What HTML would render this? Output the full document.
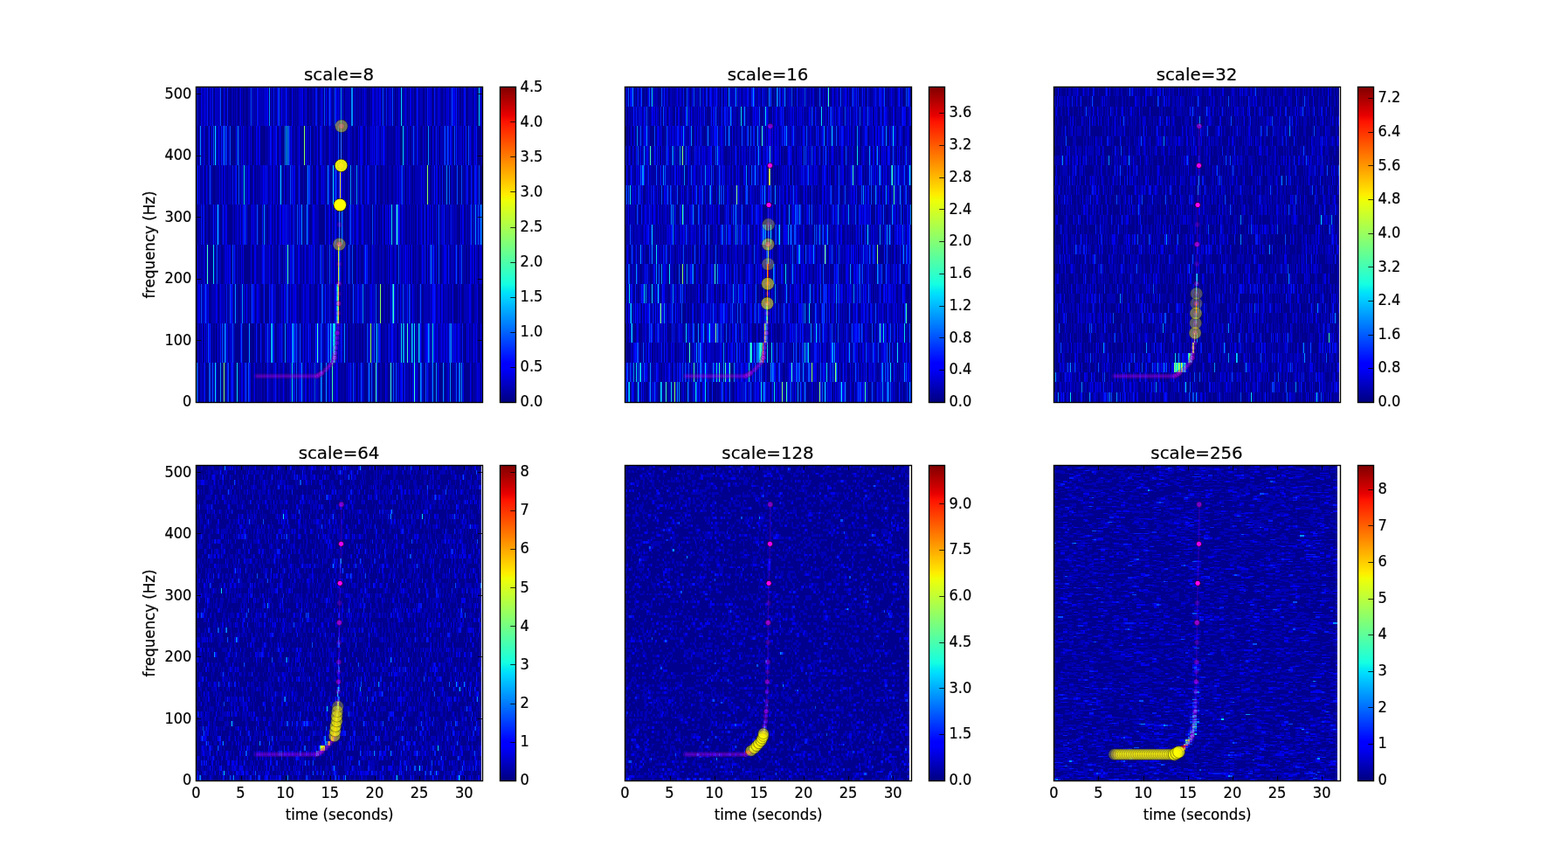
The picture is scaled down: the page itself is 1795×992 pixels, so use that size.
<!DOCTYPE html>
<html lang="en"><head><meta charset="utf-8"><title>scale spectrograms</title>
<style>html,body{margin:0;padding:0;background:#fff}body{width:1795px;height:992px;overflow:hidden}svg{display:block;position:absolute;left:0;top:0}text{font-family:"DejaVu Sans","Liberation Sans",sans-serif;font-size:16.67px;text-anchor:middle;fill:#000;stroke:#000;stroke-width:.2px}.e{text-anchor:end}.s{text-anchor:start}.t{font-size:20px}</style></head><body>
<svg width="1795" height="992" viewBox="0 0 1795 992">
<defs><linearGradient id="jet" x1="0" y1="1" x2="0" y2="0">
<stop offset="0" stop-color="#000080"/>
<stop offset=".11" stop-color="#00f"/>
<stop offset=".125" stop-color="#00f"/>
<stop offset=".34" stop-color="#00dbff"/>
<stop offset=".35" stop-color="#00e5f7"/>
<stop offset=".375" stop-color="#15ffe2"/>
<stop offset=".64" stop-color="#efff08"/>
<stop offset=".65" stop-color="#f7f600"/>
<stop offset=".66" stop-color="#ffec00"/>
<stop offset=".89" stop-color="#ff1300"/>
<stop offset=".91" stop-color="#e80000"/>
<stop offset="1" stop-color="#800000"/>
</linearGradient></defs>
<rect width="1795" height="992" fill="#fff"/>
<g id="p8">
<rect x="224.5" y="99.5" width="328" height="361" fill="#fff"/>
<clipPath id="c0"><rect x="224.5" y="99.5" width="328" height="361"/></clipPath>
<g clip-path="url(#c0)">
<g transform="translate(224 459.927) scale(1 -45.09091)" shape-rendering="crispEdges" fill="none">
<rect width="328" height="8" fill="#00008e"/>
<defs><path id="s0" d="M-2 .5H330V1.5H-2V2.5H330V3.5H-2V4.5H330V5.5H-2V6.5H330V7.5H-2"/></defs>
<use href="#s0" stroke="#0000b7" stroke-dashoffset="-2" stroke-dasharray="3 2 3 1 2 4 2 1 3 1 2 4 1 3 1 2 3 2 4 3 1 2 1 1 2 1 4 1 3 3 2 2 1 1 1 1 2 2 1 2 5 1 1 1 4 2 1 1 1 1 3 3 1 1 2 1 4 1 1 1 7 1 2 2 2 1 1 1 1 1 1 1 3 1 3 3 3 1 2 1 2 1 1 1 3 2 1 1 1 1 1 2 7 1 3 3 1 1 5 4 3 1 2 3 3 2 2 4 3 2 3 1 2 1 4 1 3 1 2 1 3 1 2 1 6 3 4 2 4 1 1 1 2 3 1 1 2 4 2 2 3 1 1 2 1 1 3 1 3 1 3 7 2 2 1 1 5 1 2 5 2 3 6 1 2 1 3 4 1 1 25 1 7 1 1 1 7 2 4 1 2 1 4 1 6 1 2 1 4 2 7 1 2 1 3 1 1 2 3 1 2 1 3 1 1 1 3 2 2 2 1 2 1 1 1 2 3 1 1 3 1 2 2 1 5 1 14 1 11 1 1 2 4 1 2 1 2 1 2 1 14 1 1 2 7 3 4 1 6 3 2 3 2 1 1 5 2 6 3 6 7 1 7 1 2 1 1 2 1 2 1 1 4 1 1 1 1 2 1 1 1 1 2 1 1 5 5 1 9 3 7 2 7 1 1 1 1 1 4 1 2 1 1 3 3 1 1 1 3 1 1 1 5 1 5 3 2 5 5 1 2 4 1 1 2 1 2 1 3 1 2 1 5 1 1 3 9 2 4 3 3 1 3 1 3 1 1 1 1 1 1 2 6 2 2 1 2 1 1 2 2 2 3 1 1 1 7 1 2 1 1 1 7 1 1 2 1 1 1 3 2 2 1 2 8 1 1 2 2 1 6 1 2 1 4 1 1 3 3 2 6 1 1 1 5 1 4 1 2 1 5 1 2 1 2 5 2 1 1 3 9 3 4 3 1 6 3 2 3 1 2 1 2 2 1 2 1 1 1 1 3 2 3 1 4 1 2 1 6 3 1 2 1 1 7 1 1 2 1 1 3 3 3 1 1 2 2 1 1 1 4 1 1 1 2 1 1 2 3 1 4 1 1 1 1 2 3 1 2 2 1 1 5 2 1 1 5 3 2 1 2 4 1 1 4 2 3 2 6 1 2 1 2 1 1 1 2 3 2 1 3 1 2 1 2 1 6 1 3 1 2 1 3 1 1 1 6 1 4 1 2 2 3 2 1 1 1 1 2 1 11 1 1 1 1 1 3 3 1 8 1 1 1 1 1 1 2 1 4 2 8 3 3 1 2 1 2 5 3 1 2 1 1 1 2 1 1 1 1 5 2 1 2 1 1 1 2 2 2 3 1 1 2 1 1 1 3 3 6 6 2 1 4 1 2 1 6 4 9 4 1 1 3 2 4 1 2 1 2 2 3 1 10 1 3 1 1 1 1 1 4 2 1 1 4 3 8 7 1 1 1 1 2 2 2 1 3 1 3 1 2 3 1 2 7 1 4 2 4 1 3 1 2 2 1 1 2 1 2 2 1 1 2 2 3 1 4 1 8 1 5 2 2 1 2 1 1 1 1 2 2 1 4 1 2 2 2 1 1 1 2 1 1 1 1 1 2 1 5 1 4 1 2 1 1 1 3 4 1 1 2 2 2 1 1 1 2 1 11 8 1 1 4 2 2 3 4 1 1 1 1 4 2 2 1 1 1 2 1 2 1 1 1 2 1 2 1 2 2 1 4 2 1 1 1 1 1 1 11 1 1 2 3 1 2 2 1 1 7 1 3 2 3 2 1 1 3 3 2 2 2 1 2 1 1 1 3 1 2 2 3 1 1 1 1 1 2 1 1 1 1 1 2 3 2 1 5 1 6 2 4 1 6 2 3 4 1 1 5 3 1 3 3 3 6 1 3 2 1 2 3 2 1 1 4 1 3 1 10 1 1 1 1 2 2 3 5 1 1 1 3 1 1 2 3 1 1 1 4 1 1 1 2 1 2 1 1 1 1 1 1 4 4 1 2 2 2 1 1 1 1 1 2 7 1 2 4 1 2 3 2 2 1 1 1 1 2 1 3 1 7 1 3 6 5 1 1 1 4 2 2 1 1 3 1 1 2 1 2 6 1 1 6 1 4 2 3 4 1 1 7 1 2 2 4 1 1 2 1 1 4 1 1 3 2 1 2 2 4 1 2 3 5 1 2 1 3 2 1 2 1 1 1 1 6 2 2 3 1 1 4 2 2 2 1 1 11 1 1 1 3 1 1 2 1 1 1 1 1 2 3 1 2 3 3 1 2 1 1 2 5 1 2 1 1 3 1 1 2 2 1 1 1 2 2 1 2 1 1 2 3 1 6 1 3 2 1 1 2 1 1 1 2 1 1 1 2 2 4 2 4 5 1 5 4 2 4 1 5 3 3 1 1 2 2 1 8 1 3 1 3 2 5 1 2 3 5 1 2 2 4 1 3 2 2 1 2 1 1 1 4 1 2 1 2 1 1 2 1 1 6 1 1 1 1 1 2 1 10 1 1 4 6 1 2 1 1 1 3 1 2 1 6 2 1 1 8 1 1 1 4 1 2 1 1 1 4 2 3 1 3 2 1 3 3 1 6 1 1 1 1 1 2 3 1 1 8 1 3 1 1 1 1 1 2 1 1 1 13 1 2 1 1 1 4 3 1 2 1 1 2 2 2 1 1 1 2 4 1 2 2 3 2 1 1 1 2 2 1 1 3 1 8 2 1 1 1 14"/>
<use href="#s0" stroke="#0000ed" stroke-dashoffset="-2" stroke-dasharray="3 6 2 4 2 2 1 2 2 4 1 3 1 3 2 2 3 4 1 4 2 2 2 2 3 4 1 14 1 6 1 1 1 3 1 4 1 7 1 1 1 1 1 2 1 3 3 3 2 3 1 1 1 1 1 1 1 1 1 4 2 4 1 2 2 2 1 1 1 1 3 12 1 1 1 2 1 1 1 3 1 2 2 6 2 2 1 4 2 9 1 5 1 2 1 2 1 2 1 1 3 2 1 8 4 1 1 3 2 4 1 1 1 4 2 3 1 1 1 5 1 5 1 1 1 6 1 2 2 1 1 1 1 7 1 7 1 1 1 2 1 6 1 4 1 2 1 5 1 1 1 4 1 3 2 2 2 1 1 1 3 2 1 2 1 2 1 4 1 2 3 1 1 1 5 5 3 4 1 1 2 2 1 1 1 3 2 1 1 5 1 3 3 1 1 9 3 1 2 1 1 1 1 1 1 1 1 1 1 22 1 2 1 2 2 2 1 1 1 1 6 1 3 5 2 2 4 5 1 1 2 1 1 2 1 3 1 3 1 1 5 1 1 1 1 2 1 3 1 1 1 6 4 1 1 1 1 1 1 5 1 4 1 7 1 8 2 8 1 1 1 3 1 1 2 2 1 1 1 2 1 8 3 1 1 1 1 2 1 6 1 8 2 1 1 3 3 1 1 8 2 3 1 6 1 3 3 3 1 7 1 1 1 2 1 5 3 3 2 6 1 5 1 1 3 1 1 7 1 2 2 1 2 2 1 2 1 1 2 8 1 3 1 1 1 10 1 3 2 2 1 2 1 1 1 5 5 8 1 7 1 2 1 1 2 2 1 1 1 8 2 2 1 1 1 4 1 11 1 1 3 3 1 2 1 2 1 4 1 1 2 2 1 8 1 10 1 1 5 3 1 2 2 11 1 8 1 9 2 7 1 10 1 1 1 4 1 2 1 1 2 9 1 1 1 3 2 7 1 2 3 5 1 2 1 2 2 1 2 2 1 2 1 1 2 11 1 2 1 1 1 1 2 1 1 2 1 1 1 3 1 4 1 2 1 17 1 5 4 8 1 4 1 3 1 3 1 5 3 4 1 2 1 1 1 7 1 1 2 6 1 1 2 1 1 4 1 6 2 4 2 1 2 2 1 1 1 7 1 6 1 3 1 5 3 7 2 3 1 8 1 1 1 7 1 1 1 2 2 1 1 1 1 9 1 3 1 6 1 3 1 6 1 1 1 11 1 1 2 10 1 1 1 1 3 4 1 2 2 12 1 2 1 2 3 1 1 5 1 1 1 3 1 5 1 1 1 6 2 5 1 3 2 1 3 1 1 1 1 2 1 3 1 3 1 1 1 1 2 5 2 5 2 12 1 3 2 2 1 2 2 3 1 2 2 7 2 2 1 3 2 4 2 10 1 2 1 8 1 2 1 1 1 1 2 1 1 4 5 2 1 16 1 4 1 3 1 2 2 1 1 2 1 3 1 2 1 3 1 1 1 7 1 1 1 8 1 1 2 7 2 4 1 2 1 1 3 8 1 2 3 3 1 3 2 5 1 4 1 5 1 2 1 2 1 4 1 2 1 2 2 1 1 7 1 3 1 2 1 13 1 5 1 1 2 1 1 2 1 23 2 6 3 1 1 4 1 2 1 1 1 6 1 9 4 2 3 1 1 4 2 4 1 1 1 4 2 4 1 2 3 9 1 4 2 1 1 1 1 6 1 3 2 2 1 3 1 2 1 3 1 1 1 1 2 10 1 4 2 2 1 1 1 1 1 3 1 2 2 2 1 8 1 2 1 2 1 10 1 3 1 3 1 3 1 1 1 8 1 3 1 3 1 5 1 2 1 1 1 1 2 2 1 2 1 1 2 1 2 3 1 6 1 1 1 3 1 1 1 6 1 1 1 5 2 1 2 11 2 2 1 1 2 3 1 5 1 1 1 1 2 1 1 8 1 5 1 1 1 4 1 7 1 2 2 9 1 9 1 2 1 8 1 10 1 1 3 4 1 4 1 1 1 1 1 2 1 1 1 2 1 1 3 13 1 1 1 4 1 4 1 6 1 3 2 5 1 5 1 4 1 3 1 1 1 6 2 2 2 1 2 3 1 1 1 2 1 1 1 2 1 2 1 2 1 1 1 4 1 1 1 5 1 6 1 1 1 4 1 10 2 8 1 1 4 3 1 1 1 8 1 4 1 3 1 1 1 1 1 10 2 6 2 4 1 4 1 2 1 6 1 2 1 3 1 3 1 2 2 2 1 3 2 8 1 13 2 9 1 1 1 2 1 1 3 4 3 2 1 1 1 2 1 5 2 10 1 3 2 1 1 8 1 5 2 4 1 2 3 3 1 4 1 1 2 1 1 7 2 4 1 1 1 11 1 14 1 3 1 3 2 1 1 1 1 3 1 1 1 3 1 2 1 3 1 4 1 14"/>
<use href="#s0" stroke="#0017ff" stroke-dashoffset="-2" stroke-dasharray="3 7 1 4 2 2 1 2 1 5 1 3 1 3 2 3 2 4 1 9 1 2 2 20 1 8 1 16 1 1 1 1 1 2 1 3 1 1 1 14 1 6 2 4 1 3 1 2 1 20 1 2 1 8 1 8 1 2 1 4 2 15 1 2 1 2 1 6 1 2 1 10 1 6 2 4 1 1 1 4 2 3 1 7 1 7 1 6 1 2 2 1 1 50 1 10 1 1 3 18 1 3 3 7 3 4 1 1 2 4 1 3 2 1 1 9 1 3 1 11 1 1 1 2 1 1 1 1 1 3 1 25 1 3 1 4 1 1 3 1 2 1 2 6 2 2 2 1 1 7 1 9 1 3 1 1 1 1 2 7 1 3 1 8 1 1 2 3 1 7 1 4 1 7 1 8 1 9 1 7 2 2 1 1 1 11 1 1 1 25 1 4 1 23 1 3 1 1 1 3 1 7 1 10 1 1 1 11 1 5 1 2 2 15 2 38 2 2 1 4 1 7 3 16 1 4 1 5 1 14 1 4 1 13 3 3 1 5 1 4 1 1 2 11 1 14 2 82 1 5 1 8 1 10 1 5 2 1 1 6 1 29 1 35 1 1 1 14 1 3 1 10 2 9 1 7 1 1 1 7 1 23 1 5 1 1 1 7 1 16 2 32 1 1 1 17 1 3 1 6 1 12 1 11 1 2 1 10 1 4 1 5 1 22 1 1 1 13 1 5 1 1 1 24 1 8 1 3 1 1 1 2 1 5 2 19 1 10 1 4 1 2 1 8 2 24 1 21 1 4 4 29 1 15 1 5 1 7 1 22 1 4 1 2 1 2 2 8 1 3 2 3 1 4 1 5 1 4 1 8 1 2 1 4 1 8 1 7 1 28 2 28 2 7 1 7 1 4 1 6 1 10 3 3 1 2 1 5 1 20 1 1 1 9 1 7 1 1 1 10 1 16 1 24 1 5 1 2 1 3 1 25 1 13 1 12 1 9 1 4 1 1 1 6 1 2 1 1 2 3 1 8 1 36 1 6 1 9 1 1 1 1 1 17 1 6 1 11 1 19 1 2 1 40 1 6 1 22 1 11 1 3 1 12 1 8 1 8 2 2 2 1 1 4 1 1 1 10 1 2 1 8 1 14 1 15 1 9 1 4 1 19 1 7 1 11 1 17 1 9 1 6 1 3 1 34 2 11 1 6 1 5 1 5 1 8 2 33 1 7 2 4 1 4 1 13 1 6 1 26 1 7 1 8 1 5 1 11 1 14"/>
<use href="#s0" stroke="#004dff" stroke-dashoffset="-2" stroke-dasharray="2 13 2 2 1 2 1 5 1 3 1 4 1 9 1 9 1 2 1 49 1 4 1 5 1 14 1 6 2 4 1 6 1 23 1 8 1 8 1 2 1 4 1 16 1 2 1 2 1 20 1 6 2 4 1 7 1 3 1 7 1 7 1 6 1 2 2 1 1 63 3 18 1 3 2 9 2 4 1 1 2 4 1 3 2 1 1 25 1 1 1 2 1 3 1 3 1 25 1 10 3 1 2 1 2 7 1 3 1 19 1 3 1 1 1 1 2 7 1 14 2 3 1 20 1 8 1 9 1 7 2 2 1 15 1 25 1 4 1 27 1 5 1 7 1 10 1 39 1 39 2 15 3 16 1 10 1 14 1 4 1 13 2 10 1 6 1 12 1 98 1 5 1 19 1 8 1 36 1 37 1 14 1 3 1 10 2 9 1 9 1 31 1 5 1 62 1 17 1 3 1 6 1 43 1 30 1 13 1 7 1 37 1 4 1 5 1 36 1 2 1 9 1 24 1 21 1 4 3 46 1 36 1 4 1 2 1 2 2 8 1 19 1 4 1 8 1 2 1 21 1 28 1 51 1 6 1 11 1 4 1 2 1 5 1 20 1 1 1 19 1 10 1 41 1 5 1 32 1 26 1 14 1 1 1 9 1 1 1 4 1 8 1 53 1 1 1 1 1 17 1 38 1 2 1 70 1 11 1 16 1 18 1 2 1 7 1 15 1 23 1 30 1 57 1 9 1 10 1 34 2 11 1 6 1 5 1 5 1 51 1 10 1 20 1 34 1 41"/>
<use href="#s0" stroke="#008fff" stroke-dashoffset="-2" stroke-dasharray="2 20 1 5 1 3 1 14 1 62 1 10 1 21 1 5 1 6 1 41 1 7 1 16 1 26 1 6 1 13 1 3 1 7 1 7 1 10 1 1 1 63 1 20 1 4 1 10 1 4 1 2 1 4 1 3 2 1 1 27 1 6 1 29 1 10 3 2 1 14 1 27 1 8 1 14 2 24 1 27 1 83 1 7 1 107 3 27 1 19 1 13 2 164 1 104 2 57 1 84 1 6 1 43 1 52 1 42 1 5 1 36 1 2 1 56 1 5 1 89 1 5 1 46 1 21 1 80 1 6 1 11 1 7 1 5 1 22 1 30 1 41 1 65 1 16 1 9 1 15 1 53 1 1 1 1 1 17 1 41 1 70 1 28 1 69 1 88 1 55 2 11 1 81 1 97"/>
<use href="#s0" stroke="#05dbf6" stroke-dashoffset="-24" stroke-dasharray="1 9 1 14 1 62 1 45 1 49 1 16 1 26 1 138 1 15 1 4 1 2 1 4 1 6 1 27 1 6 1 40 3 2 1 14 1 27 1 23 1 254 2 47 1 14 1 270 1 57 1 84 1 6 1 43 1 198 1 5 1 164 1 99 1 7 1 59 1 41 1 82 1 81 1 19 1 112 1 98 1 88 1 270"/>
<use href="#s0" stroke="#3effb9" stroke-dashoffset="-34" stroke-dasharray="1 123 1 49 1 16 1 26 1 167 1 41 1 60 1 306 2 47 1 14 1 270 1 57 1 91 1 248 1 164 1 99 1 294 1 581"/>
<use href="#s0" stroke="#8cff6b" stroke-dashoffset="-34" stroke-dasharray="1 427 1 368 1 47 1 285 1 563 1 99 1 294 1 581"/>
<use href="#s0" stroke="#e0f719" stroke-dashoffset="-831" stroke-dasharray="1 333 1 663 1 1673"/>
</g>
<path d="M293.4 430.3L296 430.3L298.5 430.3L301.1 430.3L303.6 430.3L306.2 430.3L308.8 430.3L311.3 430.3L313.9 430.3L316.4 430.3L319 430.3L321.5 430.3L324.1 430.3L326.7 430.3L329.2 430.3L331.8 430.3L334.3 430.3L336.9 430.3L339.4 430.3L342 430.3L344.6 430.3L347.1 430.3L349.7 430.3L352.2 430.3L354.8 430.3L357.4 430.3L359.9 430.3L362.5 430.3L365 428.9L367.6 427.5L368.9 426.1L372.7 423.3L375.3 420.5L377.8 417.7L380.4 414.8L381.6 412L382.9 409.2L382.9 409.2L382.9 406.4L383.6 403.6L384.2 397.9L385.5 392.3L385.5 386.7L386.1 381L386.1 381L386.8 375.4L386.8 369.7L387.1 358.5L387.4 347.2L387.4 347.2L387.7 335.9L387.9 324.7L388.2 302.1L388.4 279.6L388.4 279.6L388.7 257L389.2 234.5L390.5 189.4L390.8 144.3" fill="none" stroke="#f0f" stroke-opacity=".16" stroke-width="1.2"/>
<g fill="#f0f" stroke="#000" stroke-width=".7">
<circle cx="293.4" cy="430.3" r="3.1" fill-opacity=".12" stroke-opacity=".12"/>
<circle cx="296" cy="430.3" r="3.1" fill-opacity=".12" stroke-opacity=".12"/>
<circle cx="298.5" cy="430.3" r="3.1" fill-opacity=".12" stroke-opacity=".12"/>
<circle cx="301.1" cy="430.3" r="3.1" fill-opacity=".12" stroke-opacity=".12"/>
<circle cx="303.6" cy="430.3" r="3.1" fill-opacity=".12" stroke-opacity=".12"/>
<circle cx="306.2" cy="430.3" r="3.1" fill-opacity=".12" stroke-opacity=".12"/>
<circle cx="308.8" cy="430.3" r="3.1" fill-opacity=".12" stroke-opacity=".12"/>
<circle cx="311.3" cy="430.3" r="3.1" fill-opacity=".12" stroke-opacity=".12"/>
<circle cx="313.9" cy="430.3" r="3.1" fill-opacity=".12" stroke-opacity=".12"/>
<circle cx="316.4" cy="430.3" r="3.1" fill-opacity=".12" stroke-opacity=".12"/>
<circle cx="319" cy="430.3" r="3.1" fill-opacity=".12" stroke-opacity=".12"/>
<circle cx="321.5" cy="430.3" r="3.1" fill-opacity=".12" stroke-opacity=".12"/>
<circle cx="324.1" cy="430.3" r="3.1" fill-opacity=".12" stroke-opacity=".12"/>
<circle cx="326.7" cy="430.3" r="3.1" fill-opacity=".12" stroke-opacity=".12"/>
<circle cx="329.2" cy="430.3" r="3.1" fill-opacity=".12" stroke-opacity=".12"/>
<circle cx="331.8" cy="430.3" r="3.1" fill-opacity=".12" stroke-opacity=".12"/>
<circle cx="334.3" cy="430.3" r="3.1" fill-opacity=".12" stroke-opacity=".12"/>
<circle cx="336.9" cy="430.3" r="3.1" fill-opacity=".12" stroke-opacity=".12"/>
<circle cx="339.4" cy="430.3" r="3.1" fill-opacity=".12" stroke-opacity=".12"/>
<circle cx="342" cy="430.3" r="3.1" fill-opacity=".12" stroke-opacity=".12"/>
<circle cx="344.6" cy="430.3" r="3.1" fill-opacity=".12" stroke-opacity=".12"/>
<circle cx="347.1" cy="430.3" r="3.1" fill-opacity=".12" stroke-opacity=".12"/>
<circle cx="349.7" cy="430.3" r="3.1" fill-opacity=".12" stroke-opacity=".12"/>
<circle cx="352.2" cy="430.3" r="3.1" fill-opacity=".12" stroke-opacity=".12"/>
<circle cx="354.8" cy="430.3" r="3.1" fill-opacity=".12" stroke-opacity=".12"/>
<circle cx="357.4" cy="430.3" r="3.1" fill-opacity=".12" stroke-opacity=".12"/>
<circle cx="359.9" cy="430.3" r="3.1" fill-opacity=".12" stroke-opacity=".12"/>
<circle cx="362.5" cy="430.3" r="3.1" fill-opacity=".27" stroke-opacity=".27"/>
<circle cx="365" cy="428.9" r="3.1" fill-opacity=".27" stroke-opacity=".27"/>
<circle cx="367.6" cy="427.5" r="3.1" fill-opacity=".27" stroke-opacity=".27"/>
<circle cx="368.9" cy="426.1" r="2.9" fill-opacity=".22" stroke-opacity=".22"/>
<circle cx="372.7" cy="423.3" r="2.9" fill-opacity=".24" stroke-opacity=".24"/>
<circle cx="375.3" cy="420.5" r="2.9" fill-opacity=".24" stroke-opacity=".24"/>
<circle cx="377.8" cy="417.7" r="2.9" fill-opacity=".24" stroke-opacity=".24"/>
<circle cx="380.4" cy="414.8" r="2.9" fill-opacity=".24" stroke-opacity=".24"/>
<circle cx="381.6" cy="412" r="2.9" fill-opacity=".24" stroke-opacity=".24"/>
<circle cx="382.9" cy="409.2" r="2.9" fill-opacity=".22" stroke-opacity=".22"/>
<circle cx="382.9" cy="406.4" r="2.9" fill-opacity=".2" stroke-opacity=".2"/>
<circle cx="382.9" cy="409.2" r="2.9" fill-opacity=".23" stroke-opacity=".23"/>
<circle cx="383.6" cy="403.6" r="2.9" fill-opacity=".27" stroke-opacity=".27"/>
<circle cx="384.2" cy="397.9" r="2.9" fill-opacity=".27" stroke-opacity=".27"/>
<circle cx="385.5" cy="392.3" r="2.9" fill-opacity=".25" stroke-opacity=".25"/>
<circle cx="385.5" cy="386.7" r="2.9" fill-opacity=".25" stroke-opacity=".25"/>
<circle cx="386.1" cy="381" r="2.9" fill-opacity=".2" stroke-opacity=".2"/>
<circle cx="386.8" cy="375.4" r="2.9" fill-opacity=".14" stroke-opacity=".14"/>
<circle cx="386.1" cy="381" r="2.9" fill-opacity=".25" stroke-opacity=".25"/>
<circle cx="386.8" cy="369.7" r="2.9" fill-opacity=".2" stroke-opacity=".2"/>
<circle cx="387.1" cy="358.5" r="2.9" fill-opacity=".23" stroke-opacity=".23"/>
<circle cx="387.4" cy="347.2" r="2.9" fill-opacity=".15" stroke-opacity=".15"/>
<circle cx="387.7" cy="335.9" r="2.9" fill-opacity=".17" stroke-opacity=".17"/>
<circle cx="387.4" cy="347.2" r="3" fill-opacity=".3" stroke-opacity=".3"/>
<circle cx="387.9" cy="324.7" r="3" fill-opacity=".3" stroke-opacity=".3"/>
<circle cx="388.2" cy="302.1" r="3" fill-opacity=".17" stroke-opacity=".17"/>
<circle cx="388.4" cy="279.6" r="3" fill-opacity=".25" stroke-opacity=".25"/>
<circle cx="388.7" cy="257" r="3" fill-opacity=".17" stroke-opacity=".17"/>
<circle cx="388.4" cy="279.6" r="3.1" fill-opacity=".4" stroke-opacity=".4"/>
<circle cx="389.2" cy="234.5" r="3.1" fill-opacity="1" stroke-opacity="1"/>
<circle cx="390.5" cy="189.4" r="3.1" fill-opacity=".9" stroke-opacity=".9"/>
<circle cx="390.8" cy="144.3" r="3.1" fill-opacity=".45" stroke-opacity=".45"/>
</g><g fill="#ff0" stroke="#000" stroke-width=".9">
<circle cx="388.4" cy="279.6" r="7.3" fill-opacity=".4" stroke-opacity=".28"/>
<circle cx="389.2" cy="234.5" r="7.3" fill-opacity="1" stroke-opacity=".7"/>
<circle cx="390.5" cy="189.4" r="7.3" fill-opacity=".9" stroke-opacity=".63"/>
<circle cx="390.8" cy="144.3" r="7.3" fill-opacity=".45" stroke-opacity=".32"/>
</g>
</g>
<path d="M224.5 389.5h5.6 M552.5 389.5h-5.6 M224.5 319.5h5.6 M552.5 319.5h-5.6 M224.5 248.5h5.6 M552.5 248.5h-5.6 M224.5 178.5h5.6 M552.5 178.5h-5.6 M224.5 107.5h5.6 M552.5 107.5h-5.6" stroke="#000" stroke-width=".8" fill="none"/>
<rect x="224.5" y="99.5" width="328" height="361" fill="none" stroke="#000" stroke-width="1.39"/>
<text transform="translate(388.04 92.2) scale(.99 1)" class="t">scale=8</text>
<text transform="translate(219.44 465) scale(.975 1.06)" class="e">0</text>
<text transform="translate(219.44 395) scale(.975 1.06)" class="e">100</text>
<text transform="translate(219.44 324) scale(.975 1.06)" class="e">200</text>
<text transform="translate(219.44 254) scale(.975 1.06)" class="e">300</text>
<text transform="translate(219.44 183) scale(.975 1.06)" class="e">400</text>
<text transform="translate(219.44 113) scale(.975 1.06)" class="e">500</text>
<text transform="translate(176.78 280.06) rotate(-90) scale(1 1.06)">frequency (Hz)</text>
<rect x="572.5" y="99.5" width="18" height="361" fill="url(#jet)"/>
<text transform="translate(595.54 465) scale(.975 1.06)" class="s">0.0</text>
<text transform="translate(595.54 425) scale(.975 1.06)" class="s">0.5</text>
<text transform="translate(595.54 385) scale(.975 1.06)" class="s">1.0</text>
<text transform="translate(595.54 345) scale(.975 1.06)" class="s">1.5</text>
<text transform="translate(595.54 305) scale(.975 1.06)" class="s">2.0</text>
<text transform="translate(595.54 265) scale(.975 1.06)" class="s">2.5</text>
<text transform="translate(595.54 225) scale(.975 1.06)" class="s">3.0</text>
<text transform="translate(595.54 185) scale(.975 1.06)" class="s">3.5</text>
<text transform="translate(595.54 145) scale(.975 1.06)" class="s">4.0</text>
<text transform="translate(595.54 105) scale(.975 1.06)" class="s">4.5</text>
<path d="M590.5 420.5h-6.2 M590.5 380.5h-6.2 M590.5 340.5h-6.2 M590.5 300.5h-6.2 M590.5 260.5h-6.2 M590.5 219.5h-6.2 M590.5 179.5h-6.2 M590.5 139.5h-6.2" stroke="#000" stroke-width=".8" fill="none"/>
<rect x="572.5" y="99.5" width="18" height="361" fill="none" stroke="#000" stroke-width="1.39"/>
</g>
<g id="p16">
<rect x="715.5" y="99.5" width="328" height="361" fill="#fff"/>
<clipPath id="c1"><rect x="715.5" y="99.5" width="328" height="361"/></clipPath>
<g clip-path="url(#c1)">
<g transform="translate(715 459.927) scale(1 -22.54545)" shape-rendering="crispEdges" fill="none">
<rect width="328" height="16" fill="#00008e"/>
<defs><path id="s1" d="M-2 .5H330V1.5H-2V2.5H330V3.5H-2V4.5H330V5.5H-2V6.5H330V7.5H-2V8.5H330V9.5H-2V10.5H330V11.5H-2V12.5H330V13.5H-2V14.5H330V15.5H-2"/></defs>
<use href="#s1" stroke="#0000b7" stroke-dashoffset="-2" stroke-dasharray="3 1 2 2 3 2 1 1 3 1 1 1 1 1 1 3 11 3 2 1 1 1 2 2 4 1 1 1 1 1 2 1 1 2 3 1 1 2 2 3 3 1 6 2 4 2 2 3 1 4 1 2 1 1 3 2 3 1 2 1 1 3 1 1 5 1 1 1 5 1 4 1 7 1 2 1 8 2 2 1 1 1 2 1 7 2 6 1 2 1 2 1 1 2 2 1 4 4 1 1 2 1 1 1 1 2 5 1 3 1 5 2 1 1 1 1 1 1 9 4 2 3 1 1 13 4 4 2 4 1 10 1 3 1 1 1 1 3 2 1 2 2 1 1 1 1 3 5 13 1 1 1 4 2 8 1 4 1 1 2 1 1 3 1 4 2 1 1 2 1 1 1 1 1 1 1 3 1 2 1 1 3 2 1 3 2 1 2 6 1 3 1 2 1 6 1 1 2 4 1 8 1 4 1 15 1 1 3 6 1 7 4 2 2 7 1 2 1 2 1 3 1 16 4 6 1 2 1 1 1 4 1 6 1 1 1 12 1 3 1 2 1 6 1 2 1 3 1 1 1 3 2 8 1 2 2 1 1 6 1 3 2 5 1 4 1 3 2 1 1 3 1 4 6 2 5 2 1 7 2 1 1 2 1 2 1 2 1 1 2 1 1 2 1 5 2 1 1 3 3 4 3 1 1 6 1 1 3 2 2 6 1 7 1 1 1 9 1 8 1 1 1 1 2 2 1 3 1 2 1 2 1 2 1 1 1 3 2 5 1 3 1 11 1 1 4 3 2 2 2 8 1 3 1 1 2 5 2 1 1 3 1 5 2 12 2 4 2 1 1 6 1 4 1 4 1 3 1 3 1 7 2 2 1 3 1 15 1 1 1 7 2 1 2 3 1 5 1 1 1 7 1 1 7 2 1 2 1 7 1 1 2 2 1 1 1 3 2 11 1 2 2 1 3 1 1 3 2 14 2 6 1 4 1 1 2 1 1 1 1 4 1 7 2 8 2 7 1 3 1 2 1 11 1 1 1 5 1 1 4 1 2 1 1 2 2 7 1 2 2 2 5 3 2 3 1 1 1 2 2 1 1 3 1 2 2 1 1 1 1 1 2 20 2 5 2 2 3 3 1 6 1 1 1 7 1 1 1 1 1 1 5 2 1 1 1 2 1 6 2 7 1 5 4 3 3 3 1 1 2 1 7 3 1 5 1 1 1 4 1 1 2 2 1 8 1 2 1 1 1 12 1 6 1 2 1 4 1 1 4 2 2 1 2 2 2 2 2 1 1 8 1 1 1 8 1 11 1 1 1 7 1 1 2 5 2 2 1 4 2 4 1 12 1 2 1 4 1 1 1 1 2 7 1 5 2 1 1 1 2 6 1 1 2 3 3 1 1 6 2 5 1 1 1 2 2 3 2 1 1 2 1 2 1 2 1 1 2 3 2 6 3 5 1 3 2 4 1 3 1 7 1 1 1 5 1 6 1 3 1 1 2 3 4 1 5 2 4 5 1 3 2 9 1 5 2 4 1 1 1 1 2 1 1 4 1 4 1 1 1 8 1 7 1 2 1 3 1 4 1 2 1 1 1 3 1 5 2 1 2 2 2 3 1 5 1 2 2 2 2 6 1 1 1 2 2 5 1 1 4 2 1 1 1 3 2 1 1 1 3 1 4 1 3 2 1 1 1 3 1 5 1 6 1 1 1 9 2 2 2 2 2 1 1 1 3 9 1 1 2 1 2 2 1 2 1 1 1 1 2 1 1 1 2 2 1 6 1 8 3 1 1 5 2 3 1 2 1 2 2 3 1 1 1 6 2 1 1 1 2 6 1 1 7 3 1 2 1 1 1 1 1 1 1 2 1 1 3 1 1 5 1 1 3 3 1 1 1 2 2 1 1 5 2 5 2 1 3 1 3 1 1 1 2 1 1 6 3 3 2 2 1 1 3 11 1 14 1 1 3 2 1 2 2 3 3 10 2 8 1 2 1 4 1 1 2 3 2 1 1 1 1 3 2 1 1 2 2 7 1 2 2 6 1 2 1 3 2 2 1 5 2 2 1 1 1 1 1 1 4 6 1 1 2 1 3 4 1 2 2 8 1 2 1 2 1 3 1 2 1 1 2 1 1 2 1 3 3 6 1 4 1 2 1 4 1 1 2 7 5 6 1 4 1 1 1 2 2 2 2 1 2 1 1 2 1 1 6 2 2 3 2 11 1 1 2 1 1 1 1 4 1 5 1 3 1 1 1 1 1 2 2 6 3 3 1 1 2 1 1 1 2 12 2 8 2 1 1 1 1 2 1 1 1 1 1 1 2 6 5 1 1 2 1 3 1 1 1 1 3 7 2 5 4 1 1 5 1 6 1 2 3 4 1 1 2 2 2 2 2 2 1 2 3 5 2 1 3 3 2 1 1 1 1 2 1 1 1 3 1 1 1 1 1 1 2 5 2 3 1 2 1 3 1 3 1 1 1 5 4 2 1 4 1 1 1 2 2 3 2 3 1 1 6 1 1 2 1 4 1 3 1 1 1 1 1 1 1 8 1 3 1 2 1 1 1 2 1 2 1 1 1 9 1 5 1 6 1 4 1 4 1 2 1 1 1 3 1 1 1 3 2 2 3 5 3 4 1 1 1 1 1 4 2 2 1 3 1 1 1 7 1 3 1 1 2 3 1 2 1 7 2 5 3 2 1 4 2 7 1 3 1 4 1 3 1 1 1 2 5 4 2 1 1 1 1 3 2 3 1 3 2 1 1 1 1 1 1 5 1 2 3 3 1 2 1 1 2 1 1 3 1 1 1 2 2 2 1 4 1 1 1 6 1 2 1 2 1 8 1 1 2 13 1 5 5 2 1 2 1 1 1 1 2 1 1 3 1 5 1 3 3 1 1 2 1 5 1 1 5 14 2 2 1 1 1 1 1 1 1 3 1 5 1 6 1 4 2 3 1 2 1 1 1 4 1 1 1 2 1 2 1 4 1 2 2 12 2 2 2 4 2 3 1 2 3 4 1 2 5 10 1 3 1 2 1 2 2 3 1 8 1 1 2 6 5 2 2 4 1 3 1 3 4 1 1 3 4 6 1 4 1 2 1 2 4 2 1 4 1 2 1 4 1 2 1 2 2 4 1 9 1 2 3 2 2 6 1 2 1 2 6 2 1 1 1 1 1 6 1 4 1 1 3 5 1 1 1 4 1 1 1 1 2 1 2 6 1 2 1 1 1 4 3 2 1 1 2 3 1 1 2 2 1 3 2 5 2 1 1 1 2 4 4 1 2 1 1 4 1 1 1 4 3 2 1 5 1 2 3 4 1 6 1 2 1 1 1 7 2 4 3 2 1 2 1 6 2 2 2 2 1 6 1 1 4 3 1 1 2 1 2 1 1 1 1 1 2 2 3 2 1 9 2 3 1 3 3 3 1 1 1 8 1 1 3 1 1 3 1 5 2 1 2 1 1 3 1 2 2 2 1 2 1 2 2 2 1 9 2 4 1 2 1 1 5 5 1 17 1 2 1 5 1 4 1 1 1 9 1 1 2 1 2 6 1 9 1 2 2 4 1 2 1 3 4 1 1 1 2 5 4 6 1 3 1 3 1 8 1 3 2 1 3 1 1 5 1 1 1 1 1 1 2 1 2 1 3 2 2 4 1 3 1 2 1 6 2 1 2 4 4 2 1 2 2 2 2 4 2 10 3 1 1 1 1 11 1 3 1 7 1 2 3 1 1 2 1 4 1 2 1 3 1 9 1 2 1 3 1 1 1 1 1 2 1 3 1 11 2 1 1 3 2 2 7 2 2 3 2 2 2 3 1 2 1 8 1 2 2 3 1 1 1 1 2 1 1 1 1 5 1 1 1 2 1 1 1 3 1 1 1 3 1 2 1 4 2 1 1 14 1 5 2 1 1 10 4 1 1 2 1 2 1 3 2 1 1 3 1 2 1 2 1 1 1 3 1 2 1 4 2 9 1 2 1 6 1 1 2 1 4 6 2 2 2 1 1 3 2 1 1 4 1 1 1 5 2 3 3 1 1 3 1 1 2 4 1 1 1 2 2 4 2 3 1 2 1 3 3 1 1 1 2 5 1 1 1 3 2 2 2 2 1 1 2 5 1 4 2 4 2 1 1 2 1 2 1 3 1 1 1 2 7 5 3 5 2 6 1 1 2 2 1 8 1 2 2 5 2 6 3 1 1 1 3 3 1 1 1 2 1 1 1 7 1 2 1 1 1 8 2 5 1 4 2 1 1 3 1 3 1 4 1 2 1 1 1 6 1 12 1 6 1 6 1 1 1 4 2 4 2 2 1 2 2 3 1 5 1 3 1 2 2 1 2 3 1 2 1 6 1 5 1 3 1 4 3 1 1 5 1 2 3 3 1 1 1 7 1 5 1 3 1 5 1 1 3 2 1 3 2 1 5 8 1 4 1 1 2 2 2 1 2 1 10 1 2 2 1 1 1 5 1 1 1 3 1 3 1 1 1 1 2 5 1 3 2 1 2 4 2 5 3 1 2 2 3 2 1 3 1 2 1 2 1 4 1 1 1 6 1 1 4 2 1 5 1 1 2 2 1 5 1 4 1 4 2 2 1 1 2 3 1 3 3 9 4 6 4 1 1 4 1 7 2 1 1 7 1 1 1 2 1 3 1 1 1 1 1 1 1 3 1 2 2 3 1 1 1 2 1 2 1 1 2 1 1 4 1 2 1 7 2 1 1 3 1 1 1 1 1 6 1 1 1 1 1 11 2 4 2 3 1 6 3 1 1 2 2 5 1 5 2 4 6 3 1 1 4 1 1 4 3 6 2 1 2 7 1 5 1 1 2 1 1 1 3 1 1 2 3 1 1 6 3 1 1 6 1 2 1 4 1 3 3 2 2 1 1 1 2 2 1 1 4 3 1 1 1 1 1 1 1 1 1 5 1 2 2 1 2 1 1 4 1 5 1 2 1 2 2 1 3 3 2 1 1 1 1 2 1 3 1 1 1 5 1 1 1 6 1 1 1 2 1 1 1 9 2 3 2 1 2 1 1 5 1 4 2 2 2 3 1 1 1 4 1 3 3 3 3 1 1 3 1 4 1 1 1 3 2 2 1 5 4 3 1 1 1 2 1 3 2 1 3 3 1 2 1 1 1 5 1 4 14"/>
<use href="#s1" stroke="#0000ed" stroke-dashoffset="-2" stroke-dasharray="3 1 2 2 3 4 2 2 1 1 1 6 2 2 1 1 2 5 2 4 1 5 1 3 1 1 2 1 1 4 1 4 2 5 1 1 3 1 1 3 4 2 1 4 1 9 3 2 2 3 1 5 1 2 2 1 1 1 1 1 1 1 2 2 1 1 1 4 1 1 3 1 2 1 4 3 1 3 1 1 1 1 2 2 1 2 1 4 2 2 2 1 1 2 1 2 1 2 2 3 2 6 1 8 2 1 1 2 2 1 1 1 1 1 1 4 1 1 1 1 1 1 6 5 1 4 1 2 6 1 1 1 1 1 1 5 1 5 1 1 1 1 1 1 1 4 3 1 1 1 1 1 1 5 1 8 1 2 2 5 1 1 2 1 3 11 1 3 1 2 2 1 1 2 3 6 1 1 1 1 1 1 1 3 1 1 1 2 1 3 1 1 2 5 1 4 1 2 1 3 1 2 3 2 1 1 2 3 1 1 3 2 1 4 4 1 1 1 3 4 2 3 5 1 1 1 5 10 2 3 6 5 1 4 1 1 1 1 1 1 2 1 2 3 1 1 3 2 3 3 1 1 1 1 1 4 6 1 1 2 1 1 4 1 3 4 1 1 4 2 4 1 1 3 1 2 1 2 1 2 2 2 1 1 3 1 1 3 1 4 2 3 1 7 3 6 1 3 4 1 1 1 2 1 1 1 1 2 1 1 1 1 1 2 3 16 6 5 1 2 1 2 2 1 1 11 1 2 1 2 1 4 1 2 1 10 1 1 1 4 1 5 1 1 1 1 6 2 1 2 1 1 1 11 2 2 1 1 1 2 2 1 3 1 1 2 2 1 2 1 1 2 1 3 1 1 3 1 3 1 10 2 1 4 1 1 1 3 1 2 1 1 1 1 1 11 1 2 1 3 1 2 2 1 1 1 3 6 3 1 1 2 1 2 1 1 1 5 6 1 1 1 1 5 1 3 1 1 2 4 3 1 1 5 2 2 2 1 1 4 3 3 1 3 1 1 3 1 1 2 1 2 1 5 1 5 2 2 1 3 1 7 1 5 1 2 1 1 1 2 1 2 2 3 3 2 2 1 1 1 4 4 1 2 1 5 1 1 1 2 2 2 7 1 1 5 1 9 1 2 1 3 1 1 1 4 1 1 3 2 1 2 2 1 1 3 1 8 2 1 2 1 1 1 1 1 1 1 1 1 2 4 1 1 1 13 1 4 5 7 1 6 1 3 1 1 1 1 1 1 2 2 1 1 3 1 2 2 1 3 1 3 1 1 1 2 5 1 8 3 4 2 1 4 3 3 1 2 1 5 1 1 1 5 1 1 1 6 1 1 1 2 1 1 1 1 2 1 1 3 4 3 1 8 2 5 2 1 1 11 1 2 1 1 2 2 1 1 1 1 2 1 1 2 1 2 2 1 3 3 1 2 1 1 1 2 4 1 1 1 1 4 1 1 2 2 1 1 1 4 1 11 2 8 2 1 2 2 1 1 1 1 1 2 2 1 1 4 6 1 2 3 1 1 1 5 1 2 1 1 1 5 1 3 2 2 2 1 1 1 3 4 4 2 1 2 1 2 1 3 1 5 2 3 2 7 1 2 4 1 1 1 1 4 1 6 2 5 4 2 1 2 1 2 1 1 1 2 1 2 1 11 1 4 1 2 2 4 1 1 2 1 1 1 1 2 2 4 1 2 1 4 1 5 1 6 1 2 1 5 1 2 3 17 3 8 1 2 1 1 3 1 2 1 2 3 1 10 1 1 1 2 2 1 1 1 1 1 1 2 1 3 1 3 2 1 1 5 3 1 2 1 1 1 2 1 1 2 2 1 5 2 1 2 2 3 1 3 2 7 2 2 1 1 2 1 1 3 2 3 2 11 1 3 1 2 1 1 1 3 1 8 2 3 1 1 1 2 1 1 2 2 5 1 1 1 1 1 1 3 1 1 1 2 1 4 1 4 1 3 1 1 1 3 2 5 1 2 2 14 1 2 1 1 2 4 1 2 1 1 1 7 3 3 3 1 1 3 1 2 1 3 1 1 4 6 1 3 2 1 1 2 1 11 2 3 1 3 2 7 1 1 1 1 1 6 2 1 1 2 1 2 1 1 3 4 1 10 1 3 1 1 1 2 1 3 4 3 1 4 2 7 1 2 2 2 1 2 1 1 2 1 1 2 2 2 1 2 1 3 2 1 1 3 1 6 1 1 3 1 1 4 1 2 1 1 2 2 1 2 3 5 3 2 1 3 2 3 1 6 2 2 1 2 1 3 1 1 2 3 1 10 1 2 2 2 1 6 1 5 1 1 3 8 3 2 1 3 2 1 2 1 2 1 2 4 1 1 1 9 2 1 1 1 1 4 2 1 1 5 1 1 2 2 2 5 1 1 1 1 1 7 2 1 3 2 2 2 1 5 1 8 1 2 1 7 1 2 3 2 2 2 1 1 1 1 1 1 1 1 1 2 1 1 1 1 2 1 1 2 2 1 1 5 1 1 1 2 1 4 1 1 2 3 3 4 1 1 1 3 3 1 3 3 1 2 1 2 5 4 1 1 1 6 1 5 1 7 1 1 2 1 3 1 1 1 1 5 1 3 1 4 1 6 1 8 1 10 1 2 1 8 1 7 1 5 1 1 1 2 1 4 1 3 1 8 1 3 1 1 1 8 1 3 2 1 2 5 1 1 1 4 1 2 1 7 1 1 1 4 1 3 2 4 1 14 1 8 1 1 1 4 1 2 3 2 2 17 1 1 1 1 3 2 1 5 1 2 2 1 2 4 1 1 1 1 1 4 1 3 1 2 2 2 1 8 1 4 3 1 1 1 1 1 4 3 1 1 1 1 1 1 1 1 3 2 1 2 2 5 1 3 2 2 6 2 2 1 1 4 2 2 2 4 4 1 1 1 3 2 3 1 1 5 2 11 1 1 1 1 1 1 1 2 2 2 3 2 1 1 1 5 2 2 2 16 1 2 1 2 1 3 1 2 1 3 1 1 1 7 1 5 1 1 1 2 2 4 1 1 2 1 3 1 1 1 1 2 4 6 2 1 2 3 1 2 1 3 1 2 1 1 2 9 1 2 1 1 2 2 1 5 1 1 1 1 1 1 2 1 1 1 3 3 1 1 1 1 1 3 1 1 1 3 1 5 1 1 2 1 2 5 1 5 1 1 2 8 1 2 1 1 2 6 2 1 4 1 2 3 1 4 2 4 1 2 1 4 1 2 1 1 1 6 2 2 4 3 2 10 2 5 2 1 1 1 1 3 1 1 1 7 2 5 1 1 1 1 1 3 1 4 1 2 2 5 3 1 1 6 2 1 2 5 1 1 1 1 1 5 1 8 1 3 2 2 1 1 1 3 2 3 1 3 2 9 1 2 1 7 2 1 1 1 1 2 1 2 1 2 2 1 1 1 1 6 1 2 1 1 2 3 1 4 1 2 2 1 2 2 2 6 1 4 1 1 1 4 1 4 1 2 3 2 2 1 2 2 1 4 3 5 1 2 1 1 1 2 1 3 2 8 2 1 1 7 3 3 1 10 1 1 2 1 2 2 2 1 1 4 1 4 1 3 1 3 2 3 1 1 2 2 2 7 1 2 1 5 1 11 2 2 1 4 2 7 2 6 1 6 1 2 2 1 1 5 1 1 1 1 1 2 2 2 1 4 2 2 1 3 1 2 2 1 2 3 1 1 1 1 1 4 2 4 2 10 3 4 2 4 3 2 1 2 2 5 1 2 1 2 3 1 1 1 1 2 1 1 1 1 1 8 4 6 3 8 2 1 1 1 1 3 1 5 1 1 1 2 3 1 1 6 1 1 1 2 1 1 1 1 3 1 1 1 1 1 1 9 1 3 1 2 1 2 1 1 1 13 2 3 3 2 1 3 1 1 3 2 1 2 1 2 1 1 2 5 1 1 1 4 1 2 1 5 1 1 1 2 2 6 1 1 1 1 2 1 1 1 1 4 1 6 2 2 1 2 1 4 1 4 1 2 1 1 2 10 1 1 1 2 1 4 1 8 1 4 5 2 1 1 1 4 2 4 1 8 1 3 1 3 1 3 1 1 1 2 1 3 1 2 2 2 1 4 2 1 1 1 1 2 1 5 3 3 2 1 1 5 1 2 1 3 1 1 2 6 1 1 1 2 1 3 1 1 1 3 1 1 3 4 1 1 3 2 1 14 2 3 1 3 1 1 1 5 1 5 1 2 2 1 1 3 1 2 2 1 2 1 1 3 2 1 1 2 1 8 4 7 1 1 1 1 1 2 1 1 1 2 1 1 1 1 1 2 2 4 1 3 1 1 2 2 1 3 2 9 2 3 1 6 1 5 1 6 1 6 2 2 2 2 2 1 1 2 1 1 1 1 1 2 3 3 1 4 1 1 1 6 2 1 1 2 1 8 1 6 1 1 1 4 1 1 2 1 1 1 1 3 1 2 3 2 2 1 2 2 1 6 3 6 1 1 1 3 1 3 1 1 2 1 1 2 3 1 1 3 1 3 2 4 1 3 3 4 1 1 1 6 1 3 1 2 2 10 3 5 4 1 1 4 1 2 1 2 1 2 3 1 1 3 2 2 1 1 1 3 2 2 1 2 2 5 1 10 1 2 2 3 1 3 2 3 5 1 1 4 1 7 1 3 1 2 1 3 1 1 1 5 2 1 2 1 3 1 1 1 1 1 1 1 1 2 2 6 1 1 3 2 1 8 4 3 1 3 1 2 1 3 1 13 1 8 1 2 1 1 1 1 1 1 1 2 2 1 1 5 2 1 1 1 1 4 1 2 1 2 1 3 1 6 1 2 2 6 3 1 1 2 1 7 1 1 1 4 1 7 1 1 2 1 1 6 1 2 2 1 1 1 1 1 2 10 1 2 2 9 1 1 2 1 1 1 1 6 3 5 1 3 2 3 2 1 1 8 1 2 1 4 1 1 1 1 1 1 1 6 2 1 2 2 1 6 1 4 1 2 1 1 2 1 1 2 1 3 2 5 1 1 1 1 1 1 1 3 1 2 1 3 1 3 2 3 1 1 1 2 1 2 1 1 1 4 1 3 3 7 2 8 5 4 2 6 3 1 1 4 1 2 2 7 1 7 2 2 3 3 1 1 1 6 1 3 1 1 1 4 1 1 1 1 1 1 2 3 1 2 2 4 1 3 1 4 1 4 2 4 1 3 1 6 1 3 1 3 1 1 1 1 1 6 1 5 1 1 1 5 1 1 1 2 2 1 2 6 3 4 1 1 1 4 1 4 4 3 2 3 1 3 1 2 1 1 2 5 2 2 1 1 1 2 1 5 2 1 1 2 3 2 2 2 1 3 1 6 1 1 1 3 1 1 1 3 1 3 1 2 1 11 1 2 1 2 1 8 1 1 2 1 2 7 2 2 1 5 4 1 1 2 1 14"/>
<use href="#s1" stroke="#0017ff" stroke-dashoffset="-2" stroke-dasharray="3 1 2 2 1 6 2 2 1 8 2 4 1 6 2 4 1 5 1 3 1 2 1 1 1 9 2 5 1 1 2 2 1 6 1 2 1 4 1 9 3 7 1 13 1 1 1 1 1 3 1 1 1 4 1 6 1 2 3 7 1 1 1 8 1 4 2 2 2 7 1 2 1 4 1 16 1 2 1 2 2 1 1 3 1 8 1 1 2 3 1 14 1 1 2 2 1 1 1 1 1 5 1 5 1 3 1 1 1 4 3 1 1 9 1 8 1 2 2 10 1 1 1 11 1 3 1 2 2 1 1 2 2 7 1 9 1 8 1 2 1 13 1 7 2 2 1 1 2 3 1 3 1 2 1 9 1 2 2 5 1 3 2 1 2 4 2 12 2 4 5 10 1 1 1 3 2 2 1 3 1 1 1 6 1 3 1 3 1 4 2 3 1 1 1 4 1 2 1 3 1 6 3 4 2 2 1 3 1 5 1 3 1 2 1 1 1 1 1 1 1 3 1 4 1 14 1 6 1 6 1 3 2 1 1 1 1 2 1 3 1 2 2 19 1 1 2 5 1 5 1 14 1 2 1 21 1 6 1 5 1 1 1 1 1 1 2 25 1 9 1 4 1 2 1 5 1 3 1 1 3 2 2 1 10 2 1 4 1 1 1 3 1 6 1 11 1 2 1 3 1 2 2 1 1 1 3 6 3 4 1 12 2 1 1 15 2 4 1 13 1 7 2 4 1 6 2 1 1 2 1 2 1 5 1 9 1 3 1 7 1 5 1 7 1 3 1 3 1 5 1 1 1 3 2 7 1 10 2 2 1 2 2 3 1 5 1 9 1 6 1 1 1 7 1 3 1 3 1 5 1 9 1 1 1 4 1 3 1 7 1 20 5 18 1 3 1 1 1 6 1 6 1 3 1 5 1 3 1 1 1 6 2 5 3 3 1 4 2 4 1 2 1 7 1 5 1 1 1 8 1 6 1 6 2 1 1 19 2 18 2 4 1 4 1 10 1 3 1 2 1 4 2 3 1 8 1 3 1 6 1 12 1 11 1 7 1 2 1 8 1 2 2 6 1 1 1 5 1 2 1 11 1 4 1 3 1 6 4 8 1 3 1 5 1 5 1 10 1 2 1 1 1 1 1 4 1 6 2 6 3 2 1 2 1 7 1 2 1 11 1 7 1 8 1 3 1 3 1 4 1 13 1 19 2 19 1 15 1 4 1 4 1 12 1 5 1 3 1 2 1 3 1 16 1 2 1 2 1 8 1 1 1 3 1 7 1 3 2 8 1 16 1 12 1 6 1 1 1 3 1 8 1 11 2 6 1 3 1 1 1 5 1 23 1 27 1 1 1 8 1 11 1 4 1 6 1 6 1 1 1 2 1 6 1 4 1 1 1 14 2 7 2 9 1 1 1 7 1 1 1 2 1 2 1 8 1 10 1 3 1 4 1 3 1 1 2 17 1 2 1 3 1 2 1 8 1 9 1 2 1 13 2 6 1 12 2 5 2 7 1 4 1 7 1 31 1 2 1 12 1 1 1 1 1 13 1 7 1 1 2 2 1 6 1 9 2 1 1 1 1 4 1 8 1 6 1 9 1 8 1 2 2 2 1 3 1 14 1 2 1 7 1 2 1 1 1 3 1 2 1 3 1 13 1 13 1 7 1 6 2 12 1 4 1 3 1 6 2 1 1 4 1 27 3 13 1 11 1 31 1 7 1 10 1 4 1 12 1 14 1 4 1 2 1 7 1 4 1 2 1 9 1 4 1 4 1 19 1 20 1 3 1 21 1 1 1 14 1 14 1 6 1 3 1 14 2 3 1 2 2 6 1 1 1 3 1 7 2 15 4 2 1 2 1 4 2 2 2 9 1 2 1 3 3 20 1 1 1 1 1 1 1 2 2 3 2 10 1 24 1 2 1 3 1 2 1 13 1 5 1 1 1 2 2 7 1 5 1 7 1 6 2 1 1 7 1 8 2 9 1 2 1 5 1 5 1 5 1 6 1 3 1 7 1 11 1 4 2 11 1 11 1 2 1 9 2 1 1 1 2 6 1 10 1 12 1 12 2 3 1 11 1 6 1 2 1 5 1 1 1 27 1 2 2 5 1 10 2 2 1 5 1 1 1 1 1 24 1 8 1 4 1 21 1 1 1 1 1 9 1 1 1 11 1 2 1 8 1 5 2 2 2 6 1 11 1 9 1 5 2 7 2 9 1 1 1 2 1 14 1 1 1 7 3 14 1 1 1 2 1 4 1 1 1 4 1 4 1 15 1 20 1 20 2 8 1 6 1 12 1 5 1 1 1 1 1 3 1 2 1 4 2 10 1 8 1 6 1 5 2 10 3 4 1 6 1 3 1 2 2 12 2 8 1 1 1 8 1 9 1 1 1 13 1 16 1 17 2 4 1 11 1 3 1 21 2 3 1 4 1 3 1 2 1 3 1 5 1 26 1 3 1 6 1 1 1 6 1 4 1 10 1 7 1 10 1 10 1 1 1 2 1 4 1 8 1 4 3 1 1 10 1 13 1 11 1 1 1 6 1 6 1 4 1 2 1 10 1 5 2 1 1 5 1 2 1 3 1 9 1 4 1 13 1 4 1 1 1 20 1 15 1 5 1 2 2 9 1 1 2 21 1 16 1 1 1 6 1 8 1 3 1 2 1 22 1 12 1 13 1 7 2 12 1 4 1 14 1 22 1 7 1 7 1 3 1 17 1 1 1 8 1 16 2 5 1 4 1 4 1 3 1 6 1 1 1 10 1 2 1 11 1 7 1 1 1 2 1 22 1 4 1 3 2 2 1 2 2 5 1 13 2 3 1 8 1 1 1 1 1 6 1 7 1 10 1 8 1 5 2 11 1 13 1 8 1 6 1 3 1 29 1 2 1 3 1 5 1 1 1 15 1 2 1 13 1 11 2 1 1 17 1 7 1 2 1 1 1 6 1 2 2 1 1 3 2 10 1 3 1 16 1 6 1 17 1 1 1 32 1 3 1 6 1 7 1 1 2 1 1 6 1 6 1 5 1 6 1 3 1 8 1 14 1 3 1 20 1 8 1 6 1 1 1 1 1 7 1 16 1 3 1 1 1 3 1 8 1 5 1 4 1 1 1 3 1 13 1 13 2 8 1 16 1 8 1 5 1 7 1 5 1 1 2 6 1 1 1 6 1 9 4 3 1 11 1 1 1 7 1 7 1 5 1 6 1 3 2 6 1 6 1 7 1 3 1 21 1 2 1 10 1 2 1 8 1 3 1 5 3 2 1 17"/>
<use href="#s1" stroke="#004dff" stroke-dashoffset="-2" stroke-dasharray="1 3 2 9 1 13 1 4 1 6 2 4 1 5 1 3 1 2 1 1 1 9 1 8 2 9 1 19 1 7 1 17 1 5 1 11 1 2 2 10 1 8 1 4 1 4 1 7 1 2 1 4 1 16 1 2 1 2 1 17 2 3 1 14 1 1 1 5 1 7 1 11 1 4 3 1 1 21 1 11 1 1 1 15 1 2 1 2 1 2 2 29 1 21 2 2 1 6 1 6 1 9 1 2 2 5 1 3 2 1 2 4 1 13 1 6 2 1 1 10 1 1 1 4 1 6 1 16 1 4 2 3 1 1 1 4 1 2 1 3 1 8 1 4 2 2 1 3 1 5 1 3 1 2 1 36 1 6 1 3 2 1 1 1 1 2 1 3 1 2 1 22 2 5 1 52 1 7 1 1 1 1 2 25 1 14 1 14 3 2 1 2 8 1 1 2 1 4 1 5 1 6 1 11 1 2 1 7 1 1 1 1 3 26 2 1 1 16 1 4 1 13 1 7 1 5 1 9 1 2 1 8 1 21 1 5 1 15 1 7 1 3 1 8 1 11 1 2 1 7 1 15 1 6 1 9 1 3 1 3 1 5 1 16 1 32 4 25 1 6 1 10 1 5 1 3 1 1 1 6 2 5 1 5 1 4 2 7 1 31 1 7 1 1 1 19 2 18 2 20 1 11 2 3 1 8 1 10 1 35 1 11 1 9 1 5 1 2 1 16 1 3 1 8 2 18 1 21 1 1 1 4 1 6 1 7 1 1 1 13 1 14 1 29 1 33 2 58 1 9 1 6 1 16 1 2 1 11 1 1 1 3 1 11 1 26 1 12 1 8 1 12 1 12 1 6 1 5 1 29 1 27 1 1 1 8 1 16 1 6 1 6 1 1 1 16 1 14 2 7 1 22 1 2 1 2 1 8 1 10 1 3 1 4 1 5 2 24 1 2 1 8 1 47 2 5 2 12 1 7 1 34 1 16 1 13 1 9 2 2 1 16 2 3 1 4 1 15 1 9 1 8 1 3 1 2 1 18 1 10 1 4 1 3 1 6 1 27 1 7 1 6 2 12 1 8 1 6 2 6 1 27 3 13 1 43 1 23 1 12 1 19 1 10 1 4 1 12 1 9 1 19 1 24 1 23 1 14 1 21 1 3 1 14 2 3 1 10 1 1 1 3 1 7 1 16 4 2 1 2 1 5 1 2 2 9 1 2 1 3 2 21 1 1 1 3 1 3 1 4 1 45 1 13 1 7 1 2 1 14 1 7 1 6 1 10 1 9 1 9 1 31 1 7 1 11 1 29 1 2 1 10 1 1 1 1 2 6 1 53 1 6 1 2 1 39 1 5 1 10 2 10 1 1 1 38 1 21 1 1 1 1 1 9 1 25 1 6 1 2 1 7 1 21 1 6 1 7 2 9 1 1 1 2 1 14 1 10 2 16 1 2 1 6 1 4 1 20 1 42 1 8 1 6 1 18 1 1 1 8 1 4 1 11 1 8 1 6 1 6 1 10 2 5 1 6 1 3 1 2 2 12 2 8 1 1 1 18 1 15 1 34 1 43 2 15 1 3 1 5 1 30 1 8 1 6 1 15 1 7 1 21 1 1 1 7 1 14 2 1 1 38 1 6 1 6 1 18 1 5 2 7 1 2 1 3 1 33 1 1 1 46 1 12 1 38 1 1 1 6 1 15 1 22 1 12 1 13 1 8 1 17 1 14 1 30 1 7 1 3 1 28 1 23 1 4 1 8 1 19 1 14 1 7 1 1 1 25 1 4 1 7 1 2 1 6 1 14 1 3 1 8 1 10 1 18 1 8 1 18 1 13 1 8 1 6 1 3 1 44 1 18 1 26 1 32 1 16 1 11 1 3 1 16 1 6 1 52 1 10 1 10 1 15 1 16 1 8 1 57 1 1 1 24 1 35 1 13 1 13 1 9 1 16 1 14 1 7 1 5 1 1 2 6 1 1 1 17 1 19 1 7 1 32 1 6 1 7 1 28 1 10 1 2 1 8 1 9 1 4 1 17"/>
<use href="#s1" stroke="#008fff" stroke-dashoffset="-2" stroke-dasharray="1 3 2 9 1 13 1 11 2 4 1 5 1 3 1 2 1 1 1 9 1 8 1 10 1 63 1 2 1 11 1 8 1 4 1 12 1 7 1 16 1 5 1 18 1 3 1 22 1 19 1 5 1 24 1 13 1 15 1 8 1 52 2 9 1 16 1 9 1 12 1 21 1 1 1 24 1 16 1 4 1 4 1 1 1 4 1 2 1 3 1 8 1 4 1 7 1 49 1 10 2 3 1 2 1 89 1 7 1 3 1 26 1 29 3 5 1 1 6 4 1 4 1 37 1 3 1 26 2 1 1 16 1 54 1 27 1 23 1 3 1 72 1 5 1 50 3 53 1 1 1 6 1 6 1 5 1 13 1 61 1 20 1 33 1 3 1 116 2 42 1 4 1 110 1 75 1 19 1 29 1 26 1 12 1 8 1 38 1 68 1 16 1 6 1 6 1 1 1 16 1 23 1 22 1 5 1 8 1 14 1 4 1 6 1 24 1 2 1 56 2 5 1 13 1 7 1 65 1 30 1 51 1 29 1 59 1 12 1 15 2 34 1 127 1 4 1 12 1 54 1 23 1 71 1 30 1 2 1 2 1 2 1 9 1 9 1 2 1 32 1 8 1 45 1 13 1 7 1 2 1 29 1 20 1 49 1 11 1 43 1 11 1 60 1 48 1 11 1 10 1 1 1 64 1 91 1 9 1 19 1 31 1 11 1 100 1 13 1 11 1 8 1 6 1 18 1 19 2 12 1 30 1 94 2 15 1 9 1 46 1 23 1 23 1 22 2 47 1 6 1 25 1 7 1 2 1 39 1 46 1 12 1 99 1 13 1 8 1 63 1 7 1 32 1 28 1 8 1 42 1 27 1 4 1 32 1 23 1 18 1 8 1 41 1 10 1 90 1 49 1 11 1 3 1 23 1 63 1 201 1 49 1 8 1 8 1 17 1 19 1 7 1 87 1 21 1 22"/>
<use href="#s1" stroke="#05dbf6" stroke-dashoffset="-7" stroke-dasharray="1 9 1 25 1 5 1 5 1 3 1 23 1 10 1 63 1 14 1 8 1 4 1 37 1 5 1 18 1 26 1 80 1 62 1 9 1 16 1 22 1 48 1 21 1 4 1 6 1 2 1 12 1 12 1 60 1 4 1 92 1 69 2 8 3 1 1 4 1 4 1 37 1 3 1 101 1 27 1 23 1 3 1 72 1 57 2 55 1 6 1 26 1 61 1 20 1 33 1 120 2 47 1 110 1 174 1 124 1 6 1 8 1 16 1 61 1 14 1 36 1 59 2 19 1 186 1 59 1 64 1 127 1 72 1 135 1 9 1 100 1 315 1 77 1 121 1 179 1 25 1 19 1 44 1 94 2 199 1 36 1 99 1 99 1 86 1 69 1 79 1 295 1 27 1 63 1 201 1 201 1 49"/>
<use href="#s1" stroke="#3effb9" stroke-dashoffset="-49" stroke-dasharray="1 9 1 122 1 4 1 37 1 51 1 143 1 26 1 22 1 70 1 4 1 6 1 28 1 158 1 69 1 10 2 1 1 209 1 131 1 55 1 150 1 121 1 158 1 174 1 234 1 36 1 59 2 206 1 59 1 64 1 763 1 199 1 179 1 45 1 44 1 94 2 199 1 36 1 436 1 589 1 293"/>
<use href="#s1" stroke="#8cff6b" stroke-dashoffset="-59" stroke-dasharray="1 122 1 42 1 195 1 26 1 377 1 341 1 55 1 150 1 121 1 333 1 234 1 96 2 206 1 59 1 64 1 963 1 365 2 236 1 1330"/>
<use href="#s1" stroke="#e0f719" stroke-dashoffset="-826" stroke-dasharray="1 341 1 662 1 331 2 1662 1 2334"/>
<use href="#s1" stroke="#ffa100" stroke-dashoffset="-826" stroke-dasharray="1 1004 1 331 2 3997"/>
<use href="#s1" stroke="#f93000" stroke-dashoffset="-2164" stroke-dasharray="1 5335"/>
<use href="#s1" stroke="#ae0000" stroke-dashoffset="-2164" stroke-dasharray="1 5335"/>
</g>
<path d="M784.4 430.3L787 430.3L789.5 430.3L792.1 430.3L794.6 430.3L797.2 430.3L799.7 430.3L802.3 430.3L804.9 430.3L807.4 430.3L810 430.3L812.5 430.3L815.1 430.3L817.6 430.3L820.2 430.3L822.8 430.3L825.3 430.3L827.9 430.3L830.4 430.3L833 430.3L835.5 430.3L838.1 430.3L840.7 430.3L843.2 430.3L845.8 430.3L848.3 430.3L850.9 430.3L853.4 430.3L856 428.9L858.6 427.5L859.8 426.1L863.7 423.3L866.2 420.5L868.8 417.7L871.4 414.8L872.6 412L873.9 409.2L873.9 409.2L873.9 406.4L874.5 403.6L875.2 397.9L876.5 392.3L876.5 386.7L877.1 381L877.1 381L877.7 375.4L877.7 369.7L878.1 358.5L878.4 347.2L878.4 347.2L878.7 335.9L878.9 324.7L879.2 302.1L879.3 279.6L879.3 279.6L879.7 257L880.1 234.5L881.5 189.4L881.8 144.3" fill="none" stroke="#f0f" stroke-opacity=".16" stroke-width="1.2"/>
<g fill="#f0f" stroke="#000" stroke-width=".7">
<circle cx="784.4" cy="430.3" r="3.1" fill-opacity=".12" stroke-opacity=".12"/>
<circle cx="787" cy="430.3" r="3.1" fill-opacity=".12" stroke-opacity=".12"/>
<circle cx="789.5" cy="430.3" r="3.1" fill-opacity=".12" stroke-opacity=".12"/>
<circle cx="792.1" cy="430.3" r="3.1" fill-opacity=".12" stroke-opacity=".12"/>
<circle cx="794.6" cy="430.3" r="3.1" fill-opacity=".12" stroke-opacity=".12"/>
<circle cx="797.2" cy="430.3" r="3.1" fill-opacity=".12" stroke-opacity=".12"/>
<circle cx="799.7" cy="430.3" r="3.1" fill-opacity=".12" stroke-opacity=".12"/>
<circle cx="802.3" cy="430.3" r="3.1" fill-opacity=".12" stroke-opacity=".12"/>
<circle cx="804.9" cy="430.3" r="3.1" fill-opacity=".12" stroke-opacity=".12"/>
<circle cx="807.4" cy="430.3" r="3.1" fill-opacity=".12" stroke-opacity=".12"/>
<circle cx="810" cy="430.3" r="3.1" fill-opacity=".12" stroke-opacity=".12"/>
<circle cx="812.5" cy="430.3" r="3.1" fill-opacity=".12" stroke-opacity=".12"/>
<circle cx="815.1" cy="430.3" r="3.1" fill-opacity=".12" stroke-opacity=".12"/>
<circle cx="817.6" cy="430.3" r="3.1" fill-opacity=".12" stroke-opacity=".12"/>
<circle cx="820.2" cy="430.3" r="3.1" fill-opacity=".12" stroke-opacity=".12"/>
<circle cx="822.8" cy="430.3" r="3.1" fill-opacity=".12" stroke-opacity=".12"/>
<circle cx="825.3" cy="430.3" r="3.1" fill-opacity=".12" stroke-opacity=".12"/>
<circle cx="827.9" cy="430.3" r="3.1" fill-opacity=".12" stroke-opacity=".12"/>
<circle cx="830.4" cy="430.3" r="3.1" fill-opacity=".12" stroke-opacity=".12"/>
<circle cx="833" cy="430.3" r="3.1" fill-opacity=".12" stroke-opacity=".12"/>
<circle cx="835.5" cy="430.3" r="3.1" fill-opacity=".12" stroke-opacity=".12"/>
<circle cx="838.1" cy="430.3" r="3.1" fill-opacity=".12" stroke-opacity=".12"/>
<circle cx="840.7" cy="430.3" r="3.1" fill-opacity=".12" stroke-opacity=".12"/>
<circle cx="843.2" cy="430.3" r="3.1" fill-opacity=".12" stroke-opacity=".12"/>
<circle cx="845.8" cy="430.3" r="3.1" fill-opacity=".12" stroke-opacity=".12"/>
<circle cx="848.3" cy="430.3" r="3.1" fill-opacity=".12" stroke-opacity=".12"/>
<circle cx="850.9" cy="430.3" r="3.1" fill-opacity=".12" stroke-opacity=".12"/>
<circle cx="853.4" cy="430.3" r="3.1" fill-opacity=".27" stroke-opacity=".27"/>
<circle cx="856" cy="428.9" r="3.1" fill-opacity=".27" stroke-opacity=".27"/>
<circle cx="858.6" cy="427.5" r="3.1" fill-opacity=".27" stroke-opacity=".27"/>
<circle cx="859.8" cy="426.1" r="2.9" fill-opacity=".22" stroke-opacity=".22"/>
<circle cx="863.7" cy="423.3" r="2.9" fill-opacity=".24" stroke-opacity=".24"/>
<circle cx="866.2" cy="420.5" r="2.9" fill-opacity=".24" stroke-opacity=".24"/>
<circle cx="868.8" cy="417.7" r="2.9" fill-opacity=".24" stroke-opacity=".24"/>
<circle cx="871.4" cy="414.8" r="2.9" fill-opacity=".24" stroke-opacity=".24"/>
<circle cx="872.6" cy="412" r="2.9" fill-opacity=".24" stroke-opacity=".24"/>
<circle cx="873.9" cy="409.2" r="2.9" fill-opacity=".22" stroke-opacity=".22"/>
<circle cx="873.9" cy="406.4" r="2.9" fill-opacity=".2" stroke-opacity=".2"/>
<circle cx="873.9" cy="409.2" r="2.9" fill-opacity=".23" stroke-opacity=".23"/>
<circle cx="874.5" cy="403.6" r="2.9" fill-opacity=".27" stroke-opacity=".27"/>
<circle cx="875.2" cy="397.9" r="2.9" fill-opacity=".27" stroke-opacity=".27"/>
<circle cx="876.5" cy="392.3" r="2.9" fill-opacity=".25" stroke-opacity=".25"/>
<circle cx="876.5" cy="386.7" r="2.9" fill-opacity=".25" stroke-opacity=".25"/>
<circle cx="877.1" cy="381" r="2.9" fill-opacity=".2" stroke-opacity=".2"/>
<circle cx="877.7" cy="375.4" r="2.9" fill-opacity=".14" stroke-opacity=".14"/>
<circle cx="877.1" cy="381" r="2.9" fill-opacity=".25" stroke-opacity=".25"/>
<circle cx="877.7" cy="369.7" r="2.9" fill-opacity=".2" stroke-opacity=".2"/>
<circle cx="878.1" cy="358.5" r="2.9" fill-opacity=".23" stroke-opacity=".23"/>
<circle cx="878.4" cy="347.2" r="2.9" fill-opacity=".15" stroke-opacity=".15"/>
<circle cx="878.7" cy="335.9" r="2.9" fill-opacity=".17" stroke-opacity=".17"/>
<circle cx="878.4" cy="347.2" r="3" fill-opacity=".3" stroke-opacity=".3"/>
<circle cx="878.9" cy="324.7" r="3" fill-opacity=".3" stroke-opacity=".3"/>
<circle cx="879.2" cy="302.1" r="3" fill-opacity=".17" stroke-opacity=".17"/>
<circle cx="879.3" cy="279.6" r="3" fill-opacity=".25" stroke-opacity=".25"/>
<circle cx="879.7" cy="257" r="3" fill-opacity=".17" stroke-opacity=".17"/>
<circle cx="879.3" cy="279.6" r="3.1" fill-opacity=".4" stroke-opacity=".4"/>
<circle cx="880.1" cy="234.5" r="3.1" fill-opacity="1" stroke-opacity="1"/>
<circle cx="881.5" cy="189.4" r="3.1" fill-opacity=".9" stroke-opacity=".9"/>
<circle cx="881.8" cy="144.3" r="3.1" fill-opacity=".45" stroke-opacity=".45"/>
</g><g fill="#ff0" stroke="#000" stroke-width=".9">
<circle cx="878.4" cy="347.2" r="7.2" fill-opacity=".55" stroke-opacity=".39"/>
<circle cx="878.9" cy="324.7" r="7.2" fill-opacity=".55" stroke-opacity=".39"/>
<circle cx="879.2" cy="302.1" r="7.2" fill-opacity=".3" stroke-opacity=".21"/>
<circle cx="879.3" cy="279.6" r="7.2" fill-opacity=".45" stroke-opacity=".32"/>
<circle cx="879.7" cy="257" r="7.2" fill-opacity=".3" stroke-opacity=".21"/>
</g>
</g>
<rect x="715.5" y="99.5" width="328" height="361" fill="none" stroke="#000" stroke-width="1.39"/>
<text transform="translate(879.02 92.2) scale(.99 1)" class="t">scale=16</text>
<rect x="1063.5" y="99.5" width="18" height="361" fill="url(#jet)"/>
<text transform="translate(1086.53 465) scale(.975 1.06)" class="s">0.0</text>
<text transform="translate(1086.53 428) scale(.975 1.06)" class="s">0.4</text>
<text transform="translate(1086.53 392) scale(.975 1.06)" class="s">0.8</text>
<text transform="translate(1086.53 355) scale(.975 1.06)" class="s">1.2</text>
<text transform="translate(1086.53 318) scale(.975 1.06)" class="s">1.6</text>
<text transform="translate(1086.53 281) scale(.975 1.06)" class="s">2.0</text>
<text transform="translate(1086.53 245) scale(.975 1.06)" class="s">2.4</text>
<text transform="translate(1086.53 208) scale(.975 1.06)" class="s">2.8</text>
<text transform="translate(1086.53 171) scale(.975 1.06)" class="s">3.2</text>
<text transform="translate(1086.53 134) scale(.975 1.06)" class="s">3.6</text>
<path d="M1081.5 423.5h-6.2 M1081.5 386.5h-6.2 M1081.5 350.5h-6.2 M1081.5 313.5h-6.2 M1081.5 276.5h-6.2 M1081.5 239.5h-6.2 M1081.5 203.5h-6.2 M1081.5 166.5h-6.2 M1081.5 129.5h-6.2" stroke="#000" stroke-width=".8" fill="none"/>
<rect x="1063.5" y="99.5" width="18" height="361" fill="none" stroke="#000" stroke-width="1.39"/>
</g>
<g id="p32">
<rect x="1206.5" y="99.5" width="328" height="361" fill="#fff"/>
<clipPath id="c2"><rect x="1206.5" y="99.5" width="328" height="361"/></clipPath>
<g clip-path="url(#c2)">
<g transform="translate(1206 459.927) scale(1 -11.27273)" shape-rendering="crispEdges" fill="none">
<rect width="327" height="32" fill="#00008e"/>
<defs><path id="s2" d="M-2 .5H329V1.5H-2V2.5H329V3.5H-2V4.5H329V5.5H-2V6.5H329V7.5H-2V8.5H329V9.5H-2V10.5H329V11.5H-2V12.5H329V13.5H-2V14.5H329V15.5H-2V16.5H329V17.5H-2V18.5H329V19.5H-2V20.5H329V21.5H-2V22.5H329V23.5H-2V24.5H329V25.5H-2V26.5H329V27.5H-2V28.5H329V29.5H-2V30.5H329V31.5H-2"/></defs>
<use href="#s2" stroke="#0000b7" stroke-dashoffset="-2" stroke-dasharray="3 1 2 2 5 2 3 1 1 1 1 4 2 2 3 2 1 5 2 2 6 2 8 1 3 1 1 5 3 1 1 2 1 1 2 2 1 1 6 2 2 8 1 4 3 3 1 1 1 1 2 4 5 3 1 1 1 1 1 5 3 2 1 1 1 1 1 1 2 2 2 2 3 2 3 2 2 1 1 4 1 5 4 1 1 2 2 1 1 1 1 1 1 3 1 3 1 1 1 1 1 6 1 1 2 1 1 2 1 3 2 1 2 2 3 2 1 2 2 2 1 3 1 5 2 2 2 1 8 4 1 1 2 4 1 1 1 2 1 1 1 2 5 2 1 1 2 2 1 1 1 2 1 3 1 1 1 1 1 6 6 1 2 1 1 1 1 2 5 1 2 5 1 1 1 1 2 4 1 3 2 1 1 3 1 1 1 1 1 1 2 3 3 5 5 1 3 1 1 2 1 2 1 1 1 3 4 1 5 2 2 1 2 2 1 2 1 2 1 2 1 1 1 1 1 1 6 1 1 3 1 1 1 1 2 1 1 1 1 1 3 4 2 7 1 1 2 1 1 2 1 4 3 2 1 2 2 1 4 1 1 4 3 1 2 2 2 1 1 1 1 1 2 1 2 2 2 1 1 2 3 3 6 1 4 1 2 1 2 1 1 2 1 2 1 1 1 2 2 1 1 1 2 1 1 1 2 1 8 1 6 2 2 1 1 1 1 1 1 1 3 1 2 1 3 1 3 1 1 1 1 1 3 3 2 1 1 7 5 3 1 1 4 1 4 1 1 1 2 3 2 4 4 4 2 1 2 3 1 4 1 1 1 4 2 1 1 2 2 2 2 1 1 1 4 1 1 3 2 2 4 3 2 1 1 1 5 3 1 1 1 1 3 1 3 3 1 2 1 3 1 1 5 1 4 3 1 1 2 1 2 2 1 4 1 1 1 3 1 2 1 1 3 2 2 1 1 5 1 1 1 1 7 2 2 1 5 2 6 4 1 2 1 1 2 1 1 1 1 3 6 1 2 1 1 2 1 5 2 3 1 1 2 2 2 2 1 2 1 3 1 1 3 1 3 1 1 1 1 4 1 1 1 1 2 1 1 1 2 1 8 5 1 2 4 2 1 6 3 2 2 2 2 1 1 1 3 2 1 2 2 3 2 1 4 1 1 1 1 2 3 1 3 1 2 1 1 1 3 1 3 1 3 2 5 3 1 1 1 4 2 1 6 1 1 1 3 1 2 2 8 6 1 6 1 1 1 1 1 1 1 1 1 1 3 3 1 3 1 3 2 6 3 7 3 5 20 2 1 2 18 3 1 1 2 3 1 2 1 1 4 5 2 1 3 3 2 1 1 1 1 1 2 3 1 1 5 1 4 2 2 2 2 5 1 1 1 6 1 2 3 1 2 1 2 1 2 1 3 1 6 5 1 7 1 3 3 2 3 6 1 4 2 1 1 3 1 4 1 1 3 1 1 2 1 1 3 2 2 1 5 1 3 3 1 4 1 1 1 1 2 1 2 1 1 1 3 1 3 1 2 2 3 2 2 1 2 1 5 1 1 2 1 1 4 1 1 1 2 1 4 2 3 2 1 2 4 1 12 2 1 1 2 2 2 1 1 6 4 1 1 1 1 1 1 3 1 2 4 1 1 1 1 1 1 1 1 1 1 2 2 2 1 3 5 2 1 2 1 4 1 2 4 1 1 1 2 1 1 1 1 2 1 1 3 1 3 1 1 1 1 1 1 1 1 1 1 1 4 1 8 1 5 1 1 1 1 1 1 2 1 1 2 2 2 2 4 1 1 3 1 1 3 2 2 8 1 1 5 1 3 1 1 1 2 1 6 7 3 1 2 1 1 1 2 4 2 3 1 2 1 2 1 1 5 1 1 1 3 3 1 1 2 1 2 1 1 2 6 1 5 4 1 2 1 1 2 2 2 1 3 2 3 1 2 1 1 5 4 1 1 1 1 3 1 1 3 4 1 2 1 3 2 1 1 2 1 2 3 2 1 2 1 1 2 2 4 2 2 1 1 1 1 3 1 4 1 2 6 2 4 2 1 1 2 4 1 1 2 1 1 2 2 3 5 3 1 8 1 4 1 3 2 1 3 2 1 2 1 1 2 2 1 2 1 3 1 2 1 3 5 1 3 2 1 3 1 1 1 1 2 1 2 1 3 2 2 7 5 3 1 1 1 1 2 3 1 2 1 4 1 1 1 1 2 7 3 6 1 2 1 1 1 1 1 1 1 3 3 1 1 2 2 2 2 2 3 4 1 3 1 1 1 1 1 3 4 1 1 1 6 1 1 1 1 3 2 5 1 3 1 5 1 2 3 1 1 1 1 1 2 6 4 2 4 1 2 2 2 6 1 4 3 3 3 1 3 1 2 3 1 1 1 1 2 2 1 4 3 1 1 3 2 1 1 2 4 2 1 2 3 3 1 7 1 1 1 2 3 1 2 3 1 1 1 1 2 1 4 7 1 1 1 7 1 1 4 1 1 5 3 1 2 1 1 3 1 1 4 1 1 3 1 5 2 3 2 2 1 1 3 2 4 2 2 1 1 1 1 6 2 1 1 2 1 4 1 2 1 4 3 3 1 1 2 1 1 3 2 1 1 1 1 2 2 2 3 2 1 3 1 2 2 2 1 2 5 5 1 1 3 5 1 1 2 1 1 1 3 3 3 1 3 1 1 1 2 2 1 2 1 1 6 1 3 2 7 1 1 1 1 1 1 2 1 1 1 1 1 1 2 6 1 1 1 1 1 1 1 2 1 1 2 1 5 2 1 5 1 1 2 1 1 2 1 1 1 1 2 1 4 1 1 3 1 3 1 1 1 5 2 3 1 4 1 1 2 2 2 1 1 3 2 1 3 1 1 3 1 4 2 1 1 1 1 1 3 2 1 2 1 1 1 1 1 5 2 2 2 9 1 1 1 3 1 1 3 1 1 5 1 2 1 3 3 1 5 1 2 1 4 1 3 2 3 1 1 3 1 1 2 1 3 2 1 9 1 1 2 5 4 1 1 1 1 1 3 2 2 3 1 1 3 1 3 1 2 1 1 1 4 1 4 4 3 3 2 1 1 1 2 4 1 1 1 1 2 1 1 1 5 1 1 5 3 1 1 1 1 1 1 1 1 1 1 2 2 3 1 6 1 1 4 1 3 2 1 3 1 1 1 1 1 2 1 1 3 1 1 1 2 1 2 2 4 1 1 2 1 4 1 1 1 1 1 2 1 5 4 6 2 1 3 2 1 2 2 1 1 2 2 1 4 3 2 1 1 2 2 1 3 1 2 2 1 1 5 8 1 3 1 1 3 3 2 1 1 1 1 2 5 1 1 2 4 3 1 7 2 2 1 1 1 2 1 1 2 7 1 2 1 1 4 3 5 1 1 2 5 2 5 2 2 1 1 2 3 1 1 4 4 2 1 1 2 1 3 9 1 1 5 1 1 1 1 3 4 1 1 1 1 2 1 1 2 2 5 3 1 2 2 1 6 7 2 6 1 2 2 7 2 2 2 2 1 1 5 1 1 3 1 2 1 2 3 2 1 2 1 2 2 1 2 6 1 1 1 3 1 4 2 4 4 4 3 1 1 1 1 1 1 2 3 2 3 1 2 1 1 1 2 1 2 1 1 3 1 1 2 8 7 3 1 5 1 1 4 7 1 1 1 1 1 1 3 1 1 1 7 2 2 1 1 5 10 5 1 1 1 5 2 2 2 4 4 3 2 2 1 4 1 2 3 2 1 2 2 1 1 1 1 1 1 4 3 2 1 1 2 3 1 3 2 8 1 2 2 1 1 2 2 3 1 5 2 1 1 2 3 1 2 2 3 3 1 2 3 1 2 3 2 11 1 2 1 3 1 2 1 4 3 1 3 1 1 1 1 4 1 2 1 2 1 1 1 3 2 1 3 4 1 2 3 3 1 2 1 3 2 2 2 2 1 4 5 4 1 3 1 1 3 1 2 6 1 1 1 2 2 2 1 1 1 3 1 2 2 1 2 1 4 1 1 1 1 3 1 1 1 2 1 1 2 3 1 2 3 1 2 1 3 2 3 2 2 1 2 1 1 1 3 1 1 1 1 2 1 1 2 2 2 1 6 1 3 2 2 1 7 3 1 3 1 1 1 2 1 2 2 1 1 2 1 1 2 1 2 1 1 2 1 4 1 1 2 3 1 2 2 2 3 5 1 1 2 1 2 4 2 1 1 7 2 6 1 3 3 1 1 1 1 1 5 1 1 1 1 4 6 2 1 2 1 1 1 4 2 2 1 1 1 1 1 4 3 5 1 2 1 1 1 4 1 2 2 1 2 1 1 2 2 1 3 1 4 4 2 2 1 2 1 2 1 3 1 4 2 8 4 1 1 5 2 1 1 6 2 1 2 6 1 1 2 4 1 1 2 1 1 3 2 1 3 1 1 1 1 1 1 5 2 1 1 3 4 3 1 3 1 1 4 2 1 1 1 1 2 1 1 1 2 1 1 2 3 2 5 1 2 3 2 1 1 2 1 2 1 4 2 1 2 1 3 1 2 2 1 1 3 5 2 5 3 2 1 3 1 3 2 5 2 3 3 1 1 3 1 1 1 1 1 1 1 1 2 4 1 2 1 1 3 2 2 3 4 2 1 1 1 1 3 7 3 8 1 2 1 2 4 1 1 1 3 8 4 1 1 6 3 6 4 2 2 9 1 7 1 4 1 1 1 2 1 8 2 2 1 1 4 1 1 2 4 1 4 2 1 1 2 2 1 1 1 1 1 2 1 1 3 1 3 1 1 1 2 2 1 1 3 2 1 5 1 1 4 3 1 5 6 3 1 5 4 2 1 1 1 3 4 2 2 4 1 1 2 1 3 2 1 8 2 1 1 2 1 1 1 2 3 2 2 3 1 3 1 2 1 2 1 1 4 1 1 4 1 2 3 1 2 2 2 6 2 2 2 1 1 1 2 1 1 1 3 1 3 2 6 2 1 1 3 1 4 4 1 2 6 4 1 7 2 1 2 2 1 6 6 5 1 2 3 2 1 11 1 1 2 1 2 1 2 1 2 1 4 1 1 1 1 2 1 2 1 3 1 2 3 3 2 1 4 1 1 2 1 1 2 7 2 1 2 1 1 1 1 2 1 3 1 1 1 4 1 2 1 1 3 1 1 1 2 1 1 3 1 6 2 1 1 3 1 2 2 2 1 1 2 4 6 3 1 1 1 4 1 3 2 4 3 1 2 2 5 3 5 1 1 8 1 2 1 1 1 1 4 1 1 1 1 6 4 1 3 3 1 1 1 1 1 3 4 1 1 7 1 7 1 2 2 4 1 1 1 2 3 6 1 1 1 1 1 2 2 2 1 1 1 2 1 4 2 1 1 2 1 2 1 7 1 1 7 2 2 2 1 5 3 3 1 1 8 2 2 1 1 2 3 1 2 1 4 1 3 1 3 6 1 7 1 1 1 1 1 2 1 2 1 2 1 5 1 2 2 4 3 2 1 2 1 2 1 1 2 4 1 4 1 2 2 9 2 4 2 4 3 1 2 4 5 1 3 1 3 1 4 2 2 3 1 2 2 3 1 1 1 1 1 1 3 1 1 3 1 3 1 1 1 2 4 2 2 1 1 1 1 1 1 2 1 1 1 2 2 1 5 4 1 2 1 1 2 1 2 1 1 1 3 1 1 2 5 2 1 3 1 4 2 1 2 2 3 4 4 1 1 1 2 1 1 1 6 1 2 1 1 2 1 1 2 2 1 3 3 1 1 1 2 6 1 7 1 1 1 1 3 4 4 1 1 4 3 1 2 1 2 2 1 1 1 2 1 1 1 2 1 2 2 2 1 1 2 2 1 1 5 1 2 6 4 1 3 2 1 1 3 1 1 2 1 1 1 1 2 4 3 2 1 1 1 1 4 5 3 1 1 1 1 3 1 3 2 5 1 1 3 3 5 4 4 1 1 2 1 3 2 2 3 1 1 4 7 1 2 7 1 6 1 2 1 1 1 1 1 5 1 3 3 1 3 1 1 3 2 2 1 4 1 12 1 5 1 2 2 2 1 5 2 1 3 2 1 2 4 1 1 1 3 1 1 3 1 1 1 1 1 1 1 1 4 1 2 8 1 3 4 1 2 5 1 2 1 1 2 1 2 8 1 6 1 1 1 3 1 3 2 3 1 4 1 1 2 4 1 1 1 1 4 3 1 1 3 1 4 2 8 2 1 3 1 5 1 2 1 1 2 1 2 2 2 5 4 5 2 6 1 1 1 1 1 4 2 2 1 1 2 1 4 1 1 9 1 2 1 3 1 1 1 2 1 3 1 1 2 2 3 1 1 2 1 2 2 2 3 1 1 2 3 1 1 3 1 8 2 1 1 2 1 1 1 1 2 2 2 2 1 3 1 1 2 1 5 2 1 1 1 8 1 4 1 1 1 2 1 2 1 5 1 1 1 2 4 2 2 1 1 3 1 9 3 7 1 1 3 5 2 1 1 2 3 3 1 3 2 1 4 1 3 4 1 1 1 1 1 1 3 4 2 3 2 1 1 2 3 1 5 2 1 4 1 3 1 1 1 3 1 3 1 7 2 1 3 1 1 3 3 4 2 3 1 1 1 3 3 1 4 1 5 2 4 3 4 3 3 1 1 1 1 1 1 1 2 2 1 2 3 3 3 1 1 4 4 2 1 1 1 1 2 5 2 1 3 2 1 2 1 3 1 9 3 2 1 1 2 1 1 1 1 1 1 1 2 2 2 2 8 7 1 3 3 2 1 1 1 5 1 1 2 1 6 1 1 1 2 1 1 4 1 6 1 1 2 1 5 4 3 2 3 5 1 1 1 3 1 1 1 1 3 2 2 2 1 2 3 2 3 2 3 2 2 1 4 3 1 1 1 1 2 2 3 1 6 2 1 1 2 4 2 2 5 2 1 4 1 2 3 1 1 1 3 1 2 2 2 2 1 6 1 1 1 1 1 1 3 1 1 1 2 2 2 1 1 2 1 1 1 1 2 3 1 1 1 1 1 1 2 3 1 5 1 1 1 6 1 4 1 1 1 2 1 1 1 1 2 2 1 4 4 2 4 2 1 1 2 2 2 3 1 8 1 4 2 5 1 2 2 2 2 1 2 1 1 2 6 1 1 4 2 3 1 1 1 1 2 1 2 2 1 1 1 3 1 10 1 1 1 1 1 3 3 1 5 1 1 1 1 5 1 3 1 2 1 3 1 1 1 1 2 2 2 1 4 1 1 5 2 3 2 4 1 1 1 1 3 3 3 2 3 1 1 4 1 2 5 6 1 1 1 1 2 2 1 1 1 1 1 1 1 4 2 1 1 3 2 2 2 5 4 1 1 4 6 4 1 1 2 2 2 2 4 2 2 1 3 3 1 1 2 2 2 4 1 2 2 2 1 4 3 4 1 6 1 1 2 1 1 1 4 1 4 1 2 1 2 2 1 1 3 2 2 1 2 1 1 5 5 1 3 2 1 4 1 1 1 9 4 5 4 1 1 1 1 3 4 9 2 4 1 1 2 1 2 5 1 1 2 3 2 3 4 5 1 3 1 1 1 1 2 5 1 1 1 1 1 2 2 2 3 2 2 4 3 1 2 1 2 4 2 4 1 3 2 2 1 1 1 1 1 1 1 1 3 1 5 4 1 2 1 2 5 2 2 1 2 1 1 1 2 1 1 2 4 3 2 1 1 3 1 1 4 2 2 2 1 3 2 3 1 4 4 2 2 2 2 4 6 2 4 2 7 1 2 1 3 9 3 1 1 2 1 6 1 1 1 1 1 2 1 1 1 1 2 3 2 2 6 3 2 4 2 2 2 1 1 2 1 3 3 1 2 2 2 2 3 1 1 1 2 7 3 2 2 2 1 1 1 1 2 1 1 2 4 2 1 2 1 5 1 4 2 1 3 1 2 2 1 2 3 4 2 3 3 1 3 2 1 4 1 2 1 2 4 1 3 2 1 1 1 1 1 3 2 1 1 3 1 1 1 3 3 1 3 2 2 2 1 2 1 1 2 1 2 4 6 2 1 2 7 2 2 3 2 1 1 6 1 1 1 2 1 2 3 1 1 2 1 2 1 2 2 1 3 2 2 5 3 9 1 1 2 1 1 1 2 1 1 6 6 2 4 3 2 4 1 2 3 2 1 2 1 1 2 3 1 2 1 1 1 1 3 2 3 1 1 2 1 1 1 3 1 2 1 1 1 1 1 2 1 1 2 3 1 5 1 1 1 1 3 1 1 4 2 3 4 2 2 1 9 1 2 1 1 8 3 1 1 2 3 1 2 6 3 2 2 1 1 2 4 1 1 3 2 1 1 3 1 3 2 2 1 4 1 1 1 2 3 3 5 2 2 2 1 2 1 2 2 1 2 1 1 1 1 3 1 1 1 1 1 6 1 1 1 1 1 5 1 2 1 1 1 1 2 1 1 1 1 2 1 1 2 3 1 1 1 7 1 3 4 4 1 3 1 1 2 1 2 3 1 2 6 3 1 2 1 4 1 1 3 1 2 1 2 3 1 3 2 4 2 2 2 1 3 10 1 1 2 1 1 3 6 2 1 2 6 1 1 4 1 9 1 1 4 1 3 2 3 2 1 2 2 1 4 2 1 2 5 1 1 2 1 1 2 2 2 4 2 1 1 3 1 1 1 2 1 2 5 1 1 1 2 1 4 1 3 1 1 1 2 1 1 4 1 4 5 2 1 1 1 5 1 6 2 3 1 5 1 1 1 3 1 2 2 1 6 4 1 4 1 1 3 3 1 1 2 2 2 8 2 1 1 2 2 1 2 1 3 2 1 1 2 1 3 1 3 1 1 4 5 1 1 3 1 3 1 1 1 4 2 1 3 1 1 1 2 2 1 2 2 1 2 1 1 2 2 2 1 1 2 3 2 1 1 1 2 1 5 1 2 1 1 1 1 1 5 1 1 1 1 1 1 2 2 3 1 16 2 6 4 3 3 1 3 1 5 2 1 3 4 1 2 2 1 5 2 2 2 1 1 2 1 6 1 1 2 1 1 1 1 3 4 1 1 1 4 2 1 3 1 5 4 3 2 1 1 4 2 1 1 3 3 4 1 3 1 1 1 4 1 2 2 1 2 1 2 3 2 3 2 1 1 1 1 2 4 4 1 1 1 5 1 1 2 1 1 1 2 4 4 4 4 1 1 1 2 2 1 1 4 3 5 4 1 1 2 4 2 2 1 2 2 1 2 2 1 9 2 3 5 2 7 1 2 1 1 2 4 1 2 1 1 1 1 2 4 2 1 2 2 15 1 2 1 1 1 1 1 1 1 1 2 7 4 8 1 2 2 2 1 1 1 1 1 2 3 1 1 1 2 5 5 1 2 7 2 5 2 1 2 4 2 1 1 1 5 1 3 2 1 1 1 6 8 1 1 2 3 1 3 1 4 1 7 3 2 2 3 1 3 2 5 2 1 2 1 1 2 1 4 1 4 2 2 7 2 2 3 1 1 2 1 4 1 1 2 1 4 1 1 1 1 2 4 1 2 3 2 5 1 1 1 5 3 1 3 3 1 1 1 6 2 1 1 5 1 3 1 3 1 2 3 1 5 1 9 1 1 1 5 2 3 7 2 6 6 3 1 2 4 2 1 1 1 7 3 5 1 2 1 2 2 1 2 2 4 1 3 1 4 1 1 1 1 6 4 2 2 1 1 2 1 1 1 1 1 2 3 1 1 2 1 1 1 1 3 1 3 1 2 2 1 5 2 2 1 1 6 8 3 1 5 2 1 1 1 1 1 1 5 2 2 2 2 7 2 2 2 1 1 4 2 3 2 1 3 2 1 1 1 5 1 2 2 2 2 4 1 1 1 1 1 1 1 5 2 1 6 1 3 1 2 2 2 2 2 1 1 14 1 1 1 2 2 3 5 1 2 2 3 1 1 2 2 2 2 5 1 1 1 8 1 1 2 4 1 6 1 1 1 1 2 2 1 6 3 1 1 1 1 2 1 2 2 1 1 3 1 2 1 3 1 1 1 1 2 3 1 1 3 1 1 2 1 2 4 1 2 2 2 1 1 1 2 3 2 2 4 3 1 1 1 2 2 1 1 2 3 1 2 3 2 1 1 2 4 7 1 3 5 3 1 4 3 1 1 5 2 1 6 1 1 6 2 6 1 1 1 1 2 4 2 1 2 1 1 2 2 4 3 2 1 1 1 2 1 2 1 1 1 1 2 1 8 1 1 1 1 1 1 1 1 1 1 1 1 3 2 1 5 3 2 1 1 2 1 2 4 3 1 3 1 2 1 4 4 2 1 2 1 1 2 1 2 2 2 1 1 5 1 5 1 2 1 4 2 3 2 1 2 4 3 3 1 1 2 2 6 1 1 1 2 1 1 1 2 4 2 4 2 3 4 6 2 4 2 1 3 3 1 5 3 4 4 1 6 2 2 1 1 1 1 2 1 1 3 2 2 1 1 2 2 2 6 1 1 3 1 1 1 1 2 1 7 2 1 1 1 1 1 1 6 3 3 7 1 2 2 1 1 10 1 8 1 2 1 3 1 1 2 1 3 2 1 1 1 2 3 4 2 2 4 2 2 1 1 2 2 1 1 1 2 3 2 2 4 1 3 3 1 2 1 5 1 4 2 2 1 3 2 3 3 8 1 2 1 1 5 1 2 1 4 2 1 1 1 2 2 2 2 7 1 2 1 1 2 8 3 1 1 1 2 1 1 7 1 1 1 4 2 2 1 3 1 6 6 3 1 2 2 7 1 4 2 3 1 1 2 1 1 1 2 3 3 1 4 1 5 3 1 1 1 1 2 1 1 3 3 1 1 6 1 1 1 1 3 1 2 4 1 1 1 2 1 2 1 2 1 2 2 1 1 1 1 1 1 2 2 1 1 2 1 3 4 1 5 4 2 3 3 2 2 2 2 4 1 1 3 1 1 3 1 1 4 5 1 1 1 4 1 1 3 1 1 5 1 5 2 1 1 1 2 4 1 2 1 3 2 2 1 8 1 2 1 3 1 1 2 2 1 2 2 2 1 3 1 3 2 2 2 2 1 1 2 3 2 1 2 4 2 1 1 1 5 6 1 3 1 2 1 1 4 4 1 1 2 1 1 2 2 1 1 1 2 2 5 1 4 2 1 2 5 8 2 1 1 1 1 1 1 3 1 2 4 1 1 1 1 3 9 1 1 1 1 2 1 3 1 3 1 2 1 5 2 1 1 1 1 1 1 1 1 2 1 2 4 2 1 2 9 6 1 1 2 1 1 1 3 1 2 1 1 5 2 2 4 1 1 4 1 2 3 7 1 4 2 4 2 1 1 1 3 4 7 2 3 2 1 5 1 2 1 4 1 13"/>
<use href="#s2" stroke="#0000ed" stroke-dashoffset="-2" stroke-dasharray="2 3 1 2 2 1 1 3 1 3 1 11 2 8 2 4 1 9 4 1 1 1 1 1 1 5 1 3 1 2 1 1 2 2 1 5 2 2 2 8 1 5 1 4 1 9 4 21 1 3 1 3 2 2 2 3 2 3 1 16 1 23 1 8 1 2 1 2 1 12 1 2 1 21 1 2 2 17 1 1 1 7 1 1 2 3 1 1 1 5 1 2 1 16 2 1 1 2 1 10 1 2 1 7 1 7 1 4 1 1 1 3 1 10 1 7 1 5 3 16 1 3 1 7 2 5 1 11 1 3 2 7 1 4 1 1 1 2 2 18 1 2 1 4 2 6 1 16 2 2 2 3 1 1 1 2 1 3 1 2 1 12 1 3 2 5 2 12 2 8 1 3 1 2 1 1 1 3 1 1 1 9 1 12 1 5 1 5 1 6 1 7 1 10 1 1 1 1 2 1 1 8 1 5 2 1 1 4 1 2 1 9 1 1 1 11 1 2 1 5 1 1 1 1 1 7 1 6 2 5 1 9 1 4 1 4 1 8 1 2 1 18 1 4 1 5 1 2 1 6 1 13 1 4 1 3 1 3 1 5 1 3 1 10 1 3 1 3 1 1 2 9 1 6 1 3 1 9 1 8 1 3 1 3 1 1 1 6 1 6 2 1 2 2 1 13 1 10 2 28 4 15 1 3 1 1 1 1 2 7 2 14 1 1 1 3 1 8 1 4 1 1 1 1 1 15 1 5 1 13 1 12 1 18 18 2 1 2 4 1 2 1 1 1 1 2 2 1 1 6 2 3 1 2 1 1 2 1 1 5 2 3 1 3 2 15 1 2 1 6 1 9 1 8 1 6 2 4 2 1 1 4 1 3 1 18 1 3 1 13 2 1 1 8 1 1 1 3 1 2 1 16 1 4 1 12 1 1 1 5 2 2 1 9 1 5 3 8 1 3 1 4 1 10 1 3 1 3 2 1 1 1 7 18 3 2 1 7 1 9 1 3 1 1 1 2 2 7 1 5 1 12 1 4 1 7 1 1 1 4 1 2 1 5 1 12 1 7 1 6 1 17 1 3 1 1 1 16 3 1 1 2 2 1 1 1 1 2 1 2 2 9 1 7 2 5 1 11 1 1 1 22 2 2 1 2 1 2 1 17 1 1 1 3 2 4 1 5 2 3 1 7 1 13 2 7 3 13 1 6 1 10 1 2 2 3 1 2 1 8 1 25 1 21 2 5 1 1 1 17 1 3 1 6 1 3 1 7 1 32 1 22 1 11 1 1 1 12 2 7 1 5 1 5 1 7 1 6 2 9 1 10 1 8 2 6 1 13 1 2 1 2 1 17 1 20 1 8 2 6 2 5 2 8 1 11 1 1 1 2 1 1 1 6 1 1 1 1 2 3 1 31 1 3 2 5 1 1 1 2 1 5 1 16 1 1 1 3 1 5 1 31 1 26 1 9 1 6 1 3 1 8 1 6 1 6 1 6 1 8 1 20 2 1 1 4 1 8 1 3 2 6 1 5 1 2 1 34 2 1 1 9 1 17 2 9 1 4 1 1 1 3 1 23 1 6 1 22 2 1 1 13 1 2 1 6 1 1 1 1 1 3 1 5 1 1 1 3 1 1 1 4 1 2 1 18 1 13 2 6 2 2 2 6 1 1 1 3 2 5 1 10 1 5 1 1 1 6 4 8 1 3 1 11 1 13 1 3 1 4 1 3 1 10 1 3 1 3 1 4 1 26 1 7 1 3 1 11 1 5 1 3 2 15 1 1 1 2 1 9 1 5 2 7 1 7 2 6 1 12 1 10 1 11 1 4 1 5 2 6 1 5 1 1 1 1 1 3 1 1 1 13 2 9 1 17 1 8 1 3 1 2 1 1 2 14 1 2 1 1 3 8 1 19 1 3 1 2 1 2 2 13 2 6 1 3 1 15 1 4 1 7 1 13 1 2 1 17 1 5 1 16 2 3 1 18 1 1 1 4 2 3 2 2 1 4 1 2 1 20 1 1 1 15 1 2 1 3 2 12 1 2 1 2 1 28 1 8 1 3 1 1 1 19 1 3 1 3 1 18 1 21 1 5 1 25 1 2 1 1 1 7 2 11 1 15 1 9 1 1 1 1 1 18 1 16 1 4 1 11 1 3 1 3 2 1 2 1 1 4 1 10 1 5 1 6 2 5 1 2 1 1 1 2 1 7 1 1 4 7 1 1 1 5 1 16 1 14 2 2 1 45 1 4 1 2 1 21 1 4 1 5 1 14 1 9 1 5 1 2 1 12 1 5 1 29 2 28 1 1 1 8 1 1 1 23 1 16 1 14 2 1 1 7 1 2 2 23 2 9 1 2 2 5 2 5 2 12 1 14 1 17 1 5 2 10 1 8 1 9 1 14 2 16 1 2 1 1 1 17 2 3 1 40 1 1 1 1 1 2 1 5 1 4 1 5 1 9 1 1 1 5 1 20 1 1 4 9 1 3 1 16 1 6 3 10 2 1 1 4 1 8 1 2 1 4 1 2 3 7 1 24 1 8 1 15 2 15 2 20 1 1 1 2 1 4 1 14 1 9 2 6 1 25 1 4 1 5 1 17 1 8 3 15 1 3 1 12 1 7 1 7 1 23 1 11 2 25 1 7 1 24 1 36 2 33 3 17 1 1 1 2 1 5 1 4 1 21 1 10 2 3 1 4 1 13 1 2 1 8 1 23 1 14 1 2 1 7 1 2 1 8 1 4 1 19 1 10 1 3 1 6 1 1 2 1 2 2 1 1 1 3 2 22 2 14 3 6 1 1 1 1 1 2 1 8 1 1 1 11 1 1 1 15 1 12 1 2 1 14 1 1 2 3 1 3 2 9 1 3 1 10 1 16 1 3 1 9 1 5 1 5 1 13 1 2 2 11 4 12 1 1 2 3 1 1 2 2 1 6 1 5 3 15 3 1 1 1 1 7 2 9 1 3 1 2 1 7 1 9 1 4 1 2 1 4 1 3 1 4 1 7 1 6 1 16 3 1 1 29 1 5 1 2 1 14 1 10 1 2 1 14 3 2 1 15 2 1 2 10 2 2 1 15 1 27 1 1 1 3 1 4 1 1 3 1 1 5 1 1 1 2 1 1 1 2 1 14 1 15 2 13 1 1 1 12 1 17 1 8 1 2 1 3 1 2 1 6 1 17 1 25 1 20 1 4 1 21 1 17 1 16 2 9 1 8 1 4 1 1 1 7 1 3 1 10 1 3 1 8 1 11 1 4 3 11 1 1 1 22 1 15 1 9 1 1 1 2 1 22 1 5 1 5 1 2 1 22 1 11 1 29 1 18 3 15 1 12 2 4 1 3 1 1 1 16 2 11 1 5 1 27 1 1 1 4 1 4 1 7 2 11 1 4 1 19 1 15 1 8 1 3 1 17 1 3 2 19 1 4 1 11 1 18 1 11 2 6 1 2 1 10 1 14 1 5 1 9 1 6 1 2 2 43 1 7 1 3 1 3 1 12 1 3 1 1 1 2 1 6 2 9 1 11 1 9 1 3 1 2 1 7 2 2 1 11 1 14 1 10 1 5 1 9 1 1 2 12 1 9 1 8 1 5 1 9 1 28 2 34 1 1 1 3 1 4 1 4 1 11 1 9 1 5 1 5 2 10 1 9 1 6 1 7 1 3 1 16 1 22 1 7 1 16 1 3 1 12 2 10 1 9 1 5 1 12 1 5 1 1 1 20 1 9 2 4 1 10 2 4 3 4 1 2 1 6 2 14 1 11 1 8 1 5 1 2 2 1 2 17 1 19 1 4 1 8 1 15 1 2 1 8 1 5 1 5 1 1 1 1 1 8 1 12 1 7 1 4 1 2 1 2 1 2 1 14 2 1 1 10 1 2 1 11 1 4 1 5 1 11 1 3 1 4 1 3 2 10 1 5 1 1 1 1 1 11 1 4 1 8 1 14 1 2 1 18 1 4 2 4 1 2 1 1 1 20 1 12 1 13 1 6 1 5 1 4 1 2 1 4 1 4 1 1 1 6 1 5 1 15 1 6 1 11 1 15 1 3 1 10 2 20 1 17 2 3 1 14 1 3 1 8 1 33 2 23 1 3 1 3 1 2 1 7 1 2 1 2 1 15 1 21 1 1 1 4 1 2 1 18 1 9 1 7 2 3 2 2 1 3 1 3 2 2 1 3 1 2 1 11 1 5 1 1 1 5 1 16 1 1 1 3 2 3 1 7 1 6 1 20 1 21 1 2 3 11 1 11 1 18 1 4 1 2 1 1 1 2 1 3 1 38 1 9 1 2 1 3 1 4 1 4 2 3 1 3 1 1 1 2 1 7 1 4 1 43 2 9 1 9 1 32 1 8 1 6 3 27 1 13 1 17 1 11 2 1 1 1 1 18 1 6 1 5 1 8 1 12 1 5 1 11 1 8 1 5 2 13 1 3 1 14 1 11 1 6 1 2 1 34 1 33 1 5 1 6 2 13 1 20 1 2 1 2 2 5 1 8 2 1 1 3 1 2 1 10 1 2 2 7 2 6 1 8 1 8 1 21 1 3 2 18 1 1 1 4 1 5 1 12 1 11 1 3 1 8 1 19 1 9 1 1 1 4 1 6 1 5 1 21 1 12 1 20 1 6 1 4 1 11 1 1 1 6 1 5 2 12 2 12 1 17 1 2 2 11 1 7 1 8 1 6 1 4 1 19 1 7 2 11 1 2 1 21 1 10 1 28 1 19 1 7 1 37 1 2 1 9 1 8 1 2 1 2 1 3 1 2 1 7 1 7 1 5 1 3 1 21 1 1 1 16 2 6 2 1 1 4 1 20 1 8 1 10 2 10 2 11 1 14 1 6 1 19 1 2 1 1 1 7 1 11 1 2 1 4 1 21 1 7 1 10 1 6 1 14 1 4 1 4 2 7 1 5 1 6 1 1 1 3 1 2 1 9 2 5 1 3 1 15 1 2 1 5 1 5 1 1 1 4 1 6 1 2 1 13 1 10 1 3 1 1 2 15 1 2 1 45 1 11 1 8 2 8 2 5 1 6 1 14 1 4 1 7 1 19 1 13 1 9 1 2 1 11 1 4 1 4 1 4 1 12 1 11 1 1 1 34 2 7 1 2 1 13 2 5 2 1 1 2 1 12 1 19 2 16 1 7 1 8 1 5 1 16 1 4 1 3 1 14 1 4 1 16 1 8 1 8 1 3 1 5 1 16 1 26 1 2 1 17 1 18 1 11 1 33 2 3 1 5 1 3 1 2 1 7 1 10 2 13 2 13 1 4 1 15 1 10 1 6 1 2 2 1 1 7 1 4 2 14 2 1 1 22 1 2 2 13 2 5 1 4 1 6 1 21 1 18"/>
<use href="#s2" stroke="#0017ff" stroke-dashoffset="-7" stroke-dasharray="1 5 1 7 1 12 1 8 1 16 2 2 1 1 1 1 1 5 1 3 1 4 1 9 1 36 1 26 1 3 2 2 1 26 1 23 1 11 1 15 1 24 1 33 1 4 1 28 1 18 1 20 1 5 1 10 1 13 3 16 1 54 1 21 1 4 1 7 1 25 1 1 1 2 1 31 1 22 1 24 1 39 1 10 1 29 1 12 1 1 1 20 1 19 1 5 1 14 1 16 1 23 1 5 1 36 1 48 1 3 1 26 1 1 1 13 1 84 1 1 1 1 1 48 1 35 1 32 14 8 1 2 1 6 1 5 1 6 1 4 1 13 2 3 1 3 1 26 1 26 1 4 1 2 1 63 1 19 1 26 1 2 1 9 1 6 1 29 1 3 1 4 1 5 5 41 1 8 2 26 1 12 1 6 1 29 1 6 1 17 1 22 1 3 1 2 1 7 1 13 1 7 1 18 1 28 1 23 1 17 2 25 2 7 3 34 1 7 1 8 1 47 2 48 1 55 1 26 2 45 1 19 2 20 1 2 1 2 1 47 1 7 1 16 1 11 1 6 1 11 1 46 1 27 1 5 1 108 1 36 2 1 1 34 1 47 1 18 1 14 1 1 1 34 1 23 1 1 1 53 1 32 2 11 1 8 1 3 2 33 2 38 1 114 1 1 1 2 1 15 1 8 1 8 1 6 1 46 1 13 1 3 1 5 1 14 1 36 1 3 1 2 1 1 1 20 2 9 1 26 1 58 1 40 1 56 1 4 1 23 1 1 1 18 1 23 1 41 1 25 1 22 1 53 1 25 1 15 1 75 1 1 1 24 1 7 1 5 1 2 1 4 1 10 1 11 1 37 2 48 1 40 1 14 1 99 1 51 1 74 2 89 1 14 1 120 1 7 1 56 1 6 1 1 1 18 1 16 1 2 1 59 1 16 1 23 1 66 1 28 1 10 1 32 1 51 1 26 1 70 1 58 1 5 1 26 1 85 1 2 1 55 1 12 1 2 1 10 1 63 1 62 1 1 2 3 1 3 2 61 1 22 2 36 1 3 1 12 1 17 1 1 1 11 2 64 1 6 1 16 3 31 1 53 1 22 2 58 1 29 1 2 1 31 1 13 1 76 1 25 1 20 1 4 1 39 1 41 1 37 1 11 1 20 1 114 1 11 1 79 1 11 1 17 1 11 1 33 1 6 1 66 1 104 1 114 1 29 1 29 1 16 1 11 1 11 1 14 1 26 1 2 1 37 1 39 1 40 1 21 1 50 1 11 1 47 1 33 1 40 1 7 1 30 2 22 1 64 2 67 1 57 1 7 1 81 1 3 2 16 1 1 1 1 1 43 1 24 1 4 1 4 1 33 1 20 1 5 1 12 1 13 1 21 1 71 1 17 1 91 1 18 1 5 1 44 1 40 1 26 1 25 1 22 1 65 2 12 1 30 1 4 1 72 1 13 1 17 1 64 1 78 1 13 1 115 1 6 1 89 1 46 2 13 1 23 1 25 1 33 1 101 1 3 1 8 1 31 1 52 1 27 1 4 1 13 1 6 1 6 1 26 1 20 1 12 1 7 1 49 1 14 1 61 1 27 1 59 1 38 1 41 1 6 1 28 1 8 1 35 1 21 1 24 1 19 1 2 1 52 1 24 1 8 1 12 1 18 2 28 1 11 1 30 1 17 1 15 1 2 1 90 1 27 1 63 1 9 1 12 1 74 2 5 1 38 1 34 1 22 1 54 1 8 1 26 1 112 1 105 1 13 1 20 1 2 1 26 1 14 1 63"/>
<use href="#s2" stroke="#004dff" stroke-dashoffset="-7" stroke-dasharray="1 13 1 21 1 20 1 1 1 1 1 5 1 82 1 3 2 2 1 50 1 11 1 40 1 33 1 4 1 74 1 10 1 13 1 1 1 93 1 4 1 33 1 84 1 39 1 55 1 102 1 5 1 36 1 52 1 129 1 50 1 35 1 32 14 8 1 2 1 6 1 5 1 11 1 14 1 34 1 26 1 4 1 2 1 63 1 49 1 46 1 3 1 10 5 41 1 8 2 26 1 49 1 24 1 51 1 7 1 90 1 34 2 52 1 48 1 48 1 83 1 90 1 2 1 47 1 55 1 46 1 142 1 74 1 81 1 1 1 34 1 79 1 58 2 34 1 158 1 33 1 71 1 64 1 1 1 244 1 86 1 331 1 48 1 282 2 104 1 120 1 112 1 59 1 40 1 106 1 111 1 251 1 221 1 126 1 12 1 19 1 12 1 71 1 50 1 76 1 59 1 29 1 48 1 396 1 91 1 11 1 70 1 66 1 104 1 174 1 28 1 26 1 67 1 80 1 84 1 47 1 82 1 336 1 23 1 70 1 4 1 65 1 12 1 107 1 17 1 110 1 91 1 52 1 22 1 66 1 43 1 4 1 86 1 82 1 208 1 96 1 85 1 25 1 233 1 27 1 25 1 6 1 60 1 261 1 86 1 35 1 46 1 19 1 102 1 109 1 15 1 121 1 86 1 74 1 45 1 34 1 86 1 139 1 143 1 105"/>
<use href="#s2" stroke="#008fff" stroke-dashoffset="-7" stroke-dasharray="1 13 1 21 1 22 1 7 1 90 1 62 1 74 1 79 1 125 1 33 1 84 1 39 1 435 1 35 1 33 13 11 1 6 1 99 1 163 1 3 1 10 5 41 1 8 2 76 1 84 1 90 1 34 2 52 1 48 1 223 1 2 1 150 1 142 1 74 1 293 1 158 1 33 1 138 1 244 1 86 1 331 1 331 2 104 1 805 1 381 1 84 1 663 1 91 1 11 1 838 1 336 1 94 1 412 1 52 1 22 1 703 1 261 1 442 1 1173"/>
<use href="#s2" stroke="#05dbf6" stroke-dashoffset="-21" stroke-dasharray="1 206 1 74 1 205 1 664 1 2 2 1 7 282 1 14 4 51 1 288 2 325 1 153 1 843 1 663 1 332 1 2133 1 4368"/>
<use href="#s2" stroke="#3effb9" stroke-dashoffset="-1174" stroke-dasharray="1 2 2 1 3 1 1 1 1 298 2 341 2 325 1 153 1 843 1 8652"/>
<use href="#s2" stroke="#8cff6b" stroke-dashoffset="-1178" stroke-dasharray="1 1 2 2 1 1 1 298 1 342 2 1323 1 8656"/>
<use href="#s2" stroke="#e0f719" stroke-dashoffset="-1178" stroke-dasharray="1 650 1 1323 1 8656"/>
<use href="#s2" stroke="#ffa100" stroke-dashoffset="-3153" stroke-dasharray="1 10631"/>
</g>
<path d="M1275.4 430.3L1277.9 430.3L1280.5 430.3L1283.1 430.3L1285.6 430.3L1288.2 430.3L1290.7 430.3L1293.3 430.3L1295.8 430.3L1298.4 430.3L1301 430.3L1303.5 430.3L1306.1 430.3L1308.6 430.3L1311.2 430.3L1313.7 430.3L1316.3 430.3L1318.9 430.3L1321.4 430.3L1324 430.3L1326.5 430.3L1329.1 430.3L1331.6 430.3L1334.2 430.3L1336.8 430.3L1339.3 430.3L1341.9 430.3L1344.4 430.3L1347 428.9L1349.5 427.5L1350.8 426.1L1354.7 423.3L1357.2 420.5L1359.8 417.7L1362.3 414.8L1363.6 412L1364.9 409.2L1364.9 409.2L1364.9 406.4L1365.5 403.6L1366.2 397.9L1367.5 392.3L1367.5 386.7L1368.1 381L1368.1 381L1368.7 375.4L1368.7 369.7L1369 358.5L1369.4 347.2L1369.4 347.2L1369.7 335.9L1369.8 324.7L1370.2 302.1L1370.3 279.6L1370.3 279.6L1370.6 257L1371.1 234.5L1372.5 189.4L1372.8 144.3" fill="none" stroke="#f0f" stroke-opacity=".16" stroke-width="1.2"/>
<g fill="#f0f" stroke="#000" stroke-width=".7">
<circle cx="1275.4" cy="430.3" r="3.1" fill-opacity=".12" stroke-opacity=".12"/>
<circle cx="1277.9" cy="430.3" r="3.1" fill-opacity=".12" stroke-opacity=".12"/>
<circle cx="1280.5" cy="430.3" r="3.1" fill-opacity=".12" stroke-opacity=".12"/>
<circle cx="1283.1" cy="430.3" r="3.1" fill-opacity=".12" stroke-opacity=".12"/>
<circle cx="1285.6" cy="430.3" r="3.1" fill-opacity=".12" stroke-opacity=".12"/>
<circle cx="1288.2" cy="430.3" r="3.1" fill-opacity=".12" stroke-opacity=".12"/>
<circle cx="1290.7" cy="430.3" r="3.1" fill-opacity=".12" stroke-opacity=".12"/>
<circle cx="1293.3" cy="430.3" r="3.1" fill-opacity=".12" stroke-opacity=".12"/>
<circle cx="1295.8" cy="430.3" r="3.1" fill-opacity=".12" stroke-opacity=".12"/>
<circle cx="1298.4" cy="430.3" r="3.1" fill-opacity=".12" stroke-opacity=".12"/>
<circle cx="1301" cy="430.3" r="3.1" fill-opacity=".12" stroke-opacity=".12"/>
<circle cx="1303.5" cy="430.3" r="3.1" fill-opacity=".12" stroke-opacity=".12"/>
<circle cx="1306.1" cy="430.3" r="3.1" fill-opacity=".12" stroke-opacity=".12"/>
<circle cx="1308.6" cy="430.3" r="3.1" fill-opacity=".12" stroke-opacity=".12"/>
<circle cx="1311.2" cy="430.3" r="3.1" fill-opacity=".12" stroke-opacity=".12"/>
<circle cx="1313.7" cy="430.3" r="3.1" fill-opacity=".12" stroke-opacity=".12"/>
<circle cx="1316.3" cy="430.3" r="3.1" fill-opacity=".12" stroke-opacity=".12"/>
<circle cx="1318.9" cy="430.3" r="3.1" fill-opacity=".12" stroke-opacity=".12"/>
<circle cx="1321.4" cy="430.3" r="3.1" fill-opacity=".12" stroke-opacity=".12"/>
<circle cx="1324" cy="430.3" r="3.1" fill-opacity=".12" stroke-opacity=".12"/>
<circle cx="1326.5" cy="430.3" r="3.1" fill-opacity=".12" stroke-opacity=".12"/>
<circle cx="1329.1" cy="430.3" r="3.1" fill-opacity=".12" stroke-opacity=".12"/>
<circle cx="1331.6" cy="430.3" r="3.1" fill-opacity=".12" stroke-opacity=".12"/>
<circle cx="1334.2" cy="430.3" r="3.1" fill-opacity=".12" stroke-opacity=".12"/>
<circle cx="1336.8" cy="430.3" r="3.1" fill-opacity=".12" stroke-opacity=".12"/>
<circle cx="1339.3" cy="430.3" r="3.1" fill-opacity=".12" stroke-opacity=".12"/>
<circle cx="1341.9" cy="430.3" r="3.1" fill-opacity=".12" stroke-opacity=".12"/>
<circle cx="1344.4" cy="430.3" r="3.1" fill-opacity=".27" stroke-opacity=".27"/>
<circle cx="1347" cy="428.9" r="3.1" fill-opacity=".27" stroke-opacity=".27"/>
<circle cx="1349.5" cy="427.5" r="3.1" fill-opacity=".27" stroke-opacity=".27"/>
<circle cx="1350.8" cy="426.1" r="2.9" fill-opacity=".22" stroke-opacity=".22"/>
<circle cx="1354.7" cy="423.3" r="2.9" fill-opacity=".24" stroke-opacity=".24"/>
<circle cx="1357.2" cy="420.5" r="2.9" fill-opacity=".24" stroke-opacity=".24"/>
<circle cx="1359.8" cy="417.7" r="2.9" fill-opacity=".24" stroke-opacity=".24"/>
<circle cx="1362.3" cy="414.8" r="2.9" fill-opacity=".24" stroke-opacity=".24"/>
<circle cx="1363.6" cy="412" r="2.9" fill-opacity=".24" stroke-opacity=".24"/>
<circle cx="1364.9" cy="409.2" r="2.9" fill-opacity=".22" stroke-opacity=".22"/>
<circle cx="1364.9" cy="406.4" r="2.9" fill-opacity=".2" stroke-opacity=".2"/>
<circle cx="1364.9" cy="409.2" r="2.9" fill-opacity=".23" stroke-opacity=".23"/>
<circle cx="1365.5" cy="403.6" r="2.9" fill-opacity=".27" stroke-opacity=".27"/>
<circle cx="1366.2" cy="397.9" r="2.9" fill-opacity=".27" stroke-opacity=".27"/>
<circle cx="1367.5" cy="392.3" r="2.9" fill-opacity=".25" stroke-opacity=".25"/>
<circle cx="1367.5" cy="386.7" r="2.9" fill-opacity=".25" stroke-opacity=".25"/>
<circle cx="1368.1" cy="381" r="2.9" fill-opacity=".2" stroke-opacity=".2"/>
<circle cx="1368.7" cy="375.4" r="2.9" fill-opacity=".14" stroke-opacity=".14"/>
<circle cx="1368.1" cy="381" r="2.9" fill-opacity=".25" stroke-opacity=".25"/>
<circle cx="1368.7" cy="369.7" r="2.9" fill-opacity=".2" stroke-opacity=".2"/>
<circle cx="1369" cy="358.5" r="2.9" fill-opacity=".23" stroke-opacity=".23"/>
<circle cx="1369.4" cy="347.2" r="2.9" fill-opacity=".15" stroke-opacity=".15"/>
<circle cx="1369.7" cy="335.9" r="2.9" fill-opacity=".17" stroke-opacity=".17"/>
<circle cx="1369.4" cy="347.2" r="3" fill-opacity=".3" stroke-opacity=".3"/>
<circle cx="1369.8" cy="324.7" r="3" fill-opacity=".3" stroke-opacity=".3"/>
<circle cx="1370.2" cy="302.1" r="3" fill-opacity=".17" stroke-opacity=".17"/>
<circle cx="1370.3" cy="279.6" r="3" fill-opacity=".25" stroke-opacity=".25"/>
<circle cx="1370.6" cy="257" r="3" fill-opacity=".17" stroke-opacity=".17"/>
<circle cx="1370.3" cy="279.6" r="3.1" fill-opacity=".4" stroke-opacity=".4"/>
<circle cx="1371.1" cy="234.5" r="3.1" fill-opacity="1" stroke-opacity="1"/>
<circle cx="1372.5" cy="189.4" r="3.1" fill-opacity=".9" stroke-opacity=".9"/>
<circle cx="1372.8" cy="144.3" r="3.1" fill-opacity=".45" stroke-opacity=".45"/>
</g><g fill="#ff0" stroke="#000" stroke-width=".9">
<circle cx="1368.1" cy="381" r="7" fill-opacity=".45" stroke-opacity=".32"/>
<circle cx="1368.7" cy="369.7" r="7" fill-opacity=".36" stroke-opacity=".25"/>
<circle cx="1369" cy="358.5" r="7" fill-opacity=".42" stroke-opacity=".29"/>
<circle cx="1369.4" cy="347.2" r="7" fill-opacity=".27" stroke-opacity=".19"/>
<circle cx="1369.7" cy="335.9" r="7" fill-opacity=".3" stroke-opacity=".21"/>
</g>
</g>
<rect x="1206.5" y="99.5" width="328" height="361" fill="none" stroke="#000" stroke-width="1.39"/>
<text transform="translate(1370.01 92.2) scale(.99 1)" class="t">scale=32</text>
<rect x="1554.5" y="99.5" width="18" height="361" fill="url(#jet)"/>
<text transform="translate(1577.51 465) scale(.975 1.06)" class="s">0.0</text>
<text transform="translate(1577.51 426) scale(.975 1.06)" class="s">0.8</text>
<text transform="translate(1577.51 388) scale(.975 1.06)" class="s">1.6</text>
<text transform="translate(1577.51 349) scale(.975 1.06)" class="s">2.4</text>
<text transform="translate(1577.51 311) scale(.975 1.06)" class="s">3.2</text>
<text transform="translate(1577.51 272) scale(.975 1.06)" class="s">4.0</text>
<text transform="translate(1577.51 233) scale(.975 1.06)" class="s">4.8</text>
<text transform="translate(1577.51 195) scale(.975 1.06)" class="s">5.6</text>
<text transform="translate(1577.51 156) scale(.975 1.06)" class="s">6.4</text>
<text transform="translate(1577.51 117) scale(.975 1.06)" class="s">7.2</text>
<path d="M1572.5 421.5h-6.2 M1572.5 383.5h-6.2 M1572.5 344.5h-6.2 M1572.5 305.5h-6.2 M1572.5 267.5h-6.2 M1572.5 228.5h-6.2 M1572.5 189.5h-6.2 M1572.5 151.5h-6.2 M1572.5 112.5h-6.2" stroke="#000" stroke-width=".8" fill="none"/>
<rect x="1554.5" y="99.5" width="18" height="361" fill="none" stroke="#000" stroke-width="1.39"/>
</g>
<g id="p64">
<rect x="224.5" y="532.5" width="328" height="361" fill="#fff"/>
<clipPath id="c3"><rect x="224.5" y="532.5" width="328" height="361"/></clipPath>
<g clip-path="url(#c3)">
<g transform="translate(224 892.8) scale(1 -5.63636)" shape-rendering="crispEdges" fill="none">
<rect width="327" height="64" fill="#00008e"/>
<defs><path id="s3" d="M-2 .5H329V1.5H-2V2.5H329V3.5H-2V4.5H329V5.5H-2V6.5H329V7.5H-2V8.5H329V9.5H-2V10.5H329V11.5H-2V12.5H329V13.5H-2V14.5H329V15.5H-2V16.5H329V17.5H-2V18.5H329V19.5H-2V20.5H329V21.5H-2V22.5H329V23.5H-2V24.5H329V25.5H-2V26.5H329V27.5H-2V28.5H329V29.5H-2V30.5H329V31.5H-2V32.5H329V33.5H-2V34.5H329V35.5H-2V36.5H329V37.5H-2V38.5H329V39.5H-2V40.5H329V41.5H-2V42.5H329V43.5H-2V44.5H329V45.5H-2V46.5H329V47.5H-2V48.5H329V49.5H-2V50.5H329V51.5H-2V52.5H329V53.5H-2V54.5H329V55.5H-2V56.5H329V57.5H-2V58.5H329V59.5H-2V60.5H329V61.5H-2V62.5H329V63.5H-2"/></defs>
<use href="#s3" stroke="#0000b7" stroke-dashoffset="-2" stroke-dasharray="3 1 3 2 1 1 1 3 3 1 1 6 1 1 1 2 2 2 1 3 5 1 5 4 1 2 2 1 4 4 1 2 4 3 5 2 13 7 1 4 2 4 3 1 1 4 7 4 1 7 3 4 2 2 2 1 3 2 2 3 4 4 1 4 2 4 1 1 2 1 1 1 2 10 2 2 6 5 1 3 3 1 2 5 3 6 2 1 2 6 1 5 2 4 1 1 3 1 1 1 1 6 3 3 1 1 2 1 2 2 5 4 2 3 3 1 2 3 1 1 2 11 1 5 2 8 5 1 1 3 4 2 4 1 2 5 6 2 6 1 2 5 2 1 2 2 2 1 2 1 1 1 1 2 7 2 1 1 3 1 1 5 2 1 5 1 3 1 5 1 11 1 3 1 1 1 4 2 4 8 7 2 1 2 2 2 2 1 2 1 3 3 2 2 2 1 2 3 1 1 9 1 3 2 2 3 2 1 2 1 1 1 1 4 1 2 6 1 2 1 4 2 1 1 3 3 4 1 10 2 2 3 2 1 1 1 4 2 1 4 2 1 3 1 1 1 4 1 1 4 4 5 2 4 3 2 1 1 5 1 1 1 1 2 1 1 4 2 1 3 2 2 8 1 6 2 3 1 3 2 1 1 1 1 1 4 1 2 1 1 2 2 1 3 3 1 2 1 2 4 3 2 2 4 1 1 1 1 4 2 1 3 1 3 1 2 2 1 2 1 1 3 1 4 4 3 6 1 1 7 6 2 5 1 2 1 3 1 1 5 8 3 1 4 3 1 1 2 6 1 1 1 3 1 3 2 4 2 3 2 4 2 5 4 2 2 3 9 5 3 1 5 6 3 6 1 6 1 2 1 3 1 3 6 7 1 6 1 1 1 3 1 2 3 2 1 4 1 2 6 7 2 2 2 3 2 1 6 2 1 1 5 3 2 8 1 3 6 2 16 1 1 1 1 8 4 1 3 3 8 2 1 2 1 2 2 2 2 1 2 1 4 2 4 1 14 2 2 3 1 8 3 1 1 1 7 2 1 2 4 1 2 3 3 3 3 4 5 2 3 1 1 4 4 3 2 3 2 7 2 3 6 1 2 2 1 1 3 2 3 1 1 4 1 2 3 1 9 3 1 1 2 2 2 2 1 6 3 1 3 2 3 5 4 1 2 2 2 2 3 2 1 2 3 1 5 2 2 2 1 2 1 3 1 1 1 2 3 2 6 1 4 3 6 1 1 5 1 4 1 1 8 3 5 1 6 2 3 1 1 2 9 1 2 2 1 2 1 5 5 1 2 6 1 1 3 1 1 2 1 2 2 6 3 2 2 1 4 1 1 2 2 4 1 1 2 1 1 1 1 2 5 2 5 2 3 1 2 3 1 1 3 2 1 1 1 2 1 1 1 2 12 5 3 1 6 2 3 4 9 2 1 10 8 5 1 6 5 1 1 1 2 2 2 2 3 2 1 1 2 1 1 2 1 6 1 1 1 6 2 2 3 4 2 2 2 1 2 1 1 4 5 8 2 1 1 2 1 11 2 2 16 3 6 2 3 2 2 3 3 2 1 13 2 4 1 1 2 3 1 2 1 14 2 5 3 4 1 5 1 2 1 8 1 2 4 2 1 3 1 2 1 2 6 1 2 2 1 4 2 1 1 3 2 2 2 1 3 11 13 1 3 7 2 5 5 2 1 2 2 1 8 1 6 2 1 2 2 1 2 4 1 1 6 1 7 1 4 6 6 4 2 1 3 2 5 1 1 3 3 1 2 3 3 2 2 6 1 11 1 1 1 1 1 1 5 1 1 3 1 1 3 1 1 3 2 2 4 1 2 2 3 2 1 3 5 1 1 1 4 2 4 2 1 2 6 1 2 2 1 2 1 3 1 4 2 1 2 3 1 1 3 4 1 3 2 7 2 2 1 2 2 1 1 1 2 1 1 3 1 2 5 4 1 1 1 5 2 2 3 1 1 4 5 1 2 1 6 1 4 2 7 1 1 5 1 1 3 3 1 2 3 1 1 1 1 5 3 3 1 4 3 4 3 4 2 5 2 3 2 2 2 1 1 1 3 1 11 2 1 1 2 6 3 1 9 1 3 2 1 1 2 4 6 3 4 1 3 1 1 10 2 3 2 1 1 2 3 1 5 3 3 3 2 1 16 3 3 3 2 1 5 2 2 2 2 1 2 3 3 1 3 1 4 2 1 2 1 1 3 2 5 2 2 2 1 2 3 3 3 1 1 5 1 1 1 1 4 1 8 1 1 1 1 8 6 2 1 1 1 5 5 1 2 3 4 2 2 2 2 3 2 2 2 3 2 3 1 1 2 2 1 1 5 4 1 2 3 2 2 5 1 6 1 3 1 1 3 4 1 2 1 2 1 3 2 2 7 2 1 4 1 12 7 2 5 2 1 1 1 2 1 5 1 2 1 2 4 1 4 4 1 2 4 6 2 2 8 6 2 1 1 1 3 1 4 2 3 2 1 1 1 2 5 6 2 1 1 1 1 2 3 5 1 2 2 3 1 1 2 1 5 1 2 1 1 7 13 4 2 2 2 4 2 5 2 4 1 3 2 1 1 3 1 2 1 1 1 1 1 1 1 1 8 1 3 3 1 4 2 1 2 1 5 3 2 1 4 1 5 3 1 2 3 4 4 1 6 3 1 1 3 2 1 2 2 1 6 3 5 1 2 8 1 7 2 3 1 2 3 6 1 1 1 3 1 2 6 2 1 1 1 2 1 1 3 1 3 1 4 2 1 1 5 1 4 1 1 2 1 4 2 2 1 2 1 5 3 1 1 4 6 3 4 1 3 3 8 1 4 4 1 1 1 1 2 7 1 1 1 2 1 2 8 1 1 2 1 1 1 6 1 1 2 2 1 3 1 1 1 1 1 3 5 1 5 5 1 2 4 2 1 1 5 1 2 1 2 1 6 4 2 1 7 1 1 3 7 2 2 1 2 1 1 3 1 1 2 3 2 2 5 1 3 1 4 2 1 1 3 2 1 1 1 2 1 4 2 2 3 2 6 1 2 4 9 1 2 2 2 1 2 1 2 1 1 2 3 3 1 2 2 2 3 1 3 7 1 2 2 2 2 3 2 3 6 3 2 4 4 1 2 2 2 1 5 2 1 1 2 1 1 3 7 1 2 1 1 5 2 11 9 3 4 1 1 1 3 1 1 1 1 3 1 1 1 4 4 1 1 2 1 3 6 1 1 1 2 1 1 5 1 4 1 7 1 1 9 1 1 3 2 1 1 1 2 1 2 1 3 1 3 1 4 4 3 4 2 1 2 2 1 5 4 1 2 1 2 4 5 2 1 2 4 3 4 2 9 2 1 3 1 1 2 16 1 3 1 1 1 2 2 7 1 4 2 2 5 4 4 1 5 2 1 1 9 3 13 4 2 5 10 3 2 1 1 2 5 2 5 1 9 6 1 6 5 2 3 6 4 1 5 1 10 2 1 3 4 4 2 4 1 1 2 3 4 3 1 3 2 1 4 3 2 1 2 3 2 2 3 1 2 1 6 3 6 4 1 1 5 1 2 2 1 2 4 5 1 1 11 1 2 1 1 2 3 4 1 1 8 4 3 1 12 2 4 5 1 1 3 3 12 1 1 4 2 2 2 3 1 2 3 1 2 3 5 1 1 1 5 1 1 1 1 3 1 1 4 6 5 1 2 3 5 1 9 1 1 2 2 1 1 3 5 4 3 1 3 3 6 1 3 3 13 4 2 6 7 1 1 3 2 3 11 7 6 1 3 1 1 1 7 1 3 4 6 2 1 1 1 4 1 3 1 1 3 2 3 2 2 3 1 1 3 3 3 1 8 2 4 2 3 1 3 2 1 1 3 1 1 2 2 3 4 2 6 1 1 3 14 1 5 3 1 1 1 2 1 6 2 1 2 5 1 1 2 9 1 1 3 2 3 1 3 5 2 4 1 2 16 2 2 1 1 6 3 2 1 2 1 2 5 1 2 2 2 2 1 3 4 3 1 2 6 1 4 2 6 1 7 4 3 2 1 3 7 1 2 2 8 1 1 1 1 2 1 3 1 4 2 1 2 3 2 2 2 4 3 1 2 1 1 3 3 2 1 7 3 1 3 2 4 3 2 1 1 2 1 1 3 2 2 1 2 7 6 1 1 1 1 4 2 2 5 1 1 4 1 3 1 1 2 1 6 4 1 1 2 4 3 6 3 1 2 4 10 2 2 9 5 2 1 1 1 1 7 2 3 2 2 2 1 1 2 1 8 2 5 7 1 1 1 3 1 2 4 1 1 1 3 1 1 8 1 2 3 1 2 1 3 1 1 1 3 2 1 2 2 1 2 2 2 1 2 2 9 2 1 1 5 3 2 2 5 1 1 1 4 3 1 3 5 1 3 1 1 4 3 4 2 3 5 1 1 2 3 1 2 1 2 3 1 3 2 1 1 4 4 1 5 3 3 2 6 3 2 1 6 4 9 1 2 1 1 1 2 8 3 1 1 3 1 3 6 1 1 1 3 4 6 1 3 3 3 2 3 1 9 2 3 1 1 3 1 2 7 1 2 3 4 6 1 8 2 5 3 1 1 2 3 1 2 1 10 1 2 1 2 4 1 2 6 6 2 2 2 1 1 4 4 2 1 1 10 2 3 1 2 3 1 1 4 3 2 2 1 2 1 3 7 2 2 1 3 2 2 1 1 3 1 1 1 2 2 1 2 1 1 3 2 2 3 1 3 6 2 1 1 2 1 1 2 10 2 1 1 2 3 1 3 1 2 3 2 1 1 4 6 1 1 4 3 3 1 6 2 4 1 2 1 1 3 3 7 2 2 2 1 1 10 5 4 2 3 1 2 2 4 1 1 1 9 2 1 6 6 2 3 3 2 2 1 2 1 1 2 1 5 1 3 6 3 2 2 1 4 2 1 1 2 1 5 6 1 6 2 1 2 2 2 1 2 4 3 3 4 1 1 2 2 5 1 2 7 2 4 2 2 3 5 1 5 2 1 1 1 2 7 4 1 3 1 2 1 3 1 3 1 1 1 6 1 2 1 1 1 2 1 2 3 1 7 1 1 1 4 2 3 2 7 2 3 1 6 1 3 3 1 3 1 2 4 4 1 2 2 1 4 1 10 3 4 2 5 6 2 1 4 1 3 2 1 1 6 1 1 1 2 1 1 3 2 2 5 1 1 2 1 6 3 1 1 3 2 4 10 4 1 2 1 2 1 3 2 1 8 1 1 1 3 3 7 2 2 4 10 1 2 5 2 1 1 1 1 2 5 1 1 2 1 2 1 2 8 4 1 2 5 4 2 3 2 1 2 5 1 3 2 1 2 4 3 5 1 1 1 1 2 2 2 1 3 1 4 1 1 3 5 6 10 4 3 2 1 3 2 1 2 1 1 1 1 1 2 2 4 2 5 1 1 5 4 3 3 4 1 2 2 4 3 1 2 1 2 1 4 1 7 3 2 1 1 1 1 1 2 1 3 2 4 2 3 1 1 1 4 2 3 1 1 4 5 3 4 3 2 4 2 3 2 2 4 2 4 2 1 3 1 1 3 1 1 6 3 1 2 2 8 1 7 1 1 1 4 3 4 2 5 2 2 1 7 1 6 2 1 1 2 3 1 2 5 1 2 3 1 5 4 2 5 4 1 3 9 1 3 2 2 5 3 2 1 1 1 3 1 5 2 4 6 1 1 3 2 1 9 5 2 2 5 1 5 1 5 7 1 2 3 1 1 1 2 1 6 1 10 1 1 3 12 3 1 3 4 3 2 4 2 1 4 2 3 5 1 5 1 4 2 1 1 3 3 1 3 1 3 4 4 1 1 1 3 3 2 1 11 1 3 2 1 1 1 1 3 2 1 1 2 1 2 3 1 2 3 2 14 1 3 1 2 2 3 2 1 3 2 3 4 3 4 3 2 2 1 1 1 1 3 7 9 2 3 2 1 2 1 1 2 2 2 2 4 1 1 2 2 2 9 1 1 4 4 4 1 2 1 1 2 3 2 1 1 1 2 1 2 2 4 1 2 1 5 1 2 2 3 1 5 3 7 2 1 1 2 1 1 2 1 2 3 12 1 1 1 3 3 1 2 3 12 1 2 1 1 2 6 1 2 1 4 1 3 1 2 5 1 3 3 1 2 1 7 1 2 1 1 3 2 2 7 1 1 1 1 3 1 2 9 2 2 8 1 1 2 5 2 2 2 1 4 1 4 2 5 2 1 3 3 2 2 3 5 3 4 1 3 6 7 1 1 1 11 3 11 1 5 1 2 2 1 2 3 3 4 1 2 1 1 2 4 6 1 6 4 1 1 1 7 1 1 2 11 1 3 3 1 1 1 2 12 1 2 2 1 1 1 1 1 1 1 4 1 4 9 2 3 1 1 3 2 2 2 4 5 2 1 1 1 2 6 3 5 2 3 1 1 3 1 2 3 3 3 4 1 3 4 7 4 3 1 1 1 6 1 1 1 4 1 1 2 2 2 1 1 3 6 3 3 10 1 1 3 3 4 1 3 6 1 1 4 4 2 1 3 5 5 1 5 4 9 2 3 3 1 1 2 1 2 1 3 1 1 4 3 4 1 3 3 5 4 3 2 2 1 1 1 1 4 1 1 1 2 1 5 1 3 2 3 1 4 1 2 3 2 2 2 3 1 1 3 5 2 1 1 3 5 1 1 2 7 1 3 1 7 9 4 1 1 2 4 1 4 1 2 3 1 1 2 2 3 1 4 1 4 1 3 2 2 1 1 1 1 4 2 1 5 4 2 2 5 1 1 1 4 2 12 2 6 1 4 2 2 1 2 2 6 2 2 3 2 2 2 3 2 2 4 1 10 3 1 3 5 1 11 1 7 5 5 3 1 1 1 1 2 1 1 1 1 1 1 1 1 1 5 1 2 2 1 1 2 1 11 2 5 5 2 1 1 2 1 1 3 2 2 5 2 1 3 1 5 2 10 1 6 1 1 2 2 2 5 2 5 2 3 1 7 2 7 1 6 2 3 2 5 1 5 2 1 1 1 3 2 2 2 1 2 2 2 1 1 1 2 2 2 1 5 1 1 1 2 1 4 5 3 1 4 2 7 1 1 4 1 2 7 1 4 1 3 1 1 4 7 1 1 1 8 1 7 3 1 2 1 3 4 2 1 2 2 2 2 1 1 1 5 3 3 2 1 1 3 2 1 1 3 2 4 1 3 1 4 1 5 2 1 4 4 3 2 1 1 4 3 2 2 1 2 3 2 1 6 1 2 1 2 1 11 2 3 1 9 3 2 9 2 1 2 2 2 2 2 1 2 1 1 7 3 1 2 4 1 2 6 1 8 3 8 1 2 3 3 6 1 4 4 2 6 2 3 1 1 1 1 3 1 2 1 4 1 1 9 4 4 2 1 1 2 1 3 3 13 3 2 1 3 3 2 2 1 1 8 6 3 1 1 1 3 3 3 1 3 2 9 2 2 3 2 3 1 1 4 2 4 1 1 5 1 3 2 1 1 1 4 3 1 3 1 4 6 2 2 1 2 1 4 2 3 1 3 2 1 4 2 3 4 2 7 2 5 3 1 1 4 1 3 3 2 1 2 1 3 4 6 2 2 5 5 1 3 1 1 2 2 1 4 1 4 1 1 1 1 1 2 2 1 1 1 5 1 2 2 2 1 2 1 4 2 1 1 6 2 2 2 7 1 1 5 2 6 2 4 1 6 1 6 3 6 1 14 1 6 1 1 2 3 1 2 1 4 1 2 2 12 1 5 1 2 5 1 1 1 1 6 1 2 1 1 4 4 1 1 1 16 3 2 1 1 1 8 1 6 5 7 4 8 3 5 3 3 2 3 1 6 1 2 1 6 1 8 2 2 1 3 1 1 1 1 3 2 1 2 2 4 6 9 1 1 3 2 1 9 1 3 2 2 3 1 1 8 3 12 1 5 1 2 3 7 5 1 8 1 4 1 1 4 1 1 5 4 2 3 1 2 6 4 1 3 1 5 5 2 2 3 1 3 1 4 2 6 1 2 2 7 1 4 2 1 1 6 2 2 1 2 1 4 3 1 2 4 1 3 1 1 2 2 4 3 1 3 2 1 7 2 2 2 3 1 2 2 4 1 1 5 1 2 1 8 8 1 2 2 1 1 1 3 3 2 1 6 2 2 2 3 5 3 3 3 3 1 1 3 3 2 1 2 1 3 4 1 3 6 1 1 1 6 1 2 2 2 2 5 2 3 1 5 1 2 1 1 1 2 2 3 1 2 1 9 2 6 5 1 1 2 1 1 2 10 2 2 1 1 4 2 1 3 1 1 1 6 2 2 1 2 2 2 2 1 2 3 1 1 1 5 2 2 1 3 1 1 4 1 1 2 3 3 1 10 1 3 2 4 1 3 2 2 2 4 4 2 1 1 1 1 3 2 2 3 1 11 1 4 1 1 1 2 2 2 1 9 3 1 2 1 1 5 6 1 2 2 1 2 2 3 3 3 1 5 3 1 3 1 4 1 1 3 2 9 5 1 1 1 2 2 3 3 1 1 2 1 2 11 1 2 2 5 2 2 3 3 1 1 1 2 2 2 2 1 1 1 2 4 1 7 2 3 3 1 1 2 3 5 1 1 1 1 1 5 2 1 1 2 1 2 1 1 2 1 1 4 1 1 3 1 2 1 4 4 2 1 3 3 3 3 2 2 2 3 1 1 3 1 5 4 1 9 2 4 3 2 2 1 7 2 2 1 3 5 2 1 2 2 4 5 2 2 1 2 3 2 1 1 2 5 1 1 1 1 4 3 2 1 1 1 2 1 1 5 1 1 1 2 2 4 3 1 1 2 1 5 1 2 1 1 1 1 2 2 2 2 6 6 9 1 1 3 2 6 2 9 1 1 3 4 6 1 2 2 1 2 1 4 4 4 4 1 4 1 3 1 2 3 1 1 1 1 1 2 3 12 1 4 2 3 3 1 1 2 2 6 1 2 2 3 4 2 1 2 3 1 1 1 1 5 1 3 1 3 1 9 2 2 3 7 2 4 4 6 4 7 2 2 3 1 8 1 3 1 1 1 5 6 5 1 1 5 2 2 4 1 2 1 1 7 1 4 2 3 1 1 3 1 1 2 3 2 2 2 2 1 1 2 2 1 3 4 1 1 1 12 1 14 3 2 2 5 3 6 2 1 2 2 3 6 2 3 1 1 4 3 2 2 2 1 6 5 2 3 1 1 4 1 1 1 2 2 1 2 5 5 3 6 3 1 1 3 9 2 2 2 1 5 7 2 2 1 1 5 1 1 2 5 5 2 5 4 1 2 2 4 1 19 3 5 1 3 7 5 2 2 1 2 2 7 1 1 1 3 3 2 2 1 2 3 1 3 3 1 2 1 1 4 4 2 1 1 1 2 2 3 1 3 1 3 4 1 2 8 1 1 1 4 1 1 4 1 1 2 1 2 4 1 3 5 2 3 1 4 1 2 3 2 1 2 1 2 3 3 4 1 1 2 1 2 2 2 6 4 1 1 6 1 3 1 2 3 1 1 2 1 2 1 4 1 1 4 3 2 7 2 3 1 1 2 1 1 7 1 1 2 1 1 3 5 1 1 3 3 1 3 2 1 2 2 1 8 4 5 2 1 3 1 3 4 1 1 1 11 1 3 2 5 4 2 8 3 2 4 3 1 2 3 3 3 5 1 1 3 3 8 2 3 2 3 2 1 5 1 2 10 1 2 1 1 3 1 2 4 1 6 3 1 1 2 1 1 1 6 1 8 1 1 4 2 3 3 1 1 1 2 2 1 1 1 1 1 2 3 2 1 1 2 1 4 2 2 2 1 2 2 2 1 3 9 4 2 2 2 2 2 1 2 1 5 1 2 2 1 2 9 2 1 2 2 1 1 3 3 1 1 2 2 3 4 1 5 1 7 2 1 3 3 1 4 1 5 1 1 1 2 2 1 8 2 1 2 2 1 2 2 4 1 6 2 5 3 1 1 1 1 3 1 1 5 3 5 1 3 2 3 5 1 1 7 1 4 1 6 1 5 1 2 2 1 3 2 4 1 1 1 2 2 2 3 2 7 2 4 1 2 2 2 3 2 3 1 1 1 1 1 1 5 7 1 1 5 1 3 2 1 2 1 1 1 1 1 4 4 1 7 2 4 3 5 1 5 4 1 4 1 4 2 1 1 3 5 2 6 1 4 2 1 1 1 2 9 1 1 2 1 2 3 1 1 2 1 1 2 1 3 3 14 2 1 3 6 2 2 3 2 4 8 2 2 1 4 2 1 1 2 2 14 1 5 4 2 3 1 1 2 1 1 3 2 1 7 1 10 2 6 1 1 3 4 1 2 2 3 4 5 2 2 5 1 1 5 5 2 1 5 3 1 3 4 2 2 1 1 4 7 1 1 4 3 2 2 1 4 1 1 3 1 5 2 1 1 2 2 2 1 1 8 3 1 7 2 2 2 1 1 2 3 1 6 1 1 2 2 3 1 3 1 2 1 1 3 1 1 3 5 3 5 4 2 1 3 1 1 3 4 2 2 1 8 1 1 3 5 2 3 2 2 2 2 2 1 9 7 1 3 2 1 1 1 1 1 1 5 5 4 2 1 1 4 1 2 1 1 1 7 1 1 4 1 2 3 1 5 1 8 3 1 2 1 2 2 1 2 2 1 6 8 3 10 2 2 2 3 3 3 3 3 2 2 4 9 1 2 3 1 1 1 1 4 1 1 6 1 1 3 4 5 10 4 1 3 2 2 4 1 2 4 3 4 2 3 1 5 3 4 2 1 4 1 2 5 2 4 1 3 1 2 1 4 2 3 1 2 1 2 2 1 2 5 1 2 3 1 1 1 4 2 7 1 1 2 1 2 1 2 2 3 1 10 2 1 8 1 3 1 3 8 1 1 2 3 5 1 1 2 6 2 1 2 1 2 1 1 2 2 3 1 1 1 2 2 1 2 1 8 3 1 1 8 1 6 1 2 2 1 8 4 2 3 2 1 3 1 1 10 1 6 3 3 1 2 1 2 2 4 1 4 2 1 2 6 2 1 5 1 1 1 1 7 1 3 1 2 4 1 4 10 1 7 5 1 2 5 2 3 10 4 1 2 2 3 2 3 1 2 4 3 1 3 3 1 3 2 1 3 1 5 1 1 1 2 2 4 4 2 2 2 12 6 5 1 2 3 8 5 6 2 1 5 1 1 1 1 3 3 4 1 1 1 1 1 1 5 2 7 2 1 1 2 1 1 2 1 1 1 1 5 2 2 2 10 2 3 5 2 1 1 3 3 2 1 1 1 2 1 1 5 2 1 5 2 1 2 1 7 3 1 1 1 2 1 2 6 1 3 4 1 1 2 1 1 1 2 4 5 1 3 1 3 4 1 1 2 1 5 4 1 2 4 4 7 2 3 2 2 2 1 4 4 1 1 1 1 6 1 4 1 3 2 1 2 2 2 3 8 3 2 5 5 1 1 2 7 3 2 2 3 1 1 7 9 2 6 2 1 3 2 1 1 5 6 4 5 1 3 6 3 2 2 2 2 1 6 4 8 2 2 3 4 1 2 2 3 5 1 2 4 1 4 3 7 2 2 2 3 6 1 2 4 3 6 2 2 2 1 1 5 2 6 2 1 1 4 2 4 2 4 1 2 2 4 3 2 2 6 2 1 4 1 1 2 1 3 3 4 5 3 3 8 1 1 1 7 2 7 2 11 2 10 1 2 3 3 2 1 1 3 3 2 2 3 4 1 1 3 2 1 1 1 4 9 3 10 1 2 3 1 1 2 1 2 5 3 1 5 1 3 4 2 3 3 3 5 1 9 2 2 3 1 2 2 2 3 1 1 8 4 1 2 2 1 2 2 2 2 1 4 4 1 1 3 1 2 1 1 6 7 1 1 4 2 2 1 1 2 2 5 2 1 1 3 5 2 2 3 4 7 1 4 2 1 3 5 1 2 4 2 3 2 2 2 3 2 2 2 3 4 1 1 1 2 3 1 1 5 2 1 1 8 1 4 1 4 2 1 4 1 1 3 2 1 3 8 1 5 6 1 2 5 1 1 1 2 1 3 1 1 1 6 1 1 6 3 1 7 1 4 5 3 1 1 1 1 1 2 5 5 2 2 1 4 2 9 1 4 1 1 2 5 3 4 1 1 3 8 1 2 1 4 4 1 2 1 1 4 1 2 1 4 1 1 2 2 2 7 3 1 3 1 1 5 3 5 4 2 2 1 1 2 2 1 1 4 2 4 1 1 1 2 2 1 2 3 1 3 1 2 1 2 1 1 2 3 2 1 4 1 2 4 2 1 4 4 1 7 3 12 1 1 3 2 3 2 3 3 1 3 1 2 1 5 1 1 1 4 2 1 2 6 1 4 9 1 4 1 1 4 1 4 1 4 1 4 4 2 6 1 1 5 3 2 1 5 2 1 4 1 4 4 2 3 1 3 4 1 6 1 1 8 2 1 1 1 3 1 3 2 12 5 1 2 6 5 1 1 2 2 1 2 2 11 2 2 3 4 3 5 3 5 1 1 3 1 3 2 1 3 3 1 1 1 1 1 1 1 6 5 1 6 2 1 2 2 2 7 3 1 1 3 1 2 1 2 4 6 1 7 1 1 2 4 2 1 2 2 1 5 10 3 3 2 1 2 1 4 4 2 1 1 3 2 2 1 1 7 3 1 1 8 2 1 3 9 2 5 2 3 1 1 4 5 4 1 2 2 2 11 1 3 1 4 3 2 1 7 2 2 2 1 1 1 1 6 4 7 2 2 1 1 4 4 1 5 2 1 2 2 3 2 3 4 7 6 3 11 1 2 2 3 1 3 1 4 6 3 1 1 2 3 1 5 1 1 4 3 1 1 4 2 4 1 4 1 9 2 1 1 3 6 1 3 1 2 1 1 1 4 1 1 2 6 2 3 1 1 3 1 2 5 2 7 1 8 2 3 1 1 3 1 1 1 1 2 2 1 2 1 1 2 1 6 2 5 2 2 1 6 1 2 1 5 1 2 1 1 5 2 1 1 1 4 3 2 2 3 3 4 4 11 2 2 1 1 1 1 2 2 7 2 2 3 1 3 3 7 2 1 1 7 5 4 3 2 4 2 1 4 3 1 3 2 9 5 2 15 1 6 3 5 1 2 6 2 5 4 1 7 1 1 4 3 2 3 2 9 3 1 3 1 1 4 1 2 1 1 8 6 2 4 1 2 3 2 3 5 2 6 4 3 1 1 1 1 1 1 1 2 4 1 3 4 4 2 2 2 1 9 2 3 2 2 1 2 4 2 2 2 1 2 3 2 1 4 4 1 1 1 1 2 2 2 1 4 1 2 1 2 2 4 1 1 1 3 2 1 3 3 2 1 2 2 2 1 1 1 3 2 1 2 2 3 2 2 5 1 1 1 1 2 1 1 5 6 1 1 2 4 3 10 2 2 3 3 1 2 6 3 2 2 2 2 3 1 1 1 1 4 1 1 1 1 2 2 1 1 1 5 4 1 1 21 4 3 3 1 1 3 1 1 2 2 1 2 1 1 2 3 2 6 1 3 1 1 1 1 4 2 2 2 1 4 2 5 1 2 2 5 2 1 3 1 2 4 2 1 1 3 1 1 2 8 2 2 1 2 2 5 6 1 2 2 1 2 2 4 2 3 5 8 3 1 1 7 2 2 1 2 1 1 1 11 3 6 1 1 3 11 3 1 1 5 6 8 1 2 2 3 1 5 2 1 2 1 8 4 1 1 1 1 1 1 2 4 1 9 1 1 2 2 1 1 1 2 8 5 2 2 1 2 1 2 1 1 5 7 5 4 2 9 1 3 1 3 2 2 1 1 1 4 3 2 9 3 1 4 1 1 1 11 3 13 1 5 1 1 1 2 1 1 2 4 4 1 1 3 1 1 2 3 3 1 1 3 2 4 2 2 3 2 2 3 2 2 1 1 1 4 3 4 1 5 6 1 3 1 6 2 6 5 1 3 1 3 2 1 1 10 1 7 1 7 1 3 3 2 1 1 1 2 1 2 9 4 1 1 1 2 1 4 2 1 1 3 1 1 2 3 6 1 1 4 3 2 1 7 2 1 1 8 1 5 1 1 2 1 2 10 2 2 6 1 1 1 4 3 1 1 4 1 2 1 4 4 2 2 3 1 6 2 2 2 1 9 2 5 4 3 2 4 2 1 2 1 2 1 1 3 3 5 2 1 2 2 2 2 1 2 4 2 1 6 14 1 2 5 1 2 1 2 3 12 3 5 5 18 2 5 1 1 2 3 4 2 8 2 2 5 2 1 1 1 1 2 4 2 1 2 1 2 2 2 5 1 3 4 2 1 1 2 2 3 6 3 1 1 1 1 1 1 6 2 2 5 3 4 4 3 2 2 2 1 1 5 5 1 4 1 3 2 3 4 3 2 1 12 3 3 1 5 1 1 2 5 3 5 3 5 1 4 5 4 3 4 1 1 1 1 1 6 1 4 1 1 1 3 1 1 1 7 2 2 1 1 1 7 2 2 5 1 1 2 1 2 1 5 1 2 2 9 1 2 13 1 1 1 3 3 1 1 2 10 1 7 2 1 6 2 1 1 3 5 2 6 2 2 6 3 6 2 1 1 3 1 2 9 1 3 1 2 2 3 1 1 4 1 1 9 2 1 1 5 3 4 1 2 1 1 2 1 2 2 3 2 1 1 2 1 8 7 1 3 4 1 5 9 3 1 1 1 3 10 2 2 3 2 2 2 1 2 3 1 1 5 1 1 4 2 5 3 1 3 2 2 4 8 4 7 2 1 4 3 1 12 1 2 3 4 4 1 1 7 2 11 2 3 2 1 1 1 3 1 1 1 2 2 6 1 1 1 1 1 1 7 1 8 1 7 2 1 6 1 2 8 1 2 3 3 1 1 2 2 1 2 1 1 10 3 2 2 3 2 2 1 3 4 4 8 1 7 3 3 1 1 1 2 2 1 2 4 1 6 2 4 2 1 3 1 3 2 2 1 2 3 1 1 1 1 1 3 5 5 2 2 2 3 2 7 2 1 2 4 1 3 1 3 1 2 3 5 7 2 2 5 1 6 1 11 1 1 4 2 1 3 3 2 1 2 11 1 2 9 5 5 1 1 1 1 2 2 2 2 4 1 1 2 1 1 1 1 3 2 4 6 2 3 2 1 1 1 1 1 1 1 2 1 2 1 1 1 1 2 1 4 3 3 2 4 2 1 2 2 1 2 1 2 1 2 2 4 2 2 1 1 6 2 2 1 1 1 3 4 2 6 1 6 1 2 2 4 6 3 8 1 6 10 1 1 1 1 1 1 1 4 3 1 4 1 2 4 4 1 2 10 2 1 1 4 1 5 3 2 1 6 1 4 3 9 2 2 1 8 4 1 4 3 1 1 3 4 2 2 2 1 2 15 2 2 2 2 2 1 2 2 1 2 1 8 1 1 4 2 1 4 7 4 1 4 2 1 4 1 1 2 1 1 1 3 2 2 1 2 3 6 1 5 1 2 4 9 1 4 1 1 1 2 2 1 1 1 7 1 1 1 3 7 2 4 5 1 5 1 5 4 1 3 1 5 2 5 2 2 5 3 6 3 1 17 1 10 1 2 2 7 4 1 2 6 2 1 1 6 2 1 1 8 2 5 1 1 1 2 4 3 1 3 3 2 2 2 4 4 1 1 1 1 3 1 4 2 2 3 1 2 1 4 1 4 4 1 1 2 2 6 1 9 3 4 1 2 1 9 1 14 3 2 1 1 4 2 3 1 3 6 2 6 7 1 5 1 2 8 2 1 1 1 3 3 1 4 1 4 1 3 1 4 4 2 1 3 3 7 2 3 1 10 1 1 3 1 1 1 2 7 4 16 9 1 1 1 1 2 1 1 2 10 1 4 3 7 1 1 2 2 2 5 4 1 2 2 7 3 1 1 3 4 1 1 2 5 3 1 1 2 2 1 3 3 2 2 1 2 2 2 4 1 5 5 1 2 1 4 7 2 3 1 3 1 4 2 1 10 1 11 3 5 1 2 3 1 3 7 1 1 2 8 1 6 6 2 3 3 6 4 1 2 3 2 2 1 2 2 2 2 1 5 1 1 1 1 6 1 1 1 4 3 2 2 2 2 3 7 2 2 3 3 6 2 3 2 3 2 3 5 2 2 1 2 4 1 1 1 1 2 1 1 1 7 2 1 4 2 2 3 8 1 4 1 2 4 1 1 1 1 3 5 3 5 1 7 3 3 2 4 1 2 2 1 2 2 1 4 1 2 4 2 2 1 2 5 2 3 1 3 2 2 1 1 3 1 1 7 4 2 1 2 7 1 1 3 1 1 1 3 1 4 2 1 1 1 2 2 4 3 2 3 1 7 1 1 1 4 2 3 1 3 1 1 4 1 1 4 1 1 1 7 1 6 1 5 1 1 1 2 2 1 3 1 2 2 1 2 4 5 3 4 7 9 1 8 2 2 1 2 1 5 1 1 3 7 2 7 3 1 1 3 2 4 1 4 2 1 2 1 1 2 2 1 1 3 4 1 4 2 4 2 2 1 1 6 1 2 2 2 2 3 1 11 1 4 1 5 1 1 2 1 2 1 2 1 3 1 1 3 1 2 6 2 5 4 2 1 1 1 4 4 3 5 1 4 1 6 3 1 2 2 3 1 2 1 5 9 3 1 3 2 3 2 1 1 3 1 3 2 2 1 1 1 2 7 2 7 5 2 4 1 2 2 1 2 1 1 4 3 3 4 1 2 1 11 3 1 3 1 3 1 2 5 1 1 1 2 1 6 1 1 1 1 1 3 1 1 1 5 4 3 2 1 3 1 2 5 3 2 4 6 1 1 1 4 3 1 1 3 1 1 4 2 1 1 4 4 1 3 2 1 1 1 2 1 1 7 2 2 1 2 3 2 1 2 3 2 1 2 1 7 4 1 2 5 2 1 1 16 1 10 2 3 8 1 2 2 1 1 4 2 1 5 2 3 4 6 7 3 1 6 1 1 1 1 1 5 1 1 2 3 3 2 5 3 2 1 5 5 1 7 2 6 13 1 1 1 1 2 3 2 2 3 2 6 1 5 2 2 2 5 2 1 1 2 1 4 2 3 1 2 1 1 7 2 3 3 1 1 10 2 1 8 2 1 1 1 2 2 1 1 3 1 1 2 1 4 1 3 4 8 1 1 3 7 4 8 1 1 3 6 2 1 2 1 1 9 5 1 3 10 4 2 3 2 1 4 1 1 1 1 2 4 4 8 3 3 3 1 2 1 1 1 1 3 1 8 1 1 1 5 1 4 2 4 1 2 5 3 4 9 5 6 1 6 4 2 2 2 4 1 1 13 4 3 2 1 2 4 1 1 1 3 1 5 1 2 3 7 1 9 3 9 1 1 1 1 1 1 1 2 2 1 1 3 1 6 1 1 2 6 6 2 2 1 3 2 1 1 1 2 3 7 3 1 2 1 1 4 2 2 6 3 7 1 2 1 2 1 3 1 1 4 2 4 1 1 1 4 1 2 3 4 1 4 4 5 2 6 3 2 1 5 1 6 1 1 1 4 1 2 2 1 2 4 5 2 2 3 1 2 1 24 1 1 3 3 6 1 3 2 4 8 2 6 1 5 1 1 2 1 3 2 5 1 1 1 3 3 1 4 1 2 2 1 1 2 1 1 1 1 1 4 3 2 4 8 1 1 2 2 1 2 2 10 1 2 1 7 1 4 1 2 7 1 3 3 5 3 2 2 2 1 1 1 2 9 1 1 2 2 1 2 6 1 3 3 5 5 2 4 2 1 2 2 1 2 2 4 1 1 6 5 1 7 7 2 1 3 1 1 3 10 3 3 1 3 1 3 3 2 1 8 1 2 2 1 1 5 5 7 1 6 3 1 7 4 2 1 1 1 5 1 3 2 1 1 2 1 7 1 3 1 2 3 1 4 1 3 5 9 1 8 2 2 1 3 1 9 4 3 1 1 1 2 1 1 8 2 4 2 1 1 2 4 1 2 4 1 2 4 2 1 6 3 7 4 1 4 3 1 1 1 1 5 5 1 3 4 3 2 1 4 1 5 3 1 1 1 2 2 1 1 2 2 1 2 2 2 2 1 7 1 2 3 3 6 3 1 1 1 1 6 2 19"/>
<use href="#s3" stroke="#0000ed" stroke-dashoffset="-2" stroke-dasharray="3 1 2 11 1 13 2 6 1 3 1 18 2 4 1 2 3 5 4 2 1 6 1 2 3 7 1 11 1 8 2 17 1 5 1 7 2 2 2 4 1 1 1 18 1 20 1 2 1 11 1 2 2 6 1 8 1 2 1 12 1 8 2 3 1 7 1 6 1 7 4 5 1 5 1 8 2 27 1 1 3 1 1 4 1 1 1 15 3 1 1 3 2 4 2 26 1 1 1 5 1 3 1 11 1 4 1 1 1 1 2 3 4 1 1 1 3 1 1 3 1 4 1 2 2 12 3 4 1 6 1 2 1 3 2 3 1 15 1 2 1 10 1 3 1 16 2 1 1 11 1 1 1 6 3 2 3 2 1 1 2 8 1 4 1 1 1 2 1 4 1 11 1 1 1 5 1 23 1 2 1 7 3 12 1 1 2 4 4 12 1 3 1 10 1 2 1 3 1 18 1 4 1 1 1 7 1 14 1 5 1 12 3 20 2 16 2 14 2 5 5 8 3 5 1 3 1 4 2 4 1 2 1 4 1 5 1 11 1 22 1 2 1 4 1 3 1 2 1 12 1 3 2 12 2 12 1 2 1 6 2 3 1 3 1 3 1 29 2 4 1 8 1 26 1 10 2 9 1 12 1 28 1 4 1 3 1 5 1 3 1 9 1 11 2 5 2 3 2 24 1 7 2 2 3 2 3 12 1 3 2 5 1 1 2 1 2 13 1 11 1 4 2 9 1 4 1 11 1 11 1 10 1 5 1 8 2 11 1 6 1 8 5 15 1 1 1 17 1 1 1 17 1 2 2 12 1 18 1 2 2 28 1 9 1 5 1 20 2 4 1 13 3 16 2 11 1 6 1 13 2 8 2 19 2 9 2 5 1 1 5 14 1 10 2 5 3 2 3 4 2 4 1 2 1 6 2 31 1 12 2 1 4 2 1 1 1 2 1 1 2 5 2 2 1 4 2 2 2 2 3 2 1 1 1 1 1 3 1 4 3 6 1 2 2 1 1 11 2 5 2 13 2 10 1 7 1 6 2 20 2 6 3 7 2 25 1 2 1 2 2 1 1 21 1 2 1 14 1 3 2 7 1 5 1 3 2 10 2 2 8 2 1 21 1 3 1 2 2 7 1 28 1 2 2 15 2 4 2 14 1 11 2 4 1 8 1 6 1 1 2 6 2 7 1 3 1 9 1 31 2 21 1 25 3 3 5 7 1 3 1 18 1 8 1 19 1 1 1 3 1 8 1 1 1 10 7 1 2 22 1 32 1 3 1 9 2 23 1 2 1 14 2 1 2 12 1 1 2 22 6 13 4 9 1 6 1 16 1 19 1 1 1 2 2 3 1 16 1 9 2 7 3 15 3 5 6 17 1 1 1 1 1 23 2 2 2 25 3 8 1 12 1 16 1 4 1 5 1 11 1 11 1 3 1 18 1 4 2 10 1 4 1 4 3 26 1 3 1 4 3 38 1 12 1 1 1 5 1 13 3 8 4 1 3 3 3 5 2 2 1 3 1 6 1 1 1 17 1 15 1 1 1 17 2 2 1 15 2 8 1 36 2 1 1 1 1 22 1 3 1 1 1 8 1 24 2 7 2 10 1 10 1 34 1 5 1 27 1 9 2 8 1 43 1 3 1 11 1 2 1 2 1 1 1 14 1 6 2 4 1 19 2 6 1 1 1 12 1 10 2 2 1 13 1 4 1 16 3 4 1 4 2 14 1 6 1 5 1 22 1 20 1 1 1 4 1 1 2 8 1 1 2 12 1 18 1 16 1 3 1 6 1 2 8 5 2 4 1 4 2 5 1 13 2 11 1 29 1 25 2 41 1 42 1 3 2 6 1 1 1 18 1 20 1 7 1 7 2 13 1 9 3 19 1 8 1 28 2 4 1 9 2 29 2 3 1 24 1 7 1 3 1 5 1 4 1 21 1 20 1 31 1 4 2 16 2 12 5 14 1 12 2 8 1 3 1 2 1 1 1 12 2 10 2 4 1 23 2 1 1 3 1 45 2 2 1 1 1 14 2 3 1 2 1 1 1 12 1 11 1 4 1 2 2 51 1 3 1 5 1 3 2 19 1 7 2 39 1 8 1 3 1 4 1 3 1 10 3 10 1 5 1 3 1 13 1 5 2 25 1 12 1 1 1 3 1 11 1 26 1 20 1 2 3 54 1 23 1 21 1 6 2 33 1 10 1 7 2 16 3 5 2 24 1 24 2 3 2 18 3 18 1 1 1 1 1 12 1 8 1 5 1 19 1 25 2 7 1 12 1 1 1 7 1 3 1 3 1 5 2 25 2 12 2 7 1 2 1 9 1 10 1 18 1 5 2 1 3 7 1 13 1 3 1 5 1 4 3 2 1 16 1 7 5 2 1 15 1 2 1 19 1 1 1 7 1 1 2 1 1 3 2 3 1 15 1 3 2 12 3 6 2 7 1 22 1 8 1 13 1 17 1 6 1 19 5 4 1 15 3 11 1 5 1 5 2 14 1 2 1 1 1 30 2 6 1 3 1 7 1 12 1 63 1 4 1 37 1 14 1 14 1 4 1 11 1 11 1 48 2 11 1 17 3 7 1 8 1 6 1 8 3 20 1 6 1 10 1 8 1 7 1 15 1 10 2 11 1 5 2 6 1 2 1 1 1 4 2 16 1 5 2 5 2 6 3 7 1 31 1 26 2 5 2 7 1 4 2 4 1 14 1 3 1 2 1 8 1 8 2 24 1 78 1 9 1 3 2 5 2 4 1 5 1 3 2 6 1 9 2 15 2 3 1 18 1 62 2 5 2 7 1 4 1 1 2 11 1 10 1 8 1 8 1 3 2 3 1 15 2 3 1 3 2 9 1 6 2 14 1 12 1 20 1 4 2 1 1 6 1 1 4 10 1 4 1 23 1 15 1 17 1 2 1 25 2 9 1 20 1 11 4 2 1 2 1 22 1 4 1 19 1 8 3 20 2 39 2 34 1 13 1 12 1 5 1 47 2 26 2 4 1 2 1 34 1 22 1 2 1 8 1 4 1 26 3 10 2 14 1 10 2 16 1 5 1 11 1 1 1 4 1 3 1 1 2 6 1 5 1 14 1 2 2 1 3 7 1 12 1 9 2 17 1 7 2 43 2 3 3 41 1 8 1 8 1 8 1 16 1 8 1 13 1 3 1 6 1 16 1 15 1 4 1 9 1 14 1 33 1 12 1 27 2 19 1 1 1 31 1 33 1 5 1 11 1 15 2 1 1 7 1 1 1 1 1 6 1 5 1 11 1 13 1 5 1 6 2 12 1 14 1 17 1 5 2 2 1 6 1 8 2 13 1 31 1 1 1 32 1 17 2 5 2 4 2 1 2 30 1 4 1 66 1 15 1 14 1 6 1 1 1 23 1 12 2 19 2 12 1 5 3 1 1 1 1 1 2 21 1 7 2 13 3 31 2 2 1 4 1 24 1 11 1 24 2 16 2 2 3 4 1 9 2 2 2 24 1 6 1 12 1 8 1 21 1 5 1 5 1 11 1 2 2 9 1 15 1 9 1 7 2 17 1 1 1 5 1 45 1 7 1 14 1 8 1 7 1 7 1 70 1 14 1 18 3 28 1 35 1 2 1 14 2 11 1 2 2 2 1 54 3 15 1 1 1 2 1 4 1 17 1 7 1 1 3 15 1 1 1 96 1 3 2 12 1 16 1 14 1 27 2 8 1 12 3 47 2 19 1 4 1 27 3 7 1 10 2 6 1 31 1 21 1 8 1 15 1 17 1 5 1 2 1 6 1 5 1 25 1 27 4 20 1 45 2 36 2 9 2 3 1 3 2 19 1 43 2 14 1 17 2 5 1 23 1 9 1 6 1 5 1 2 2 9 1 2 2 44 2 13 1 35 3 8 4 1 1 7 1 7 1 20 2 7 1 2 1 7 1 4 2 1 1 6 2 2 2 61 1 25 1 15 1 7 2 5 2 24 1 6 1 10 1 9 2 1 1 8 2 5 1 12 1 4 2 5 1 1 1 13 2 49 1 22 1 16 2 11 1 15 1 1 1 7 1 2 1 3 1 21 1 4 3 7 1 18 1 10 1 9 1 15 2 4 1 32 2 2 1 13 1 14 1 8 1 14 1 10 1 1 1 3 1 11 2 3 2 8 1 16 1 2 3 23 2 33 2 11 2 3 1 1 2 12 1 10 1 7 1 5 1 6 1 1 1 2 1 5 1 2 2 33 2 1 1 5 2 5 2 32 2 3 1 4 1 10 1 1 1 6 3 29 1 7 4 2 2 17 1 14 3 24 1 7 1 39 1 5 1 14 1 36 2 2 1 4 2 6 1 16 1 33 1 1 1 1 1 7 1 2 2 6 1 1 1 2 3 26 1 16 1 2 2 14 1 6 1 5 1 3 1 1 1 38 2 3 2 16 4 20 1 33 1 6 2 2 2 12 1 6 1 18 1 12 1 8 1 5 1 4 2 15 1 1 2 11 3 2 2 22 1 41 1 22 1 6 1 1 3 44 1 5 1 1 1 9 1 4 1 15 1 49 2 2 1 22 1 14 1 21 1 11 2 5 1 12 1 58 5 27 1 5 1 38 3 9 2 20 1 31 1 2 1 1 1 7 1 1 1 3 1 16 1 1 2 32 2 3 1 33 1 22 2 11 3 1 1 9 1 38 1 4 1 31 1 8 1 4 2 24 1 1 1 1 1 26 3 12 3 1 1 44 1 9 1 23 1 3 2 22 1 17 1 1 2 16 2 7 1 10 2 16 1 11 1 4 1 5 1 3 1 2 1 8 1 28 1 21 1 11 2 16 1 10 1 14 2 5 2 5 3 4 1 4 1 10 1 17 3 1 1 5 1 24 1 30 3 2 1 25 1 2 1 1 1 16 2 3 2 5 2 14 2 5 2 18 1 7 1 1 1 26 2 5 2 32 1 2 1 12 1 14 1 13 3 4 1 4 1 18 2 5 1 1 1 10 1 27 2 18 1 9 2 2 1 18 1 12 1 27 1 20 2 15 1 6 1 4 2 9 2 8 1 14 2 16 1 26 1 4 1 7 1 19 1 15 2 2 3 37 2 13 1 12 1 8 1 3 2 2 1 2 1 5 1 9 1 43 2 4 1 5 1 20 1 42 2 2 1 1 2 5 1 22 1 5 1 7 1 6 1 7 1 7 1 15 1 18 1 7 1 4 1 1 2 23 1 6 1 10 1 2 2 35 1 21 1 17 1 5 1 4 1 15 2 6 1 25 1 27 1 10 1 14 1 2 1 18 1 4 1 6 2 2 3 10 1 11 1 6 1 1 1 5 2 7 2 3 1 2 3 19 1 4 2 2 1 4 2 11 2 10 1 60 1 13 2 60 1 14 1 5 2 5 2 25 2 54 1 12 2 1 1 3 2 15 1 5 2 14 2 30 1 24 1 7 1 2 1 20 1 11 1 13 1 1 1 22 3 3 3 1 1 1 1 5 1 3 1 3 1 2 2 15 1 6 2 13 2 2 1 15 1 8 2 5 1 24 2 5 2 37 1 31 2 6 1 3 1 3 2 14 1 8 1 36 1 2 2 2 2 3 1 1 2 29 1 7 1 5 1 7 2 15 1 10 2 10 2 2 2 15 4 12 1 8 1 14 1 52 2 6 1 8 1 2 1 9 1 10 1 10 1 8 1 15 1 10 1 17 3 2 1 7 2 1 1 9 1 5 1 12 1 15 1 5 1 22 1 12 1 25 2 5 2 11 1 10 1 17 1 3 1 18 1 9 2 1 2 38 1 12 1 12 1 22 1 8 1 24 1 13 1 41 2 2 3 9 1 7 1 25 2 10 1 22 1 20 1 21 2 2 1 48 1 10 2 32 1 5 1 21 1 9 2 2 2 4 1 6 2 18 1 18 1 31 1 18 1 11 2 1 2 19 2 1 1 20 1 17 2 5 1 1 1 3 1 1 3 19 1 2 1 1 1 5 1 20 3 12 2 1 1 2 1 4 2 34 2 1 3 2 1 17 1 1 1 22 1 36 2 24 1 3 2 13 1 24 3 5 1 6 1 2 1 11 1 5 2 12 1 12 1 3 1 11 1 19 1 11 2 7 1 19 3 5 1 42 1 9 1 6 1 17 1 16 2 2 1 1 2 5 1 30 2 17 1 19 1 31 1 4 1 6 1 9 1 9 2 18 1 4 1 3 1 25 1 11 1 5 1 16 1 7 1 22 3 39 1 29 1 10 2 21 2 5 1 5 1 3 1 11 1 17 1 2 1 2 1 3 1 11 3 18 3 11 2 3 1 2 1 6 1 18 2 35 2 2 2 5 1 12 1 14 1 3 1 38 1 3 1 42 1 5 1 3 1 1 1 16 1 2 2 5 1 7 1 4 1 6 1 4 1 18 2 1 1 16 1 5 1 27 1 11 2 10 1 14 1 10 1 4 1 2 1 6 3 1 1 6 1 25 1 7 1 5 1 3 1 12 1 24 1 29 1 7 1 5 1 13 1 58 1 2 2 13 1 28 1 21 1 6 1 10 2 21 1 3 1 7 3 36 2 1 2 32 1 34 1 24 3 28 2 21 1 66 1 5 2 5 2 3 1 16 1 2 1 24 2 32 1 9 2 17 1 14 2 18 1 4 1 8 1 31 1 10 1 28 2 15 2 8 1 13 2 14 2 2 1 6 1 22 1 23 2 11 1 1 1 17 1 14 1 2 1 19 1 34 1 24 1 1 2 2 1 4 1 1 1 18 1 38 2 2 3 7 1 29 1 4 1 22 2 5 1 1 2 21 2 19 1 1 4 7 1 17 2 48 1 7 1 33 2 7 1 29 2 13 1 19 2 1 1 18 1 23 1 26 1 25 1 19 2 2 1 16 2 8 1 5 1 11 1 1 1 15 2 10 2 2 2 3 1 7 1 1 2 9 1 20 1 11 1 4 2 27 3 9 1 26 1 8 1 6 1 5 1 29 2 1 1 6 1 18 1 2 1 13 1 41 1 2 1 38 1 2 2 5 2 14 1 12 1 13 1 9 1 53 4 11 1 9 1 12 2 32 1 18 1 21 2 5 2 4 1 9 1 1 1 20 2 56 1 65 1 13 1 32 1 6 1 8 2 7 1 25 1 58 1 29 1 3 1 2 2 25 2 1 1 8 2 9 1 2 1 5 2 1 1 14 1 10 1 19 1 7 1 4 1 14 1 7 2 8 3 52 1 6 1 9 1 14 1 16 1 15 1 19 1 8 1 9 1 26 1 3 3 1 1 9 2 6 1 34 1 16 1 7 1 19 1 5 1 20 1 28 1 16 2 32 1 9 1 29 1 6 1 8 1 13 1 12 1 3 1 10 3 14 1 1 1 11 1 5 1 2 2 10 1 1 3 8 1 13 2 12 2 25 1 25 1 2 1 4 2 46"/>
<use href="#s3" stroke="#0017ff" stroke-dashoffset="-3" stroke-dasharray="1 2 2 25 1 7 1 3 1 18 2 8 2 7 1 14 1 8 1 20 2 31 2 2 1 5 1 1 1 42 1 14 2 15 1 24 1 27 1 1 2 52 2 8 1 17 1 5 2 4 2 26 1 1 1 26 1 3 2 41 2 11 1 6 1 4 1 15 1 49 1 13 1 6 1 14 1 21 1 44 1 58 1 69 1 20 1 17 2 15 1 26 1 8 2 4 1 2 1 10 1 11 1 22 1 11 1 2 1 16 1 14 1 27 1 7 1 30 1 4 1 46 2 51 1 4 1 3 1 31 2 6 1 29 1 42 1 2 1 2 1 31 1 77 1 16 2 57 1 106 1 18 1 38 1 44 2 19 1 17 1 11 1 11 2 5 1 4 1 10 1 44 1 2 4 9 2 5 2 8 1 8 1 2 1 1 1 1 1 35 2 40 1 37 1 8 2 32 1 26 1 14 1 22 2 15 7 28 1 40 1 2 1 17 1 32 2 4 1 81 1 48 1 7 2 11 1 75 6 63 1 10 1 41 1 16 1 1 1 24 1 19 2 33 1 24 1 21 1 37 2 6 4 18 1 28 1 2 1 26 1 23 1 27 1 23 1 27 2 21 2 36 1 74 2 9 2 1 1 3 1 3 3 22 1 73 2 8 1 41 1 22 1 3 1 56 1 51 1 27 1 9 2 68 1 22 1 6 2 24 1 33 2 16 1 21 3 4 1 4 1 15 1 12 1 43 1 21 1 31 1 31 3 1 2 6 2 4 1 4 2 62 1 115 1 49 1 30 1 9 3 57 2 14 2 34 1 36 1 5 1 26 1 52 1 36 1 1 1 1 1 46 1 12 2 41 1 77 1 37 2 86 1 70 1 10 3 146 1 59 1 106 2 16 2 84 1 44 1 73 1 17 1 46 2 57 1 1 3 31 1 5 2 92 1 25 1 12 1 9 1 39 1 59 1 7 1 41 2 70 1 258 3 23 1 31 1 50 1 23 1 6 1 11 1 4 1 31 1 7 2 7 1 79 2 4 1 14 1 6 1 17 2 117 2 5 2 10 1 39 1 85 1 23 1 11 1 58 1 21 2 48 1 18 1 40 1 73 1 38 1 159 1 32 1 199 2 68 1 3 1 1 2 33 1 22 1 28 1 58 1 86 1 22 1 43 1 63 1 61 1 85 1 15 2 1 1 56 1 7 1 51 2 18 1 14 1 84 1 238 2 1 1 26 1 23 2 65 1 54 2 20 1 358 1 18 2 29 1 53 1 120 1 9 2 115 1 87 1 12 2 102 3 89 1 15 1 17 1 15 1 31 1 27 2 106 2 9 2 7 2 155 1 109 1 1 1 242 1 52 1 119 1 66 1 5 1 195 1 25 1 3 2 71 1 7 1 58 2 33 2 1 1 46 1 20 1 49 3 3 1 17 1 49 1 60 1 53 1 16 1 35 1 75 1 95 2 1 1 61 1 110 1 3 1 96 1 85 1 50 1 40 1 189 1 1 1 9 1 164 1 35 1 98 1 63 1 100 1 60 1 19 2 16 1 16 1 21 1 28 1 93 1 140 1 45 1 70 1 32 1 75 1 67 1 32 1 204 1 15 2 3 2 91 1 9 1 43 1 5 1 70 1 11 1 28 1 14 1 63 1 2 1 121 1 88 1 25 1 21 1 16 1 30 1 17 1 7 1 20 1 13 1 176 1 40 1 67 2 5 2 21 1 15 2 206 2 27 1 6 1 70 1 123 2 112 3 98 1 21 1 57 1 18 1 180 1 84 1 44 1 81 1 130 1 48 1 44 1 37 1 36 1 163 1 31 1 35 2 1 1 2 1 4 1 36 1 6 1 42 1 217 1 29 2 48 1 9 1 47 1 108 1 60 1 163 1 46 1 15 1 27 1 47 1 70 1 37 1 89 1 9 1 36 1 11 1 23 1 2 1 62 1 11 1 44 1 146 1 76 1 91 1 3 1 8 2 40 1 94 1 153 1 125 1 13 1 71 1 245 1 71 1 3 2 42 1 22 1 31 1 24 2 7 1 18 1 164 1 72 1 49 1 16 2 86 1 20 1 11 1 35 1 36 1 21 1 32 1 87 1 48 2 143 1 74 2 44 1 186 1 127 1 2 1 58 1 2 1 25 1 55 1 64 1 93 1 42 1 12 1 6 1 79 1 55 1 90 1 6 1 50 1 16 1 1 1 20 1 39 1 74 1 47"/>
<use href="#s3" stroke="#004dff" stroke-dashoffset="-6" stroke-dasharray="2 33 1 3 1 28 1 32 1 21 1 32 1 10 1 58 1 70 2 80 1 5 2 4 1 116 1 11 1 65 1 35 1 195 1 82 1 8 2 4 1 48 1 82 1 82 1 52 1 8 1 411 1 18 1 38 1 65 1 29 1 18 1 15 1 47 3 18 1 20 1 1 1 37 2 87 1 98 2 16 6 129 1 81 1 145 3 1 2 63 1 10 1 41 1 18 1 24 1 79 1 59 2 6 3 48 1 29 1 261 3 148 1 22 1 140 1 9 2 91 1 67 1 40 1 38 1 43 1 21 1 31 1 32 1 2 1 18 2 62 1 206 2 321 1 12 2 316 1 10 3 146 1 184 2 129 1 138 2 60 2 31 1 125 1 62 1 59 1 50 1 329 3 23 1 113 1 48 1 8 1 7 1 80 1 19 1 162 1 292 1 365 1 199 2 307 1 22 1 107 1 147 1 15 2 118 1 413 1 520 2 29 1 174 1 9 2 115 1 525 2 7 2 510 1 467 1 179 1 1 1 67 1 51 1 71 1 114 1 128 1 271 1 780 1 302 1 28 1 280 1 70 1 32 1 381 1 16 1 106 1 120 1 122 1 236 1 69 1 17 1 7 1 327 2 21 1 223 2 543 1 617 1 74 1 231 1 47 1 405 1 169 1 210 1 15 1 284 1 36 1 35 1 65 1 56 1 223 1 105 1 823 1 123 1 192 1 248 1 106 1 314 1 74 2 231 1 130 1 345 1 155 1 90 1 57 1 154 1 50"/>
<use href="#s3" stroke="#008fff" stroke-dashoffset="-7" stroke-dasharray="1 37 1 61 1 65 1 58 1 70 1 81 1 242 1 195 1 97 1 842 1 18 1 63 1 1 1 285 6 129 1 227 3 1 2 74 1 41 1 184 1 6 3 341 2 322 2 337 1 118 1 206 2 334 2 316 1 11 2 331 2 269 1 60 1 158 1 173 1 330 1 24 1 113 1 48 1 8 1 88 1 1646 1 118 1 413 1 736 1 652 1 1868 1 780 1 302 1 1496 1 328 1 2888 1 35 1 122 1 329 1 2901 1 154 1 51"/>
<use href="#s3" stroke="#05dbf6" stroke-dashoffset="-232" stroke-dasharray="1 70 1 324 1 293 1 927 1 285 6 129 1 227 3 311 3 341 2 322 2 337 1 118 1 206 2 334 2 316 1 11 2 331 2 663 1 330 1 138 1 6366 1 5017 1 158 1 3663"/>
<use href="#s3" stroke="#3effb9" stroke-dashoffset="-2137" stroke-dasharray="5 357 3 311 3 342 1 322 2 337 1 325 2 335 1 329 1 331 2 18246"/>
<use href="#s3" stroke="#8cff6b" stroke-dashoffset="-2137" stroke-dasharray="5 357 3 311 3 342 1 322 2 337 1 325 2 997 2 18246"/>
<use href="#s3" stroke="#e0f719" stroke-dashoffset="-2137" stroke-dasharray="5 357 2 312 3 342 1 322 2 337 1 325 1 19246"/>
<use href="#s3" stroke="#ffa100" stroke-dashoffset="-2500" stroke-dasharray="1 313 1 343 1 322 2 337 1 19935"/>
<use href="#s3" stroke="#f93000" stroke-dashoffset="-3481" stroke-dasharray="2 21254"/>
</g>
<path d="M293.4 863.2L296 863.2L298.5 863.2L301.1 863.2L303.6 863.2L306.2 863.2L308.8 863.2L311.3 863.2L313.9 863.2L316.4 863.2L319 863.2L321.5 863.2L324.1 863.2L326.7 863.2L329.2 863.2L331.8 863.2L334.3 863.2L336.9 863.2L339.4 863.2L342 863.2L344.6 863.2L347.1 863.2L349.7 863.2L352.2 863.2L354.8 863.2L357.4 863.2L359.9 863.2L362.5 863.2L365 861.8L367.6 860.4L368.9 859L372.7 856.2L375.3 853.3L377.8 850.5L380.4 847.7L381.6 844.9L382.9 842.1L382.9 842.1L382.9 839.3L383.6 836.4L384.2 830.8L385.5 825.2L385.5 819.5L386.1 813.9L386.1 813.9L386.8 808.3L386.8 802.6L387.1 791.3L387.4 780.1L387.4 780.1L387.7 768.8L387.9 757.5L388.2 735L388.4 712.4L388.4 712.4L388.7 689.9L389.2 667.3L390.5 622.3L390.8 577.2" fill="none" stroke="#f0f" stroke-opacity=".16" stroke-width="1.2"/>
<g fill="#f0f" stroke="#000" stroke-width=".7">
<circle cx="293.4" cy="863.2" r="3.1" fill-opacity=".12" stroke-opacity=".12"/>
<circle cx="296" cy="863.2" r="3.1" fill-opacity=".12" stroke-opacity=".12"/>
<circle cx="298.5" cy="863.2" r="3.1" fill-opacity=".12" stroke-opacity=".12"/>
<circle cx="301.1" cy="863.2" r="3.1" fill-opacity=".12" stroke-opacity=".12"/>
<circle cx="303.6" cy="863.2" r="3.1" fill-opacity=".12" stroke-opacity=".12"/>
<circle cx="306.2" cy="863.2" r="3.1" fill-opacity=".12" stroke-opacity=".12"/>
<circle cx="308.8" cy="863.2" r="3.1" fill-opacity=".12" stroke-opacity=".12"/>
<circle cx="311.3" cy="863.2" r="3.1" fill-opacity=".12" stroke-opacity=".12"/>
<circle cx="313.9" cy="863.2" r="3.1" fill-opacity=".12" stroke-opacity=".12"/>
<circle cx="316.4" cy="863.2" r="3.1" fill-opacity=".12" stroke-opacity=".12"/>
<circle cx="319" cy="863.2" r="3.1" fill-opacity=".12" stroke-opacity=".12"/>
<circle cx="321.5" cy="863.2" r="3.1" fill-opacity=".12" stroke-opacity=".12"/>
<circle cx="324.1" cy="863.2" r="3.1" fill-opacity=".12" stroke-opacity=".12"/>
<circle cx="326.7" cy="863.2" r="3.1" fill-opacity=".12" stroke-opacity=".12"/>
<circle cx="329.2" cy="863.2" r="3.1" fill-opacity=".12" stroke-opacity=".12"/>
<circle cx="331.8" cy="863.2" r="3.1" fill-opacity=".12" stroke-opacity=".12"/>
<circle cx="334.3" cy="863.2" r="3.1" fill-opacity=".12" stroke-opacity=".12"/>
<circle cx="336.9" cy="863.2" r="3.1" fill-opacity=".12" stroke-opacity=".12"/>
<circle cx="339.4" cy="863.2" r="3.1" fill-opacity=".12" stroke-opacity=".12"/>
<circle cx="342" cy="863.2" r="3.1" fill-opacity=".12" stroke-opacity=".12"/>
<circle cx="344.6" cy="863.2" r="3.1" fill-opacity=".12" stroke-opacity=".12"/>
<circle cx="347.1" cy="863.2" r="3.1" fill-opacity=".12" stroke-opacity=".12"/>
<circle cx="349.7" cy="863.2" r="3.1" fill-opacity=".12" stroke-opacity=".12"/>
<circle cx="352.2" cy="863.2" r="3.1" fill-opacity=".12" stroke-opacity=".12"/>
<circle cx="354.8" cy="863.2" r="3.1" fill-opacity=".12" stroke-opacity=".12"/>
<circle cx="357.4" cy="863.2" r="3.1" fill-opacity=".12" stroke-opacity=".12"/>
<circle cx="359.9" cy="863.2" r="3.1" fill-opacity=".12" stroke-opacity=".12"/>
<circle cx="362.5" cy="863.2" r="3.1" fill-opacity=".27" stroke-opacity=".27"/>
<circle cx="365" cy="861.8" r="3.1" fill-opacity=".27" stroke-opacity=".27"/>
<circle cx="367.6" cy="860.4" r="3.1" fill-opacity=".27" stroke-opacity=".27"/>
<circle cx="368.9" cy="859" r="2.9" fill-opacity=".22" stroke-opacity=".22"/>
<circle cx="372.7" cy="856.2" r="2.9" fill-opacity=".24" stroke-opacity=".24"/>
<circle cx="375.3" cy="853.3" r="2.9" fill-opacity=".24" stroke-opacity=".24"/>
<circle cx="377.8" cy="850.5" r="2.9" fill-opacity=".24" stroke-opacity=".24"/>
<circle cx="380.4" cy="847.7" r="2.9" fill-opacity=".24" stroke-opacity=".24"/>
<circle cx="381.6" cy="844.9" r="2.9" fill-opacity=".24" stroke-opacity=".24"/>
<circle cx="382.9" cy="842.1" r="2.9" fill-opacity=".22" stroke-opacity=".22"/>
<circle cx="382.9" cy="839.3" r="2.9" fill-opacity=".2" stroke-opacity=".2"/>
<circle cx="382.9" cy="842.1" r="2.9" fill-opacity=".23" stroke-opacity=".23"/>
<circle cx="383.6" cy="836.4" r="2.9" fill-opacity=".27" stroke-opacity=".27"/>
<circle cx="384.2" cy="830.8" r="2.9" fill-opacity=".27" stroke-opacity=".27"/>
<circle cx="385.5" cy="825.2" r="2.9" fill-opacity=".25" stroke-opacity=".25"/>
<circle cx="385.5" cy="819.5" r="2.9" fill-opacity=".25" stroke-opacity=".25"/>
<circle cx="386.1" cy="813.9" r="2.9" fill-opacity=".2" stroke-opacity=".2"/>
<circle cx="386.8" cy="808.3" r="2.9" fill-opacity=".14" stroke-opacity=".14"/>
<circle cx="386.1" cy="813.9" r="2.9" fill-opacity=".25" stroke-opacity=".25"/>
<circle cx="386.8" cy="802.6" r="2.9" fill-opacity=".2" stroke-opacity=".2"/>
<circle cx="387.1" cy="791.3" r="2.9" fill-opacity=".23" stroke-opacity=".23"/>
<circle cx="387.4" cy="780.1" r="2.9" fill-opacity=".15" stroke-opacity=".15"/>
<circle cx="387.7" cy="768.8" r="2.9" fill-opacity=".17" stroke-opacity=".17"/>
<circle cx="387.4" cy="780.1" r="3" fill-opacity=".3" stroke-opacity=".3"/>
<circle cx="387.9" cy="757.5" r="3" fill-opacity=".3" stroke-opacity=".3"/>
<circle cx="388.2" cy="735" r="3" fill-opacity=".17" stroke-opacity=".17"/>
<circle cx="388.4" cy="712.4" r="3" fill-opacity=".25" stroke-opacity=".25"/>
<circle cx="388.7" cy="689.9" r="3" fill-opacity=".17" stroke-opacity=".17"/>
<circle cx="388.4" cy="712.4" r="3.1" fill-opacity=".4" stroke-opacity=".4"/>
<circle cx="389.2" cy="667.3" r="3.1" fill-opacity="1" stroke-opacity="1"/>
<circle cx="390.5" cy="622.3" r="3.1" fill-opacity=".9" stroke-opacity=".9"/>
<circle cx="390.8" cy="577.2" r="3.1" fill-opacity=".45" stroke-opacity=".45"/>
</g><g fill="#ff0" stroke="#000" stroke-width=".9">
<circle cx="382.9" cy="842.1" r="6.6" fill-opacity=".5" stroke-opacity=".35"/>
<circle cx="383.6" cy="836.4" r="6.6" fill-opacity=".6" stroke-opacity=".42"/>
<circle cx="384.2" cy="830.8" r="6.6" fill-opacity=".6" stroke-opacity=".42"/>
<circle cx="385.5" cy="825.2" r="6.6" fill-opacity=".55" stroke-opacity=".39"/>
<circle cx="385.5" cy="819.5" r="6.6" fill-opacity=".55" stroke-opacity=".39"/>
<circle cx="386.1" cy="813.9" r="6.6" fill-opacity=".45" stroke-opacity=".32"/>
<circle cx="386.8" cy="808.3" r="6.6" fill-opacity=".3" stroke-opacity=".21"/>
</g>
</g>
<path d="M224.5 822.5h5.6 M552.5 822.5h-5.6 M224.5 751.5h5.6 M552.5 751.5h-5.6 M224.5 681.5h5.6 M552.5 681.5h-5.6 M224.5 610.5h5.6 M552.5 610.5h-5.6 M224.5 540.5h5.6 M552.5 540.5h-5.6 M276.5 893.5v-5.6 M276.5 532.5v5.6 M327.5 893.5v-5.6 M327.5 532.5v5.6 M378.5 893.5v-5.6 M378.5 532.5v5.6 M429.5 893.5v-5.6 M429.5 532.5v5.6 M480.5 893.5v-5.6 M480.5 532.5v5.6 M531.5 893.5v-5.6 M531.5 532.5v5.6" stroke="#000" stroke-width=".8" fill="none"/>
<rect x="224.5" y="532.5" width="328" height="361" fill="none" stroke="#000" stroke-width="1.39"/>
<text transform="translate(388.04 525.07) scale(.99 1)" class="t">scale=64</text>
<text transform="translate(219.44 898) scale(.975 1.06)" class="e">0</text>
<text transform="translate(219.44 828) scale(.975 1.06)" class="e">100</text>
<text transform="translate(219.44 757) scale(.975 1.06)" class="e">200</text>
<text transform="translate(219.44 687) scale(.975 1.06)" class="e">300</text>
<text transform="translate(219.44 616) scale(.975 1.06)" class="e">400</text>
<text transform="translate(219.44 546) scale(.975 1.06)" class="e">500</text>
<text transform="translate(176.78 712.94) rotate(-90) scale(1 1.06)">frequency (Hz)</text>
<text transform="translate(224.38 912.8) scale(.975 1.06)">0</text>
<text transform="translate(275.52 912.8) scale(.975 1.06)">5</text>
<text transform="translate(326.66 912.8) scale(.975 1.06)">10</text>
<text transform="translate(377.81 912.8) scale(.975 1.06)">15</text>
<text transform="translate(428.95 912.8) scale(.975 1.06)">20</text>
<text transform="translate(480.1 912.8) scale(.975 1.06)">25</text>
<text transform="translate(531.24 912.8) scale(.975 1.06)">30</text>
<text transform="translate(388.64 937.8) scale(1 1.06)">time (seconds)</text>
<rect x="572.5" y="532.5" width="18" height="361" fill="url(#jet)"/>
<text transform="translate(595.54 898) scale(.975 1.06)" class="s">0</text>
<text transform="translate(595.54 854) scale(.975 1.06)" class="s">1</text>
<text transform="translate(595.54 810) scale(.975 1.06)" class="s">2</text>
<text transform="translate(595.54 766) scale(.975 1.06)" class="s">3</text>
<text transform="translate(595.54 722) scale(.975 1.06)" class="s">4</text>
<text transform="translate(595.54 678) scale(.975 1.06)" class="s">5</text>
<text transform="translate(595.54 633) scale(.975 1.06)" class="s">6</text>
<text transform="translate(595.54 589) scale(.975 1.06)" class="s">7</text>
<text transform="translate(595.54 545) scale(.975 1.06)" class="s">8</text>
<path d="M590.5 849.5h-6.2 M590.5 805.5h-6.2 M590.5 760.5h-6.2 M590.5 716.5h-6.2 M590.5 672.5h-6.2 M590.5 628.5h-6.2 M590.5 584.5h-6.2 M590.5 540.5h-6.2" stroke="#000" stroke-width=".8" fill="none"/>
<rect x="572.5" y="532.5" width="18" height="361" fill="none" stroke="#000" stroke-width="1.39"/>
</g>
<g id="p128">
<rect x="715.5" y="532.5" width="328" height="361" fill="#fff"/>
<clipPath id="c4"><rect x="715.5" y="532.5" width="328" height="361"/></clipPath>
<g clip-path="url(#c4)">
<g transform="translate(715.36 892.8) scale(1.27861 -2.81818)" shape-rendering="crispEdges" fill="none">
<rect width="255" height="128" fill="#00008e"/>
<defs><path id="s4" d="M-2 .5H257V1.5H-2V2.5H257V3.5H-2V4.5H257V5.5H-2V6.5H257V7.5H-2V8.5H257V9.5H-2V10.5H257V11.5H-2V12.5H257V13.5H-2V14.5H257V15.5H-2V16.5H257V17.5H-2V18.5H257V19.5H-2V20.5H257V21.5H-2V22.5H257V23.5H-2V24.5H257V25.5H-2V26.5H257V27.5H-2V28.5H257V29.5H-2V30.5H257V31.5H-2V32.5H257V33.5H-2V34.5H257V35.5H-2V36.5H257V37.5H-2V38.5H257V39.5H-2V40.5H257V41.5H-2V42.5H257V43.5H-2V44.5H257V45.5H-2V46.5H257V47.5H-2V48.5H257V49.5H-2V50.5H257V51.5H-2V52.5H257V53.5H-2V54.5H257V55.5H-2V56.5H257V57.5H-2V58.5H257V59.5H-2V60.5H257V61.5H-2V62.5H257V63.5H-2V64.5H257V65.5H-2V66.5H257V67.5H-2V68.5H257V69.5H-2V70.5H257V71.5H-2V72.5H257V73.5H-2V74.5H257V75.5H-2V76.5H257V77.5H-2V78.5H257V79.5H-2V80.5H257V81.5H-2V82.5H257V83.5H-2V84.5H257V85.5H-2V86.5H257V87.5H-2V88.5H257V89.5H-2V90.5H257V91.5H-2V92.5H257V93.5H-2V94.5H257V95.5H-2V96.5H257V97.5H-2V98.5H257V99.5H-2V100.5H257V101.5H-2V102.5H257V103.5H-2V104.5H257V105.5H-2V106.5H257V107.5H-2V108.5H257V109.5H-2V110.5H257V111.5H-2V112.5H257V113.5H-2V114.5H257V115.5H-2V116.5H257V117.5H-2V118.5H257V119.5H-2V120.5H257V121.5H-2V122.5H257V123.5H-2V124.5H257V125.5H-2V126.5H257V127.5H-2"/></defs>
<use href="#s4" stroke="#0000b7" stroke-dashoffset="-2" stroke-dasharray="6 18 2 7 4 1 2 7 4 3 5 2 4 1 5 1 5 5 1 7 3 4 6 10 2 3 11 1 3 5 1 6 1 2 2 14 2 1 2 7 4 5 1 7 3 8 2 4 4 7 3 4 3 1 6 1 3 2 5 11 3 5 2 3 2 1 6 1 1 4 3 12 1 1 5 16 2 6 1 2 8 7 2 6 2 2 4 5 2 3 2 1 8 7 4 1 3 3 2 4 2 11 3 14 2 9 1 4 1 6 2 1 4 3 2 3 4 1 8 4 7 1 8 7 2 3 1 2 1 2 2 3 2 1 2 1 2 2 3 2 2 1 3 1 10 8 2 3 4 7 2 1 3 2 2 6 6 1 1 6 3 1 4 1 2 5 1 2 5 7 2 2 2 4 3 1 2 1 3 2 6 2 4 13 5 1 1 2 1 1 2 4 1 5 13 4 2 1 2 10 3 7 1 15 3 3 1 1 4 1 3 6 7 9 2 18 2 2 2 7 4 3 1 2 1 10 2 3 2 4 3 4 1 2 3 4 2 1 2 5 2 4 9 1 2 4 2 1 5 1 2 1 5 7 1 1 2 2 4 6 2 6 4 2 4 1 2 2 2 4 1 5 4 11 1 19 3 3 4 7 2 1 1 2 2 2 5 2 5 4 2 13 2 3 9 3 2 8 3 2 2 9 3 3 3 2 3 1 6 8 3 1 4 1 2 1 2 6 7 3 1 1 3 2 3 1 2 2 2 1 3 1 2 3 2 1 3 1 4 7 3 6 4 7 4 6 2 1 3 3 2 2 3 9 1 3 1 2 2 1 2 16 8 4 1 1 3 14 3 3 1 3 2 1 2 5 1 3 1 4 3 6 2 6 1 3 2 13 1 12 2 4 2 2 3 4 1 2 9 2 2 3 1 8 3 8 1 3 3 2 2 1 2 17 2 9 4 1 3 1 2 2 3 10 3 1 2 2 1 2 1 10 10 6 2 5 2 8 3 2 4 2 2 6 2 1 1 7 4 1 7 3 1 21 2 3 2 1 4 15 2 3 3 13 1 6 8 3 2 14 2 1 4 2 2 6 2 1 2 7 5 3 2 1 3 1 2 7 2 1 2 4 1 1 6 2 1 2 2 9 2 2 2 20 3 2 4 2 2 1 6 3 1 9 2 6 2 1 4 8 4 1 6 6 2 7 2 6 1 5 2 3 2 1 3 1 4 1 1 2 2 13 2 5 6 2 6 1 1 3 2 3 2 6 2 3 2 1 3 4 1 1 6 6 4 5 2 4 3 4 2 1 4 8 3 5 2 6 2 7 2 1 2 3 2 7 2 1 1 5 9 8 2 9 2 2 3 7 2 5 4 7 3 3 1 1 4 4 6 6 4 2 1 3 2 1 4 3 4 2 2 5 2 4 2 1 4 1 2 8 4 3 1 5 1 4 2 7 5 6 10 2 2 4 2 1 2 1 1 1 5 3 4 1 4 1 2 1 2 6 5 7 2 1 2 2 3 2 1 2 6 4 4 2 2 7 2 2 2 2 4 3 3 6 2 1 2 9 3 9 2 2 2 5 4 1 7 5 3 1 1 4 2 1 2 5 2 2 4 1 2 2 1 4 3 1 2 2 5 14 2 3 5 1 2 5 4 1 4 7 1 4 4 1 5 3 1 1 8 2 3 2 2 1 6 1 3 1 4 1 1 1 5 3 3 2 5 1 5 4 2 2 2 22 2 3 11 1 4 2 2 2 3 6 2 6 2 2 2 1 8 3 1 4 3 1 2 11 4 3 2 7 3 1 1 3 1 5 6 2 1 14 2 8 6 1 7 2 2 1 4 15 2 7 2 3 3 4 5 18 2 3 4 4 2 3 2 1 1 3 2 1 6 3 4 2 1 1 2 12 2 1 2 2 2 2 5 4 2 3 3 3 6 2 2 10 1 2 1 6 4 5 4 5 1 11 2 4 4 3 5 13 2 2 2 1 3 2 2 16 1 1 2 4 2 5 3 9 2 1 2 8 2 2 8 10 8 3 3 3 3 3 2 1 2 16 2 10 3 1 4 2 2 1 2 4 1 6 5 2 1 4 2 2 3 1 3 3 12 3 1 1 2 5 5 4 4 5 1 5 2 1 2 2 2 1 3 1 2 6 2 3 2 1 2 9 2 2 2 4 2 4 6 10 7 3 1 14 1 2 1 2 2 1 2 4 4 6 2 5 5 1 1 10 2 5 6 2 3 12 1 8 5 3 2 1 2 7 1 4 3 3 5 2 2 18 4 4 2 2 2 2 2 14 1 10 1 2 4 2 2 6 2 20 2 1 3 7 2 3 2 1 4 1 4 7 3 5 3 3 2 2 2 5 2 2 4 3 4 10 2 2 9 1 6 4 2 11 4 15 3 24 1 1 1 3 3 7 3 7 2 4 2 3 1 6 2 4 4 3 4 4 1 2 2 3 2 4 1 10 4 6 3 5 3 2 4 9 2 5 5 1 2 4 1 7 2 1 5 6 2 8 2 5 3 6 2 3 2 4 2 5 3 2 5 13 4 6 4 3 2 9 2 1 5 4 2 3 3 6 3 2 2 2 2 5 6 1 2 5 2 4 3 7 2 1 2 5 2 3 1 2 2 3 2 1 2 9 2 1 3 1 6 8 2 4 1 1 1 4 2 3 1 7 8 1 2 2 1 10 5 6 1 7 2 2 2 3 2 1 2 3 4 2 6 1 6 6 2 4 2 14 2 6 3 3 2 2 5 2 2 1 6 2 2 4 2 3 4 3 2 5 4 8 2 3 3 4 2 6 4 19 2 7 5 4 1 8 2 1 2 7 4 3 2 1 5 3 2 7 9 3 2 1 1 2 3 6 1 1 3 10 3 3 2 26 3 2 4 2 1 2 2 10 2 7 4 3 5 9 7 11 3 20 2 1 7 1 3 2 3 2 4 4 5 6 2 7 2 2 2 2 4 7 6 2 2 2 1 2 1 5 2 4 3 1 5 1 2 1 2 6 4 1 2 1 2 3 6 3 3 2 2 2 2 2 4 6 3 3 2 14 3 1 2 3 4 3 4 1 3 2 2 1 2 2 2 7 6 8 2 11 2 2 2 3 1 5 2 3 2 7 2 1 2 3 6 2 2 3 1 3 2 10 2 1 4 1 3 1 1 5 2 9 2 16 2 7 3 2 1 4 2 1 1 1 2 12 6 5 1 7 2 3 6 3 4 17 4 3 2 10 3 2 4 7 1 1 2 6 1 28 3 3 2 2 5 6 2 4 1 2 1 14 2 3 2 3 5 8 7 19 2 11 2 1 1 1 2 4 4 6 2 1 12 7 3 6 2 4 2 6 3 3 6 1 2 5 1 1 2 1 3 11 2 1 4 1 2 11 2 1 4 1 2 7 2 5 4 5 2 1 1 7 4 5 5 5 4 2 8 2 2 3 4 6 2 4 2 2 3 11 2 4 2 7 5 7 2 1 3 2 2 1 1 1 4 19 1 5 2 2 4 15 2 19 2 3 2 3 2 9 2 1 4 1 4 1 16 3 2 2 1 11 2 7 2 4 4 5 6 4 3 4 4 4 1 8 3 6 1 2 1 3 3 1 6 4 3 7 4 5 4 5 2 1 1 1 7 13 3 5 1 3 2 2 2 1 2 7 1 7 7 3 2 9 2 1 5 2 1 3 2 3 2 2 2 7 2 7 1 2 2 13 5 1 5 1 3 1 2 2 9 10 2 1 2 1 2 4 2 1 4 2 1 16 7 8 1 2 2 3 2 1 6 18 3 13 2 1 2 1 2 1 2 2 2 1 2 2 1 23 4 1 2 5 2 3 3 8 2 6 1 2 1 11 2 4 4 9 1 3 4 1 1 6 1 5 4 2 1 6 1 4 2 6 1 5 2 2 2 2 2 1 4 12 1 5 2 2 2 5 2 1 1 7 2 1 3 4 6 3 1 2 2 12 2 2 7 2 5 2 2 8 1 6 2 5 2 2 2 4 3 2 2 3 2 4 1 1 2 19 5 7 2 1 2 20 1 8 2 2 2 7 2 6 1 2 2 4 4 3 2 4 2 4 2 3 3 3 11 8 4 1 2 2 2 3 3 22 2 2 2 2 1 2 2 1 2 2 2 5 2 2 2 1 2 1 2 1 1 2 2 4 5 5 1 10 2 3 1 3 4 10 4 16 4 1 4 2 2 2 2 1 2 3 3 1 8 4 4 8 2 9 5 7 2 2 3 7 6 1 2 11 2 3 1 4 3 6 2 7 2 11 1 1 2 2 2 2 4 1 3 7 2 2 2 1 2 4 1 1 2 11 2 4 2 5 1 20 2 3 2 3 4 4 2 6 3 3 2 2 3 2 2 5 2 2 4 11 1 1 2 4 6 1 2 1 3 1 2 3 2 2 2 1 2 5 2 9 1 2 2 5 3 1 4 7 3 1 2 2 2 2 1 4 2 2 2 17 2 6 2 2 2 4 5 3 2 3 2 1 1 5 1 17 3 2 1 1 2 16 4 1 2 2 2 4 3 1 5 3 2 2 5 2 1 3 2 6 3 3 1 3 2 2 3 1 1 2 2 1 2 4 2 2 4 1 13 8 3 2 5 3 2 21 4 1 2 18 1 3 1 8 3 11 1 9 1 13 1 2 2 1 4 9 3 6 1 1 2 31 2 8 2 5 4 3 2 1 1 5 6 2 2 12 3 5 5 1 1 6 1 3 2 6 2 3 2 3 2 1 2 1 1 1 2 1 2 6 2 6 1 6 2 7 1 3 1 13 3 2 3 3 2 1 2 4 2 2 2 1 1 3 2 8 4 4 2 8 2 1 4 8 4 1 2 9 1 1 2 8 1 5 2 2 1 1 2 5 2 3 1 1 1 5 5 22 1 2 2 6 1 8 1 2 2 1 2 6 2 3 4 2 4 4 4 4 3 3 2 4 2 16 2 1 2 2 2 20 2 3 4 29 2 2 2 8 2 4 2 6 1 1 1 7 4 8 3 2 5 7 2 2 2 8 3 1 1 3 4 8 2 7 1 9 1 4 2 1 1 3 2 2 6 3 2 1 1 1 7 2 2 8 2 14 2 6 1 6 2 6 7 4 1 2 5 5 2 11 2 2 6 4 5 2 1 1 5 2 3 8 5 9 2 1 1 2 3 8 2 8 7 5 4 1 2 3 1 1 2 1 1 3 2 3 4 1 3 6 1 3 2 1 2 12 4 1 2 2 5 2 2 1 2 10 7 8 4 5 2 2 4 1 3 1 6 2 2 7 3 7 5 1 4 12 4 4 2 7 2 2 6 7 8 4 1 2 7 2 2 3 2 3 2 15 3 1 5 4 2 3 2 3 2 2 3 10 1 3 2 1 2 4 3 3 7 1 3 3 8 1 1 2 5 3 2 8 2 8 3 2 5 2 1 1 1 20 1 6 1 7 2 1 2 1 4 1 5 1 2 1 4 1 4 10 3 4 1 3 3 1 2 3 4 5 4 1 5 2 3 2 2 3 3 1 1 3 4 1 5 14 2 3 4 7 1 2 2 2 5 2 1 6 4 10 3 4 2 8 4 6 4 5 9 3 2 5 2 3 2 6 2 1 2 7 1 6 2 3 3 9 2 10 2 6 1 1 3 7 3 1 2 3 2 2 2 2 3 12 6 13 2 4 2 1 1 3 2 1 2 7 5 6 2 5 4 7 1 1 6 1 4 2 2 1 4 1 2 7 2 14 1 3 1 7 5 2 3 14 5 1 2 8 2 6 3 13 3 6 1 8 1 4 2 23 2 3 1 2 2 5 1 4 1 5 1 1 2 1 2 3 2 1 4 2 2 3 2 7 6 1 3 3 2 1 1 9 2 5 4 7 4 1 5 7 1 2 2 3 1 5 2 19 1 4 5 3 2 2 2 10 4 1 7 6 1 2 2 6 7 2 3 7 2 6 2 3 3 5 2 5 2 2 8 2 13 1 2 4 2 4 2 5 3 1 2 14 7 2 2 2 4 1 1 1 2 1 8 9 5 4 2 2 1 3 4 8 4 4 4 1 3 3 2 1 2 3 4 1 2 1 2 8 4 12 5 1 1 4 3 19 2 11 2 22 4 4 2 1 4 12 2 5 3 4 3 3 2 5 1 5 2 7 2 4 2 2 2 9 2 6 4 4 2 3 2 4 2 12 2 7 1 6 3 2 2 16 6 22 2 5 4 6 2 9 1 3 2 3 2 3 2 8 6 3 3 2 2 2 2 15 5 3 1 14 3 8 1 10 2 1 4 4 1 2 2 1 3 13 2 7 2 2 2 14 3 1 2 16 1 2 2 18 1 13 2 2 2 3 2 2 3 1 2 2 2 2 5 5 3 3 2 11 2 2 1 1 2 4 3 11 5 1 4 4 2 4 2 10 4 3 3 1 2 4 4 7 1 3 2 4 6 8 1 1 6 2 1 1 2 2 1 4 4 7 4 22 2 12 2 1 2 5 2 1 1 30 4 1 2 14 2 19 1 2 2 6 2 3 2 2 2 1 4 2 1 8 4 3 2 2 2 1 4 19 2 2 1 3 4 1 4 4 2 5 2 5 4 1 2 2 4 3 2 28 2 4 2 2 3 3 2 3 3 1 2 1 2 12 6 1 2 4 8 7 6 8 6 14 1 1 2 1 2 2 4 2 2 1 1 4 4 1 2 9 1 5 3 2 5 3 1 4 4 3 3 5 4 8 2 3 1 8 1 5 3 1 1 1 4 5 2 8 2 1 3 6 6 1 2 4 2 2 2 28 2 1 6 13 2 1 5 2 1 8 2 2 2 22 4 1 2 1 2 13 3 6 1 10 3 3 4 2 1 7 4 2 5 8 3 6 2 5 3 1 1 5 3 1 2 2 1 6 2 13 1 17 4 1 1 3 4 27 3 15 2 2 6 2 2 12 2 3 2 1 3 6 2 6 2 3 2 2 1 1 5 8 2 9 1 4 11 1 4 3 2 1 3 5 4 1 10 2 2 3 2 11 3 1 2 9 1 11 2 8 2 1 6 12 1 2 1 3 1 5 4 3 4 13 2 2 3 4 1 1 5 2 4 3 2 2 2 14 2 2 4 4 1 18 3 7 6 1 2 8 2 3 3 1 3 2 2 25 4 2 2 6 2 9 1 7 2 11 2 1 3 1 2 16 3 2 2 22 1 3 2 2 3 5 1 12 2 5 2 5 5 10 2 4 6 7 2 14 2 1 4 3 4 1 2 2 2 12 2 3 2 7 1 12 2 1 4 1 2 3 2 9 1 14 3 17 4 3 2 1 2 11 1 1 1 8 2 6 4 4 1 9 2 6 1 2 6 6 2 2 2 3 2 4 1 5 3 6 4 4 2 5 2 1 2 1 2 7 7 5 1 1 3 1 3 4 2 17 2 3 1 13 1 1 2 4 4 3 1 2 2 5 2 15 5 20 2 2 2 3 2 2 2 3 4 6 2 3 2 13 6 2 2 5 5 4 2 10 1 1 2 3 4 1 4 1 1 5 2 9 2 5 1 5 2 11 15 6 2 13 3 14 4 2 2 12 6 4 3 32 2 1 1 11 4 1 2 2 1 8 1 6 2 2 2 6 2 8 2 2 3 4 2 3 1 4 1 2 2 4 1 1 3 2 4 4 2 8 1 5 3 1 2 3 1 1 8 4 2 7 5 7 6 13 2 3 1 16 2 5 2 5 4 11 1 5 1 2 1 2 3 6 1 1 4 3 2 1 2 3 1 9 3 1 1 2 2 2 7 5 2 15 2 8 2 1 1 2 4 1 3 2 8 2 2 20 1 4 1 8 2 6 4 3 2 4 3 1 2 10 1 3 2 1 2 3 2 1 2 2 2 6 1 4 2 3 1 6 2 13 2 1 2 10 2 1 5 4 2 3 5 5 3 4 3 1 2 11 1 12 7 15 2 4 1 3 7 7 2 5 1 1 2 11 1 2 4 9 5 1 2 2 2 5 3 2 6 1 4 2 4 10 4 20 4 6 3 13 5 2 4 3 2 5 2 6 2 10 2 8 9 4 1 3 2 1 6 1 1 1 2 2 2 1 5 18 2 5 3 2 2 2 1 19 1 2 2 1 2 6 2 9 4 4 1 19 5 1 4 6 4 1 1 1 9 2 3 22 2 3 1 6 2 18 1 2 2 1 1 1 2 4 2 2 7 3 5 1 1 2 3 10 2 17 2 1 1 2 2 1 3 3 4 5 3 5 4 3 4 9 2 2 2 1 1 4 1 5 1 12 5 1 2 4 2 4 3 6 1 4 2 12 1 8 2 3 3 13 2 1 2 2 1 2 1 4 1 5 2 7 2 14 2 3 1 10 2 5 1 2 6 2 4 18 2 2 2 9 2 7 2 6 2 7 2 4 1 4 2 13 1 5 2 4 1 2 2 4 2 7 2 15 2 3 2 5 4 9 2 3 3 11 2 21 1 6 2 2 2 3 2 14 3 6 2 1 2 4 4 2 2 4 1 11 3 1 3 12 3 3 2 23 2 1 4 3 2 6 4 7 4 1 2 1 1 2 1 4 2 1 2 4 2 1 2 2 2 7 1 9 2 10 2 9 1 2 2 7 7 1 5 3 1 1 5 2 2 5 5 10 4 9 2 17 1 5 1 6 2 1 2 1 1 2 3 13 2 3 2 3 4 3 2 5 2 1 2 1 1 3 2 9 4 2 1 16 1 8 2 3 2 2 4 4 2 18 2 10 2 4 2 8 5 1 3 13 2 2 2 1 2 8 2 3 4 1 2 4 2 3 2 3 1 3 4 2 2 1 2 2 4 2 1 14 1 13 1 7 4 7 6 4 2 6 1 1 1 4 2 10 2 2 3 4 1 5 2 10 3 1 2 1 5 3 1 2 2 7 1 5 2 3 2 2 5 15 2 5 3 1 2 1 4 11 6 1 2 10 2 1 1 9 4 20 2 1 2 15 9 2 4 3 1 25 2 4 4 3 2 9 2 4 2 17 3 1 2 9 2 3 6 5 2 15 2 1 1 6 2 1 2 20 3 24 1 1 2 1 4 10 2 1 2 11 2 1 5 3 4 4 4 4 2 3 2 2 3 2 1 1 6 9 5 4 5 2 5 1 2 3 1 4 2 6 3 10 4 5 2 4 2 7 2 3 2 2 2 2 3 8 1 2 3 15 1 1 2 3 2 2 2 1 2 2 3 12 2 1 2 2 2 12 2 11 4 3 1 1 2 5 2 7 4 4 2 3 4 10 3 3 4 3 2 4 4 6 7 4 2 3 4 5 4 1 2 3 2 2 2 8 3 3 4 8 3 3 8 5 7 5 1 10 4 5 2 10 4 1 1 5 5 9 1 11 1 1 5 2 2 1 2 5 2 12 2 2 6 1 1 3 1 1 4 2 1 1 1 14 1 3 2 2 3 2 2 1 2 2 5 6 2 16 7 5 2 3 1 1 2 2 2 1 6 3 3 1 2 5 1 2 1 3 3 3 2 1 1 5 2 17 1 3 1 7 2 9 4 3 2 1 2 7 3 1 1 2 2 5 5 6 1 2 11 2 1 1 2 5 1 6 2 4 4 3 4 1 2 7 2 12 2 1 3 14 2 2 2 22 4 1 5 2 4 5 4 5 2 2 4 5 2 7 3 6 2 1 3 1 2 6 2 1 5 11 2 6 1 3 2 5 2 1 3 1 4 2 2 3 2 9 3 3 3 4 2 2 6 9 2 15 3 5 2 1 6 2 3 6 2 1 2 3 2 3 2 4 4 3 2 4 4 6 2 8 3 6 2 2 2 2 2 7 3 4 1 7 1 16 2 5 2 10 3 4 2 3 8 3 2 7 2 3 1 6 2 3 2 7 1 4 2 4 8 1 1 8 4 1 2 4 2 2 2 3 4 4 1 5 2 2 2 20 2 2 3 1 2 9 1 10 2 6 4 3 5 7 1 2 4 7 3 3 2 10 2 20 2 1 2 4 1 1 3 2 2 3 2 1 1 2 2 1 2 1 2 9 7 15 2 8 5 1 5 2 2 3 4 5 2 2 2 2 2 2 1 1 3 4 1 2 1 4 4 3 2 4 2 2 5 1 2 5 4 1 1 2 1 1 2 29 2 4 1 9 2 14 6 4 2 16 4 2 4 1 5 6 3 2 4 28 1 3 3 3 4 6 2 9 1 5 11 1 3 3 2 4 3 3 2 6 3 2 3 2 2 1 7 4 4 9 6 11 2 3 2 1 1 6 8 4 3 5 2 5 2 1 4 3 2 3 4 9 1 5 4 1 2 3 1 1 2 4 1 2 1 1 6 2 2 7 2 1 1 14 4 2 1 4 2 4 2 4 6 6 1 2 1 1 3 12 4 4 3 3 2 1 1 1 2 4 2 3 2 2 2 6 2 8 1 4 3 1 2 4 1 9 2 1 4 1 1 1 2 12 1 3 2 8 1 3 4 9 4 16 2 3 2 4 2 4 2 6 1 13 2 3 2 7 6 4 2 8 3 8 2 1 1 4 2 4 2 2 1 7 2 6 4 7 1 3 2 3 4 1 2 3 2 4 4 2 2 2 3 6 5 13 3 1 5 15 1 5 2 2 3 12 2 12 2 17 1 1 4 5 5 8 1 3 2 6 1 2 2 8 2 1 2 12 2 6 2 9 2 2 5 3 1 5 2 2 2 14 2 10 1 19 3 2 2 1 1 20 1 2 2 3 1 1 2 1 2 11 1 6 4 3 2 3 4 15 2 9 2 7 5 10 3 12 3 4 5 2 2 2 1 6 2 4 1 4 1 2 4 3 3 2 6 1 4 3 2 4 2 3 2 14 2 17 2 3 1 3 4 1 2 2 3 14 2 4 2 2 5 24 2 10 3 8 2 1 1 1 4 2 1 1 5 1 2 4 3 8 1 1 5 3 4 6 1 18 2 6 2 4 3 1 3 1 1 1 2 16 2 1 4 1 3 2 2 1 2 2 5 8 2 11 2 20 2 1 1 3 2 1 7 5 2 15 3 3 5 4 2 4 2 8 2 5 8 3 3 1 2 1 6 1 2 9 2 16 2 19 4 9 1 6 5 1 9 3 2 5 2 13 3 14 3 8 2 8 6 8 1 11 3 12 1 6 2 4 8 9 5 2 1 8 1 6 3 1 2 6 2 3 1 3 2 1 4 1 2 2 2 6 5 8 2 1 3 7 2 5 2 10 4 3 2 2 5 2 2 4 2 2 4 9 2 3 4 7 1 2 2 9 1 5 2 8 3 1 1 3 2 14 2 18 2 1 2 18 2 8 4 7 2 9 2 7 2 21 2 5 2 4 2 1 2 3 3 3 1 3 4 2 2 3 4 3 1 3 4 1 2 1 4 6 5 9 2 7 2 1 4 2 4 11 1 5 5 4 4 2 2 14 2 2 2 1 2 6 1 11 2 8 3 3 2 9 5 8 2 9 2 11 1 4 2 32 4 1 2 4 1 8 1 1 2 2 2 25 1 9 1 1 4 6 2 12 5 2 2 2 1 1 2 1 8 2 2 1 2 2 4 3 2 13 2 1 2 5 3 3 2 13 2 13 5 6 2 8 7 2 1 5 5 14 1 3 1 4 1 9 2 4 2 1 3 1 2 12 2 1 4 15 2 2 2 7 3 1 2 10 4 3 2 10 1 2 2 10 2 3 7 1 2 1 2 1 1 2 1 7 2 2 2 3 3 3 1 3 2 13 2 1 2 2 2 2 2 2 8 6 4 1 2 3 2 4 2 1 5 7 2 2 2 2 3 5 2 15 3 3 1 18 3 14 3 2 4 11 2 9 2 4 1 3 3 12 2 4 2 7 1 4 2 11 4 3 2 2 4 5 2 3 2 3 2 2 10 3 3 1 2 2 2 1 2 6 3 3 2 1 2 5 1 2 1 13 2 4 2 2 2 8 5 2 4 9 4 1 2 5 1 6 2 2 2 1 4 1 2 7 1 8 2 15 1 3 2 3 2 4 2 2 2 5 2 2 2 6 1 1 2 4 1 1 2 9 2 4 6 3 2 2 1 12 3 3 2 10 4 1 1 2 4 4 6 6 8 3 2 8 2 5 1 9 2 6 2 4 1 26 3 1 1 1 8 5 1 3 2 2 3 1 6 8 3 6 2 7 2 1 4 11 5 14 2 17 1 2 2 5 4 3 3 6 2 3 2 3 2 5 2 1 4 5 3 9 3 1 2 3 1 1 2 2 2 1 1 6 3 5 5 2 6 4 3 4 1 3 2 5 2 21 2 3 2 2 2 7 2 2 4 7 4 19 2 4 2 8 3 10 4 11 2 5 1 1 5 5 2 8 4 6 2 4 2 1 4 18 2 10 1 4 3 4 2 18 2 1 2 8 3 4 1 2 1 10 1 7 3 7 4 1 2 4 2 1 6 2 2 1 2 6 3 3 4 4 1 5 2 1 2 4 1 2 2 1 2 8 2 5 5 1 2 1 4 5 2 5 2 3 1 1 2 4 2 12 2 2 8 3 2 4 2 3 1 3 3 8 3 2 1 6 2 4 1 3 2 1 2 5 7 4 3 2 4 14 8 1 2 10 3 2 5 2 1 9 2 8 2 10 2 2 2 6 2 2 5 11 3 1 2 1 4 7 5 3 2 6 6 5 3 4 2 3 3 12 1 1 2 5 1 2 6 7 1 4 3 3 3 2 2 5 2 2 2 3 2 1 1 3 2 1 2 4 2 1 4 3 2 1 2 3 2 1 4 7 2 3 1 8 1 5 3 10 2 2 2 3 2 6 2 2 3 7 2 12 1 7 1 4 2 6 2 11 6 4 4 11 5 4 1 8 4 3 4 11 1 3 2 18 2 2 2 2 2 4 2 1 2 4 6 3 1 5 2 1 3 7 2 1 2 7 1 7 1 10 3 3 1 2 1 16 2 1 2 3 4 3 4 4 1 34 2 2 6 5 1 6 4 8 4 2 2 3 3 4 5 1 2 7 2 20 2 4 4 8 3 1 1 7 2 4 2 11 4 7 2 2 2 20 2 6 7 2 1 11 2 3 6 4 4 1 2 7 1 2 2 3 2 4 2 9 3 4 1 9 2 13 2 8 2 1 1 9 6 5 6 2 2 1 2 1 2 5 1 6 3 3 4 4 2 3 4 2 5 6 1 5 1 2 2 2 2 4 2 1 3 10 9 2 2 3 2 1 2 4 2 13 1 2 2 2 3 18 1 13 2 4 2 6 1 5 2 14 2 3 2 2 5 1 3 1 1 1 2 17 2 1 1 1 3 13 2 11 6 4 9 2 2 1 2 9 1 4 4 1 4 6 2 1 7 2 2 5 2 1 5 1 1 2 1 6 2 2 3 6 4 3 7 8 3 7 1 5 2 2 3 20 2 1 2 2 2 2 2 1 2 13 2 3 2 2 1 7 4 11 3 15 2 1 1 3 4 3 3 15 2 11 2 8 2 6 2 5 2 10 1 2 1 3 2 4 2 17 2 1 2 5 2 4 2 2 5 7 1 1 2 2 2 7 2 1 1 7 2 8 2 2 4 5 2 2 1 7 3 5 1 2 4 15 2 3 6 9 4 4 1 3 6 2 2 4 3 1 1 17 1 2 4 5 3 2 4 2 3 2 3 10 2 9 2 7 2 2 2 9 8 5 2 15 1 8 8 1 2 11 1 3 2 13 2 1 2 9 6 1 4 3 2 9 2 2 3 3 6 5 4 2 1 1 1 13 4 2 2 5 1 5 1 4 1 1 2 3 2 6 2 2 1 2 2 3 4 11 2 17 2 1 1 6 2 1 2 1 7 3 1 14 1 2 1 1 7 3 2 1 5 23 2 11 3 10 5 3 3 2 2 1 4 9 2 4 2 5 3 3 2 1 1 6 2 8 6 6 1 2 4 20 2 1 4 3 2 2 2 2 3 9 1 10 2 15 1 1 2 4 1 14 1 3 2 3 3 1 5 3 1 10 2 1 2 6 2 8 1 1 4 3 1 3 6 5 2 5 2 2 2 10 4 2 1 4 3 1 2 7 2 16 2 4 2 1 4 2 2 7 2 2 2 1 4 12 3 3 1 1 2 2 4 2 6 10 2 2 1 5 7 4 2 4 2 7 2 1 2 12 3 2 7 11 2 9 2 4 2 6 4 1 2 7 1 2 2 10 1 2 2 3 2 1 1 1 2 1 2 2 2 3 4 1 2 2 2 2 2 10 3 10 1 1 2 3 9 7 2 2 3 11 2 3 2 4 2 11 2 5 2 4 2 4 1 1 4 13 5 4 3 7 5 5 2 8 2 4 4 7 2 4 1 2 3 7 2 3 3 3 1 25 1 5 3 1 2 2 2 6 1 5 1 3 3 2 1 8 3 4 2 3 3 4 2 3 2 19 2 9 2 10 1 2 2 1 2 1 2 3 1 4 2 20 1 2 1 1 2 7 7 4 2 3 2 1 5 3 4 1 4 3 2 5 2 11 4 3 4 5 2 1 2 1 2 4 2 23 2 5 1 5 1 7 1 1 4 5 2 7 2 4 1 7 2 14 1 4 1 11 9 8 2 1 2 8 1 6 1 13 9 2 8 1 2 7 3 4 4 1 3 5 1 2 1 3 2 1 1 8 2 18 2 2 1 8 6 1 2 4 3 7 4 15 2 2 1 3 3 2 1 3 2 9 2 6 2 2 1 6 2 4 2 10 3 1 1 1 2 5 4 27 1 5 1 3 6 4 3 1 7 11 1 10 3 12 7 2 4 2 3 2 2 6 1 1 4 15 2 10 4 3 1 2 2 2 2 5 4 6 2 4 2 9 2 1 2 4 1 17 3 1 5 11 5 5 6 5 2 10 3 17 4 6 2 5 6 6 6 3 2 1 2 1 2 3 6 2 3 7 4 4 2 12 2 1 5 2 2 2 3 4 10 1 5 2 2 7 3 1 2 22 2 7 4 1 2 3 1 8 1 8 2 3 1 5 3 3 1 3 2 21 1 5 4 1 4 6 6 9 2 2 1 5 3 10 3 2 2 3 1 1 1 1 6 9 4 14 10 3 1 6 1 6 2 1 8 2 2 3 3 1 2 3 2 5 8 3 2 18 2 1 2 8 7 12 2 1 2 2 2 5 2 22 4 3 2 2 2 8 3 1 2 13 4 3 2 3 2 1 7 1 10 1 1 5 1 20 2 3 2 2 2 1 3 2 2 13 2 7 3 1 1 3 2 13 6 1 3 2 5 5 2 1 2 4 2 5 2 2 1 5 8 11 2 12 3 3 3 2 2 4 5 3 6 2 2 28 3 1 1 1 6 13 3 4 2 20 2 5 5 1 2 9 2 3 2 8 1 2 2 7 4 12 5 20 11 11 2 5 2 6 1 16 5 1 2 13 5 5 5 3 2 6 4 6 1 13 7 8 2 1 2 4 2 8 2 1 3 2 3 6 1 5 2 14 5 12 2 3 3 9 3 2 3 8 2 3 2 1 2 1 6 7 1 11 1 1 2 3 7 1 2 7 2 2 1 5 1 2 4 1 4 13 1 1 4 3 1 4 2 2 2 3 4 2 1 2 4 2 2 9 2 6 5 2 2 3 2 4 2 2 2 7 2 3 4 1 3 7 2 12 2 1 1 11 4 2 1 10 2 3 5 5 2 3 2 7 1 17 4 2 3 16 1 3 1 3 3 1 1 5 2 8 1 5 4 2 8 4 2 18 3 1 2 1 4 1 2 4 2 5 1 3 2 1 2 1 3 1 2 4 5 7 2 6 2 5 2 2 2 5 2 14 4 1 2 2 4 1 1 5 4 7 3 2 1 12 2 8 2 2 1 2 2 1 2 1 2 1 2 12 1 2 2 6 2 2 1 3 1 3 2 12 2 7 2 9 4 9 5 11 4 2 2 14 2 2 2 1 5 4 4 1 6 4 2 1 5 3 4 24 2 1 1 11 1 1 4 1 4 6 2 11 3 1 2 5 2 9 2 19 2 7 2 3 2 3 4 7 1 1 4 3 4 1 2 1 1 4 1 2 1 8 2 1 2 2 5 2 5 2 3 9 1 3 2 1 4 1 2 2 6 6 2 4 1 2 2 2 3 1 2 2 3 2 2 3 2 4 2 2 2 10 1 2 3 5 4 7 3 4 4 8 3 1 2 1 2 4 2 6 2 21 5 4 2 1 1 5 4 6 2 1 2 3 3 1 5 7 4 1 1 1 1 5 1 5 1 4 7 8 2 7 2 3 3 1 2 2 3 3 4 1 2 2 1 6 1 9 2 2 2 12 1 2 2 18 5 3 1 21 4 1 4 3 1 3 6 2 5 14 3 3 5 9 1 1 2 11 6 2 4 10 1 10 3 8 3 1 2 10 3 1 2 11 2 2 2 4 2 3 3 6 9 10 6 1 7 2 2 14 1 1 2 2 4 1 2 13 1 1 2 27 1 6 3 3 1 1 3 8 4 16 2 10 2 3 2 1 2 2 4 1 2 1 2 6 2 7 4 2 3 4 4 1 1 3 2 5 1 2 2 1 2 25 2 3 5 2 3 4 2 1 2 3 2 3 6 2 3 3 4 27 2 2 2 4 2 1 2 2 2 5 2 13 2 1 2 1 4 13 2 5 2 1 1 1 4 5 1 4 1 6 2 5 3 6 2 2 1 5 4 12 10 12 2 1 2 2 4 2 3 9 1 1 1 7 2 23 3 2 2 11 1 3 2 3 2 3 2 1 1 3 3 2 7 2 1 4 1 8 2 5 1 18 2 3 2 5 7 2 2 1 9 10 3 10 2 2 2 5 2 4 4 1 2 12 3 12 5 2 2 13 2 1 6 3 2 5 3 5 4 3 3 2 4 6 1 1 5 5 3 3 1 1 2 1 8 10 4 1 2 6 3 12 2 7 2 2 1 4 3 8 1 1 2 1 1 4 2 1 2 4 2 1 2 2 2 5 2 1 2 1 1 3 4 11 2 2 2 3 2 1 1 2 1 10 2 7 2 8 5 5 3 9 1 3 3 2 2 4 4 4 2 5 2 1 2 13 2 3 2 5 2 1 3 5 2 2 2 3 2 1 8 9 4 4 1 4 4 5 2 13 6 5 1 4 2 4 2 4 10 2 3 12 2 7 1 2 2 1 3 8 2 6 5 3 4 8 3 4 7 4 3 7 2 4 2 4 2 4 2 2 2 1 4 2 2 1 2 11 3 2 5 18 2 17 2 1 2 4 2 3 3 4 5 14 4 4 3 2 1 2 3 3 2 2 2 18 3 2 2 15 6 17 2 12 5 3 2 8 1 2 2 2 8 11 3 2 2 6 2 1 3 1 3 5 1 4 4 13 4 2 2 11 6 2 3 3 2 4 2 4 5 1 2 5 4 5 2 1 2 5 1 2 3 4 3 4 2 2 3 1 3 14 1 5 2 1 6 6 2 1 3 3 4 3 7 1 4 1 1 12 1 5 2 5 2 1 2 15 4 6 4 7 1 1 4 6 4 2 1 11 2 17 2 7 2 5 4 2 1 5 2 1 2 1 3 7 1 2 10 6 2 1 6 21 2 2 1 3 4 4 4 1 4 3 1 3 4 4 2 5 2 7 2 3 2 2 1 3 2 7 9 1 1 1 2 1 3 5 2 1 1 9 2 1 2 2 1 9 2 9 2 17 2 3 1 6 2 1 2 3 3 7 6 9 2 19 2 7 1 10 8 3 2 18 2 1 2 1 3 10 2 17 1 6 1 13 6 1 5 4 3 2 2 3 2 5 3 7 2 17 1 2 4 2 2 11 1 9 2 4 2 2 2 4 2 5 2 5 2 1 2 1 2 10 2 6 4 3 4 3 2 4 1 21 1 5 1 1 2 8 2 2 1 5 2 2 4 3 1 4 2 1 1 7 2 3 4 3 4 2 2 7 2 2 2 4 2 1 2 1 2 9 2 6 1 13 2 2 4 7 3 2 2 1 2 6 3 5 9 2 3 6 4 2 2 1 2 4 2 10 3 3 1 2 2 8 7 4 2 5 1 1 3 2 2 6 4 3 2 3 7 11 4 4 2 10 3 2 2 1 1 11 2 1 1 5 2 1 2 9 4 9 2 7 2 3 2 1 1 4 2 11 5 1 3 3 2 2 1 3 2 7 2 21 2 3 2 2 3 5 7 8 3 1 2 3 4 1 2 2 4 3 2 8 2 6 2 5 3 19 2 2 2 8 4 1 2 6 3 7 2 9 2 3 3 9 2 13 1 1 2 1 2 3 1 27 1 3 1 4 4 11 4 2 3 6 8 5 1 17 2 1 2 1 2 1 6 2 2 3 2 13 2 1 2 9 2 3 5 31 2 9 4 6 2 2 4 1 4 1 2 3 1 2 2 4 4 4 2 3 4 5 2 13 1 2 1 4 4 2 2 1 2 4 1 11 2 1 4 3 2 4 2 7 4 6 1 9 3 2 9 2 5 1 2 1 1 5 2 14 2 1 2 1 2 8 1 14 1 12 2 33 2 16 4 3 4 10 1 2 1 5 4 2 1 1 2 7 3 1 1 10 7 1 2 3 5 5 2 4 3 6 2 5 3 1 1 8 2 2 2 4 4 8 5 5 10 8 2 5 2 4 2 1 3 3 4 1 3 2 2 2 11 4 1 5 2 3 2 15 2 3 2 3 4 1 3 2 3 33 4 2 3 1 1 8 1 12 2 1 2 1 1 1 1 2 4 5 2 4 7 3 2 1 4 4 2 6 2 11 1 9 1 1 4 1 1 2 1 1 2 9 2 1 2 4 1 10 1 1 4 3 4 9 5 8 5 10 2 1 2 5 4 15 2 2 1 8 1 3 4 5 2 15 2 3 2 3 3 2 2 19 3 1 6 9 1 1 1 6 8 5 3 7 3 4 8 5 3 1 2 3 2 3 2 3 2 2 2 4 2 3 2 11 1 8 1 1 5 6 2 9 4 7 2 3 3 8 1 2 2 1 2 19 2 1 4 4 2 6 5 2 3 11 3 5 1 5 1 4 6 3 7 10 2 2 6 4 6 2 2 7 2 2 3 1 2 3 2 3 3 6 2 2 1 1 2 15 2 1 1 9 4 2 4 10 1 2 2 1 2 3 5 1 1 11 6 3 4 10 3 4 2 11 2 16 5 1 5 2 1 6 1 7 1 2 5 9 1 1 4 7 2 13 2 5 5 6 3 5 4 1 1 4 3 4 1 1 4 1 2 7 1 4 2 10 2 14 2 21 2 1 2 11 7 17"/>
<use href="#s4" stroke="#0000ed" stroke-dashoffset="-2" stroke-dasharray="5 29 1 12 1 1 1 5 3 3 3 3 3 3 3 15 1 6 2 24 2 12 1 6 1 31 2 15 1 9 1 6 2 22 2 24 1 14 1 1 2 28 1 29 1 27 2 113 2 24 4 32 1 12 1 3 1 2 1 18 4 30 1 28 1 8 2 16 2 3 1 2 1 20 2 1 2 4 1 16 2 2 1 1 4 19 2 38 2 6 5 45 2 7 1 15 1 6 2 8 1 25 5 11 3 2 2 1 1 2 1 32 2 6 1 70 1 11 2 3 2 1 1 63 1 17 1 11 1 4 2 12 2 8 1 7 2 8 2 11 2 3 1 9 1 32 1 9 1 38 2 2 2 6 1 2 1 16 1 87 1 5 1 6 1 1 2 3 2 13 2 13 2 3 1 32 2 6 2 19 2 5 1 16 2 1 1 59 4 37 2 15 2 30 1 22 2 39 2 1 2 10 2 10 2 5 2 9 2 82 2 56 2 21 2 9 2 27 1 8 3 23 2 5 2 58 1 8 1 13 2 14 1 27 2 13 2 67 2 1 1 35 1 1 2 1 2 16 1 31 1 26 1 10 2 15 2 10 2 44 2 4 3 20 1 56 2 37 1 18 3 2 1 3 2 1 1 2 3 2 3 4 1 1 2 3 2 3 2 4 2 42 2 1 2 1 2 3 2 8 1 23 2 14 1 16 1 5 2 8 1 12 1 2 2 38 1 1 2 2 2 3 2 15 2 7 2 11 2 48 5 57 1 47 1 24 2 76 2 13 5 18 2 15 1 33 2 25 2 17 1 19 1 18 2 57 2 31 1 34 4 14 2 1 1 21 3 4 1 54 3 3 1 21 2 8 2 90 1 3 4 16 1 16 1 37 2 1 3 70 1 9 1 14 1 35 2 9 1 12 2 20 2 17 5 46 2 33 1 15 1 30 4 10 2 24 1 1 2 15 1 8 1 9 2 12 1 2 1 12 3 2 5 37 3 21 1 42 1 56 2 9 2 14 2 1 1 23 1 4 1 45 4 14 2 22 3 12 4 1 2 74 2 52 1 15 1 27 1 5 1 4 1 4 3 5 1 1 1 7 2 11 1 3 1 15 1 6 1 20 2 16 1 31 2 14 2 15 1 19 2 19 2 1 2 31 1 10 1 8 1 7 4 13 1 14 2 4 1 8 2 41 1 9 2 12 1 27 2 31 2 76 4 56 1 40 2 23 2 12 2 42 2 20 2 1 2 28 2 25 4 27 1 4 1 43 2 19 2 2 1 107 2 12 10 3 1 15 2 13 2 8 4 12 2 24 1 30 2 1 1 5 4 11 1 2 3 49 2 2 2 19 1 1 2 24 2 26 1 5 3 14 1 3 1 22 2 2 1 22 2 25 1 83 2 8 2 37 1 34 1 31 1 6 1 11 1 55 1 25 2 1 1 64 2 120 2 10 1 58 1 23 2 58 2 22 2 8 2 1 1 4 1 40 2 13 1 10 2 44 2 11 1 37 1 60 2 13 1 9 1 32 1 7 3 41 1 10 2 30 2 116 1 6 1 8 2 8 2 47 1 19 2 5 1 32 2 77 2 10 1 7 1 58 2 8 2 124 1 22 1 16 2 20 2 43 2 77 2 99 1 30 2 26 1 26 2 1 2 21 2 7 2 40 1 4 2 12 1 2 2 55 1 10 2 1 1 25 1 9 2 8 1 3 1 31 2 22 1 8 1 8 1 19 1 30 1 7 3 3 2 18 2 21 1 2 1 2 1 59 1 45 1 37 2 66 2 10 2 125 2 6 1 10 2 27 1 6 1 16 1 66 3 107 1 26 2 56 1 1 2 29 2 12 2 32 1 14 1 130 1 1 1 16 2 12 2 5 2 18 1 23 3 74 1 3 3 20 1 31 1 13 2 13 1 4 2 60 2 8 2 2 1 29 2 17 1 37 2 84 2 4 2 1 2 22 1 11 2 51 2 4 2 40 1 23 2 61 2 3 1 11 1 33 2 21 1 150 2 2 2 7 1 5 1 37 1 34 1 66 2 17 1 113 1 32 1 3 2 5 2 27 1 50 1 108 1 1 2 69 1 27 2 84 1 7 2 45 1 6 2 18 2 3 1 79 1 21 1 17 2 14 1 9 2 54 4 45 2 73 1 16 1 1 1 4 2 3 2 8 1 15 3 5 1 61 1 50 2 12 1 7 2 28 3 37 2 21 1 32 1 47 2 19 1 86 1 8 2 35 2 47 2 1 1 1 1 34 2 17 4 101 1 9 2 14 2 28 2 61 1 26 1 31 1 54 2 34 1 47 2 30 2 16 2 27 1 49 2 49 1 31 2 23 2 9 1 4 1 108 2 11 2 22 1 5 1 42 2 11 1 70 1 41 1 51 2 62 1 16 2 10 3 49 2 6 2 17 2 53 1 21 1 63 2 2 1 14 2 26 1 104 2 4 1 33 1 45 2 16 2 46 1 23 2 22 1 79 1 140 2 132 1 22 1 49 4 73 3 4 2 106 4 4 2 6 1 5 2 6 3 12 2 78 3 32 2 40 2 52 4 3 1 62 2 54 2 9 3 6 2 30 1 50 1 17 2 22 2 52 4 46 1 4 2 31 2 48 1 20 2 127 2 3 2 14 1 9 2 8 1 29 2 32 2 22 2 54 2 5 2 63 2 40 1 1 2 11 2 10 2 72 2 7 4 27 2 21 2 36 2 27 2 39 2 10 2 28 3 7 2 15 1 6 1 73 2 18 1 13 1 1 1 16 2 34 2 13 1 68 1 73 1 67 1 11 3 55 1 18 4 3 2 4 2 31 2 75 1 9 1 20 2 23 4 36 2 108 1 41 2 42 2 28 3 3 1 1 2 9 2 19 2 26 2 16 2 2 1 35 2 32 4 28 2 61 3 27 1 21 1 27 3 8 2 45 2 21 1 14 4 16 1 79 2 1 1 11 1 3 1 32 1 37 1 2 2 18 1 50 3 18 1 52 3 82 2 24 1 27 1 1 2 1 1 76 4 7 2 254 1 14 1 14 1 8 1 20 1 28 2 63 2 32 1 25 2 37 1 21 2 49 2 29 4 1 2 10 4 44 1 10 1 28 1 6 2 40 1 2 1 6 1 2 2 9 2 58 1 38 2 36 1 1 3 52 1 15 2 19 3 22 3 59 2 11 1 33 2 45 2 69 1 8 2 84 2 18 1 60 3 82 2 11 2 63 2 61 2 8 1 24 1 1 2 4 1 35 1 48 2 19 2 13 1 43 2 16 2 2 2 16 2 3 1 11 2 52 1 7 1 22 2 26 2 2 2 8 2 57 1 59 1 40 1 58 2 20 2 3 2 10 2 22 2 45 1 3 3 29 2 5 2 98 1 5 4 8 1 12 2 17 3 5 1 6 3 13 2 74 1 2 1 26 3 11 2 16 2 17 1 1 1 46 2 4 2 36 1 36 1 15 2 82 1 76 1 16 2 83 2 12 1 27 1 43 1 51 1 8 2 40 2 4 2 1 2 21 1 40 2 2 2 32 2 23 1 3 1 19 2 30 1 11 2 5 2 9 2 6 1 8 2 21 1 26 3 48 2 7 1 17 2 1 4 12 1 15 2 14 2 73 3 40 2 155 2 59 2 16 2 29 1 40 2 22 1 62 1 2 1 1 2 14 2 15 1 103 3 4 2 19 2 4 2 36 2 27 2 1 2 17 2 21 1 19 1 19 2 28 1 8 2 5 1 29 1 28 3 9 3 30 2 13 2 14 2 28 1 6 1 13 1 19 2 109 2 3 2 40 1 78 1 1 2 7 1 25 2 34 1 62 2 38 1 17 1 36 1 17 1 1 2 73 1 134 2 11 2 17 2 15 2 27 4 1 1 8 1 61 1 3 2 2 2 24 1 25 1 1 2 120 1 3 1 4 1 20 1 20 1 13 2 118 1 68 2 16 1 5 1 142 2 40 2 18 2 29 1 19 1 1 1 122 1 136 2 1 2 10 2 4 1 9 1 79 1 31 2 37 1 36 2 31 6 33 2 6 1 18 2 33 2 3 2 99 2 10 4 39 4 5 1 5 1 1 2 120 1 25 2 7 1 23 2 13 1 1 1 66 2 13 1 20 2 2 2 10 2 22 1 16 4 10 1 49 2 37 1 38 2 5 2 6 5 34 1 10 1 36 3 26 2 3 2 17 1 52 3 52 2 22 2 30 2 4 2 9 1 91 1 6 1 5 1 40 1 32 2 3 1 51 1 24 2 36 1 57 2 24 2 1 1 1 2 67 1 11 2 35 2 36 1 74 1 52 2 2 2 21 1 2 2 24 2 53 2 14 2 16 2 4 2 7 2 49 2 47 1 53 2 4 1 3 2 28 2 2 2 8 2 16 1 8 2 10 2 71 2 33 2 24 2 18 1 35 2 26 2 54 1 66 1 13 1 61 1 12 2 37 3 4 1 2 1 14 1 8 2 5 4 49 2 33 1 5 2 17 1 5 2 31 1 34 1 14 2 3 1 19 4 10 1 95 1 2 1 31 2 36 1 20 2 45 2 9 1 2 2 51 2 1 1 16 2 6 2 29 1 241 1 4 1 97 2 10 2 7 1 60 2 20 2 98 2 155 1 46 2 5 1 15 1 17 1 2 3 28 1 32 1 14 1 39 2 56 2 9 2 42 1 19 1 35 2 9 1 13 1 63 1 48 1 8 2 9 1 81 1 41 1 45 1 37 2 20 1 1 1 41 1 37 1 14 1 2 2 30 1 25 1 10 1 11 2 34 2 9 1 30 2 12 3 102 1 5 1 30 1 16 2 16 1 90 3 33 2 8 4 18 2 73 2 16 2 10 2 42 1 94 1 1 2 5 1 16 2 7 2 20 1 2 1 2 1 58 1 28 2 39 2 57 4 76 1 28 2 4 1 35 2 21 1 29 2 11 4 19 2 11 1 68 1 21 3 69 2 13 2 5 1 178 1 8 2 19 1 10 3 37 1 2 1 128 1 74 1 21 2 17 1 7 4 40 2 98 2 27 2 24 1 2 1 10 1 29 2 10 1 24 1 7 2 3 2 38 2 3 1 11 2 53 1 40 2 24 2 4 1 25 1 47 4 40 2 32 2 22 1 124 2 22 1 33 1 7 2 56 3 55 1 115 1 13 2 44 1 29 1 80 2 27 2 65 2 8 2 9 2 66 2 38"/>
<use href="#s4" stroke="#0017ff" stroke-dashoffset="-4" stroke-dasharray="2 52 1 5 2 3 1 6 2 22 2 24 1 13 1 137 1 1 1 337 1 38 1 78 2 21 1 38 1 8 1 133 1 134 1 70 1 77 1 11 2 95 2 124 1 9 1 3 1 103 1 233 1 33 1 94 1 129 3 31 1 58 1 364 1 117 1 19 1 14 2 2 1 8 2 14 2 149 1 49 1 92 5 223 5 35 1 33 1 65 1 145 4 14 2 23 2 61 1 132 1 1 2 33 1 41 1 96 1 59 2 39 2 1 1 47 2 80 1 67 1 23 1 16 1 3 4 39 1 65 1 161 4 39 1 208 3 48 1 6 1 103 1 104 4 28 2 221 2 262 3 33 1 193 2 24 2 263 2 18 1 1142 2 350 1 302 1 300 1 62 1 106 2 44 2 125 2 21 1 218 1 10 2 265 1 135 1 284 1 1 1 38 1 43 1 423 1 91 2 362 1 14 1 305 1 469 1 3 1 79 1 301 1 172 1 94 1 155 1 155 1 158 2 211 1 47 2 572 1 145 2 474 1 472 1 51 2 219 2 349 1 11 1 90 1 96 1 157 2 320 1 120 1 325 1 184 1 763 1 140 2 174 1 56 2 39 1 111 1 223 1 137 1 81 3 353 2 269 1 153 1 161 1 90 1 427 1 83 1 140 2 33 1 43 1 49 1 100 1 147 2 347 1 30 1 105 1 6 1 180 1 104 2 394 1 220 1 65 1 231 2 28 1 465 1 212 1 19 1 73 1 452 1 295 1 75 1 73 1 134 1 80 1 719 2 69 1 264 1 11 2 14 1 79 1 141 1 1 1 103 1 353 1 83 1 92 1 156 3 85 1 231 1 104 1 278 1 3 2 154 1 451 2 189 1 81 2 225 1 53 1 22 1 15 1 573 1 457 1 120 1 367 1 57 1 678 2 90 2 158 1 108 1 34 1 301 1 333 2 93 2 138 1 314 1 438 2 148 1 209 1 332 1 66 1 186 2 262 1 119"/>
<use href="#s4" stroke="#004dff" stroke-dashoffset="-5" stroke-dasharray="1 52 1 10 1 208 1 378 1 78 2 1333 2 32 1 58 1 364 1 117 1 19 1 18 1 25 1 199 1 92 5 223 5 135 1 146 3 14 1 222 2 75 1 96 1 100 2 1 1 197 1 44 4 267 4 39 1 209 2 55 1 208 3 252 2 263 2 227 2 289 1 1514 1 302 1 300 1 170 1 172 1 941 1 506 1 470 1 1429 1 155 1 315 1 211 1 767 2 1220 1 453 1 2387 1 335 1 137 1 82 2 940 1 872 1 1423 1 286 1 1859 1 73 1 935 1 70 1 974 1 334 2 422 1 891 1 271 2 302 1 15 1 2350 1 939 1 1934 1 384"/>
<use href="#s4" stroke="#008fff" stroke-dashoffset="-2164" stroke-dasharray="1 840 4 224 5 282 2 238 2 273 2 246 2 267 4 249 2 264 3 252 2 263 1 4431 1 3353 1 4619 1 5459 1 935 1 3288 1 7769"/>
<use href="#s4" stroke="#05dbf6" stroke-dashoffset="-3005" stroke-dasharray="4 224 4 283 2 238 2 273 2 246 2 267 2 251 2 265 1 253 2 263 1 30701"/>
<use href="#s4" stroke="#3effb9" stroke-dashoffset="-3005" stroke-dasharray="4 225 3 283 2 238 2 273 2 246 2 267 2 251 2 31486"/>
<use href="#s4" stroke="#8cff6b" stroke-dashoffset="-3005" stroke-dasharray="4 225 1 285 2 238 2 273 2 246 2 520 2 31486"/>
<use href="#s4" stroke="#e0f719" stroke-dashoffset="-3005" stroke-dasharray="4 511 2 238 2 521 2 520 2 31486"/>
<use href="#s4" stroke="#ffa100" stroke-dashoffset="-3005" stroke-dasharray="4 511 2 238 2 521 2 520 2 31486"/>
<use href="#s4" stroke="#f93000" stroke-dashoffset="-3005" stroke-dasharray="4 511 2 238 2 521 2 520 1 31487"/>
<use href="#s4" stroke="#ae0000" stroke-dashoffset="-3006" stroke-dasharray="3 511 2 761 2 32009"/>
</g>
<path d="M784.4 863.2L787 863.2L789.5 863.2L792.1 863.2L794.6 863.2L797.2 863.2L799.7 863.2L802.3 863.2L804.9 863.2L807.4 863.2L810 863.2L812.5 863.2L815.1 863.2L817.6 863.2L820.2 863.2L822.8 863.2L825.3 863.2L827.9 863.2L830.4 863.2L833 863.2L835.5 863.2L838.1 863.2L840.7 863.2L843.2 863.2L845.8 863.2L848.3 863.2L850.9 863.2L853.4 863.2L856 861.8L858.6 860.4L859.8 859L863.7 856.2L866.2 853.3L868.8 850.5L871.4 847.7L872.6 844.9L873.9 842.1L873.9 842.1L873.9 839.3L874.5 836.4L875.2 830.8L876.5 825.2L876.5 819.5L877.1 813.9L877.1 813.9L877.7 808.3L877.7 802.6L878.1 791.3L878.4 780.1L878.4 780.1L878.7 768.8L878.9 757.5L879.2 735L879.3 712.4L879.3 712.4L879.7 689.9L880.1 667.3L881.5 622.3L881.8 577.2" fill="none" stroke="#f0f" stroke-opacity=".16" stroke-width="1.2"/>
<g fill="#f0f" stroke="#000" stroke-width=".7">
<circle cx="784.4" cy="863.2" r="3.1" fill-opacity=".12" stroke-opacity=".12"/>
<circle cx="787" cy="863.2" r="3.1" fill-opacity=".12" stroke-opacity=".12"/>
<circle cx="789.5" cy="863.2" r="3.1" fill-opacity=".12" stroke-opacity=".12"/>
<circle cx="792.1" cy="863.2" r="3.1" fill-opacity=".12" stroke-opacity=".12"/>
<circle cx="794.6" cy="863.2" r="3.1" fill-opacity=".12" stroke-opacity=".12"/>
<circle cx="797.2" cy="863.2" r="3.1" fill-opacity=".12" stroke-opacity=".12"/>
<circle cx="799.7" cy="863.2" r="3.1" fill-opacity=".12" stroke-opacity=".12"/>
<circle cx="802.3" cy="863.2" r="3.1" fill-opacity=".12" stroke-opacity=".12"/>
<circle cx="804.9" cy="863.2" r="3.1" fill-opacity=".12" stroke-opacity=".12"/>
<circle cx="807.4" cy="863.2" r="3.1" fill-opacity=".12" stroke-opacity=".12"/>
<circle cx="810" cy="863.2" r="3.1" fill-opacity=".12" stroke-opacity=".12"/>
<circle cx="812.5" cy="863.2" r="3.1" fill-opacity=".12" stroke-opacity=".12"/>
<circle cx="815.1" cy="863.2" r="3.1" fill-opacity=".12" stroke-opacity=".12"/>
<circle cx="817.6" cy="863.2" r="3.1" fill-opacity=".12" stroke-opacity=".12"/>
<circle cx="820.2" cy="863.2" r="3.1" fill-opacity=".12" stroke-opacity=".12"/>
<circle cx="822.8" cy="863.2" r="3.1" fill-opacity=".12" stroke-opacity=".12"/>
<circle cx="825.3" cy="863.2" r="3.1" fill-opacity=".12" stroke-opacity=".12"/>
<circle cx="827.9" cy="863.2" r="3.1" fill-opacity=".12" stroke-opacity=".12"/>
<circle cx="830.4" cy="863.2" r="3.1" fill-opacity=".12" stroke-opacity=".12"/>
<circle cx="833" cy="863.2" r="3.1" fill-opacity=".12" stroke-opacity=".12"/>
<circle cx="835.5" cy="863.2" r="3.1" fill-opacity=".12" stroke-opacity=".12"/>
<circle cx="838.1" cy="863.2" r="3.1" fill-opacity=".12" stroke-opacity=".12"/>
<circle cx="840.7" cy="863.2" r="3.1" fill-opacity=".12" stroke-opacity=".12"/>
<circle cx="843.2" cy="863.2" r="3.1" fill-opacity=".12" stroke-opacity=".12"/>
<circle cx="845.8" cy="863.2" r="3.1" fill-opacity=".12" stroke-opacity=".12"/>
<circle cx="848.3" cy="863.2" r="3.1" fill-opacity=".12" stroke-opacity=".12"/>
<circle cx="850.9" cy="863.2" r="3.1" fill-opacity=".12" stroke-opacity=".12"/>
<circle cx="853.4" cy="863.2" r="3.1" fill-opacity=".27" stroke-opacity=".27"/>
<circle cx="856" cy="861.8" r="3.1" fill-opacity=".27" stroke-opacity=".27"/>
<circle cx="858.6" cy="860.4" r="3.1" fill-opacity=".27" stroke-opacity=".27"/>
<circle cx="859.8" cy="859" r="2.9" fill-opacity=".22" stroke-opacity=".22"/>
<circle cx="863.7" cy="856.2" r="2.9" fill-opacity=".24" stroke-opacity=".24"/>
<circle cx="866.2" cy="853.3" r="2.9" fill-opacity=".24" stroke-opacity=".24"/>
<circle cx="868.8" cy="850.5" r="2.9" fill-opacity=".24" stroke-opacity=".24"/>
<circle cx="871.4" cy="847.7" r="2.9" fill-opacity=".24" stroke-opacity=".24"/>
<circle cx="872.6" cy="844.9" r="2.9" fill-opacity=".24" stroke-opacity=".24"/>
<circle cx="873.9" cy="842.1" r="2.9" fill-opacity=".22" stroke-opacity=".22"/>
<circle cx="873.9" cy="839.3" r="2.9" fill-opacity=".2" stroke-opacity=".2"/>
<circle cx="873.9" cy="842.1" r="2.9" fill-opacity=".23" stroke-opacity=".23"/>
<circle cx="874.5" cy="836.4" r="2.9" fill-opacity=".27" stroke-opacity=".27"/>
<circle cx="875.2" cy="830.8" r="2.9" fill-opacity=".27" stroke-opacity=".27"/>
<circle cx="876.5" cy="825.2" r="2.9" fill-opacity=".25" stroke-opacity=".25"/>
<circle cx="876.5" cy="819.5" r="2.9" fill-opacity=".25" stroke-opacity=".25"/>
<circle cx="877.1" cy="813.9" r="2.9" fill-opacity=".2" stroke-opacity=".2"/>
<circle cx="877.7" cy="808.3" r="2.9" fill-opacity=".14" stroke-opacity=".14"/>
<circle cx="877.1" cy="813.9" r="2.9" fill-opacity=".25" stroke-opacity=".25"/>
<circle cx="877.7" cy="802.6" r="2.9" fill-opacity=".2" stroke-opacity=".2"/>
<circle cx="878.1" cy="791.3" r="2.9" fill-opacity=".23" stroke-opacity=".23"/>
<circle cx="878.4" cy="780.1" r="2.9" fill-opacity=".15" stroke-opacity=".15"/>
<circle cx="878.7" cy="768.8" r="2.9" fill-opacity=".17" stroke-opacity=".17"/>
<circle cx="878.4" cy="780.1" r="3" fill-opacity=".3" stroke-opacity=".3"/>
<circle cx="878.9" cy="757.5" r="3" fill-opacity=".3" stroke-opacity=".3"/>
<circle cx="879.2" cy="735" r="3" fill-opacity=".17" stroke-opacity=".17"/>
<circle cx="879.3" cy="712.4" r="3" fill-opacity=".25" stroke-opacity=".25"/>
<circle cx="879.7" cy="689.9" r="3" fill-opacity=".17" stroke-opacity=".17"/>
<circle cx="879.3" cy="712.4" r="3.1" fill-opacity=".4" stroke-opacity=".4"/>
<circle cx="880.1" cy="667.3" r="3.1" fill-opacity="1" stroke-opacity="1"/>
<circle cx="881.5" cy="622.3" r="3.1" fill-opacity=".9" stroke-opacity=".9"/>
<circle cx="881.8" cy="577.2" r="3.1" fill-opacity=".45" stroke-opacity=".45"/>
</g><g fill="#ff0" stroke="#000" stroke-width=".9">
<circle cx="859.8" cy="859" r="6.2" fill-opacity=".55" stroke-opacity=".39"/>
<circle cx="863.7" cy="856.2" r="6.2" fill-opacity=".6" stroke-opacity=".42"/>
<circle cx="866.2" cy="853.3" r="6.2" fill-opacity=".6" stroke-opacity=".42"/>
<circle cx="868.8" cy="850.5" r="6.2" fill-opacity=".6" stroke-opacity=".42"/>
<circle cx="871.4" cy="847.7" r="6.2" fill-opacity=".6" stroke-opacity=".42"/>
<circle cx="872.6" cy="844.9" r="6.2" fill-opacity=".6" stroke-opacity=".42"/>
<circle cx="873.9" cy="842.1" r="6.2" fill-opacity=".55" stroke-opacity=".39"/>
<circle cx="873.9" cy="839.3" r="6.2" fill-opacity=".5" stroke-opacity=".35"/>
</g>
</g>
<path d="M767.5 893.5v-5.6 M767.5 532.5v5.6 M818.5 893.5v-5.6 M818.5 532.5v5.6 M869.5 893.5v-5.6 M869.5 532.5v5.6 M920.5 893.5v-5.6 M920.5 532.5v5.6 M971.5 893.5v-5.6 M971.5 532.5v5.6 M1022.5 893.5v-5.6 M1022.5 532.5v5.6" stroke="#000" stroke-width=".8" fill="none"/>
<rect x="715.5" y="532.5" width="328" height="361" fill="none" stroke="#000" stroke-width="1.39"/>
<text transform="translate(879.02 525.07) scale(.99 1)" class="t">scale=128</text>
<text transform="translate(715.36 912.8) scale(.975 1.06)">0</text>
<text transform="translate(766.5 912.8) scale(.975 1.06)">5</text>
<text transform="translate(817.65 912.8) scale(.975 1.06)">10</text>
<text transform="translate(868.79 912.8) scale(.975 1.06)">15</text>
<text transform="translate(919.94 912.8) scale(.975 1.06)">20</text>
<text transform="translate(971.08 912.8) scale(.975 1.06)">25</text>
<text transform="translate(1022.23 912.8) scale(.975 1.06)">30</text>
<text transform="translate(879.62 937.8) scale(1 1.06)">time (seconds)</text>
<rect x="1063.5" y="532.5" width="18" height="361" fill="url(#jet)"/>
<text transform="translate(1086.53 898) scale(.975 1.06)" class="s">0.0</text>
<text transform="translate(1086.53 845) scale(.975 1.06)" class="s">1.5</text>
<text transform="translate(1086.53 793) scale(.975 1.06)" class="s">3.0</text>
<text transform="translate(1086.53 740) scale(.975 1.06)" class="s">4.5</text>
<text transform="translate(1086.53 687) scale(.975 1.06)" class="s">6.0</text>
<text transform="translate(1086.53 634) scale(.975 1.06)" class="s">7.5</text>
<text transform="translate(1086.53 582) scale(.975 1.06)" class="s">9.0</text>
<path d="M1081.5 840.5h-6.2 M1081.5 787.5h-6.2 M1081.5 735.5h-6.2 M1081.5 682.5h-6.2 M1081.5 629.5h-6.2 M1081.5 576.5h-6.2" stroke="#000" stroke-width=".8" fill="none"/>
<rect x="1063.5" y="532.5" width="18" height="361" fill="none" stroke="#000" stroke-width="1.39"/>
</g>
<g id="p256">
<rect x="1206.5" y="532.5" width="328" height="361" fill="#fff"/>
<clipPath id="c5"><rect x="1206.5" y="532.5" width="328" height="361"/></clipPath>
<g clip-path="url(#c5)">
<g transform="translate(1206.346 892.8) scale(2.55722 -1.40909)" shape-rendering="crispEdges" fill="none">
<rect width="127" height="256" fill="#00008e"/>
<defs><path id="s5" d="M.5 -2V258H1.5V-2H2.5V258H3.5V-2H4.5V258H5.5V-2H6.5V258H7.5V-2H8.5V258H9.5V-2H10.5V258H11.5V-2H12.5V258H13.5V-2H14.5V258H15.5V-2H16.5V258H17.5V-2H18.5V258H19.5V-2H20.5V258H21.5V-2H22.5V258H23.5V-2H24.5V258H25.5V-2H26.5V258H27.5V-2H28.5V258H29.5V-2H30.5V258H31.5V-2H32.5V258H33.5V-2H34.5V258H35.5V-2H36.5V258H37.5V-2H38.5V258H39.5V-2H40.5V258H41.5V-2H42.5V258H43.5V-2H44.5V258H45.5V-2H46.5V258H47.5V-2H48.5V258H49.5V-2H50.5V258H51.5V-2H52.5V258H53.5V-2H54.5V258H55.5V-2H56.5V258H57.5V-2H58.5V258H59.5V-2H60.5V258H61.5V-2H62.5V258H63.5V-2H64.5V258H65.5V-2H66.5V258H67.5V-2H68.5V258H69.5V-2H70.5V258H71.5V-2H72.5V258H73.5V-2H74.5V258H75.5V-2H76.5V258H77.5V-2H78.5V258H79.5V-2H80.5V258H81.5V-2H82.5V258H83.5V-2H84.5V258H85.5V-2H86.5V258H87.5V-2H88.5V258H89.5V-2H90.5V258H91.5V-2H92.5V258H93.5V-2H94.5V258H95.5V-2H96.5V258H97.5V-2H98.5V258H99.5V-2H100.5V258H101.5V-2H102.5V258H103.5V-2H104.5V258H105.5V-2H106.5V258H107.5V-2H108.5V258H109.5V-2H110.5V258H111.5V-2H112.5V258H113.5V-2H114.5V258H115.5V-2H116.5V258H117.5V-2H118.5V258H119.5V-2H120.5V258H121.5V-2H122.5V258H123.5V-2H124.5V258H125.5V-2H126.5V258"/></defs>
<use href="#s5" stroke="#0000b7" stroke-dashoffset="-2" stroke-dasharray="2 2 2 1 1 2 2 2 1 1 2 2 1 4 1 11 1 2 1 11 3 6 1 2 1 3 1 5 2 14 1 5 1 2 1 4 1 3 1 2 1 1 1 6 1 5 1 5 1 8 1 1 1 12 1 2 1 2 1 2 1 2 2 4 1 10 1 1 1 4 2 21 1 5 2 7 1 2 3 5 1 8 2 9 2 2 2 6 1 1 2 4 1 1 1 3 1 2 1 3 2 2 2 1 1 3 1 5 1 3 1 6 2 4 2 1 2 7 4 7 1 2 1 1 2 2 1 2 2 3 1 3 2 4 1 2 1 1 2 4 2 3 1 2 2 4 2 2 2 8 5 14 3 2 2 5 1 3 1 2 1 1 2 3 3 4 1 1 1 4 1 7 3 4 2 3 2 1 4 1 4 1 1 4 3 5 1 1 1 4 9 1 1 1 3 1 4 3 3 4 2 5 1 1 4 1 3 4 2 2 1 2 2 2 1 6 1 1 4 1 1 1 1 10 4 9 1 1 2 1 2 2 2 7 1 2 1 1 1 2 1 1 2 5 1 2 2 4 1 1 1 3 2 1 1 7 1 2 1 1 2 1 2 8 1 4 2 1 1 1 1 2 1 3 1 3 1 1 1 1 3 1 4 1 1 3 1 9 1 1 4 1 1 6 2 3 1 5 1 3 3 8 3 1 1 1 1 5 1 4 1 2 2 4 2 3 1 3 2 7 1 2 1 1 1 2 1 1 4 3 2 4 2 1 1 10 1 3 1 4 1 1 2 4 1 4 1 1 1 2 3 2 1 7 1 2 3 1 1 5 1 1 2 1 1 1 1 10 2 1 1 1 4 3 2 1 1 3 1 2 2 1 1 3 1 5 2 2 4 1 1 2 2 1 2 4 2 1 1 2 2 1 1 1 3 1 2 1 2 1 4 4 4 7 3 1 1 1 2 1 1 1 1 1 1 1 1 1 1 1 3 1 6 1 1 3 1 1 1 1 3 5 1 10 1 3 1 1 2 2 1 3 4 3 1 1 1 4 1 3 1 5 1 3 6 5 1 3 2 1 2 1 1 4 2 2 2 2 3 5 2 1 7 2 1 1 1 1 1 3 4 1 1 3 1 6 1 3 4 1 1 2 1 2 2 2 1 5 4 1 1 4 3 2 1 3 1 4 1 5 1 3 1 1 1 1 1 6 2 2 2 7 2 3 1 6 1 4 1 5 1 2 1 6 3 2 3 4 1 1 4 2 1 1 2 3 2 2 3 1 1 4 1 1 2 7 1 1 1 2 2 4 1 1 3 3 1 1 1 1 2 1 2 2 1 3 1 2 1 1 1 2 2 4 4 3 1 1 2 5 4 1 1 3 1 2 5 2 3 2 1 1 1 3 1 1 1 2 1 1 2 1 1 2 1 3 1 2 1 1 2 4 1 3 1 1 1 1 1 1 1 1 1 3 1 1 1 1 1 1 7 1 1 1 2 2 2 1 2 1 1 1 4 7 2 1 3 1 4 3 4 1 2 1 4 2 2 6 2 1 3 1 1 8 2 1 1 2 1 3 1 1 2 1 1 2 1 1 1 6 1 1 2 1 3 2 1 2 2 7 1 1 2 5 3 2 1 2 1 1 1 2 3 4 1 1 1 3 1 2 1 2 2 4 1 1 1 1 1 2 1 1 2 2 4 2 1 1 1 5 7 5 3 1 1 1 1 2 1 1 1 1 1 1 3 1 1 9 1 1 3 6 1 2 2 2 1 1 2 2 1 7 1 2 2 9 2 3 1 1 2 2 2 3 1 1 1 2 3 1 1 3 1 1 3 1 4 3 1 2 1 2 2 5 2 4 1 4 2 2 8 1 2 4 1 1 5 1 1 1 1 1 1 3 4 2 1 1 2 1 1 2 2 3 1 1 1 1 2 1 3 1 1 1 1 1 1 1 2 2 3 1 1 2 1 2 1 4 1 1 1 1 1 3 1 1 2 3 1 3 3 1 2 1 2 1 1 1 2 9 3 3 1 4 1 1 2 3 1 4 1 1 2 3 1 1 2 2 5 1 1 1 4 2 3 9 5 1 1 1 1 3 1 1 2 1 3 1 1 1 1 1 1 3 4 7 2 1 1 4 4 1 2 3 2 2 1 1 2 1 1 1 1 2 2 1 3 3 1 3 1 2 1 1 1 1 3 4 1 1 2 1 1 4 4 1 2 1 3 3 1 1 1 1 1 5 1 3 1 2 2 3 1 3 3 7 3 1 3 1 1 1 1 2 2 3 2 1 2 1 1 1 2 3 2 4 2 1 1 5 1 4 1 4 3 2 4 3 4 1 1 1 1 3 1 1 1 1 4 1 1 14 1 2 1 2 5 2 6 4 3 3 2 1 1 3 1 1 2 2 1 5 1 4 1 5 1 1 1 5 3 4 2 4 1 1 3 2 1 1 1 1 1 5 1 2 1 2 1 7 2 2 1 1 1 1 1 13 2 2 1 6 1 2 1 1 3 1 3 2 2 2 1 1 1 1 3 2 1 4 1 1 4 3 4 1 2 1 2 1 2 1 5 5 1 2 1 8 3 2 2 1 2 2 1 1 2 1 3 3 1 1 1 1 1 2 1 8 2 1 2 1 3 3 5 2 1 2 1 4 1 1 1 1 2 3 1 4 2 4 1 1 1 2 3 1 1 3 2 2 6 1 1 1 2 1 1 6 2 1 1 1 3 1 1 4 2 1 2 3 1 2 1 5 2 1 3 4 1 4 1 3 1 1 1 4 3 1 1 4 1 2 1 1 2 3 1 3 1 1 2 1 3 2 1 2 2 1 1 3 2 3 2 1 1 1 1 4 4 2 1 8 2 12 1 1 1 2 1 2 3 6 3 1 2 2 1 9 1 3 3 1 4 3 2 3 1 3 3 8 2 1 2 8 1 2 2 1 1 1 1 2 1 1 6 1 1 1 1 2 1 2 1 2 1 6 2 5 1 1 1 1 2 1 1 1 2 4 1 1 4 4 2 2 2 2 1 1 1 1 1 1 1 1 1 2 2 2 1 1 1 2 2 3 2 7 1 1 1 1 1 4 1 1 2 1 1 1 1 4 1 1 2 1 3 2 2 4 3 1 1 1 1 1 1 3 3 2 2 1 1 1 3 1 1 1 2 1 1 1 1 2 1 2 2 2 1 5 4 1 2 7 2 1 4 2 1 5 1 3 1 2 1 1 1 1 1 5 4 1 2 2 1 1 1 1 1 4 1 2 1 1 1 2 4 4 1 1 1 1 1 4 1 2 1 1 4 1 1 2 1 1 1 2 1 1 1 4 1 1 1 2 2 2 4 2 1 2 3 3 1 1 1 1 3 2 2 1 1 2 1 1 2 1 2 1 1 2 1 1 1 1 1 2 1 3 1 2 1 1 1 1 1 3 2 1 1 2 2 2 3 1 2 1 5 2 1 1 2 4 1 8 2 1 2 5 6 5 3 4 4 2 2 1 1 1 2 6 3 1 3 4 1 1 1 1 1 3 3 1 1 1 1 4 2 1 3 1 1 3 1 2 2 3 1 1 1 3 1 1 2 2 6 3 2 1 2 1 1 2 1 1 2 3 1 3 2 4 2 1 1 4 1 2 1 1 1 3 1 4 1 2 2 1 1 3 3 3 3 5 3 1 2 1 1 2 1 1 2 2 1 2 1 4 1 1 2 4 1 1 1 2 2 1 1 1 3 2 1 1 1 1 5 1 1 4 1 3 2 2 1 6 4 3 1 4 1 1 2 3 1 3 2 1 7 1 1 9 8 2 2 1 1 1 2 1 4 5 1 3 1 2 1 1 1 4 1 2 1 3 2 4 1 5 3 1 1 2 2 2 1 1 1 1 1 3 1 4 2 1 1 1 3 3 1 2 2 1 1 2 1 1 5 6 1 1 2 2 4 3 3 2 1 12 2 4 1 1 2 4 3 4 3 7 2 6 1 2 1 1 1 2 2 5 1 5 2 2 2 2 1 1 3 1 3 3 6 4 1 4 2 2 1 1 1 1 1 1 1 8 2 4 2 1 1 2 1 4 5 4 2 2 1 1 1 3 2 4 1 2 1 2 1 5 2 1 1 2 1 1 1 1 3 4 1 1 3 2 2 1 1 4 2 2 1 1 1 1 3 4 2 3 1 2 2 4 1 2 1 1 1 3 1 5 2 2 1 2 1 1 1 1 2 5 1 2 2 6 3 1 1 7 1 3 1 1 1 5 1 1 1 1 3 1 1 4 1 2 1 1 2 2 3 6 2 3 2 1 1 2 2 5 3 4 3 1 2 2 1 2 2 6 3 5 2 1 4 5 1 5 3 2 2 4 1 7 1 1 1 2 5 1 1 1 1 2 1 1 2 2 1 1 2 3 5 4 1 2 1 1 4 2 1 1 3 1 1 3 1 7 2 1 1 2 1 3 1 5 1 13 2 1 2 3 2 4 1 3 3 2 1 2 2 2 4 1 3 1 3 3 2 1 1 1 1 5 1 6 3 7 2 3 1 1 1 2 1 2 2 1 1 2 3 3 1 2 1 7 3 9 5 7 2 3 3 2 1 1 1 3 2 1 1 6 1 6 1 1 2 2 1 1 1 1 1 2 1 1 1 9 1 4 6 1 1 1 4 3 4 2 1 4 2 4 1 1 1 5 1 4 1 7 1 7 1 3 1 2 1 5 1 1 1 1 2 1 3 2 2 1 1 1 1 1 2 2 5 1 1 3 2 2 1 2 1 1 1 2 3 1 3 1 1 7 1 6 1 2 2 1 3 3 1 2 1 5 1 1 1 2 2 1 1 1 1 1 3 5 7 4 3 6 1 2 1 3 1 1 1 1 2 1 2 1 1 1 1 2 1 9 1 4 1 3 3 2 1 3 1 3 1 1 1 1 3 1 1 1 2 2 1 6 2 2 1 3 1 2 1 5 1 3 2 6 1 7 1 4 1 2 1 2 2 2 1 3 1 1 1 2 1 2 4 3 3 2 1 1 1 2 1 2 1 3 2 8 4 3 1 1 1 1 1 3 1 10 1 9 3 2 2 2 4 6 6 9 1 1 2 5 1 1 2 2 1 2 2 1 1 2 1 6 4 6 1 7 1 1 1 1 1 3 3 3 1 2 1 2 2 3 1 2 1 2 1 1 1 2 2 5 4 1 2 1 1 2 1 1 2 10 1 3 1 2 1 2 3 1 1 4 2 3 1 5 1 1 1 5 1 1 1 6 2 2 4 2 1 2 1 1 1 1 1 1 2 2 7 2 1 4 1 4 2 5 4 2 6 1 1 1 1 2 2 2 1 1 1 2 1 1 1 1 1 2 4 11 6 2 1 1 1 2 1 1 2 1 5 1 1 1 2 2 1 3 4 5 2 3 2 2 1 1 2 1 5 4 1 1 2 1 1 4 1 3 4 8 1 2 1 3 2 1 2 7 5 3 1 1 1 1 1 1 2 3 1 2 4 1 1 2 1 3 1 1 1 3 3 1 1 2 1 1 1 1 1 1 2 1 1 2 1 2 1 2 1 7 1 2 1 3 3 3 3 1 2 1 1 1 1 2 1 7 3 4 1 2 1 1 1 1 2 5 5 5 1 1 1 9 1 1 1 5 1 1 3 1 1 3 1 1 4 2 1 1 1 2 1 1 1 7 1 1 3 2 2 1 2 4 3 1 1 1 1 1 3 4 1 1 1 1 2 2 1 1 2 1 4 1 1 6 3 6 1 2 1 2 1 1 3 3 2 2 2 1 1 1 1 1 2 2 2 1 2 3 1 4 1 1 3 4 2 8 3 1 1 2 1 4 1 2 1 5 2 2 1 1 2 2 2 2 5 3 1 2 2 2 1 1 2 2 1 1 6 3 2 3 1 2 2 1 7 9 6 2 1 1 1 1 2 1 3 1 1 1 2 1 2 2 1 1 2 2 1 1 6 3 1 1 2 3 2 3 1 1 1 3 1 1 2 2 2 1 1 3 1 3 1 6 1 1 1 3 2 4 3 4 1 1 1 3 1 3 1 2 1 1 3 1 1 4 2 1 1 1 2 2 1 2 1 2 1 2 1 1 1 2 1 2 1 3 1 4 1 3 2 4 1 1 1 1 1 1 2 1 3 1 1 1 1 2 1 1 1 7 2 1 5 3 1 3 1 1 1 3 1 4 3 2 1 2 1 4 2 3 2 12 1 1 4 3 1 1 1 2 1 2 1 3 1 5 2 2 1 5 1 4 1 1 5 6 2 3 2 3 2 1 3 6 2 2 2 3 1 3 1 2 4 2 3 1 2 4 2 1 1 2 2 1 2 8 1 1 1 1 1 6 1 3 3 5 1 5 1 4 1 1 1 4 2 4 1 1 3 1 1 1 1 1 2 1 1 5 1 3 1 2 3 4 1 1 2 1 9 7 4 1 1 1 1 1 1 3 1 4 4 1 1 6 2 1 1 2 1 1 2 1 1 5 1 2 1 1 1 1 1 3 1 3 6 2 1 2 1 1 1 2 1 2 3 1 1 2 2 2 1 3 1 3 2 2 1 1 1 1 1 1 1 1 4 1 1 1 1 6 1 5 1 5 7 2 1 3 1 5 1 6 2 3 1 1 4 3 3 2 2 1 2 2 1 2 1 2 1 1 1 2 1 2 3 10 2 3 2 3 2 7 4 5 1 6 1 2 1 2 1 1 1 1 1 3 1 1 1 3 2 4 1 2 1 1 1 9 2 3 1 3 3 5 2 4 1 1 1 1 2 2 1 2 2 2 4 1 2 1 1 2 1 2 1 3 1 9 1 2 1 2 1 6 2 5 2 2 1 2 1 2 2 2 2 1 4 1 2 1 2 1 1 9 1 1 1 3 1 2 1 1 2 2 5 1 2 1 1 1 1 2 1 7 1 2 1 1 2 1 3 1 3 1 1 1 2 1 1 3 4 1 1 2 1 5 4 1 1 1 2 3 1 7 3 1 2 6 1 6 1 1 1 2 1 2 1 5 1 5 1 5 1 2 1 4 1 6 1 6 2 1 1 3 1 1 1 3 1 4 1 1 2 1 1 7 1 4 2 1 1 4 4 2 2 1 2 3 2 4 1 5 3 1 4 1 1 2 3 4 3 4 2 1 3 2 1 4 1 4 1 1 2 1 1 1 1 4 1 1 1 3 1 1 1 3 2 1 1 3 2 1 3 2 2 2 3 4 1 3 1 6 2 2 1 1 2 1 2 1 2 1 1 2 2 3 2 2 1 5 2 6 2 6 2 8 1 3 1 4 1 7 2 1 2 2 1 2 2 1 1 1 2 4 4 3 1 4 1 2 1 4 1 3 2 1 1 1 1 1 1 1 1 5 1 1 1 3 1 3 1 4 1 3 1 3 1 9 1 1 1 4 1 3 5 1 1 1 4 2 4 2 1 1 1 5 4 1 3 3 1 3 1 4 1 2 2 3 1 2 1 1 2 1 1 17 2 3 3 2 1 3 1 1 2 2 1 1 3 1 1 3 3 1 1 2 1 2 1 1 2 1 1 2 1 1 2 5 2 1 1 2 1 1 2 4 2 3 3 5 3 1 5 4 1 3 4 2 2 5 1 3 1 3 1 5 1 2 1 2 1 4 1 2 2 3 1 2 3 2 4 1 4 4 1 1 1 2 1 1 1 3 3 2 1 2 4 10 1 2 1 1 1 6 5 6 1 3 1 3 1 1 1 2 2 1 3 1 1 1 1 1 2 2 1 3 1 1 1 2 1 1 1 3 1 2 2 1 1 1 1 2 2 3 1 2 1 1 1 1 2 4 2 7 1 1 1 1 1 11 1 1 2 2 3 1 1 1 3 2 1 1 3 1 2 1 1 4 1 2 1 1 1 2 1 2 2 1 2 1 2 1 1 1 1 2 2 3 1 1 1 3 1 1 1 1 2 12 1 6 5 2 1 5 1 1 3 1 1 1 1 2 1 3 2 3 1 4 1 12 1 4 1 2 4 2 1 1 1 2 1 3 1 6 1 4 2 5 1 1 1 3 5 1 1 4 1 1 1 7 1 2 4 1 1 4 1 1 1 3 1 3 1 1 1 5 1 2 1 1 2 2 1 5 1 1 3 2 1 1 1 1 1 2 2 1 1 1 1 1 1 1 1 1 1 1 1 2 1 2 2 1 1 10 2 1 1 4 1 2 4 3 1 1 1 1 1 3 2 1 1 1 2 6 1 3 4 3 8 4 2 2 1 3 1 2 3 2 3 3 2 1 1 1 1 2 2 2 4 2 1 3 1 4 1 4 1 3 2 2 1 3 1 4 1 2 3 3 3 3 2 2 1 3 2 1 2 5 1 2 1 1 1 2 3 1 1 2 1 3 1 1 2 1 3 2 1 1 1 1 5 1 1 8 1 1 2 2 5 2 1 2 1 4 1 1 1 4 7 1 2 4 1 6 5 2 1 3 1 2 2 1 1 4 4 5 2 2 1 2 2 3 1 2 3 4 1 2 2 2 2 4 2 2 1 1 2 1 8 1 1 4 1 1 3 7 6 1 1 5 4 2 1 7 1 1 1 1 4 1 1 1 1 1 2 2 1 10 4 1 1 4 2 2 5 6 1 1 1 1 3 2 6 1 1 1 1 2 1 1 1 1 1 5 1 1 1 1 3 4 3 1 2 1 1 1 4 1 1 2 1 2 2 1 3 2 2 1 1 2 1 2 3 3 1 6 2 4 1 2 3 3 1 3 1 3 1 3 4 5 1 2 1 1 2 1 2 7 3 5 1 1 1 1 6 2 1 1 1 4 1 1 1 4 3 2 1 5 1 1 2 4 2 6 2 4 2 5 2 1 2 2 1 5 3 1 1 10 1 1 2 4 2 1 1 6 1 1 1 2 2 1 4 3 1 3 1 1 1 5 1 4 1 3 3 3 1 3 1 6 2 3 1 3 1 1 1 1 1 6 1 3 1 2 2 2 1 1 2 3 1 1 4 1 1 1 1 5 1 1 1 6 1 2 4 1 1 2 1 3 1 2 2 3 4 1 1 11 2 1 1 1 1 3 1 1 2 3 1 1 1 2 2 2 3 2 1 5 2 1 1 3 1 3 1 3 2 4 1 2 1 4 3 1 2 1 2 5 1 2 1 2 1 3 1 2 2 1 4 3 1 2 3 1 2 3 1 1 4 1 3 3 1 5 1 5 1 1 1 1 4 2 3 1 2 2 2 2 5 1 1 2 2 10 1 7 4 3 1 2 1 2 1 4 1 2 1 1 3 1 1 4 1 1 2 4 2 1 1 1 1 1 1 1 1 2 1 1 1 2 6 1 2 1 4 1 1 4 1 2 1 1 1 1 1 2 1 7 1 2 3 1 1 2 3 9 1 2 1 1 2 1 3 1 4 1 1 6 1 1 1 10 1 6 1 1 2 1 2 3 4 2 1 4 1 1 1 2 6 3 1 9 1 3 3 2 1 4 1 3 3 1 2 6 1 1 2 1 3 4 1 2 1 7 1 2 4 3 1 3 1 2 2 1 4 1 1 1 1 3 1 4 1 1 3 1 2 4 1 1 1 3 1 2 1 5 1 1 2 4 1 1 2 1 1 1 2 1 1 1 2 4 2 2 2 1 1 3 1 1 1 5 1 2 1 1 2 1 1 1 4 3 1 6 1 3 1 4 2 1 4 3 1 1 1 3 1 2 1 2 1 6 3 3 1 2 2 1 3 2 3 2 4 4 1 5 1 4 1 1 2 2 3 4 1 1 2 3 2 4 1 7 2 1 2 1 3 1 1 3 4 6 2 1 1 1 2 1 1 2 2 2 5 1 1 1 2 4 3 1 1 6 1 1 2 1 3 4 1 1 1 3 1 1 2 1 2 2 1 2 1 1 2 7 1 1 2 1 2 1 1 4 4 2 3 1 1 1 1 3 1 1 5 2 2 1 3 5 5 2 1 7 3 1 2 3 2 1 1 3 1 3 1 1 1 3 3 2 1 1 2 3 4 2 1 9 1 1 1 3 1 1 1 3 2 1 1 1 2 1 1 3 1 1 1 3 3 3 2 3 7 2 1 3 1 1 1 4 1 3 1 1 6 2 2 1 2 3 1 1 1 1 1 1 3 3 1 1 2 1 1 6 2 1 1 1 1 1 1 3 3 2 4 1 2 9 1 6 1 2 3 2 3 1 1 1 1 3 1 3 2 2 2 1 2 1 2 3 1 1 2 1 1 1 1 2 1 2 1 2 1 2 1 1 2 1 3 1 1 3 1 1 1 5 1 4 2 3 1 1 2 2 2 2 1 2 1 3 1 3 1 5 1 1 1 1 1 7 4 3 1 1 2 2 1 5 1 1 1 1 4 4 1 1 3 1 2 3 1 1 6 2 2 2 3 2 1 2 2 1 2 1 5 3 1 3 1 1 2 2 1 2 2 3 1 1 1 3 2 3 2 2 1 1 6 4 1 4 1 1 1 1 3 6 2 1 1 3 3 1 2 1 1 3 1 3 2 1 2 1 1 3 1 1 1 1 2 4 4 1 1 3 1 1 2 2 3 1 1 1 3 1 1 1 3 7 1 4 2 1 2 1 1 2 1 1 1 5 2 8 1 8 1 2 4 4 1 1 1 2 1 2 1 1 1 3 3 1 1 1 1 1 2 2 1 1 1 3 1 1 4 1 1 1 2 2 2 4 1 1 2 4 1 4 3 1 1 1 3 5 2 7 2 1 1 4 2 3 1 1 1 2 1 1 1 1 1 2 2 3 2 3 1 1 1 3 4 3 1 1 3 6 1 1 1 1 4 1 1 3 2 1 2 1 1 1 3 4 3 1 1 1 2 1 1 3 3 4 6 1 2 2 1 1 1 2 4 3 5 1 1 1 1 2 1 14 1 2 5 2 1 2 1 1 3 2 1 2 1 2 1 1 2 1 2 5 4 2 4 1 1 5 1 2 1 3 1 1 5 1 1 3 3 2 1 1 1 6 3 1 1 1 1 1 4 3 1 1 1 4 1 3 2 2 1 1 1 1 1 2 1 3 1 2 1 4 1 1 1 7 3 10 4 2 1 1 2 3 2 3 1 1 3 1 1 1 6 1 1 1 1 3 1 1 4 2 1 4 1 1 1 1 2 1 2 1 1 1 1 2 1 4 1 1 2 1 1 3 2 1 1 2 1 10 1 2 2 2 1 2 2 4 3 2 1 6 2 2 1 1 3 4 2 1 4 1 1 1 1 1 1 3 3 1 2 2 3 1 2 1 1 1 2 1 1 1 2 6 2 6 1 1 1 1 3 1 2 6 1 4 4 3 1 2 1 1 1 4 1 4 1 3 2 1 1 2 3 1 1 1 3 2 2 2 1 1 1 2 2 1 4 3 1 1 1 1 1 1 3 6 1 2 1 2 1 2 2 1 6 2 1 1 6 4 1 2 2 1 2 2 2 1 1 3 4 2 2 11 1 1 3 3 2 3 1 1 3 1 1 2 2 6 4 1 1 2 1 1 1 1 2 1 1 1 1 1 1 1 2 2 1 2 1 1 1 4 2 1 2 1 2 2 1 3 4 3 1 1 1 2 3 2 2 3 1 1 1 1 1 1 1 1 1 8 1 4 1 1 1 3 1 1 1 1 3 4 1 9 2 2 1 1 1 5 1 1 1 1 1 3 3 1 1 2 1 1 1 4 1 6 1 2 2 2 3 1 1 2 1 3 2 3 3 3 1 2 1 4 1 4 3 10 4 1 1 11 1 1 1 1 5 7 1 11 2 9 2 9 1 2 2 3 1 2 2 2 1 11 1 1 1 1 3 1 1 1 1 5 1 4 2 1 1 6 1 1 1 5 1 1 1 1 1 2 1 4 1 2 1 1 2 1 1 5 1 3 1 1 1 3 2 2 1 5 2 4 1 1 1 3 1 2 2 1 2 1 2 1 2 1 1 1 1 6 1 5 1 1 2 1 1 2 1 1 1 1 1 1 3 1 1 3 1 3 1 1 2 2 3 2 2 1 2 2 3 6 1 1 2 1 3 1 2 1 5 2 1 1 1 3 1 3 1 1 4 4 1 1 1 2 2 5 1 2 1 4 1 2 1 1 3 1 1 1 1 8 1 2 1 5 4 3 2 1 5 2 1 4 1 4 4 1 1 2 3 5 1 2 2 5 3 3 1 2 1 1 1 4 2 1 1 3 1 2 1 1 1 4 1 3 1 2 1 1 1 1 2 2 2 3 1 1 3 2 1 5 1 4 2 3 1 2 2 1 1 2 2 7 1 3 1 3 6 6 1 5 3 4 1 1 3 4 2 3 1 7 4 1 2 2 1 1 1 1 2 1 1 1 1 4 1 1 1 2 3 1 1 7 2 1 1 1 1 2 1 3 1 2 1 3 1 4 1 1 1 1 2 4 1 5 1 2 4 3 4 1 1 1 1 1 1 1 2 1 1 1 1 1 3 5 1 4 1 3 2 1 3 4 2 1 3 3 1 2 2 3 1 3 1 3 1 1 2 3 1 4 1 1 2 3 7 2 2 1 1 1 3 2 2 1 1 3 1 4 2 2 1 1 2 1 3 2 1 1 1 5 3 2 4 1 1 2 1 1 1 1 1 3 1 3 1 1 2 2 5 1 2 2 4 1 2 3 2 3 2 1 1 1 1 1 1 6 1 3 2 2 3 3 1 1 5 4 3 2 2 2 1 1 1 4 1 6 3 3 1 1 2 1 3 1 1 2 1 3 4 1 5 2 1 4 1 3 1 1 2 1 2 3 1 1 1 1 1 1 2 2 1 1 1 6 1 3 1 1 3 4 6 1 1 1 1 2 3 1 1 1 1 1 4 1 2 7 2 1 2 2 2 4 1 2 3 5 4 1 2 1 1 1 2 2 2 1 1 2 1 5 5 1 1 3 1 1 2 5 2 1 4 2 1 3 2 1 1 3 1 6 3 3 1 1 1 1 2 4 2 1 2 1 1 11 1 1 3 2 1 3 3 4 2 2 4 1 2 1 1 2 3 1 3 3 4 2 1 10 3 2 1 3 3 2 2 3 1 4 2 1 1 4 2 3 2 1 1 2 1 1 3 2 1 1 1 3 4 2 4 2 1 3 1 1 1 1 2 1 1 1 3 4 1 6 1 5 2 4 1 6 3 1 6 1 2 1 1 3 3 1 5 3 1 5 1 2 1 2 2 2 2 8 1 2 3 3 1 3 1 4 1 5 1 3 1 1 2 2 4 1 2 2 1 2 2 2 2 1 2 1 1 4 3 3 2 2 1 7 1 2 1 2 2 7 5 2 2 12 1 1 1 1 1 2 1 1 1 1 1 1 1 2 2 1 1 4 1 7 2 1 1 1 3 5 1 2 1 2 1 2 1 2 1 1 2 1 1 1 1 7 1 1 1 1 2 1 2 1 1 2 2 1 1 7 3 1 2 2 1 3 1 2 2 3 2 5 1 1 2 5 1 1 1 1 2 4 1 3 1 3 1 4 2 3 1 3 2 1 1 1 2 7 1 2 1 1 2 1 1 4 5 1 3 8 1 2 2 1 1 1 2 2 1 4 1 3 1 5 1 6 1 1 1 1 2 3 1 1 2 3 3 3 2 1 2 1 2 1 1 3 1 3 2 1 1 3 1 4 4 1 1 1 4 1 1 1 2 4 2 6 1 2 3 6 2 2 1 7 1 5 1 1 2 1 3 3 1 1 2 2 1 4 2 1 1 4 1 3 1 1 1 2 2 7 2 3 2 3 1 2 1 1 1 3 1 3 2 6 1 1 3 3 1 2 2 1 1 7 1 6 1 1 1 2 2 1 1 1 1 2 3 7 1 2 2 1 2 1 1 1 1 1 1 2 1 4 1 8 1 10 3 7 1 2 2 3 2 5 1 1 1 1 1 1 7 1 2 6 3 4 3 1 1 2 2 9 6 1 2 5 1 7 1 3 5 2 1 1 2 6 3 2 4 2 2 4 3 6 1 1 1 1 2 6 2 3 1 2 2 7 1 1 1 2 1 3 1 4 1 3 1 3 2 2 1 1 1 3 1 2 1 1 1 5 1 1 2 1 1 1 1 2 3 1 1 7 1 3 1 3 1 1 1 4 3 1 1 3 5 1 1 1 2 1 2 1 1 1 1 6 1 2 1 3 2 1 3 4 1 1 1 2 2 3 2 1 2 2 2 1 1 1 2 2 1 10 1 1 6 1 1 2 2 1 7 3 1 4 1 1 2 3 2 1 1 1 1 2 1 1 1 1 1 1 2 2 1 1 1 2 1 1 1 6 3 3 1 2 2 8 1 2 1 2 2 3 1 3 1 1 2 1 1 5 1 4 2 1 2 5 2 4 1 6 1 1 2 3 3 5 1 1 3 1 1 1 2 1 3 2 2 1 1 1 1 1 1 6 1 2 2 2 6 4 4 3 3 2 1 2 1 2 1 4 1 7 1 2 2 2 1 1 6 1 1 5 1 2 4 2 1 2 2 9 1 1 1 4 2 3 1 3 2 3 1 1 3 3 1 2 1 1 1 2 1 12 1 1 1 1 2 2 1 1 1 1 2 1 1 1 1 3 1 4 1 1 1 3 3 7 2 4 1 2 1 1 1 1 2 3 1 1 1 1 2 2 2 2 1 10 1 3 1 2 2 3 1 3 1 2 2 3 2 3 1 1 1 3 1 2 1 2 1 2 1 1 1 3 4 1 1 1 2 3 4 4 2 1 2 1 5 2 1 4 1 1 2 1 3 13 3 2 1 6 1 1 1 1 5 1 1 1 1 4 1 1 1 1 1 3 1 4 3 1 2 3 2 1 1 1 2 2 1 3 3 2 3 4 2 2 1 4 1 1 1 3 1 3 2 1 1 1 1 2 1 2 1 2 2 2 2 3 1 3 1 2 3 5 4 5 2 1 3 4 1 4 2 3 1 5 1 4 1 2 3 6 2 5 1 1 1 3 3 3 3 1 1 1 2 4 2 2 3 3 1 2 1 6 3 1 1 6 1 10 1 1 1 1 1 3 3 2 3 5 4 3 1 2 1 1 2 4 2 1 5 1 3 1 2 3 2 2 1 3 1 3 1 2 3 2 1 1 1 1 1 1 1 3 2 3 1 4 2 3 4 1 3 6 2 5 2 4 2 1 3 1 3 1 2 2 1 2 3 2 1 1 2 2 3 4 2 3 2 1 1 3 1 2 2 1 1 1 2 2 1 4 1 1 3 4 2 3 2 1 1 1 2 2 3 1 2 2 2 1 5 1 3 3 1 2 4 1 1 2 2 8 3 2 1 1 1 1 1 3 1 4 8 1 2 1 3 1 6 1 2 1 2 7 1 1 3 2 1 3 1 2 2 1 1 2 1 2 1 4 4 1 2 4 2 1 1 2 1 1 1 2 3 6 2 1 1 3 3 1 3 3 1 7 1 2 1 3 1 10 2 2 1 4 3 4 2 1 2 1 2 5 1 1 1 1 1 3 1 1 1 1 1 1 1 1 1 2 2 2 6 5 3 1 1 6 4 3 3 1 1 1 1 1 2 3 1 1 3 7 4 5 1 1 1 4 2 4 1 1 1 6 1 1 2 2 1 1 1 1 1 2 2 3 1 1 1 1 1 1 1 1 4 1 1 2 1 1 1 6 1 1 1 1 1 1 1 3 1 3 1 5 2 3 1 10 4 1 1 3 1 3 1 4 1 5 1 3 3 1 2 4 4 1 1 1 1 1 1 2 2 1 1 3 3 2 1 2 1 1 1 2 3 2 2 2 1 3 1 4 1 1 2 5 1 4 1 1 3 2 1 1 3 1 8 1 1 13 2 2 2 8 1 1 2 2 2 4 1 5 1 3 10 8 1 3 1 1 2 2 3 1 1 1 2 1 2 2 1 2 2 1 3 5 4 3 2 3 3 2 4 5 1 1 2 2 1 2 4 2 1 7 1 6 1 3 2 1 3 5 1 2 2 4 1 2 1 3 2 2 1 3 1 1 1 1 1 1 1 3 2 1 1 1 1 1 2 1 1 1 2 3 1 1 3 1 4 2 3 1 1 8 1 1 3 1 1 5 1 4 1 1 1 5 2 1 1 6 1 1 1 5 1 2 1 4 1 2 1 4 4 1 1 1 1 2 1 2 2 2 2 2 8 3 1 1 4 2 1 3 1 1 3 3 2 3 1 5 1 5 1 4 2 5 3 1 1 1 2 14 1 1 1 1 1 1 1 3 2 6 1 1 2 1 1 1 1 2 2 2 1 2 1 1 1 1 1 8 1 5 1 4 2 2 2 1 2 1 2 1 1 3 2 2 1 1 2 5 1 1 2 2 11 1 2 1 2 2 1 4 2 2 2 1 1 1 1 5 2 2 2 2 1 4 1 1 4 1 2 1 1 3 16 2 1 2 2 1 5 3 1 1 2 1 2 2 1 2 1 2 1 3 1 1 1 1 1 3 1 2 1 5 2 3 6 4 3 5 2 4 1 1 2 5 1 10 6 2 1 3 2 3 2 2 1 3 1 1 5 3 1 3 1 1 1 1 2 1 2 2 2 1 1 1 1 3 1 2 4 2 2 3 2 2 1 2 1 1 1 1 5 1 3 2 1 4 1 2 2 4 1 1 1 5 1 1 1 1 2 1 1 1 1 6 1 3 2 1 4 2 1 6 3 2 1 1 2 1 1 1 2 1 1 1 1 2 1 3 1 1 1 1 1 2 2 1 1 8 2 1 3 4 2 1 3 1 1 2 1 3 1 4 1 1 1 2 2 5 1 1 1 3 4 6 2 1 1 2 1 5 1 1 2 1 4 2 1 9 2 2 1 1 3 3 1 2 1 6 3 1 3 1 6 1 4 2 16 2 1 1 1 1 2 2 5 4 2 1 3 1 1 7 1 1 3 1 2 2 1 1 2 1 6 3 2 3 1 1 32 1 4 1 5 3 5 1 5 2 3 1 5 2 1 2 1 1 2 4 2 1 2 1 1 4 2 3 1 1 3 1 1 3 1 1 2 10 1 1 1 1 3 3 1 2 1 1 1 2 1 1 5 10 1 2 1 1 1 3 1 3 2 1 4 1 1 1 1 1 2 1 4 2 1 7 3 1 1 3 1 1 1 1 1 3 1 4 1 1 1 1 1 5 1 4 1 1 1 1 2 1 2 2 2 3 1 1 1 1 2 2 1 3 1 1 2 1 1 1 1 1 1 1 2 2 1 1 1 2 2 3 1 4 2 1 2 2 2 3 1 1 6 1 3 1 2 2 1 2 4 3 1 1 1 3 1 4 1 1 2 1 1 1 1 1 3 2 1 2 2 2 2 1 5 1 1 3 2 1 4 3 2 1 12 2 4 1 38 1 1 1 2 5 3 6 2 4 4 1 1 1 6 6 3 1 3 6 1 7 2 1 1 2 2 1 1 2 3 1 1 1 2 2 1 2 2 1 1 1 1 1 7 1 5 2 12 3 3 2 9 2 1 1 1 1 2 2 1 2 1 1 1 1 3 1 1 1 2 3 1 2 1 2 3 1 1 1 2 1 3 1 2 5 3 2 1 2 2 2 1 2 2 1 10 1 1 3 2 1 3 2 2 3 1 1 5 1 1 1 2 1 2 5 1 1 1 1 1 2 1 1 1 2 2 1 1 1 1 1 1 1 2 2 2 2 1 1 1 1 2 1 1 1 1 5 1 1 4 1 3 2 1 2 3 3 1 1 1 6 2 2 1 1 3 1 1 1 1 1 4 1 2 1 1 2 2 1 1 2 3 2 3 4 1 3 7 1 2 1 1 2 3 1 1 3 2 2 1 1 3 1 2 3 2 3 2 2 4 4 1 2 2 1 1 1 1 3 1 1 1 8 1 1 1 2 1 2 6 3 2 1 4 2 5 1 2 1 2 6 1 1 3 7 1 2 1 3 1 1 1 1 3 2 1 5 1 2 1 3 1 8 1 5 3 6 2 1 2 2 1 2 1 2 1 2 1 1 1 2 1 1 2 1 1 5 1 1 3 1 1 4 1 1 1 4 1 1 5 2 1 1 1 1 1 1 1 2 2 2 1 1 1 2 1 1 2 1 1 6 1 5 3 3 2 4 1 3 1 10 1 5 4 2 3 2 2 1 1 3 4 1 1 7 1 1 1 1 2 1 1 1 1 6 1 1 1 7 1 5 3 2 1 5 1 2 1 2 1 1 1 1 1 1 1 1 3 6 1 2 1 1 1 2 1 3 1 5 2 1 2 1 4 1 1 7 1 1 2 1 1 2 1 1 1 1 1 5 1 3 1 1 1 1 1 6 2 1 1 3 4 5 2 4 3 9 1 3 2 9 1 5 3 3 1 1 1 3 1 2 1 1 2 5 1 1 1 1 1 2 1 1 2 7 1 1 2 1 1 6 2 1 1 1 1 6 4 1 3 3 1 4 1 2 1 3 2 1 1 2 1 1 1 2 2 1 1 4 4 2 1 6 1 1 1 1 1 2 3 6 5 1 1 2 1 2 1 1 1 1 2 2 1 2 3 1 1 9 1 2 1 1 1 3 3 1 1 2 1 3 2 2 4 2 1 1 1 1 1 4 1 4 1 4 1 1 1 1 1 8 1 2 3 2 1 1 2 6 1 1 1 1 2 4 2 2 1 1 1 2 1 2 2 3 2 1 1 1 1 2 1 1 2 2 1 2 2 1 3 1 1 2 1 1 2 3 1 2 2 1 1 3 2 1 1 1 1 1 1 1 3 4 2 9 2 9 1 2 5 1 1 1 1 2 1 3 1 2 1 2 2 2 2 2 2 1 1 1 5 1 1 5 1 1 1 1 2 1 1 1 4 1 1 7 2 1 1 2 5 1 1 2 1 2 1 2 4 3 2 2 1 3 2 5 1 3 1 4 1 2 4 2 1 3 1 6 2 3 1 2 1 1 2 4 3 1 1 1 1 2 3 2 2 1 2 2 2 2 1 5 3 1 1 1 3 1 1 1 2 2 1 2 1 1 1 1 2 1 1 2 1 2 2 1 2 4 2 3 2 2 2 4 1 1 1 1 2 1 4 2 1 1 1 2 1 2 6 7 1 2 1 3 1 3 1 1 3 1 1 2 1 1 1 5 1 3 1 2 1 2 2 1 1 2 1 5 1 2 1 1 5 2 1 3 1 5 2 3 1 2 2 1 1 1 4 1 2 2 2 2 1 3 4 1 1 2 1 3 1 2 1 3 1 2 7 3 1 3 1 3 2 4 1 2 3 2 1 2 1 1 1 6 1 2 2 1 1 1 2 2 1 1 4 1 1 2 1 1 2 2 1 7 1 1 1 1 2 2 3 1 3 3 1 3 1 3 2 1 1 2 2 4 1 3 2 7 1 11 1 6 1 2 1 2 1 1 1 1 3 1 1 2 1 2 4 4 2 10 1 8 1 1 1 1 1 2 2 3 2 2 1 3 2 2 1 7 1 3 1 1 1 12 1 4 2 1 4 2 1 4 2 2 4 1 3 2 2 2 2 7 1 2 2 1 1 4 1 1 1 1 3 5 1 1 1 2 1 8 2 1 2 1 3 4 2 1 2 7 1 3 2 2 8 1 2 1 1 1 1 4 1 2 7 2 1 4 1 1 4 1 1 1 1 3 2 1 1 6 1 1 1 1 1 4 2 1 1 1 1 9 1 1 3 1 1 1 1 1 1 1 1 1 1 1 1 2 2 4 1 3 5 2 1 4 1 1 1 4 5 2 2 1 1 2 1 1 1 1 1 2 10 2 1 2 1 2 1 4 2 1 2 6 1 1 1 2 2 2 2 4 1 1 1 2 1 2 1 2 5 5 2 3 1 3 1 2 1 1 1 1 2 3 2 3 2 2 1 1 3 1 1 1 2 2 2 1 4 1 1 5 2 10 1 3 1 3 1 1 2 4 1 7 1 1 1 1 1 2 2 3 1 3 1 4 2 9 5 1 1 1 1 2 2 1 2 2 1 1 1 7 3 4 4 2 2 2 2 1 1 7 3 4 2 1 3 2 1 4 1 1 1 2 2 2 1 1 1 2 1 1 1 4 1 2 2 3 2 1 2 4 1 5 4 8 2 6 2 2 1 1 1 13 1 1 1 2 3 3 2 2 3 6 2 1 1 1 1 4 1 3 2 4 1 3 2 1 1 3 2 4 3 5 1 2 3 2 1 1 1 2 1 1 1 1 1 1 3 1 1 8 2 1 1 1 1 1 1 4 1 1 1 2 1 1 1 1 2 5 2 4 3 2 1 2 2 1 1 1 1 1 2 1 2 3 1 1 2 3 1 1 2 4 1 3 1 1 1 1 1 1 3 1 1 2 1 5 1 7 1 1 1 2 1 4 1 4 3 3 1 3 2 3 2 2 2 2 3 1 1 4 1 1 1 2 1 3 1 1 2 1 1 1 2 2 2 3 1 4 1 3 2 2 1 3 1 1 2 1 1 1 1 3 1 1 3 1 2 3 1 1 1 5 4 2 1 4 2 2 1 1 1 1 1 1 1 2 5 11 1 2 3 3 1 4 1 1 1 2 1 2 1 2 4 1 1 3 1 1 2 1 1 1 1 1 1 7 3 4 1 3 1 2 1 2 1 1 1 2 1 7 1 1 2 3 1 2 1 3 1 2 1 1 1 2 1 1 1 1 3 2 3 1 2 2 3 3 1 2 4 4 1 4 2 1 7 3 1 5 1 2 5 3 1 1 2 2 1 5 1 1 2 2 1 6 1 2 2 1 1 2 1 1 1 1 2 3 1 1 1 8 1 1 5 1 1 2 1 3 1 1 1 2 3 1 1 8 2 1 2 1 2 2 5 2 1 1 1 1 5 1 1 1 1 4 1 1 2 2 4 1 1 2 1 5 3 1 2 4 1 2 1 3 1 2 1 1 2 1 1 3 3 1 1 2 1 1 1 2 1 3 10 5 3 3 2 1 1 1 1 3 1 1 2 2 1 1 1 2 1 2 1 2 1 1 1 2 3 2 1 4 3 2 1 3 1 7 1 4 1 2 1 4 1 5 2 1 1 1 2 7 2 2 1 1 1 5 1 2 1 5 1 4 1 3 1 3 2 15 1 2 1 1 1 1 1 3 1 6 1 1 1 3 1 1 1 8 1 1 1 2 2 2 1 4 2 1 1 2 1 5 1 1 2 1 1 2 2 4 1 6 1 3 1 3 2 1 1 5 3 2 1 1 1 1 1 3 2 6 1 1 1 3 2 1 1 1 1 3 4 3 1 2 2 1 1 3 2 1 5 1 2 5 1 4 1 2 1 1 1 2 1 1 1 2 2 2 1 1 3 4 2 2 3 1 1 2 2 4 1 1 1 4 1 1 1 1 2 1 1 2 1 1 1 1 2 1 3 2 8 9 4 1 1 4 2 1 1 1 3 1 1 2 2 1 1 3 1 2 1 2 2 1 3 1 2 1 1 1 1 2 2 1 1 1 1 1 2 1 2 1 2 2 2 5 1 1 2 4 1 2 1 1 1 1 4 1 1 7 1 1 2 2 1 6 1 2 2 3 1 4 1 1 1 7 1 1 1 7 1 4 1 2 2 2 1 3 1 1 1 1 1 3 1 2 2 3 1 3 1 1 2 2 1 4 1 3 2 5 1 3 2 7 1 4 1 1 1 3 3 1 1 4 1 2 1 2 3 2 2 7 1 3 2 3 1 2 1 3 2 1 2 2 1 1 1 1 1 4 1 3 1 5 3 1 1 1 2 1 2 3 1 1 1 2 1 4 1 4 2 2 2 1 3 2 1 3 1 3 1 1 1 1 1 1 3 3 1 7 1 6 2 4 1 3 1 2 7 1 1 7 1 1 1 1 1 3 3 2 2 1 2 1 1 6 1 1 1 7 1 2 1 1 1 1 2 1 1 2 1 1 4 1 2 1 1 1 2 5 5 2 3 1 2 1 1 2 1 1 3 1 1 1 3 1 1 1 1 2 3 12 2 2 6 1 1 2 1 1 1 1 1 2 1 4 3 3 2 4 2 1 3 3 2 1 3 4 1 1 1 2 1 1 1 8 1 1 1 1 1 1 1 5 1 1 4 3 2 3 2 6 1 3 3 1 3 1 1 6 4 1 2 2 1 1 1 6 1 6 1 1 1 1 1 1 1 4 1 4 1 2 4 1 5 4 1 2 1 1 1 2 1 1 1 1 1 1 2 1 2 3 1 4 1 2 1 3 2 2 6 1 6 2 3 5 2 1 1 2 1 5 1 2 1 1 1 2 1 3 1 1 1 3 2 1 2 1 6 3 1 5 3 1 1 1 1 3 1 2 2 1 2 2 1 4 2 1 1 2 1 2 4 1 2 2 1 6 1 4 1 1 1 1 2 6 4 1 1 2 1 1 2 4 3 5 1 4 1 3 2 2 3 5 2 3 1 4 1 1 1 1 2 6 1 1 2 1 1 1 1 4 1 2 3 1 1 1 1 8 1 3 1 1 1 2 2 8 1 2 1 1 1 2 1 3 6 2 1 1 1 1 1 4 1 2 2 6 1 2 1 1 1 1 1 7 2 1 4 2 2 1 1 1 1 2 1 1 1 3 6 3 1 7 1 4 1 2 5 1 1 1 1 2 1 1 1 2 3 1 1 2 1 2 1 1 2 7 1 3 1 2 1 3 1 1 1 3 2 5 1 4 2 1 1 3 2 4 1 2 4 4 1 1 3 2 1 3 2 4 4 3 1 2 2 2 1 3 2 1 1 1 1 4 1 2 2 6 1 1 1 1 5 2 1 1 1 4 6 3 1 5 5 7 1 5 2 1 1 1 1 2 3 3 1 4 2 1 4 2 1 1 3 1 1 2 5 1 3 9 4 2 3 1 2 4 1 1 2 4 1 2 4 1 4 3 1 2 1 1 1 1 1 1 1 3 1 1 1 2 1 4 1 1 1 2 1 1 2 4 1 5 1 2 1 1 1 1 1 1 1 4 1 7 1 2 5 2 2 1 1 2 2 2 1 4 1 3 2 2 1 6 3 1 1 7 2 1 4 3 2 1 1 1 1 3 2 2 4 1 2 6 2 1 1 1 1 2 1 7 1 2 1 2 3 6 1 2 3 4 1 6 4 2 4 1 2 3 1 3 1 1 4 5 2 5 4 1 2 3 2 1 1 1 2 1 2 2 2 2 1 2 1 4 2 3 1 3 1 1 1 7 3 4 1 5 2 4 2 6 2 1 3 1 2 1 1 2 2 2 6 2 1 2 1 4 3 2 1 1 4 2 3 6 2 2 3 1 1 1 1 4 1 1 3 1 1 2 2 3 2 4 1 3 1 1 2 1 1 1 1 1 2 12 4 7 2 1 2 1 2 2 1 9 4 1 1 4 1 7 1 1 1 2 1 1 2 1 1 2 2 2 2 1 1 1 1 1 1 1 5 4 1 5 1 2 3 1 1 4 1 8 2 3 1 5 1 1 1 4 1 1 1 10 2 2 1 1 2 1 2 1 1 2 1 3 1 1 2 1 2 3 1 2 4 4 3 5 2 1 1 1 2 2 1 1 3 2 3 3 4 1 1 4 2 1 1 1 1 4 1 6 1 1 1 1 1 1 3 7 3 1 1 1 1 2 1 2 2 1 2 3 3 1 3 3 1 1 3 3 1 6 2 5 1 5 1 1 2 2 2 4 4 2 2 5 4 2 2 2 1 1 2 2 1 1 1 2 1 7 1 5 3 4 2 1 1 1 3 2 1 7 1 9 1 2 1 6 1 3 4 9 2 1 2 1 1 1 1 1 1 2 1 3 2 4 1 2 1 1 1 3 1 2 2 9 1 3 10 5 3 2 1 12 1 4 2 5 2 3 1 1 2 5 1 2 1 5 2 2 1 1 1 1 1 1 1 1 2 4 2 3 1 2 1 1 1 1 1 1 3 6 1 4 1 2 1 2 2 17 1 1 1 4 1 1 1 1 1 1 1 1 1 3 1 3 5 5 1 2 1 1 1 2 3 2 1 1 3 2 1 2 3 1 1 6 3 1 3 1 1 3 3 2 2 1 1 1 1 3 1 3 2 2 1 6 1 4 1 6 2 1 3 3 1 2 2 2 4 1 1 1 2 7 1 1 1 2 5 4 1 1 1 4 1 1 1 1 1 3 1 3 3 2 2 5 2 2 1 3 1 3 2 3 2 2 3 2 1 1 1 1 2 3 2 2 1 2 3 3 1 3 2 1 2 2 2 2 4 1 1 2 2 3 1 3 1 2 4 1 1 1 3 1 1 2 1 1 3 14 1 2 2 1 2 4 1 2 1 1 1 3 3 2 1 1 1 3 2 4 1 2 1 2 3 1 4 3 2 1 1 1 3 3 1 9 4 1 1 2 2 3 1 1 1 1 1 6 2 1 1 1 1 1 1 2 1 2 1 2 5 4 4 3 3 1 1 1 2 2 1 2 4 1 1 1 3 5 3 3 1 4 1 1 1 1 1 1 1 4 3 3 1 1 1 3 1 3 1 3 1 5 2 1 1 1 1 1 1 2 2 2 2 1 3 2 1 2 2 1 1 1 2 5 2 1 1 1 1 3 2 2 1 5 5 2 2 1 2 2 2 2 1 1 1 4 2 6 1 2 1 1 1 2 2 2 2 1 1 2 2 4 1 4 1 2 2 5 1 2 1 1 2 2 2 2 1 1 1 3 1 5 2 1 2 1 5 2 2 2 1 1 2 4 1 1 1 4 1 4 2 1 1 1 5 1 3 4 1 3 2 2 5 3 1 1 1 2 2 5 2 3 6 2 1 1 1 1 1 2 1 2 1 3 1 3 2 2 2 1 2 1 1 1 1 1 5 1 2 3 5 2 2 4 3 1 1 1 1 2 1 9 3 1 2 1 1 7 1 4 1 1 1 1 1 4 4 1 2 1 3 6 1 4 1 5 3 4 5 8 1 1 3 1 1 7 1 2 2 2 1 7 2 1 1 4 2 1 3 1 1 6 1 3 1 2 6 1 2 1 2 5 1 1 1 4 1 7 2 1 1 2 1 1 2 5 1 1 2 1 1 3 2 6 1 2 1 7 2 1 1 1 3 3 1 1 1 1 1 1 1 2 3 6 3 3 1 1 3 3 2 2 1 2 1 7 5 1 1 3 1 1 3 1 1 1 1 1 3 2 1 2 4 1 3 1 2 1 1 4 1 3 3 1 1 1 1 1 4 2 4 1 4 1 2 1 1 7 1 1 2 3 1 2 2 3 4 2 1 1 9 1 1 2 1 1 2 1 2 2 3 3 1 3 1 2 1 1 1 3 1 1 1 5 3 3 1 5 1 2 1 2 1 5 2 1 3 2 2 5 3 4 4 4 2 2 1 2 1 2 1 1 1 1 1 4 1 5 2 4 3 1 1 1 1 4 2 1 1 1 4 1 1 5 1 1 1 1 1 1 3 4 3 2 1 1 4 1 2 1 1 3 5 4 3 2 3 2 1 1 1 1 1 2 1 3 1 13 1 2 1 8 1 1 2 1 2 3 2 3 1 1 1 2 1 1 4 2 1 1 1 1 1 2 4 2 1 3 2 4 2 1 1 1 1 1 1 1 1 3 1 2 3 3 1 5 1 1 1 1 3 3 1 1 2 1 1 7 1 1 3 1 2 2 1 2 3 3 2 1 1 1 1 1 1 2 4 1 2 3 2 5 1 3 1 4 1 4 2 2 1 4 1 3 1 3 1 4 1 2 1 4 1 2 3 3 1 2 3 2 6 1 4 4 4 1 1 1 2 6 1 2 1 17 2 6 1 4 2 1 3 1 1 3 1 1 3 2 2 2 1 1 1 2 3 2 1 1 2 3 2 3 1 1 3 7 2 1 1 2 1 1 1 6 1 10 2 1 3 3 1 1 1 3 2 3 2 4 1 2 1 2 1 9 1 5 1 3 1 1 1 9 2 2 1 5 1 2 1 2 1 2 1 7 3 2 3 1 2 3 4 3 5 1 1 1 2 3 2 3 1 2 1 1 1 7 1 2 1 10 2 1 2 3 1 5 1 1 1 4 3 2 1 2 8 2 4 4 1 1 3 1 2 5 1 1 1 1 1 3 3 1 4 3 2 1 2 2 1 2 1 5 3 2 1 3 3 4 1 3 1 2 2 1 1 2 1 2 1 4 1 3 1 2 1 3 1 3 1 5 1 3 2 5 4 4 3 3 1 3 2 1 1 4 1 3 4 3 2 4 2 2 1 2 1 1 1 1 1 5 3 2 2 6 1 3 3 1 1 3 2 11 2 3 2 1 2 1 3 1 1 8 2 10 1 1 1 3 1 5 2 3 2 1 1 3 1 4 1 2 2 1 2 1 1 1 3 4 2 1 1 2 1 2 1 4 1 2 1 2 1 6 2 2 2 7 1 3 1 1 1 5 1 3 1 1 1 2 3 3 1 3 2 2 1 1 2 1 3 1 2 1 2 3 4 1 3 4 2 1 1 10 1 1 1 1 1 1 2 2 1 2 1 2 1 2 3 1 1 2 2 5 1 4 1 2 1 2 1 1 1 1 2 7 4 3 1 2 1 2 1 4 1 3 1 1 3 1 5 5 1 2 1 1 3 1 1 1 1 1 2 1 2 2 1 1 1 1 2 5 3 3 2 2 6 3 2 1 2 1 1 7 1 1 1 1 2 1 1 1 1 5 1 1 3 1 1 1 2 1 2 5 1 1 2 1 1 1 1 5 1 1 1 1 1 7 1 4 1 1 3 2 1 2 2 3 2 1 2 2 1 4 1 3 2 1 1 3 1 1 1 5 1 2 1 1 3 2 1 2 1 2 1 3 2 1 1 1 1 3 1 3 1 2 1 6 2 8 1 1 1 2 2 6 1 2 3 1 2 2 2 2 1 2 1 1 1 1 1 6 1 3 2 5 1 1 2 3 1 2 1 1 1 2 1 1 3 3 2 3 1 2 2 1 2 2 2 1 1 4 1 2 1 1 1 4 1 1 3 3 2 1 1 2 6 2 6 5 2 1 2 1 3 4 1 4 1 3 1 4 5 7 2 1 1 3 3 1 1 4 2 1 1 8 2 1 4 5 3 1 3 4 4 2 2 2 1 6 4 8 1 5 1 4 1 2 4 2 3 3 2 3 1 2 1 1 2 1 1 6 1 2 1 1 1 4 1 2 1 1 1 3 3 3 1 4 3 1 4 2 1 1 2 4 1 3 7 1 1 6 4 4 2 2 2 2 1 1 4 2 1 2 3 2 2 2 3 2 2 1 1 5 3 2 2 7 3 4 1 1 1 2 1 3 1 1 1 2 1 1 1 2 2 3 2 6 2 3 1 1 2 3 1 2 2 1 1 1 1 3 2 1 1 3 1 1 1 13 1 2 1 2 1 3 1 2 1 1 5 2 1 1 1 4 3 4 1 1 3 6 3 5 2 4 1 7 2 2 2 2 1 4 5 1 1 1 1 4 4 2 2 1 3 3 1 1 2 1 1 2 2 1 1 3 1 4 1 1 3 1 2 3 1 2 2 1 3 5 1 2 2 1 1 2 7 1 1 1 1 1 1 1 2 1 2 2 1 2 1 2 1 6 1 1 1 3 1 4 2 3 1 1 1 3 1 1 2 1 2 4 3 2 1 1 1 2 2 3 1 1 1 1 1 5 3 4 1 2 1 1 1 1 1 1 3 1 3 4 4 1 1 3 1 1 4 4 3 1 2 5 1 1 2 4 2 4 3 1 2 1 1 1 2 3 1 2 2 3 1 1 1 2 1 2 3 2 1 2 2 2 5 1 3 1 1 1 2 2 1 1 1 3 1 1 2 2 1 4 1 1 3 1 2 1 1 6 1 1 2 4 1 1 2 2 1 3 2 4 1 2 2 4 1 3 1 3 1 3 2 1 1 2 2 2 3 1 1 2 3 2 1 2 7 1 1 6 1 2 2 2 1 7 5 1 1 1 1 7 7 1 3 2 2 1 1 2 3 3 1 1 5 3 1 3 1 4 1 3 2 2 1 4 2 1 1 1 1 3 3 2 1 7 1 3 3 1 3 7 1 1 1 2 1 1 2 5 1 2 2 3 1 2 1 2 1 2 3 1 1 3 3 1 1 4 1 2 1 1 1 2 1 2 1 1 1 1 4 1 3 2 1 1 2 2 1 2 1 1 3 6 3 4 4 1 1 2 2 1 3 2 1 1 4 1 1 1 1 3 1 1 4 1 1 2 3 5 3 1 3 1 2 8 2 3 4 3 1 1 3 1 1 2 3 1 1 1 1 6 1 2 1 1 4 1 1 2 2 4 1 4 1 1 1 8 1 2 1 2 2 3 1 1 5 1 1 1 3 2 1 2 1 1 2 4 1 2 2 1 2 1 2 1 1 2 2 1 2 4 1 2 1 2 2 1 1 1 1 1 1 4 2 3 3 2 6 4 2 4 4 4 1 3 1 1 1 1 4 2 2 3 1 1 2 3 1 1 3 2 2 2 1 1 1 2 1 2 2 3 4 7 1 1 1 1 2 3 3 1 1 1 1 2 1 2 3 1 3 1 1 3 6 1 3 2 4 1 2 3 1 4 4 4 2 3 1 2 1 1 1 1 1 2 2 2 1 1 1 4 1 2 3 2 2 3 1 3 5 8 2 1 2 5 1 2 1 1 1 1 1 3 2 2 1 1 1 1 3 5 2 2 1 3 1 2 1 2 1 3 1 1 1 2 2 1 1 2 1 1 2 1 3 5 2 1 1 2 4 1 3 2 4 4 1 2 1 4 2 1 1 1 3 3 1 2 1 1 1 2 1 7 2 2 2 3 1 2 2 2 1 2 1 5 3 2 2 2 2 3 1 1 1 1 1 1 1 2 4 1 1 8 1 1 2 1 1 1 2 2 1 1 1 1 1 1 1 2 2 4 2 3 2 5 1 2 2 4 1 1 4 3 1 1 2 3 3 2 1 2 2 4 2 1 2 5 1 1 2 2 3 5 1 1 3 3 1 2 2 5 3 1 1 2 1 3 2 4 1 10 1 1 2 3 2 1 3 3 1 1 2 1 5 4 1 3 1 1 2 2 3 2 1 5 2 1 3 2 3 1 1 5 1 1 5 2 3 3 2 10 2 9 1 3 1 4 2 4 2 1 1 2 1 1 1 2 2 3 6 2 1 4 1 1 2 1 3 3 2 2 1 1 1 2 3 1 1 2 1 1 2 2 1 2 1 2 5 6 2 2 1 2 5 1 1 1 2 2 1 5 1 1 1 1 1 1 2 1 1 1 1 2 2 1 1 6 1 4 1 1 1 5 2 5 1 1 3 3 3 2 1 1 2 1 1 2 1 4 1 2 1 1 1 3 1 7 2 2 1 1 1 1 2 4 1 2 1 1 3 2 4 9 1 4 1 1 2 2 3 4 1 6 1 1 3 3 1 1 2 5 1 2 1 1 2 2 1 2 2 2 3 1 2 2 2 1 1 3 7 1 1 4 3 1 2 1 4 3 1 2 1 4 1 1 2 2 1 2 1 4 1 2 2 1 2 2 1 1 1 1 1 3 2 1 2 5 1 1 3 4 1 1 2 5 1 6 1 8 1 1 1 2 1 3 5 1 1 3 5 4 3 1 1 9 3 4 5 1 1 1 1 1 3 2 1 1 3 2 3 1 2 1 2 1 1 5 1 6 2 3 1 2 2 2 1 1 1 3 2 4 1 1 1 1 1 1 1 6 2 1 1 5 1 1 1 2 2 1 2 1 1 1 2 1 1 3 3 2 1 1 1 1 3 3 1 1 1 1 1 3 1 2 3 1 2 1 2 1 3 2 2 6 1 1 2 1 1 1 1 10 4 3 1 6 1 1 3 2 2 1 1 1 1 2 2 1 1 1 1 4 4 2 3 1 2 6 4 1 1 1 2 9 2 1 1 1 4 2 1 3 2 1 3 1 4 5 1 1 1 13 2 2 1 3 1 2 2 2 1 2 1 2 1 7 1 1 1 1 2 1 1 4 3 3 1 1 1 1 1 3 1 1 3 5 1 5 4 1 1 1 1 4 2 4 1 1 1 1 2 1 2 4 4 5 1 1 2 3 1 2 2 1 1 2 1 6 1 3 1 4 1 2 2 1 2 3 1 3 1 1 2 2 1 1 5 1 1 1 1 2 5 2 2 4 1 1 5 1 1 1 2 10 2 8 2 1 2 1 1 5 1 1 1 1 1 2 2 3 1 1 1 1 1 3 1 1 3 5 1 1 1 2 1 2 1 7 1 3 2 5 2 1 1 2 1 2 2 3 1 6 1 1 1 1 1 2 1 5 1 1 1 5 1 1 1 2 1 1 1 1 1 2 4 3 2 7 1 5 1 1 1 1 1 3 2 4 2 1 2 5 2 4 1 2 2 1 2 1 2 1 2 2 2 2 1 7 1 6 2 5 1 1 1 1 3 1 1 1 2 3 1 3 3 1 1 1 2 10 1 2 4 3 1 3 4 3 2 2 1 2 1 1 3 6 1 3 1 3 1 2 2 2 2 1 1 1 3 2 1 7 2 2 1 2 1 2 2 2 2 1 1 3 1 3 1 3 3 8 1 3 3 1 1 1 2 2 1 1 2 1 1 4 2 1 1 1 1 1 1 1 1 3 1 4 1 1 1 2 1 3 2 2 1 6 1 1 1 1 1 5 1 1 1 1 1 3 2 4 1 8 2 1 3 1 1 1 1 1 2 2 1 5 3 3 3 2 1 1 3 1 1 4 3 6 2 2 3 1 1 2 2 2 2 1 1 3 1 5 2 1 3 1 1 1 4 2 1 4 1 2 1 2 1 3 2 3 1 1 1 1 1 5 1 1 1 1 1 7 1 1 1 3 1 3 1 1 2 3 3 3 1 1 1 1 1 1 3 3 1 1 2 2 1 1 2 1 1 2 1 7 1 4 1 1 2 3 2 2 1 2 2 2 1 3 1 5 1 3 2 1 1 2 1 2 2 1 4 2 1 1 3 2 1 1 2 3 1 1 1 1 1 3 3 1 1 5 2 1 1 2 4 2 1 6 1 1 2 12 2 6 2 2 2 3 1 2 2 2 1 2 1 2 2 3 1 1 1 1 2 3 1 1 1 2 2 2 2 1 3 1 3 2 1 1 2 1 1 1 1 1 1 3 1 5 1 3 2 2 1 7 1 1 2 1 1 2 3 5 2 2 2 2 1 3 3 2 2 1 3 1 1 6 1 1 2 1 1 1 1 2 1 1 1 2 1 2 1 4 1 1 1 3 3 6 3 3 1 4 1 2 1 3 1 3 1 1 2 1 2 1 5 1 2 3 2 1 2 1 1 3 1 1 2 4 1 1 1 1 3 6 1 2 1 1 3 1 1 3 2 6 1 2 3 5 4 2 2 1 1 4 1 1 2 1 3 1 1 5 1 2 1 1 1 6 1 3 1 3 1 1 1 3 1 1 1 4 4 3 2 1 1 3 1 4 3 3 7 1 1 3 1 2 1 5 1 1 5 1 4 5 1 1 1 7 1 1 1 3 1 3 3 1 1 1 1 2 1 2 7 1 2 6 1 3 5 6 4 3 5 2 2 2 1 3 2 4 1 2 1 3 1 12 1 3 2 1 1 2 1 2 3 2 1 1 2 2 3 1 1 4 9 5 1 2 2 3 6 1 1 2 3 2 3 2 1 1 1 1 5 1 1 3 1 1 1 1 1 4 1 1 1 1 2 1 1 2 1 9 2 1 4 1 4 3 1 2 1 1 3 1 1 1 1 1 3 3 3 4 1 1 1 3 1 2 1 1 3 3 2 1 1 2 3 11 5 1 1 1 2 1 2 2 1 1 1 1 2 2 1 2 1 1 3 1 3 1 1 1 1 2 1 1 5 1 1 2 1 5 4 1 1 2 2 1 1 2 3 1 2 1 3 1 1 1 1 1 1 2 2 1 1 1 1 2 2 1 4 1 3 9 1 3 4 1 1 1 2 2 4 1 1 2 1 1 1 1 1 2 1 3 1 5 3 1 1 1 1 2 2 1 1 2 1 3 2 1 1 1 1 1 2 1 1 1 1 4 1 6 1 3 2 2 3 1 1 3 2 2 1 1 5 1 1 2 4 1 1 1 3 2 1 1 2 1 1 1 2 3 5 3 1 1 2 1 1 1 3 1 2 1 1 3 1 3 1 1 1 2 2 6 1 1 2 1 1 6 2 8 1 6 2 6 1 4 1 2 1 6 4 1 2 4 2 1 1 1 2 2 2 1 3 1 1 1 1 1 1 2 2 1 1 4 3 1 1 2 1 4 3 2 1 3 3 1 1 2 3 2 1 2 1 6 1 1 1 1 1 1 2 1 1 1 2 1 1 4 1 3 1 2 1 1 1 4 1 2 2 6 2 2 2 1 3 1 1 2 1 1 3 2 3 1 7 2 3 7 7 6 6 1 2 1 1 5 1 1 1 1 4 4 1 1 1 1 2 1 2 6 5 1 3 4 7 1 1 2 1 4 2 1 1 1 1 1 2 3 2 1 2 1 1 1 3 5 3 3 1 1 4 2 3 3 1 5 1 1 6 1 1 1 1 6 1 2 2 4 1 1 1 9 2 1 4 2 2 1 1 1 1 3 1 4 1 10 1 1 1 2 1 1 5 4 1 3 2 1 3 3 2 2 1 1 2 1 1 3 1 1 2 2 1 2 2 3 2 3 5 8 1 2 1 1 1 1 3 5 1 17 2 2 1 1 1 1 2 4 1 1 1 1 1 1 1 1 3 2 2 1 1 3 3 3 2 1 1 1 1 1 1 1 1 2 2 1 1 2 2 1 2 1 1 1 1 1 2 1 1 1 1 1 2 2 1 1 2 2 1 2 1 1 1 4 1 5 2 5 1 2 3 3 1 1 1 1 1 3 1 2 1 1 2 14 1 2 1 6 1 2 2 1 1 2 1 1 1 1 2 3 1 1 2 2 3 3 2 1 1 4 3 2 1 2 2 2 1 1 1 1 2 1 2 2 1 1 2 2 2 3 2 2 4 1 6 2 1 1 1 1 5 5 2 1 2 1 1 1 1 1 3 1 1 1 1 1 1 1 1 2 3 5 1 1 2 1 1 2 2 1 3 2 2 1 2 2 1 1 1 3 1 4 1 2 1 1 2 3 2 2 2 3 1 1 4 1 1 1 3 1 1 1 1 1 1 4 3 2 1 5 1 3 2 5 1 3 1 1 1 7 1 1 4 3 2 1 2 2 2 1 1 3 2 1 1 2 2 1 1 3 1 1 1 1 1 1 2 1 1 1 1 1 2 2 1 2 1 2 1 1 2 1 3 1 1 1 4 7 2 1 1 2 3 1 1 6 1 2 3 1 1 1 1 1 3 1 1 5 5 1 1 1 1 6 1 4 1 1 1 2 2 3 2 4 1 1 1 1 1 7 1 1 2 2 1 3 1 1 2 3 1 1 2 6 1 5 1 1 2 4 2 3 1 1 2 1 6 3 4 10 2 3 2 2 1 1 3 2 1 5 1 2 1 1 1 3 2 1 1 2 3 4 2 7 1 2 3 3 2 1 2 1 1 3 3 2 2 3 2 1 2 2 2 1 3 5 1 1 1 4 4 4 1 1 1 3 6 5 2 5 1 4 5 1 2 2 1 3 2 1 1 1 1 1 1 2 1 1 3 1 1 3 2 1 2 3 2 1 2 1 1 1 1 2 1 2 1 2 1 1 1 3 1 4 1 7 1 1 1 2 1 4 1 2 1 2 1 1 1 7 1 1 2 7 1 3 1 1 2 4 3 4 1 5 1 1 1 3 1 1 4 4 1 3 4 7 2 3 3 3 1 3 1 5 1 4 1 1 2 9 1 1 3 4 2 1 1 1 2 2 1 1 2 2 1 5 3 1 1 2 1 1 1 14 3 5 2 1 2 3 2 2 1 2 2 1 1 2 1 2 1 2 1 3 2 1 2 1 1 1 1 4 1 3 1 4 1 1 4 2 2 4 1 2 1 1 1 1 1 10 4 3 3 4 1 5 1 1 1 3 3 3 1 1 2 5 1 1 1 1 1 5 1 1 1 1 1 2 1 2 1 2 2 1 1 1 1 1 1 1 1 4 2 2 1 1 1 3 1 1 2 1 1 2 1 2 1 1 4 2 1 2 3 1 6 1 1 1 2 5 5 4 2 1 2 4 2 2 1 1 1 5 1 5 1 2 1 2 4 2 1 2 1 1 3 4 2 1 1 1 3 1 7 1 1 1 4 5 1 4 2 3 3 1 2 2 4 1 1 1 1 2 2 1 2 10 1 1 1 9 1 1 1 3 2 1 1 3 3 1 1 1 1 1 1 2 1 2 1 4 1 1 1 3 3 2 1 1 1 2 1 3 1 2 1 6 2 1 1 3 3 1 4 1 1 3 1 6 1 3 2 1 2 1 1 4 1 5 2 3 4 3 2 4 1 8 1 1 1 10 2 1 1 5 2 1 1 2 3 4 1 1 2 1 1 1 2 1 1 2 1 7 2 2 3 1 2 5 1 5 1 1 2 2 2 2 1 2 2 1 1 1 1 1 2 1 2 3 2 5 2 1 1 4 1 5 2 4 1 3 1 1 3 1 1 2 1 1 2 1 1 1 3 1 2 5 1 6 1 6 1 2 1 1 3 1 4 3 2 1 3 1 1 1 2 8 2 3 2 2 7 2 1 2 2 1 1 4 2 2 1 1 2 2 4 2 1 2 1 4 1 7 1 4 1 1 2 1 1 2 2 2 2 1 1 4 1 2 1 6 1 1 4 6 1 4 2 6 1 1 4 1 1 1 1 1 1 1 1 2 1 1 2 1 1 1 1 1 2 1 1 3 1 2 2 4 2 2 1 2 2 2 5 1 3 2 1 2 1 6 1 1 4 3 1 1 2 2 1 1 1 1 3 1 1 3 1 2 3 1 2 1 1 1 1 2 1 1 2 3 1 3 1 7 1 5 1 2 2 3 1 8 1 2 1 1 1 2 1 4 1 3 4 4 2 1 1 6 2 14"/>
<use href="#s5" stroke="#0000ed" stroke-dashoffset="-2" stroke-dasharray="2 12 1 59 2 89 1 26 1 29 1 10 1 49 1 10 1 56 1 2 1 2 1 2 1 43 1 15 1 20 2 20 1 38 1 11 1 1 1 5 1 1 1 8 1 2 1 38 1 15 1 42 1 1 1 17 1 60 1 45 1 36 2 33 1 20 1 28 1 6 2 14 1 17 1 1 1 24 1 4 1 12 1 3 1 1 1 31 1 7 1 8 1 2 1 1 1 23 1 1 1 11 1 4 1 7 1 26 1 2 1 2 1 12 1 4 1 15 1 2 1 5 1 7 1 23 1 2 1 7 1 28 1 19 2 3 1 4 1 25 1 1 1 31 1 4 1 8 1 6 1 6 1 4 1 1 1 5 1 11 1 9 1 8 1 4 1 5 1 7 1 3 1 2 1 23 1 14 1 38 1 2 1 22 1 3 1 7 1 1 1 7 1 6 1 8 1 9 1 12 1 7 1 1 2 3 1 56 1 17 1 27 1 9 1 5 1 6 1 2 1 10 1 7 2 9 1 13 1 16 2 15 1 3 1 10 1 15 1 2 1 3 1 9 1 12 1 39 1 12 1 13 1 1 1 5 1 30 1 6 1 27 1 34 1 16 1 9 1 5 1 4 1 18 1 5 1 25 1 12 1 22 1 24 1 9 1 28 2 8 1 21 1 18 1 18 1 5 2 10 1 15 1 2 1 21 1 16 1 11 1 11 1 4 1 7 1 7 1 5 1 7 1 13 1 13 1 5 1 19 1 13 1 35 2 23 1 9 1 17 1 5 1 19 1 5 1 18 2 16 1 11 1 2 2 3 1 48 1 16 1 13 1 19 1 3 1 17 1 1 1 10 1 31 1 9 1 5 1 9 1 5 1 3 1 15 1 32 1 13 1 5 1 18 1 9 1 1 1 12 1 4 1 5 1 29 1 7 1 10 1 3 1 3 1 28 1 5 1 1 1 4 1 3 1 9 1 1 1 2 1 8 1 3 1 18 1 1 1 6 2 2 1 23 1 56 1 1 1 3 1 47 1 11 1 4 1 6 1 16 1 12 1 25 1 13 1 16 1 6 1 13 1 13 1 4 1 1 1 16 1 39 1 5 1 5 3 15 1 5 1 15 1 16 1 1 1 10 1 7 1 18 1 6 1 14 1 24 1 25 1 2 1 4 1 12 1 10 1 5 1 7 1 7 1 13 1 15 1 23 1 4 1 1 1 33 1 5 1 11 2 20 1 18 1 13 1 18 2 8 1 14 1 8 1 7 1 24 1 13 2 27 1 10 1 21 1 13 1 10 1 2 1 14 2 7 1 24 1 9 1 9 1 5 1 3 1 24 1 7 1 7 2 6 1 1 1 6 1 12 1 4 1 7 1 53 1 24 1 22 1 8 1 14 1 2 1 3 1 36 1 20 1 3 1 2 1 19 1 6 1 19 1 1 1 11 2 16 1 18 1 11 1 15 1 7 1 4 1 6 1 9 1 2 1 5 1 2 2 10 1 12 1 16 1 3 1 17 2 6 1 16 1 2 1 9 1 14 1 5 1 2 1 3 1 3 1 4 1 8 1 10 1 12 1 3 1 7 1 7 1 14 1 8 1 3 1 7 1 10 1 14 2 6 1 31 1 13 1 1 1 31 1 13 1 7 1 9 1 6 1 4 1 10 1 10 1 7 1 3 1 7 2 14 1 15 1 3 1 23 1 13 1 1 1 1 1 5 4 23 1 9 1 21 2 14 1 5 1 7 1 7 1 12 1 23 1 7 1 44 1 6 1 4 1 9 1 8 1 7 1 30 1 7 2 5 1 1 1 7 1 7 1 50 1 11 1 28 1 1 1 5 2 7 2 4 1 1 1 1 1 20 1 11 1 4 1 5 1 3 1 7 1 3 1 13 1 20 1 22 1 3 1 31 1 3 1 10 2 2 3 9 1 2 2 12 1 1 1 1 1 8 1 7 1 9 1 4 1 18 1 58 1 3 1 29 1 9 1 1 1 6 2 17 1 10 1 16 1 66 1 7 1 2 1 17 1 49 1 27 1 34 1 18 1 3 1 10 1 7 1 12 1 13 1 16 1 36 1 4 1 2 2 61 1 38 1 9 1 44 2 15 1 2 1 13 1 5 1 39 1 14 1 3 1 27 1 14 1 5 1 3 1 6 1 37 1 3 1 28 1 3 1 21 2 2 1 1 1 13 1 17 1 4 1 2 1 5 1 5 1 13 1 20 1 1 1 8 1 4 1 20 1 44 1 11 1 14 1 21 2 13 1 27 1 3 1 8 1 71 1 5 1 1 1 4 1 7 1 8 1 14 1 32 1 10 1 3 1 4 1 1 1 17 1 31 1 25 1 10 1 14 1 10 1 2 1 5 1 5 1 8 1 5 1 3 1 1 1 12 2 10 1 57 1 17 1 7 1 2 1 10 1 22 1 15 2 7 1 8 1 2 1 1 1 6 2 3 1 7 1 6 1 47 1 16 1 8 1 2 1 20 1 17 1 57 1 4 1 24 1 18 1 38 1 26 1 3 1 4 1 5 1 5 1 12 1 25 1 8 1 4 1 26 2 1 1 4 1 29 1 18 1 21 1 4 1 27 1 9 1 10 2 25 1 15 1 4 1 8 1 1 1 4 1 4 1 17 1 3 1 19 1 12 1 4 1 13 1 7 2 2 1 24 2 14 1 16 1 20 1 13 1 8 1 3 1 5 1 1 1 1 1 10 1 9 1 8 1 6 3 2 1 8 2 40 1 23 1 21 1 4 1 2 2 17 1 3 1 37 1 3 1 6 1 15 1 24 1 11 1 15 1 26 1 26 1 1 1 14 1 9 1 14 1 9 1 11 1 4 1 6 1 12 1 1 1 2 1 20 1 5 1 35 1 2 1 5 1 2 3 8 1 6 1 3 1 5 1 10 1 5 2 1 2 3 1 3 2 3 1 22 2 5 1 5 1 29 1 1 1 3 1 9 1 5 1 1 1 2 1 24 1 11 1 9 1 2 1 13 1 42 1 10 2 20 1 4 1 66 1 1 1 10 1 6 1 4 1 1 1 3 1 18 1 2 1 13 1 3 1 18 1 22 1 42 1 2 2 11 1 10 1 4 1 2 1 2 1 1 1 7 1 4 1 4 1 47 1 23 1 6 1 16 1 18 1 3 1 6 1 6 1 10 1 2 2 3 1 16 1 8 1 58 1 1 1 8 1 13 1 13 1 8 1 14 1 1 1 3 1 13 1 7 1 14 1 1 1 4 1 19 1 10 2 6 1 16 1 32 1 6 1 7 1 4 1 4 1 20 1 9 1 14 1 1 1 9 1 13 1 3 1 14 1 4 1 9 1 4 1 11 1 6 2 10 1 11 1 7 1 4 1 1 1 3 1 6 2 41 1 3 1 3 1 7 1 10 1 13 1 5 1 2 1 1 1 24 1 2 1 1 1 25 1 7 1 3 1 3 1 28 2 12 1 10 1 14 1 3 1 3 1 8 1 6 1 7 3 8 1 14 1 4 1 14 1 3 1 9 2 2 1 9 1 1 1 33 1 5 1 5 1 11 2 2 1 7 1 14 1 8 1 5 1 17 1 1 1 23 1 17 1 4 1 11 1 10 3 18 2 1 1 5 1 4 1 3 1 3 1 3 1 19 1 4 1 11 1 17 1 11 1 4 1 6 1 12 1 11 1 4 1 8 1 11 2 6 2 6 1 3 1 16 1 9 1 1 1 31 1 8 1 8 1 1 1 3 1 8 1 14 2 10 1 11 1 5 1 9 1 16 1 14 1 11 1 8 1 1 2 21 1 25 1 59 1 4 1 7 1 7 1 11 1 13 1 10 2 22 1 45 1 23 1 21 1 30 1 26 1 7 1 4 1 18 1 31 1 2 1 1 1 16 1 2 1 20 1 1 1 3 1 4 1 3 1 3 1 17 1 4 2 4 1 17 1 5 1 8 1 7 1 1 1 14 1 16 1 1 1 19 1 4 1 19 1 14 1 30 1 11 1 10 1 32 1 25 2 22 1 3 1 4 1 10 1 3 1 18 1 34 4 6 1 8 1 1 1 23 1 1 1 5 1 7 1 2 1 12 1 11 1 9 1 2 1 2 2 15 1 4 2 4 1 4 1 10 1 4 1 2 1 4 1 1 1 1 1 3 1 3 1 7 1 3 2 5 1 7 1 10 1 26 1 33 1 8 1 2 1 5 2 3 1 35 1 10 1 2 1 21 1 1 1 3 1 14 1 13 1 7 1 3 2 1 1 2 1 3 1 14 1 5 1 35 1 5 1 29 1 4 1 5 1 13 1 37 1 18 1 12 1 7 1 6 1 3 1 6 2 3 1 3 1 3 1 6 1 17 1 5 1 8 1 3 2 3 1 2 1 3 1 4 1 1 2 19 1 12 1 43 1 54 1 47 1 2 2 11 1 2 1 2 1 1 1 28 1 8 2 5 1 50 1 9 1 27 1 4 2 67 1 13 2 10 1 6 2 3 1 1 1 6 1 10 1 7 1 3 1 15 1 4 1 5 2 10 1 8 1 1 1 3 1 26 1 14 1 8 1 16 1 4 2 27 1 9 1 68 1 8 1 2 1 10 3 11 1 29 1 10 1 65 1 11 1 9 1 11 1 15 1 17 1 4 1 3 1 10 1 7 1 2 1 11 1 34 1 12 1 3 1 8 1 1 1 7 1 19 1 9 1 7 1 15 1 81 1 10 1 6 1 21 1 30 1 1 1 32 1 9 1 21 1 25 1 10 1 34 1 15 1 10 1 18 1 5 1 36 1 11 1 1 3 4 1 7 1 3 1 14 1 3 1 6 1 4 4 12 1 8 1 26 1 43 1 8 1 4 1 29 1 10 1 9 1 15 1 9 2 52 1 9 1 2 1 7 1 12 1 11 1 2 1 11 1 7 1 2 1 15 1 27 1 12 1 41 1 8 1 2 1 12 1 11 2 19 4 1 1 13 1 17 1 13 1 1 5 5 1 12 1 10 1 1 1 9 2 1 1 2 1 24 1 6 1 7 1 10 1 59 1 7 1 11 1 14 1 11 1 5 1 2 1 10 1 11 2 7 1 4 1 40 1 4 1 17 1 30 1 26 1 1 1 14 1 16 1 12 1 12 1 13 1 9 1 4 4 17 1 20 1 14 6 1 1 20 1 18 1 9 1 32 1 1 1 11 1 14 1 30 1 12 1 4 1 4 1 15 1 14 2 21 1 25 1 9 2 1 1 12 1 3 3 11 1 7 1 3 1 8 1 45 1 24 1 6 1 27 1 5 2 8 1 5 1 8 2 2 8 1 1 14 1 6 1 1 1 13 1 18 1 1 9 1 2 18 1 2 1 1 1 9 1 25 1 4 1 12 1 27 1 9 1 4 2 10 1 9 1 1 1 1 1 3 1 3 1 10 1 1 2 2 1 4 1 11 1 1 1 3 1 48 2 13 1 4 1 2 1 1 2 3 1 6 1 7 1 1 1 11 1 1 1 8 2 1 1 29 1 12 1 41 1 11 1 2 1 5 1 1 1 1 1 1 2 2 13 1 1 20 1 2 1 3 1 9 1 1 1 26 2 1 15 1 2 1 10 1 1 7 1 5 1 5 1 2 1 2 3 4 1 9 1 8 1 6 1 4 1 5 1 6 1 14 1 1 1 3 1 7 1 5 1 24 1 4 1 1 1 9 1 11 2 13 1 21 1 1 1 2 1 4 1 3 1 23 1 31 2 5 1 3 1 6 1 2 1 19 1 1 1 1 1 8 1 6 1 1 2 5 2 8 1 3 7 2 1 5 2 2 1 1 1 1 2 3 2 1 10 1 2 1 11 1 1 23 1 10 1 8 2 1 1 8 1 29 1 2 2 1 1 5 2 5 2 1 1 2 1 1 2 1 1 1 1 2 2 9 3 1 2 12 1 7 1 2 1 14 1 1 1 1 1 22 1 6 1 2 1 1 2 3 2 20 1 10 1 27 1 4 1 2 1 1 1 14 1 6 1 42 1 3 1 21 1 3 1 5 1 14 1 16 1 2 1 1 1 17 1 18 1 2 1 6 1 9 1 4 1 1 1 19 1 6 1 30 1 6 1 7 1 9 1 12 1 21 1 6 1 12 1 6 1 9 1 13 1 32 1 1 1 19 1 11 2 1 1 29 1 5 1 25 1 4 1 10 1 2 1 2 1 1 1 9 1 1 1 5 1 41 1 4 3 24 1 5 1 30 1 13 1 22 1 13 1 6 1 48 1 2 1 4 1 4 1 2 1 2 1 6 1 20 1 13 1 4 1 22 1 16 1 2 1 25 1 17 1 7 1 3 1 1 1 15 1 8 1 4 2 5 1 24 1 1 1 2 1 8 1 6 1 2 2 2 1 4 3 3 1 7 1 25 1 14 2 1 1 4 1 2 1 3 1 15 1 3 2 14 2 14 2 4 1 8 1 17 1 3 1 25 1 57 1 10 1 2 1 5 1 7 1 9 2 15 1 31 1 6 1 9 1 47 2 26 1 2 1 9 1 28 1 7 2 14 1 8 1 26 1 2 1 11 1 25 1 37 1 23 1 8 1 9 1 21 1 9 1 20 1 5 1 53 1 15 1 27 1 15 1 27 1 30 1 1 1 9 1 4 1 50 1 44 1 7 1 1 1 1 1 17 1 3 1 31 1 8 1 11 1 55 1 8 1 9 1 4 1 32 1 6 1 50 1 2 1 1 1 6 1 2 1 6 1 9 1 3 1 25 1 13 1 15 1 31 1 7 1 3 1 5 1 3 1 9 1 18 1 33 1 3 1 3 1 8 2 4 1 1 1 15 1 4 1 18 1 28 1 8 1 68 1 3 1 30 1 18 1 10 1 11 1 4 1 8 2 3 1 3 1 6 1 9 1 20 1 28 1 3 1 1 1 4 1 2 1 29 1 5 1 14 2 5 1 2 1 3 1 1 1 21 3 27 1 12 1 15 1 13 1 10 1 22 1 68 1 55 1 70 1 21 1 15 1 21 1 25 1 4 1 7 1 1 1 9 1 5 1 10 1 16 1 5 1 4 1 9 3 11 2 8 1 2 1 3 1 5 1 23 1 3 1 5 1 9 1 19 1 20 1 59 1 55 1 6 2 6 1 7 1 2 1 12 1 14 2 6 1 33 1 18 1 2 1 15 1 31 1 5 1 23 1 2 1 23 1 2 1 6 1 10 1 12 1 9 1 1 1 1 1 1 1 2 1 4 1 2 1 1 1 12 2 7 1 4 1 1 1 1 1 7 1 32 1 2 1 32 1 15 1 1 1 2 1 2 1 31 1 10 1 4 1 34 1 15 1 8 1 1 2 26 1 2 1 4 1 12 2 17 2 7 1 39 1 34 1 5 1 49 1 31 1 9 1 2 1 9 1 45 1 12 1 9 1 23 2 3 1 2 1 36 1 18 1 14 1 11 1 7 1 5 2 8 1 6 1 24 2 14 1 16 1 21 1 1 1 20 2 8 1 3 1 15 1 4 1 15 2 13 1 1 1 1 1 10 1 11 1 33 1 3 1 2 1 2 2 17 1 46 3 10 1 3 1 30 1 4 1 7 1 10 1 3 1 5 1 17 1 3 1 8 2 2 1 52 1 10 1 1 1 1 1 2 1 2 1 6 2 26 1 16 1 7 1 6 1 13 1 1 1 37 1 14 1 16 1 27 1 12 1 3 2 6 1 40 1 2 1 14 1 13 2 22 1 17 1 4 1 2 1 30 2 3 1 13 3 7 1 21 1 11 1 7 2 16 1 4 2 4 1 2 1 7 1 19 1 30 1 6 1 13 1 13 1 7 1 5 1 2 2 14 1 51 1 14 1 7 1 1 1 1 1 39 2 19 1 10 1 1 1 17 1 7 1 7 2 21 2 19 1 7 1 23 1 15 1 10 1 4 1 1 1 13 1 7 1 23 1 26 1 3 1 3 1 8 1 3 1 3 1 10 1 8 1 11 1 4 1 1 1 20 1 7 1 20 1 10 1 1 1 1 1 6 2 5 1 21 1 22 1 2 1 16 1 4 1 15 1 12 2 19 1 7 1 18 1 3 1 9 1 6 1 2 1 5 1 5 1 12 1 7 1 4 1 3 1 21 1 4 1 2 1 20 1 3 1 8 1 15 1 13 1 4 1 3 1 9 1 10 1 20 1 5 1 5 1 16 2 13 1 6 1 11 1 5 2 2 1 2 1 10 1 6 1 4 1 34 1 8 1 25 1 1 1 19 1 3 1 7 1 3 1 13 1 4 1 2 1 1 1 23 1 2 1 21 1 18 1 4 1 6 1 10 1 2 1 1 2 14 1 7 2 6 1 9 1 23 1 4 1 10 1 4 2 1 1 12 1 7 1 1 1 4 1 3 1 4 1 12 1 7 1 4 3 2 1 2 2 15 2 4 1 42 1 13 1 13 1 1 1 19 1 4 1 6 1 5 1 14 1 24 1 5 1 13 1 6 1 4 2 3 1 47 1 12 1 13 1 30 1 14 1 4 1 12 1 1 2 16 1 52 1 21 1 6 2 6 1 1 1 3 2 4 2 5 2 6 1 20 2 11 1 2 1 1 1 8 2 6 1 11 1 9 1 26 1 36 1 5 1 19 1 21 1 22 2 27 1 16 1 17 1 3 1 7 1 4 1 27 2 22 1 8 1 3 1 8 2 7 1 16 1 25 1 10 1 36 1 1 1 9 1 16 1 16 1 28 1 16 1 27 1 14 1 2 2 10 2 18 1 42 1 17 1 6 1 3 2 3 1 26 2 33 1 25 1 2 1 4 1 26 1 14 1 20 1 6 1 86 1 4 2 2 1 7 1 3 1 30 1 16 1 2 1 21 1 19 1 2 1 34 1 8 1 4 1 42 1 2 1 11 1 19 1 8 1 4 1 1 1 20 1 7 1 33 1 3 2 2 1 6 1 11 1 10 1 9 1 58 1 2 1 5 1 4 1 3 1 15 2 13 1 16 1 18 1 11 1 22 1 15 2 3 1 9 2 7 1 37 2 12 1 1 1 15 1 21 1 4 1 11 1 11 1 2 1 30 3 1 1 12 1 14 1 5 1 7 1 6 1 23 2 15 1 15 1 13 1 1 1 19 1 24 1 17 1 14 1 32 1 2 1 6 1 25 1 14 1 11 1 12 1 13 1 15 1 1 1 2 1 7 4 45 2 1 1 3 1 3 1 4 1 7 2 6 1 8 1 44 1 25 1 13 1 32 1 4 1 4 1 24 1 8 1 8 2 3 1 9 1 5 1 1 1 13 2 13 1 1 1 7 1 6 2 16 1 7 1 9 1 32 1 20 1 9 1 1 2 4 1 28 1 16 1 9 1 3 4 2 1 13 1 1 1 2 1 3 1 12 1 2 1 12 1 9 1 2 1 3 1 2 1 12 1 2 1 4 2 3 1 10 1 5 1 9 1 10 1 13 1 3 1 4 2 1 1 9 1 49 1 3 1 23 1 11 1 33 1 1 1 10 1 4 1 3 1 25 1 7 1 4 1 15 1 5 1 4 1 1 1 1 1 8 2 37 1 6 1 16 1 13 1 9 1 7 1 8 1 5 1 10 1 6 1 2 1 1 1 11 1 5 1 10 2 2 1 8 2 16 1 2 1 20 1 10 1 14 1 7 1 8 4 28 1 6 1 14 1 7 1 6 1 8 1 10 1 12 1 43 1 10 1 8 1 24 1 2 1 4 1 1 1 20 1 15 2 30 2 1 1 3 2 5 1 3 1 3 1 12 2 29 1 28 1 6 1 31 1 5 1 6 1 6 1 13 2 4 2 30 1 20 1 9 1 5 1 5 1 6 1 30 1 12 1 7 1 3 2 1 1 2 2 1 1 15 1 15 2 14 2 13 1 6 4 6 1 8 1 23 1 15 1 9 1 24 2 20 1 2 1 12 1 7 2 24 1 20 1 9 1 6 1 5 1 10 1 25 1 5 1 6 1 6 1 5 1 2 1 2 1 4 1 20 1 2 1 8 1 3 1 2 1 12 1 25 1 16 1 16 1 12 1 7 1 46 1 9 1 13 1 3 1 2 1 29 1 6 1 7 1 5 1 11 1 13 1 6 1 29 1 2 1 4 2 11 1 58 1 5 1 1 1 27 1 42 2 18 1 11 1 20 1 3 1 19 1 2 2 7 1 13 1 8 1 39 1 8 1 3 1 45 1 22 1 5 2 1 1 2 1 32 1 6 1 39 1 6 1 9 1 25 2 3 2 2 1 2 1 1 1 1 1 57 1 3 1 3 1 8 1 6 1 32 1 8 1 13 1 1 2 2 1 2 1 2 1 15 1 7 1 15 3 25 1 1 1 5 1 55 1 23 1 24 1 26 1 3 1 1 1 1 1 1 1 6 1 47 1 9 1 19 1 9 1 4 1 4 1 26 1 10 1 6 1 1 1 3 1 21 1 28 1 5 1 15 1 27 1 4 1 6 1 14 1 4 1 6 1 4 1 17 1 7 2 1 1 2 1 6 1 3 1 23 1 5 1 1 1 6 1 19 2 5 2 3 1 3 1 2 1 18 1 16 2 3 1 1 1 2 1 6 1 18 1 11 2 12 1 1 1 4 1 5 1 3 1 1 2 18 1 12 1 37 1 11 1 12 1 19 1 1 1 3 1 1 1 10 1 12 1 31 1 1 1 1 1 2 1 4 1 4 1 16 1 18 1 2 1 6 3 4 2 29 1 13 1 3 3 10 1 2 1 7 1 4 1 8 3 1 1 1 1 2 1 5 1 14 1 4 1 14 2 4 3 9 1 10 1 28 1 8 1 1 1 1 1 8 1 31 1 3 1 10 1 1 1 13 1 24 1 11 1 21 1 4 1 10 1 20 1 3 1 1 1 11 1 4 1 4 1 3 1 2 1 31 1 2 1 5 1 1 1 10 1 36 1 2 1 10 2 46 1 5 1 3 1 7 1 2 1 1 2 8 1 10 1 3 1 5 1 14 1 3 1 3 1 8 1 8 1 5 1 14 1 7 1 4 1 1 1 32 1 7 1 2 1 6 1 5 1 7 1 13 1 3 1 16 1 4 2 4 1 18 1 12 1 4 1 17 1 15 1 7 2 16 1 1 2 37 1 7 1 3 3 6 1 24 1 18 1 1 1 4 1 5 1 22 1 3 1 4 2 3 2 1 2 22 1 5 1 8 2 7 1 5 1 32 1 13 1 5 1 1 1 5 1 37 1 20 1 24 1 7 1 11 1 11 1 3 2 21 2 18 2 1 1 2 1 2 1 5 1 9 1 20 1 6 1 2 1 5 1 2 1 44 2 3 1 11 1 24 1 12 1 7 1 19 1 11 1 31 1 1 1 2 1 2 1 13 1 1 1 16 1 1 1 11 1 14 1 2 4 14 1 2 1 6 2 2 1 18 1 9 1 13 1 31 1 7 1 9 1 2 1 47 1 6 1 21 1 55 1 5 1 13 1 4 1 30 1 7 1 2 1 22 1 1 1 23 1 7 1 4 1 27 1 8 1 3 1 4 1 3 2 18 1 2 2 24 1 1 2 58 1 21 2 1 1 15 1 3 1 6 1 20 1 12 1 6 1 8 1 9 1 25 1 3 1 3 1 30 1 4 1 13 1 31"/>
<use href="#s5" stroke="#0017ff" stroke-dashoffset="-2" stroke-dasharray="1 13 1 177 1 309 1 13 1 5 1 13 1 117 1 143 1 107 1 19 1 42 1 54 1 30 1 16 1 7 1 29 1 173 1 54 1 55 1 5 1 14 1 77 1 29 1 7 1 16 1 46 1 128 1 43 1 17 1 49 1 229 1 5 1 23 1 5 1 25 1 150 1 24 1 27 1 78 1 35 1 39 1 128 1 58 1 52 1 143 1 127 1 5 1 249 1 439 1 20 1 10 1 5 1 69 1 99 1 13 1 52 1 47 1 74 1 62 1 9 1 15 1 3 1 41 1 6 1 26 1 61 1 71 1 43 1 20 1 26 1 6 1 106 1 24 1 5 1 2 1 24 1 91 1 8 1 45 1 55 1 26 1 6 1 157 1 150 1 15 1 5 1 7 1 136 1 45 1 126 1 42 1 10 1 113 1 29 1 68 1 112 1 254 1 288 1 93 1 3 1 48 1 211 1 166 1 256 1 45 1 5 1 20 1 122 1 262 1 87 1 41 1 5 1 87 1 215 1 156 1 12 1 5 1 41 1 100 1 4 1 63 1 79 1 70 1 9 1 36 1 4 1 51 1 44 1 3 2 8 1 27 1 5 1 3 1 3 1 101 1 36 1 9 1 2 1 161 1 24 1 1 1 22 1 105 1 47 1 4 1 123 1 6 1 21 1 20 1 115 1 20 1 139 1 7 1 4 1 4 1 20 1 26 1 23 1 18 1 50 1 84 1 36 1 74 1 84 1 54 1 18 1 23 1 47 1 23 1 158 1 111 1 13 1 19 1 144 1 47 1 23 1 112 1 7 1 68 1 91 1 143 1 23 1 10 1 25 1 10 1 23 1 8 1 134 1 11 1 43 1 49 1 19 1 57 1 44 1 43 1 32 1 15 1 10 1 12 1 7 1 11 1 4 1 103 1 82 1 46 1 18 1 5 1 76 1 5 1 91 1 10 1 11 1 7 1 30 1 8 1 22 1 180 1 18 1 110 1 116 1 22 1 8 1 38 1 22 1 10 1 105 1 9 1 91 1 197 1 33 1 47 1 22 1 29 1 178 1 182 1 57 2 47 3 49 1 260 1 98 1 57 4 33 1 15 5 315 1 59 1 86 4 54 5 1 1 82 1 59 1 54 1 57 1 19 1 105 1 70 5 1 1 60 6 2 1 157 1 16 1 72 1 18 1 4 1 33 1 13 1 96 1 10 1 1 1 1 1 4 12 1 1 69 15 1 2 1 2 3 2 1 2 1 1 7 1 11 1 5 1 43 1 35 1 5 1 29 1 23 1 14 1 21 1 1 1 68 1 41 1 27 1 14 4 15 1 1 2 4 1 1 2 1 2 2 3 1 2 1 11 1 1 23 1 19 1 44 2 1 1 6 1 11 1 2 1 3 1 13 2 16 1 65 1 3 1 68 1 1 1 21 1 68 1 44 1 1 1 61 1 59 1 6 1 59 1 29 1 46 1 134 1 54 1 30 1 67 1 13 1 68 1 75 1 108 1 30 1 72 1 81 2 61 1 68 1 140 1 27 1 74 1 41 1 63 1 42 1 156 1 15 1 60 1 9 1 434 1 15 1 133 2 22 1 130 1 81 1 90 1 59 1 456 1 10 1 51 1 16 1 33 1 198 1 145 1 53 1 40 1 1 1 1 1 12 1 1 1 12 1 17 1 7 1 32 1 53 1 88 1 143 1 135 1 9 1 100 1 55 1 34 1 47 1 87 1 70 1 45 1 123 1 177 1 47 1 37 1 77 1 211 1 42 2 109 1 99 1 1 1 93 1 59 1 31 1 15 1 15 1 1 1 45 1 88 1 22 1 204 1 3 1 31 1 93 1 131 1 21 1 25 1 69 1 129 1 4 1 162 1 20 1 179 1 26 1 51 1 193 1 12 1 59 1 8 1 56 1 136 1 51 1 136 1 111 1 198 1 34 1 28 1 31 1 14 1 20 1 145 1 171 1 33 1 22 1 46 1 135 1 797 1 13 1 32 1 9 1 279 1 5 1 93 1 291 1 87 1 43 1 71 1 23 1 43 1 76 1 10 1 109 1 1 1 82 1 21 1 117 1 19 2 61 1 18 1 51 1 3 1 57 1 22 1 276 1 57 1 155 1 119 1 156 1 101 1 48 1 8 1 124 1 39 1 6 1 40 1 6 1 78 1 48 1 16 1 32 1 16 1 176 1 6 1 142 1 106 1 69 2 11 1 3 1 70 1 3 1 38 1 16 1 44 1 1 1 16 1 115 1 7 1 10 1 48 1 12 1 114 1 2 1 12 1 10 1 114 1 59 1 40 1 137 1 168 1 28 1 23 1 22 1 57 1 5 1 191 1 7 1 37 1 25 1 38 1 36 1 78 1 64 1 84 1 277 1 82 1 92 1 155 1 95 1 62 1 22 1 25 1 84 1 49 1 12 1 51 1 89"/>
<use href="#s5" stroke="#004dff" stroke-dashoffset="-2" stroke-dasharray="1 191 1 323 1 137 1 251 1 488 1 153 1 517 1 212 1 131 1 1985 1 64 1 26 1 319 1 82 1 6 1 157 1 150 1 1263 1 97 1 757 1 473 1 47 1 460 1 12 1 5 1 41 1 372 1 100 2 36 1 5 1 3 1 344 1 176 1 4 1 123 1 186 1 152 1 4 1 47 1 23 1 18 1 387 1 18 1 23 1 47 1 23 1 449 1 47 1 213 1 259 1 47 1 473 1 47 1 120 1 148 1 203 1 38 1 8 1 333 1 116 1 22 1 47 1 22 1 218 1 231 1 47 1 472 2 47 2 468 4 49 5 375 1 86 4 54 5 144 1 112 1 196 5 1 1 60 6 2 1 427 1 3 1 7 2 1 6 1 1 69 13 1 1 1 2 1 1 5 1 1 1 2 1 69 1 41 1 161 1 41 1 27 1 15 1 19 1 5 1 1 2 2 1 2 2 2 2 1 1 1 6 1 1 2 1 89 1 8 1 14 1 17 1 17 1 400 1 6 1 942 1 1618 1 579 1 16 1 492 1 38 1 32 1 286 1 385 1 506 1 375 1 409 1 464 1 93 1 131 1 616 1 26 1 51 1 1033 1 385 1 239 1 1614 1 43 1 95 1 326 1 21 1 271 1 84 1 490 1 119 1 156 1 524 1 233 1 332 1 78 1 431 1 2 1 12 1 10 1 1081 1 855 1 85 1 173 1 141"/>
<use href="#s5" stroke="#008fff" stroke-dashoffset="-518" stroke-dasharray="1 1550 1 344 1 4916 1 473 1 47 1 473 1 47 1 473 1 569 1 473 1 47 1 449 1 23 1 47 1 23 1 449 1 47 1 213 1 259 1 47 1 473 1 47 1 473 1 47 1 450 1 22 1 47 1 473 1 47 1 472 2 47 2 468 4 49 5 462 4 54 5 454 5 63 5 442 2 1 4 73 12 4 2 12 1 385 1 8 1 3 1 2 1 1 6 1 1 2 1 89 1 23 1 3005 1 579 1 2137 1 409 1 5998 1 119 1 156 1 1170 1 458 1 1937 1 259 1 657"/>
<use href="#s5" stroke="#05dbf6" stroke-dashoffset="-7331" stroke-dasharray="1 473 1 47 1 473 1 47 1 473 1 569 1 473 1 47 1 473 1 47 1 473 1 47 1 473 1 47 1 473 1 47 1 473 1 47 1 473 1 47 1 473 1 520 2 47 2 468 4 49 4 463 4 54 5 454 5 63 4 444 1 1 2 1 1 74 1 2 2 1 2 1 1 5 1 419 1 1 1 5 1 3119 1 20702"/>
<use href="#s5" stroke="#3effb9" stroke-dashoffset="-9419" stroke-dasharray="1 473 1 47 1 473 1 47 1 473 1 47 1 473 1 47 1 473 1 47 1 473 1 569 1 473 1 520 2 48 1 469 3 49 4 463 4 54 4 455 1 1 1 1 1 64 2 450 1 81 1 429 1 25916"/>
<use href="#s5" stroke="#8cff6b" stroke-dashoffset="-9419" stroke-dasharray="1 473 1 47 1 473 1 47 1 473 1 47 1 473 1 47 1 473 1 47 1 473 1 1564 2 48 1 469 3 49 3 464 4 54 4 455 1 3 1 65 1 26879"/>
<use href="#s5" stroke="#e0f719" stroke-dashoffset="-9941" stroke-dasharray="1 473 1 1613 1 473 1 1564 2 48 1 469 3 49 3 464 4 54 4 459 1 65 1 27401"/>
<use href="#s5" stroke="#ffa100" stroke-dashoffset="-14068" stroke-dasharray="1 49 1 470 1 51 2 464 3 56 3 459 1 31594"/>
<use href="#s5" stroke="#f93000" stroke-dashoffset="-14068" stroke-dasharray="1 573 1 464 1 59 1 32055"/>
<use href="#s5" stroke="#ae0000" stroke-dashoffset="-14642" stroke-dasharray="1 464 1 59 1 32629"/>
</g>
<path d="M1275.4 863.2L1277.9 863.2L1280.5 863.2L1283.1 863.2L1285.6 863.2L1288.2 863.2L1290.7 863.2L1293.3 863.2L1295.8 863.2L1298.4 863.2L1301 863.2L1303.5 863.2L1306.1 863.2L1308.6 863.2L1311.2 863.2L1313.7 863.2L1316.3 863.2L1318.9 863.2L1321.4 863.2L1324 863.2L1326.5 863.2L1329.1 863.2L1331.6 863.2L1334.2 863.2L1336.8 863.2L1339.3 863.2L1341.9 863.2L1344.4 863.2L1347 861.8L1349.5 860.4L1350.8 859L1354.7 856.2L1357.2 853.3L1359.8 850.5L1362.3 847.7L1363.6 844.9L1364.9 842.1L1364.9 842.1L1364.9 839.3L1365.5 836.4L1366.2 830.8L1367.5 825.2L1367.5 819.5L1368.1 813.9L1368.1 813.9L1368.7 808.3L1368.7 802.6L1369 791.3L1369.4 780.1L1369.4 780.1L1369.7 768.8L1369.8 757.5L1370.2 735L1370.3 712.4L1370.3 712.4L1370.6 689.9L1371.1 667.3L1372.5 622.3L1372.8 577.2" fill="none" stroke="#f0f" stroke-opacity=".16" stroke-width="1.2"/>
<g fill="#f0f" stroke="#000" stroke-width=".7">
<circle cx="1275.4" cy="863.2" r="3.1" fill-opacity=".12" stroke-opacity=".12"/>
<circle cx="1277.9" cy="863.2" r="3.1" fill-opacity=".12" stroke-opacity=".12"/>
<circle cx="1280.5" cy="863.2" r="3.1" fill-opacity=".12" stroke-opacity=".12"/>
<circle cx="1283.1" cy="863.2" r="3.1" fill-opacity=".12" stroke-opacity=".12"/>
<circle cx="1285.6" cy="863.2" r="3.1" fill-opacity=".12" stroke-opacity=".12"/>
<circle cx="1288.2" cy="863.2" r="3.1" fill-opacity=".12" stroke-opacity=".12"/>
<circle cx="1290.7" cy="863.2" r="3.1" fill-opacity=".12" stroke-opacity=".12"/>
<circle cx="1293.3" cy="863.2" r="3.1" fill-opacity=".12" stroke-opacity=".12"/>
<circle cx="1295.8" cy="863.2" r="3.1" fill-opacity=".12" stroke-opacity=".12"/>
<circle cx="1298.4" cy="863.2" r="3.1" fill-opacity=".12" stroke-opacity=".12"/>
<circle cx="1301" cy="863.2" r="3.1" fill-opacity=".12" stroke-opacity=".12"/>
<circle cx="1303.5" cy="863.2" r="3.1" fill-opacity=".12" stroke-opacity=".12"/>
<circle cx="1306.1" cy="863.2" r="3.1" fill-opacity=".12" stroke-opacity=".12"/>
<circle cx="1308.6" cy="863.2" r="3.1" fill-opacity=".12" stroke-opacity=".12"/>
<circle cx="1311.2" cy="863.2" r="3.1" fill-opacity=".12" stroke-opacity=".12"/>
<circle cx="1313.7" cy="863.2" r="3.1" fill-opacity=".12" stroke-opacity=".12"/>
<circle cx="1316.3" cy="863.2" r="3.1" fill-opacity=".12" stroke-opacity=".12"/>
<circle cx="1318.9" cy="863.2" r="3.1" fill-opacity=".12" stroke-opacity=".12"/>
<circle cx="1321.4" cy="863.2" r="3.1" fill-opacity=".12" stroke-opacity=".12"/>
<circle cx="1324" cy="863.2" r="3.1" fill-opacity=".12" stroke-opacity=".12"/>
<circle cx="1326.5" cy="863.2" r="3.1" fill-opacity=".12" stroke-opacity=".12"/>
<circle cx="1329.1" cy="863.2" r="3.1" fill-opacity=".12" stroke-opacity=".12"/>
<circle cx="1331.6" cy="863.2" r="3.1" fill-opacity=".12" stroke-opacity=".12"/>
<circle cx="1334.2" cy="863.2" r="3.1" fill-opacity=".12" stroke-opacity=".12"/>
<circle cx="1336.8" cy="863.2" r="3.1" fill-opacity=".12" stroke-opacity=".12"/>
<circle cx="1339.3" cy="863.2" r="3.1" fill-opacity=".12" stroke-opacity=".12"/>
<circle cx="1341.9" cy="863.2" r="3.1" fill-opacity=".12" stroke-opacity=".12"/>
<circle cx="1344.4" cy="863.2" r="3.1" fill-opacity=".27" stroke-opacity=".27"/>
<circle cx="1347" cy="861.8" r="3.1" fill-opacity=".27" stroke-opacity=".27"/>
<circle cx="1349.5" cy="860.4" r="3.1" fill-opacity=".27" stroke-opacity=".27"/>
<circle cx="1350.8" cy="859" r="2.9" fill-opacity=".22" stroke-opacity=".22"/>
<circle cx="1354.7" cy="856.2" r="2.9" fill-opacity=".24" stroke-opacity=".24"/>
<circle cx="1357.2" cy="853.3" r="2.9" fill-opacity=".24" stroke-opacity=".24"/>
<circle cx="1359.8" cy="850.5" r="2.9" fill-opacity=".24" stroke-opacity=".24"/>
<circle cx="1362.3" cy="847.7" r="2.9" fill-opacity=".24" stroke-opacity=".24"/>
<circle cx="1363.6" cy="844.9" r="2.9" fill-opacity=".24" stroke-opacity=".24"/>
<circle cx="1364.9" cy="842.1" r="2.9" fill-opacity=".22" stroke-opacity=".22"/>
<circle cx="1364.9" cy="839.3" r="2.9" fill-opacity=".2" stroke-opacity=".2"/>
<circle cx="1364.9" cy="842.1" r="2.9" fill-opacity=".23" stroke-opacity=".23"/>
<circle cx="1365.5" cy="836.4" r="2.9" fill-opacity=".27" stroke-opacity=".27"/>
<circle cx="1366.2" cy="830.8" r="2.9" fill-opacity=".27" stroke-opacity=".27"/>
<circle cx="1367.5" cy="825.2" r="2.9" fill-opacity=".25" stroke-opacity=".25"/>
<circle cx="1367.5" cy="819.5" r="2.9" fill-opacity=".25" stroke-opacity=".25"/>
<circle cx="1368.1" cy="813.9" r="2.9" fill-opacity=".2" stroke-opacity=".2"/>
<circle cx="1368.7" cy="808.3" r="2.9" fill-opacity=".14" stroke-opacity=".14"/>
<circle cx="1368.1" cy="813.9" r="2.9" fill-opacity=".25" stroke-opacity=".25"/>
<circle cx="1368.7" cy="802.6" r="2.9" fill-opacity=".2" stroke-opacity=".2"/>
<circle cx="1369" cy="791.3" r="2.9" fill-opacity=".23" stroke-opacity=".23"/>
<circle cx="1369.4" cy="780.1" r="2.9" fill-opacity=".15" stroke-opacity=".15"/>
<circle cx="1369.7" cy="768.8" r="2.9" fill-opacity=".17" stroke-opacity=".17"/>
<circle cx="1369.4" cy="780.1" r="3" fill-opacity=".3" stroke-opacity=".3"/>
<circle cx="1369.8" cy="757.5" r="3" fill-opacity=".3" stroke-opacity=".3"/>
<circle cx="1370.2" cy="735" r="3" fill-opacity=".17" stroke-opacity=".17"/>
<circle cx="1370.3" cy="712.4" r="3" fill-opacity=".25" stroke-opacity=".25"/>
<circle cx="1370.6" cy="689.9" r="3" fill-opacity=".17" stroke-opacity=".17"/>
<circle cx="1370.3" cy="712.4" r="3.1" fill-opacity=".4" stroke-opacity=".4"/>
<circle cx="1371.1" cy="667.3" r="3.1" fill-opacity="1" stroke-opacity="1"/>
<circle cx="1372.5" cy="622.3" r="3.1" fill-opacity=".9" stroke-opacity=".9"/>
<circle cx="1372.8" cy="577.2" r="3.1" fill-opacity=".45" stroke-opacity=".45"/>
</g><g fill="#ff0" stroke="#000" stroke-width=".9">
<circle cx="1275.4" cy="863.2" r="6.4" fill-opacity=".32" stroke-opacity=".22"/>
<circle cx="1277.9" cy="863.2" r="6.4" fill-opacity=".32" stroke-opacity=".22"/>
<circle cx="1280.5" cy="863.2" r="6.4" fill-opacity=".32" stroke-opacity=".22"/>
<circle cx="1283.1" cy="863.2" r="6.4" fill-opacity=".32" stroke-opacity=".22"/>
<circle cx="1285.6" cy="863.2" r="6.4" fill-opacity=".32" stroke-opacity=".22"/>
<circle cx="1288.2" cy="863.2" r="6.4" fill-opacity=".32" stroke-opacity=".22"/>
<circle cx="1290.7" cy="863.2" r="6.4" fill-opacity=".32" stroke-opacity=".22"/>
<circle cx="1293.3" cy="863.2" r="6.4" fill-opacity=".32" stroke-opacity=".22"/>
<circle cx="1295.8" cy="863.2" r="6.4" fill-opacity=".32" stroke-opacity=".22"/>
<circle cx="1298.4" cy="863.2" r="6.4" fill-opacity=".32" stroke-opacity=".22"/>
<circle cx="1301" cy="863.2" r="6.4" fill-opacity=".32" stroke-opacity=".22"/>
<circle cx="1303.5" cy="863.2" r="6.4" fill-opacity=".32" stroke-opacity=".22"/>
<circle cx="1306.1" cy="863.2" r="6.4" fill-opacity=".32" stroke-opacity=".22"/>
<circle cx="1308.6" cy="863.2" r="6.4" fill-opacity=".32" stroke-opacity=".22"/>
<circle cx="1311.2" cy="863.2" r="6.4" fill-opacity=".32" stroke-opacity=".22"/>
<circle cx="1313.7" cy="863.2" r="6.4" fill-opacity=".32" stroke-opacity=".22"/>
<circle cx="1316.3" cy="863.2" r="6.4" fill-opacity=".32" stroke-opacity=".22"/>
<circle cx="1318.9" cy="863.2" r="6.4" fill-opacity=".32" stroke-opacity=".22"/>
<circle cx="1321.4" cy="863.2" r="6.4" fill-opacity=".32" stroke-opacity=".22"/>
<circle cx="1324" cy="863.2" r="6.4" fill-opacity=".32" stroke-opacity=".22"/>
<circle cx="1326.5" cy="863.2" r="6.4" fill-opacity=".32" stroke-opacity=".22"/>
<circle cx="1329.1" cy="863.2" r="6.4" fill-opacity=".32" stroke-opacity=".22"/>
<circle cx="1331.6" cy="863.2" r="6.4" fill-opacity=".32" stroke-opacity=".22"/>
<circle cx="1334.2" cy="863.2" r="6.4" fill-opacity=".32" stroke-opacity=".22"/>
<circle cx="1336.8" cy="863.2" r="6.4" fill-opacity=".32" stroke-opacity=".22"/>
<circle cx="1339.3" cy="863.2" r="6.4" fill-opacity=".32" stroke-opacity=".22"/>
<circle cx="1341.9" cy="863.2" r="6.4" fill-opacity=".32" stroke-opacity=".22"/>
<circle cx="1344.4" cy="863.2" r="7" fill-opacity=".7" stroke-opacity=".49"/>
<circle cx="1347" cy="861.8" r="7" fill-opacity=".7" stroke-opacity=".49"/>
<circle cx="1349.5" cy="860.4" r="7" fill-opacity=".7" stroke-opacity=".49"/>
</g>
</g>
<path d="M1257.5 893.5v-5.6 M1257.5 532.5v5.6 M1309.5 893.5v-5.6 M1309.5 532.5v5.6 M1360.5 893.5v-5.6 M1360.5 532.5v5.6 M1411.5 893.5v-5.6 M1411.5 532.5v5.6 M1462.5 893.5v-5.6 M1462.5 532.5v5.6 M1513.5 893.5v-5.6 M1513.5 532.5v5.6" stroke="#000" stroke-width=".8" fill="none"/>
<rect x="1206.5" y="532.5" width="328" height="361" fill="none" stroke="#000" stroke-width="1.39"/>
<text transform="translate(1370.01 525.07) scale(.99 1)" class="t">scale=256</text>
<text transform="translate(1206.35 912.8) scale(.975 1.06)">0</text>
<text transform="translate(1257.49 912.8) scale(.975 1.06)">5</text>
<text transform="translate(1308.63 912.8) scale(.975 1.06)">10</text>
<text transform="translate(1359.78 912.8) scale(.975 1.06)">15</text>
<text transform="translate(1410.92 912.8) scale(.975 1.06)">20</text>
<text transform="translate(1462.07 912.8) scale(.975 1.06)">25</text>
<text transform="translate(1513.21 912.8) scale(.975 1.06)">30</text>
<text transform="translate(1370.61 937.8) scale(1 1.06)">time (seconds)</text>
<rect x="1554.5" y="532.5" width="18" height="361" fill="url(#jet)"/>
<text transform="translate(1577.51 898) scale(.975 1.06)" class="s">0</text>
<text transform="translate(1577.51 856) scale(.975 1.06)" class="s">1</text>
<text transform="translate(1577.51 815) scale(.975 1.06)" class="s">2</text>
<text transform="translate(1577.51 773) scale(.975 1.06)" class="s">3</text>
<text transform="translate(1577.51 731) scale(.975 1.06)" class="s">4</text>
<text transform="translate(1577.51 690) scale(.975 1.06)" class="s">5</text>
<text transform="translate(1577.51 648) scale(.975 1.06)" class="s">6</text>
<text transform="translate(1577.51 607) scale(.975 1.06)" class="s">7</text>
<text transform="translate(1577.51 565) scale(.975 1.06)" class="s">8</text>
<path d="M1572.5 851.5h-6.2 M1572.5 809.5h-6.2 M1572.5 768.5h-6.2 M1572.5 726.5h-6.2 M1572.5 685.5h-6.2 M1572.5 643.5h-6.2 M1572.5 601.5h-6.2 M1572.5 560.5h-6.2" stroke="#000" stroke-width=".8" fill="none"/>
<rect x="1554.5" y="532.5" width="18" height="361" fill="none" stroke="#000" stroke-width="1.39"/>
</g>
</svg></body></html>
